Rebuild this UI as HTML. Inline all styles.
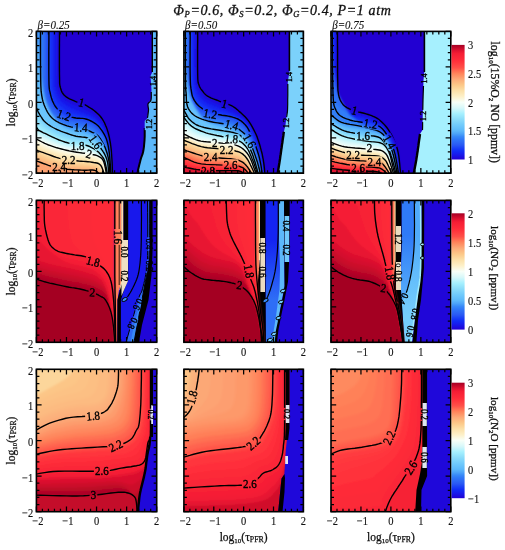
<!DOCTYPE html><html><head><meta charset="utf-8"><style>html,body{margin:0;padding:0;background:#fff;width:505px;height:550px;overflow:hidden}svg{display:block}text{font-family:"Liberation Serif",serif;fill:#111;stroke:#111;stroke-width:0.12px}</style></head><body><svg width="505" height="550" viewBox="0 0 505 550"><rect width="505" height="550" fill="#fff"/><defs><clipPath id="cp00"><rect x="36.4" y="31.4" width="120.30" height="141.80"/></clipPath><clipPath id="cp01"><rect x="183.9" y="31.4" width="119.50" height="141.80"/></clipPath><clipPath id="cp02"><rect x="331.0" y="31.4" width="119.80" height="141.80"/></clipPath><clipPath id="cp10"><rect x="36.4" y="200.4" width="120.30" height="141.90"/></clipPath><clipPath id="cp11"><rect x="183.9" y="200.4" width="119.50" height="141.90"/></clipPath><clipPath id="cp12"><rect x="331.0" y="200.4" width="119.80" height="141.90"/></clipPath><clipPath id="cp20"><rect x="36.4" y="369.3" width="120.30" height="142.40"/></clipPath><clipPath id="cp21"><rect x="183.9" y="369.3" width="119.50" height="142.40"/></clipPath><clipPath id="cp22"><rect x="331.0" y="369.3" width="119.80" height="142.40"/></clipPath><linearGradient id="cbg" x1="0" y1="1" x2="0" y2="0"><stop offset="0.000" stop-color="#2200d2"/><stop offset="0.025" stop-color="#1c0fe2"/><stop offset="0.050" stop-color="#161eef"/><stop offset="0.075" stop-color="#112df6"/><stop offset="0.100" stop-color="#1b42f6"/><stop offset="0.125" stop-color="#2958f4"/><stop offset="0.150" stop-color="#2d68f5"/><stop offset="0.175" stop-color="#2f77f7"/><stop offset="0.200" stop-color="#388af8"/><stop offset="0.225" stop-color="#4ca4f9"/><stop offset="0.250" stop-color="#5cb8fa"/><stop offset="0.275" stop-color="#66c1fb"/><stop offset="0.300" stop-color="#70cafc"/><stop offset="0.325" stop-color="#7dd3fb"/><stop offset="0.350" stop-color="#8bdcfa"/><stop offset="0.375" stop-color="#98e6fc"/><stop offset="0.400" stop-color="#a6f0fe"/><stop offset="0.425" stop-color="#bff4fc"/><stop offset="0.450" stop-color="#d8f8fa"/><stop offset="0.475" stop-color="#e8fcf9"/><stop offset="0.500" stop-color="#f8fff8"/><stop offset="0.525" stop-color="#faf8e0"/><stop offset="0.550" stop-color="#fdf0c8"/><stop offset="0.575" stop-color="#fce8b8"/><stop offset="0.600" stop-color="#fce0a8"/><stop offset="0.625" stop-color="#fcd498"/><stop offset="0.650" stop-color="#fcc888"/><stop offset="0.675" stop-color="#fcb980"/><stop offset="0.700" stop-color="#fcaa78"/><stop offset="0.725" stop-color="#fd9769"/><stop offset="0.750" stop-color="#ff845b"/><stop offset="0.775" stop-color="#ff6b51"/><stop offset="0.800" stop-color="#ff5048"/><stop offset="0.825" stop-color="#ff4242"/><stop offset="0.850" stop-color="#ff343c"/><stop offset="0.875" stop-color="#fd2a39"/><stop offset="0.900" stop-color="#f92437"/><stop offset="0.925" stop-color="#f51d34"/><stop offset="0.950" stop-color="#e01330"/><stop offset="0.975" stop-color="#c4092a"/><stop offset="1.000" stop-color="#a40024"/></linearGradient><filter id="bl00" x="-5%" y="-5%" width="110%" height="110%"><feGaussianBlur stdDeviation="1.2"/></filter><filter id="bl01" x="-5%" y="-5%" width="110%" height="110%"><feGaussianBlur stdDeviation="1.2"/></filter><filter id="bl02" x="-5%" y="-5%" width="110%" height="110%"><feGaussianBlur stdDeviation="1.2"/></filter><filter id="bl10" x="-5%" y="-5%" width="110%" height="110%"><feGaussianBlur stdDeviation="1.2"/></filter><filter id="bl11" x="-5%" y="-5%" width="110%" height="110%"><feGaussianBlur stdDeviation="1.2"/></filter><filter id="bl12" x="-5%" y="-5%" width="110%" height="110%"><feGaussianBlur stdDeviation="1.2"/></filter><filter id="bl20" x="-5%" y="-5%" width="110%" height="110%"><feGaussianBlur stdDeviation="1.2"/></filter><filter id="bl21" x="-5%" y="-5%" width="110%" height="110%"><feGaussianBlur stdDeviation="1.2"/></filter><filter id="bl22" x="-5%" y="-5%" width="110%" height="110%"><feGaussianBlur stdDeviation="1.2"/></filter></defs><g clip-path="url(#cp00)"><rect x="36.4" y="31.4" width="120.30" height="141.80" fill="#2200d2"/><g filter="url(#bl00)"><path d="M59.5 25.0L59.5 30.9 59.5 39.3 59.4 49.2 59.4 59.2 59.4 68.2 59.5 75.0 59.6 79.4 59.6 82.2 59.7 84.1 59.9 85.3 60.1 86.5 60.5 87.9 61.0 89.5 61.5 91.0 62.1 92.3 62.9 93.5 63.8 94.7 64.9 95.8 66.2 96.9 67.8 97.9 69.5 98.8 71.3 99.6 73.1 100.4 74.8 101.2 76.4 101.9 78.1 102.4 79.7 102.8 81.3 103.3 83.0 103.9 84.7 104.7 86.5 105.7 88.4 106.8 90.3 108.0 92.2 109.2 94.0 110.5 95.7 111.9 97.2 113.2 98.6 114.6 100.0 116.0 101.2 117.5 102.4 119.2 103.5 121.0 104.6 123.0 105.5 125.2 106.5 127.4 107.3 129.9 108.1 132.4 108.8 135.0 109.4 137.7 109.9 140.4 110.4 143.2 110.8 146.2 111.2 149.4 111.5 153.0 111.8 157.3 112.1 162.3 112.3 167.6 112.4 172.7 112.6 177.0 112.7 180.0 28.4 181.2 28.4 23.4Z" fill="#1f07da"/><path d="M56.9 25.0L56.8 27.3 56.8 29.6 56.8 31.9 56.8 34.2 56.8 36.5 56.8 38.8 56.8 41.1 56.8 43.4 56.8 45.7 56.8 48.0 56.8 50.3 56.8 52.6 56.8 54.9 56.8 57.2 56.8 59.5 56.8 61.8 56.8 64.1 56.8 66.4 56.8 68.7 56.8 71.0 56.8 73.3 56.8 75.6 56.9 77.9 56.9 80.2 57.0 82.5 57.1 84.8 57.4 87.1 58.0 89.3 58.6 91.5 59.5 93.6 60.7 95.5 62.1 97.3 63.7 98.8 65.5 100.2 67.3 101.4 69.3 102.6 71.3 103.7 73.3 104.7 75.4 105.5 77.5 106.3 79.7 107.2 81.7 108.2 83.8 109.2 85.9 110.2 87.9 111.2 89.8 112.2 91.8 113.3 93.6 114.5 95.5 115.8 97.2 117.2 98.8 118.8 100.3 120.5 101.6 122.2 102.8 124.1 104.0 126.1 105.0 128.1 105.9 130.2 106.7 132.3 107.5 134.5 108.2 136.6 108.8 138.9 109.3 141.1 109.7 143.3 110.1 145.6 110.4 147.9 110.6 150.2 110.9 152.5 111.1 154.7 111.3 157.0 111.4 159.3 111.5 161.6 111.7 163.9 111.8 166.2 111.9 168.5 112.0 170.8 112.0 173.1 112.1 175.4 112.2 177.7 112.3 180.0 28.4 181.2 28.4 23.4Z" fill="#1916ea"/><path d="M54.2 25.0L54.2 27.3 54.2 29.7 54.2 32.0 54.2 34.3 54.2 36.6 54.2 39.0 54.2 41.3 54.1 43.6 54.1 45.9 54.1 48.3 54.1 50.6 54.1 52.9 54.1 55.2 54.1 57.6 54.1 59.9 54.1 62.2 54.1 64.6 54.1 66.9 54.1 69.2 54.1 71.5 54.2 73.9 54.2 76.2 54.2 78.5 54.3 80.8 54.3 83.2 54.4 85.5 54.7 87.8 55.3 90.1 55.9 92.3 56.7 94.5 57.7 96.5 58.9 98.4 60.3 100.2 61.8 101.8 63.5 103.3 65.3 104.7 67.2 106.0 69.2 107.1 71.2 108.2 73.3 109.2 75.4 110.1 77.5 111.0 79.7 111.8 81.8 112.6 84.0 113.5 86.1 114.2 88.1 115.0 90.2 115.8 92.2 116.8 94.1 118.0 95.9 119.4 97.6 120.8 99.2 122.4 100.6 124.1 102.0 126.0 103.2 127.9 104.3 129.9 105.3 132.0 106.2 134.1 107.0 136.3 107.8 138.4 108.4 140.7 108.9 142.9 109.3 145.2 109.7 147.5 110.0 149.8 110.3 152.1 110.5 154.5 110.7 156.8 110.9 159.1 111.0 161.4 111.2 163.7 111.3 166.1 111.4 168.4 111.5 170.7 111.6 173.0 111.7 175.4 111.8 177.7 112.0 180.0 28.4 181.2 28.4 23.4Z" fill="#1426f3"/><path d="M51.5 25.0L51.5 27.4 51.5 29.7 51.5 32.1 51.5 34.4 51.5 36.8 51.5 39.1 51.5 41.5 51.5 43.8 51.5 46.2 51.5 48.5 51.5 50.9 51.5 53.2 51.5 55.6 51.5 58.0 51.5 60.3 51.5 62.7 51.5 65.0 51.5 67.4 51.5 69.7 51.5 72.1 51.5 74.4 51.5 76.8 51.6 79.1 51.6 81.5 51.7 83.8 51.8 86.2 52.0 88.5 52.6 90.8 53.1 93.1 53.8 95.4 54.6 97.5 55.7 99.6 56.9 101.6 58.2 103.4 59.7 105.2 61.3 106.8 63.1 108.2 65.0 109.6 67.0 110.9 69.0 112.0 71.1 113.0 73.3 113.8 75.6 114.5 77.8 115.1 80.0 115.7 82.3 116.3 84.5 116.7 86.7 117.2 88.9 117.9 91.0 118.9 93.0 120.0 94.9 121.2 96.7 122.6 98.4 124.2 100.0 125.9 101.4 127.7 102.7 129.7 103.8 131.7 104.9 133.8 105.9 135.9 106.8 138.0 107.5 140.3 108.1 142.5 108.6 144.8 109.0 147.2 109.4 149.5 109.7 151.8 110.0 154.2 110.2 156.5 110.4 158.8 110.6 161.2 110.7 163.5 110.8 165.9 111.0 168.2 111.1 170.6 111.2 172.9 111.3 175.3 111.5 177.6 111.6 180.0 28.4 181.2 28.4 23.4Z" fill="#1437f7"/><path d="M48.9 25.0L48.9 31.5 48.9 40.8 48.8 51.7 48.8 62.7 48.8 72.6 48.9 80.0 49.0 84.6 49.2 87.6 49.4 89.4 49.6 90.5 49.9 91.6 50.2 93.0 50.6 94.8 51.0 96.4 51.4 97.9 51.9 99.3 52.4 100.7 53.0 102.0 53.6 103.3 54.2 104.5 54.9 105.7 55.6 106.8 56.5 107.9 57.5 109.0 58.7 110.2 60.0 111.4 61.4 112.5 62.9 113.6 64.5 114.7 66.0 115.5 67.6 116.2 69.2 116.7 70.9 117.1 72.6 117.4 74.3 117.7 76.0 118.0 77.6 118.2 79.3 118.3 80.9 118.4 82.5 118.4 84.2 118.6 85.8 119.0 87.5 119.5 89.2 120.2 90.9 121.0 92.6 121.8 94.2 122.8 95.7 123.8 97.1 124.9 98.3 126.1 99.5 127.4 100.6 128.8 101.6 130.2 102.6 131.7 103.5 133.2 104.4 134.7 105.2 136.2 105.9 137.8 106.6 139.6 107.2 141.6 107.7 143.7 108.2 145.9 108.6 148.3 109.0 150.9 109.4 153.6 109.7 156.7 110.0 160.4 110.3 164.7 110.6 169.3 110.8 173.7 111.0 177.4 111.2 180.0 28.4 181.2 28.4 23.4Z" fill="#224df5"/><path d="M46.8 25.0L46.8 27.4 46.8 29.8 46.8 32.2 46.8 34.6 46.8 37.0 46.8 39.4 46.8 41.8 46.8 44.2 46.8 46.6 46.7 49.0 46.7 51.3 46.7 53.7 46.7 56.1 46.7 58.5 46.7 60.9 46.7 63.3 46.7 65.7 46.8 68.1 46.8 70.5 46.8 72.9 46.8 75.3 46.8 77.7 46.9 80.1 46.9 82.5 47.0 84.9 47.1 87.3 47.3 89.7 47.8 92.0 48.2 94.3 48.7 96.7 49.4 99.0 50.2 101.2 51.1 103.4 52.2 105.6 53.4 107.6 54.9 109.5 56.4 111.3 58.1 113.0 60.0 114.5 61.9 115.9 64.0 117.0 66.2 117.9 68.5 118.6 70.8 119.2 73.1 119.7 75.5 120.1 77.9 120.3 80.2 120.6 82.6 121.1 84.9 121.7 87.1 122.4 89.4 123.3 91.5 124.3 93.5 125.5 95.4 126.9 97.2 128.5 98.8 130.1 100.4 131.9 101.9 133.7 103.2 135.7 104.3 137.8 105.3 139.9 106.1 142.2 106.8 144.4 107.5 146.7 108.0 149.1 108.4 151.4 108.8 153.8 109.2 156.1 109.5 158.5 109.8 160.9 110.0 163.3 110.1 165.7 110.3 168.0 110.4 170.4 110.6 172.8 110.7 175.2 110.8 177.6 111.0 180.0 28.4 181.2 28.4 23.4Z" fill="#2c60f4"/><path d="M44.7 25.0L44.7 27.4 44.7 29.8 44.7 32.2 44.7 34.6 44.7 37.0 44.7 39.5 44.7 41.9 44.7 44.3 44.7 46.7 44.7 49.1 44.7 51.5 44.7 53.9 44.7 56.3 44.7 58.7 44.7 61.1 44.7 63.5 44.7 66.0 44.7 68.4 44.7 70.8 44.7 73.2 44.7 75.6 44.8 78.0 44.8 80.4 44.9 82.8 44.9 85.2 45.1 87.6 45.2 90.0 45.6 92.4 46.1 94.8 46.6 97.1 47.2 99.5 47.9 101.7 48.8 104.0 49.9 106.1 51.0 108.2 52.3 110.2 53.8 112.1 55.4 113.9 57.2 115.5 59.1 117.0 61.1 118.2 63.3 119.2 65.5 120.1 67.8 120.8 70.1 121.4 72.5 121.9 74.8 122.3 77.2 122.7 79.6 123.2 81.9 123.7 84.2 124.3 86.5 124.9 88.7 125.8 90.9 126.8 92.9 128.0 94.8 129.4 96.6 130.9 98.4 132.4 100.1 134.0 101.6 135.9 102.9 137.9 103.9 140.0 104.9 142.2 105.8 144.4 106.5 146.7 107.2 149.0 107.7 151.3 108.3 153.7 108.7 156.0 109.1 158.4 109.4 160.8 109.7 163.2 109.9 165.6 110.1 168.0 110.2 170.4 110.3 172.8 110.4 175.2 110.6 177.6 110.7 180.0 28.4 181.2 28.4 23.4Z" fill="#2e6ff6"/><path d="M42.6 25.0L42.6 27.4 42.6 29.8 42.6 32.3 42.6 34.7 42.6 37.1 42.6 39.5 42.6 42.0 42.6 44.4 42.6 46.8 42.6 49.2 42.6 51.7 42.6 54.1 42.6 56.5 42.6 58.9 42.6 61.3 42.6 63.8 42.6 66.2 42.6 68.6 42.7 71.0 42.7 73.5 42.7 75.9 42.7 78.3 42.8 80.7 42.8 83.1 42.9 85.6 43.0 88.0 43.2 90.4 43.5 92.8 43.9 95.2 44.4 97.6 44.9 99.9 45.7 102.2 46.5 104.5 47.5 106.7 48.6 108.9 49.8 110.9 51.2 112.9 52.7 114.8 54.4 116.5 56.3 118.1 58.3 119.4 60.4 120.5 62.6 121.5 64.8 122.4 67.1 123.1 69.5 123.8 71.8 124.3 74.2 124.8 76.5 125.3 78.9 125.7 81.3 126.1 83.6 126.6 85.9 127.3 88.2 128.1 90.3 129.2 92.4 130.3 94.4 131.6 96.4 132.9 98.3 134.4 100.0 136.0 101.4 138.0 102.6 140.1 103.6 142.2 104.7 144.4 105.6 146.6 106.4 148.9 107.1 151.2 107.7 153.6 108.3 155.9 108.8 158.3 109.1 160.7 109.4 163.1 109.6 165.5 109.8 167.9 110.0 170.3 110.1 172.7 110.2 175.2 110.3 177.6 110.5 180.0 28.4 181.2 28.4 23.4Z" fill="#307ef8"/><path d="M40.5 25.0L40.5 31.4 40.5 40.7 40.5 51.4 40.5 62.4 40.6 72.4 40.7 80.0 40.8 85.1 41.0 88.7 41.1 91.2 41.4 93.2 41.6 95.0 42.0 97.0 42.4 99.2 42.9 101.2 43.5 103.0 44.1 104.7 44.8 106.4 45.5 108.0 46.3 109.7 47.1 111.3 48.0 112.8 49.0 114.3 50.0 115.7 51.1 117.0 52.3 118.2 53.5 119.2 54.8 120.2 56.2 121.1 57.7 122.0 59.3 122.8 61.1 123.6 63.0 124.4 65.0 125.1 67.0 125.8 69.0 126.4 70.9 126.9 72.7 127.3 74.5 127.5 76.2 127.7 77.9 127.9 79.5 128.0 81.0 128.3 82.4 128.6 83.7 128.9 85.0 129.3 86.2 129.7 87.5 130.1 88.8 130.7 90.3 131.3 91.8 132.1 93.4 132.9 95.0 133.7 96.4 134.6 97.7 135.6 98.8 136.6 99.7 137.8 100.5 138.9 101.2 140.2 101.9 141.4 102.6 142.6 103.3 143.8 103.9 144.9 104.4 146.0 105.0 147.2 105.5 148.5 106.0 150.0 106.5 151.6 107.1 153.3 107.6 155.1 108.1 157.1 108.6 159.2 109.0 161.6 109.3 164.5 109.6 167.9 109.8 171.5 110.0 175.0 110.1 177.9 110.2 180.0 28.4 181.2 28.4 23.4Z" fill="#4297f9"/><path d="M37.9 43.8L38.1 45.9 38.4 48.0 38.6 50.1 38.9 52.3 39.1 54.4 39.4 56.5 39.6 58.7 39.8 60.9 39.9 63.1 40.1 65.2 40.3 67.4 40.5 69.6 40.7 71.7 40.9 73.9 41.1 76.0 41.4 78.2 41.7 80.3 42.0 82.4 42.3 84.4 42.6 86.5 43.0 88.5 43.3 90.6 43.7 92.6 44.1 94.6 44.5 96.6 44.9 98.6 45.4 100.6 45.9 102.6 46.6 104.5 47.3 106.4 48.1 108.4 48.9 110.2 49.9 112.1 51.0 113.9 52.1 115.7 53.4 117.5 54.7 119.1 56.1 120.7 57.7 122.2 59.4 123.5 61.3 124.6 63.3 125.6 65.3 126.5 67.3 127.3 69.4 128.0 71.5 128.6 73.7 129.2 75.8 129.8 78.0 130.3 80.1 130.7 82.3 131.1 84.4 131.6 86.5 132.2 88.5 133.0 90.5 133.9 92.4 135.0 94.3 136.1 96.1 137.2 97.9 138.5 99.5 140.0 100.9 141.7 102.0 143.6 103.1 145.6 104.2 147.5 105.1 149.5 105.9 151.6 106.6 153.7 107.3 155.8 107.8 157.9 108.3 160.1 108.7 162.3 109.0 164.5 109.2 166.7 109.3 168.9 109.5 171.1 109.6 173.4 109.7 175.6 109.8 177.8 110.0 180.0 28.4 181.2 28.4 23.4Z" fill="#56b1fa"/><path d="M35.2 62.5L35.8 64.3 36.3 66.1 36.8 68.0 37.2 69.8 37.7 71.6 38.2 73.5 38.6 75.3 39.0 77.3 39.3 79.2 39.6 81.1 40.0 83.0 40.4 84.9 40.8 86.8 41.3 88.7 41.7 90.5 42.2 92.4 42.8 94.1 43.4 95.9 44.0 97.6 44.6 99.3 45.3 100.9 46.0 102.5 46.7 104.2 47.4 105.7 48.1 107.3 48.9 108.9 49.7 110.4 50.5 111.9 51.4 113.4 52.4 114.9 53.4 116.3 54.5 117.8 55.6 119.2 56.8 120.6 58.1 121.9 59.4 123.3 60.8 124.6 62.2 125.8 63.8 126.9 65.5 127.8 67.2 128.6 69.0 129.4 70.9 130.0 72.8 130.6 74.7 131.1 76.6 131.6 78.6 132.2 80.5 132.7 82.4 133.2 84.3 133.7 86.2 134.2 88.0 134.9 89.8 135.6 91.5 136.5 93.2 137.6 94.7 138.7 96.3 139.9 97.8 141.1 99.3 142.3 100.6 143.8 101.8 145.4 102.9 147.1 103.8 148.9 104.7 150.6 105.5 152.5 106.3 154.3 106.9 156.2 107.4 158.2 107.9 160.1 108.2 162.1 108.5 164.0 108.8 166.0 109.0 168.0 109.1 170.0 109.2 172.0 109.4 174.0 109.5 176.0 109.6 178.0 109.7 180.0 28.4 181.2 28.4 23.4Z" fill="#61bcfb"/><path d="M32.6 81.2L33.4 82.8 34.1 84.3 34.9 85.8 35.6 87.3 36.3 88.8 37.1 90.4 37.7 92.0 38.2 93.6 38.7 95.3 39.2 97.0 39.8 98.6 40.4 100.2 41.0 101.9 41.6 103.5 42.3 105.0 43.0 106.5 43.9 108.0 44.7 109.4 45.7 110.7 46.6 112.0 47.6 113.3 48.6 114.5 49.6 115.7 50.7 116.9 51.7 118.0 52.8 119.1 54.0 120.2 55.1 121.3 56.3 122.3 57.5 123.3 58.7 124.3 60.0 125.3 61.3 126.3 62.7 127.2 64.0 128.2 65.4 129.1 66.8 130.0 68.3 130.8 69.9 131.5 71.5 132.1 73.1 132.7 74.8 133.1 76.5 133.5 78.3 133.9 80.0 134.3 81.7 134.6 83.5 135.1 85.2 135.6 86.9 136.1 88.5 136.7 90.1 137.4 91.7 138.1 93.2 139.1 94.5 140.1 95.8 141.2 97.1 142.4 98.3 143.7 99.5 144.9 100.7 146.2 101.8 147.5 102.8 149.0 103.7 150.6 104.5 152.1 105.3 153.8 106.0 155.4 106.6 157.1 107.1 158.8 107.5 160.5 107.9 162.2 108.2 164.0 108.4 165.8 108.6 167.5 108.8 169.3 108.9 171.1 109.0 172.9 109.1 174.7 109.2 176.4 109.3 178.2 109.5 180.0 28.4 181.2 28.4 23.4Z" fill="#6bc5fc"/><path d="M30.0 100.0L30.7 100.9 31.8 102.2 33.0 103.7 34.3 105.2 35.5 106.7 36.4 108.0 37.0 109.0 37.4 109.9 37.7 110.7 38.0 111.5 38.4 112.4 39.0 113.4 39.7 114.6 40.6 116.0 41.5 117.5 42.5 119.0 43.6 120.5 44.9 121.8 46.3 123.0 47.8 124.2 49.5 125.4 51.2 126.5 53.0 127.5 54.9 128.5 56.9 129.5 59.1 130.4 61.3 131.3 63.5 132.1 65.6 132.8 67.5 133.5 69.1 134.1 70.5 134.6 71.7 135.0 73.0 135.4 74.4 135.8 76.0 136.2 77.9 136.5 80.2 136.8 82.5 137.1 84.8 137.3 86.9 137.7 88.8 138.1 90.3 138.6 91.7 139.2 92.9 139.8 94.0 140.4 95.0 141.2 96.0 142.0 97.0 142.9 97.9 144.0 98.7 145.1 99.5 146.2 100.2 147.4 101.0 148.5 101.7 149.6 102.5 150.6 103.1 151.6 103.8 152.7 104.4 153.8 105.0 155.0 105.6 156.2 106.1 157.4 106.6 158.7 107.0 160.1 107.4 161.7 107.8 163.6 108.1 166.1 108.4 169.1 108.7 172.3 108.9 175.5 109.1 178.1 109.2 180.0 28.4 181.2 28.4 23.4Z" fill="#77cffc"/><path d="M30.0 106.0L31.0 107.1 32.1 108.1 33.1 109.2 34.2 110.2 35.2 111.3 36.2 112.5 37.0 113.7 37.8 115.0 38.4 116.3 39.2 117.5 40.1 118.7 41.0 119.8 42.0 121.0 42.9 122.1 43.9 123.2 44.9 124.3 46.0 125.3 47.2 126.2 48.4 127.1 49.7 127.9 51.0 128.7 52.3 129.5 53.6 130.2 54.9 130.9 56.3 131.5 57.7 132.2 59.1 132.7 60.5 133.3 61.9 133.8 63.3 134.3 64.7 134.8 66.1 135.3 67.6 135.8 69.0 136.3 70.4 136.8 71.9 137.2 73.3 137.6 74.8 138.0 76.3 138.3 77.8 138.5 79.2 138.7 80.7 138.9 82.2 139.0 83.7 139.2 85.2 139.3 86.7 139.6 88.2 140.0 89.6 140.4 91.0 141.0 92.4 141.6 93.7 142.4 94.9 143.3 96.1 144.2 97.2 145.3 98.2 146.4 99.1 147.6 100.0 148.8 100.9 150.0 101.7 151.2 102.6 152.4 103.5 153.7 104.2 155.0 104.9 156.4 105.5 157.7 106.0 159.1 106.5 160.6 106.9 162.0 107.2 163.5 107.4 165.0 107.7 166.5 107.8 168.0 108.0 169.5 108.2 171.0 108.3 172.5 108.4 174.0 108.6 175.5 108.7 177.0 108.8 178.5 109.0 180.0 28.4 181.2 28.4 23.4Z" fill="#84d8fb"/><path d="M30.0 112.0L31.1 112.9 32.2 113.8 33.3 114.7 34.4 115.7 35.4 116.6 36.4 117.6 37.2 118.8 38.0 120.0 38.9 121.1 39.8 122.2 40.8 123.1 41.8 124.1 42.8 125.1 43.8 126.0 44.9 126.9 46.0 127.8 47.1 128.7 48.3 129.5 49.5 130.3 50.8 131.0 52.0 131.7 53.3 132.4 54.6 133.1 55.9 133.7 57.2 134.4 58.5 134.9 59.9 135.5 61.2 136.0 62.6 136.5 64.0 136.9 65.4 137.4 66.7 137.8 68.1 138.3 69.5 138.7 70.9 139.1 72.3 139.5 73.7 139.8 75.1 140.1 76.6 140.3 78.0 140.6 79.4 140.7 80.9 140.8 82.3 140.9 83.8 141.1 85.2 141.3 86.6 141.5 88.0 141.9 89.4 142.4 90.8 142.9 92.1 143.6 93.3 144.3 94.5 145.1 95.7 146.0 96.8 146.9 97.8 147.9 98.8 149.0 99.7 150.1 100.6 151.2 101.4 152.4 102.3 153.6 103.1 154.7 103.9 156.0 104.6 157.3 105.1 158.6 105.6 160.0 106.1 161.3 106.4 162.8 106.7 164.2 107.0 165.6 107.2 167.0 107.4 168.5 107.6 169.9 107.8 171.4 107.9 172.8 108.1 174.2 108.3 175.7 108.4 177.1 108.6 178.6 108.8 180.0 28.4 181.2 28.4 23.4Z" fill="#91e1fa"/><path d="M30.0 118.0L31.1 118.8 32.3 119.5 33.4 120.3 34.5 121.1 35.7 121.9 36.7 122.8 37.5 124.0 38.3 125.1 39.3 126.0 40.3 126.8 41.4 127.6 42.5 128.4 43.6 129.1 44.8 129.9 45.9 130.6 47.0 131.4 48.2 132.1 49.4 132.8 50.6 133.5 51.8 134.1 53.1 134.8 54.3 135.4 55.6 136.0 56.8 136.6 58.1 137.2 59.4 137.7 60.7 138.2 62.0 138.7 63.3 139.1 64.7 139.5 66.0 140.0 67.3 140.4 68.7 140.7 70.0 141.1 71.4 141.4 72.7 141.7 74.1 142.0 75.5 142.2 76.8 142.4 78.2 142.6 79.6 142.7 81.0 142.8 82.4 142.9 83.8 143.0 85.2 143.2 86.5 143.5 87.9 143.9 89.2 144.3 90.5 144.9 91.7 145.5 92.9 146.2 94.1 146.9 95.3 147.7 96.4 148.5 97.4 149.4 98.4 150.4 99.4 151.4 100.3 152.5 101.1 153.6 102.0 154.7 102.8 155.8 103.6 157.0 104.2 158.2 104.8 159.5 105.3 160.8 105.6 162.1 106.0 163.5 106.3 164.8 106.5 166.2 106.8 167.6 107.0 169.0 107.2 170.3 107.4 171.7 107.6 173.1 107.8 174.5 108.0 175.9 108.1 177.2 108.3 178.6 108.5 180.0 28.4 181.2 28.4 23.4Z" fill="#9febfd"/><path d="M30.0 124.0L30.7 124.4 31.8 124.9 33.0 125.6 34.3 126.2 35.5 126.9 36.4 127.5 37.0 128.0 37.4 128.5 37.6 128.9 37.9 129.4 38.3 129.9 39.0 130.4 39.9 131.0 41.0 131.5 42.2 132.1 43.5 132.8 45.0 133.4 46.6 134.2 48.4 135.1 50.5 136.1 52.6 137.1 54.9 138.2 57.1 139.1 59.1 140.0 61.0 140.7 63.0 141.4 64.8 142.0 66.6 142.5 68.4 143.0 70.0 143.4 71.5 143.7 72.9 144.0 74.1 144.2 75.4 144.3 76.7 144.4 78.0 144.6 79.4 144.7 80.9 144.8 82.3 144.8 83.8 144.9 85.3 145.1 86.8 145.5 88.3 146.0 89.9 146.7 91.5 147.5 93.0 148.3 94.4 149.2 95.7 150.0 96.8 150.8 97.8 151.6 98.7 152.3 99.5 153.2 100.2 154.0 101.0 155.0 101.8 155.9 102.5 156.8 103.1 157.7 103.8 158.8 104.4 160.2 105.0 162.0 105.6 164.6 106.3 167.9 106.9 171.4 107.5 174.9 107.9 177.9 108.3 180.0 28.4 181.2 28.4 23.4Z" fill="#b2f2fd"/><path d="M30.0 127.0L31.2 127.6 32.3 128.2 33.5 128.8 34.7 129.4 35.8 130.0 36.9 130.8 37.7 131.7 38.7 132.6 39.8 133.3 40.9 134.0 42.1 134.6 43.3 135.1 44.5 135.7 45.7 136.3 46.9 136.8 48.1 137.4 49.2 137.9 50.4 138.5 51.6 139.0 52.8 139.5 54.0 140.1 55.2 140.6 56.5 141.1 57.7 141.6 58.9 142.0 60.1 142.5 61.4 142.9 62.6 143.3 63.9 143.7 65.2 144.1 66.4 144.4 67.7 144.7 69.0 145.1 70.3 145.4 71.5 145.6 72.8 145.9 74.1 146.1 75.4 146.2 76.7 146.4 78.0 146.5 79.4 146.7 80.7 146.7 82.0 146.8 83.3 146.9 84.6 147.1 85.9 147.4 87.1 147.7 88.4 148.1 89.6 148.6 90.8 149.1 92.0 149.6 93.2 150.1 94.3 150.7 95.5 151.3 96.6 152.0 97.7 152.7 98.7 153.5 99.6 154.4 100.6 155.3 101.4 156.3 102.3 157.3 103.1 158.3 103.7 159.5 104.2 160.7 104.7 161.9 105.0 163.2 105.3 164.5 105.6 165.7 105.9 167.0 106.1 168.3 106.3 169.6 106.6 170.9 106.8 172.2 107.0 173.5 107.2 174.8 107.4 176.1 107.6 177.4 107.8 178.7 108.0 180.0 28.4 181.2 28.4 23.4Z" fill="#ccf6fb"/><path d="M30.0 130.0L31.2 130.6 32.3 131.1 33.5 131.7 34.6 132.3 35.8 132.9 36.9 133.6 37.8 134.4 38.8 135.2 39.9 135.9 41.0 136.5 42.2 137.1 43.3 137.7 44.5 138.2 45.6 138.8 46.8 139.3 48.0 139.8 49.2 140.3 50.4 140.8 51.6 141.3 52.8 141.8 54.0 142.3 55.2 142.8 56.4 143.2 57.6 143.7 58.8 144.1 60.0 144.5 61.2 144.9 62.5 145.3 63.7 145.6 65.0 146.0 66.2 146.3 67.5 146.6 68.7 146.9 70.0 147.2 71.2 147.5 72.5 147.7 73.8 147.9 75.1 148.1 76.3 148.3 77.6 148.4 78.9 148.6 80.2 148.7 81.5 148.8 82.8 148.9 84.0 149.1 85.3 149.3 86.6 149.6 87.8 149.9 89.0 150.3 90.2 150.7 91.5 151.1 92.6 151.5 93.8 152.0 95.0 152.5 96.1 153.0 97.3 153.6 98.3 154.3 99.3 155.1 100.3 155.9 101.2 156.8 102.1 157.7 102.9 158.7 103.5 159.8 104.1 161.0 104.5 162.2 104.8 163.5 105.1 164.7 105.4 166.0 105.7 167.3 105.9 168.5 106.1 169.8 106.4 171.1 106.6 172.3 106.8 173.6 107.0 174.9 107.2 176.2 107.4 177.5 107.6 178.7 107.8 180.0 28.4 181.2 28.4 23.4Z" fill="#e0fafa"/><path d="M30.0 133.0L31.1 133.5 32.3 134.1 33.4 134.6 34.6 135.2 35.7 135.8 36.8 136.4 37.8 137.1 38.9 137.8 40.0 138.4 41.1 139.0 42.2 139.6 43.3 140.2 44.5 140.7 45.6 141.3 46.8 141.8 48.0 142.3 49.1 142.8 50.3 143.2 51.5 143.7 52.7 144.1 53.9 144.6 55.1 145.0 56.3 145.4 57.5 145.8 58.7 146.2 59.9 146.5 61.1 146.9 62.3 147.2 63.5 147.6 64.8 147.9 66.0 148.2 67.2 148.5 68.5 148.8 69.7 149.1 70.9 149.3 72.2 149.6 73.4 149.8 74.7 150.0 75.9 150.2 77.2 150.3 78.5 150.5 79.7 150.6 81.0 150.8 82.2 150.9 83.5 151.1 84.8 151.2 86.0 151.5 87.2 151.7 88.5 152.0 89.7 152.3 90.9 152.6 92.1 152.9 93.3 153.3 94.5 153.6 95.7 154.0 96.8 154.5 98.0 155.1 99.0 155.7 100.0 156.5 101.0 157.2 101.9 158.1 102.7 159.1 103.4 160.2 103.9 161.4 104.3 162.6 104.6 163.8 105.0 165.0 105.2 166.2 105.5 167.5 105.7 168.7 105.9 170.0 106.1 171.2 106.3 172.5 106.5 173.7 106.7 175.0 106.9 176.2 107.1 177.5 107.3 178.7 107.5 180.0 28.4 181.2 28.4 23.4Z" fill="#f0fdf8"/><path d="M30.0 136.0L30.7 136.3 31.5 136.7 32.6 137.2 33.7 137.7 35.0 138.3 36.4 139.0 37.9 139.8 39.4 140.6 41.1 141.5 42.9 142.5 44.7 143.4 46.6 144.2 48.5 145.0 50.5 145.7 52.6 146.4 54.7 147.1 56.9 147.8 59.1 148.4 61.4 149.0 63.9 149.6 66.3 150.2 68.9 150.8 71.4 151.3 74.0 151.8 76.7 152.2 79.5 152.6 82.3 153.0 85.1 153.3 87.6 153.6 89.9 154.0 91.8 154.4 93.6 154.7 95.1 155.0 96.4 155.4 97.7 155.9 98.9 156.5 100.0 157.2 101.0 157.8 101.8 158.6 102.6 159.5 103.3 160.8 104.0 162.5 104.7 165.0 105.4 168.1 106.0 171.6 106.5 175.0 107.0 178.0 107.3 180.0 28.4 181.2 28.4 23.4Z" fill="#f9fbec"/><path d="M30.0 138.8L31.1 139.3 32.2 139.8 33.3 140.3 34.4 140.8 35.5 141.3 36.6 141.9 37.7 142.4 38.8 142.9 39.9 143.5 41.0 144.0 42.0 144.6 43.1 145.1 44.2 145.6 45.4 146.1 46.5 146.6 47.6 147.0 48.8 147.4 49.9 147.9 51.0 148.3 52.2 148.7 53.3 149.1 54.5 149.4 55.7 149.8 56.8 150.2 58.0 150.5 59.2 150.9 60.3 151.2 61.5 151.5 62.7 151.8 63.9 152.1 65.1 152.4 66.2 152.6 67.4 152.9 68.6 153.1 69.8 153.3 71.0 153.5 72.2 153.8 73.4 153.9 74.6 154.1 75.8 154.3 77.0 154.5 78.2 154.6 79.5 154.7 80.7 154.9 81.9 155.0 83.1 155.2 84.3 155.3 85.5 155.4 86.7 155.6 87.9 155.8 89.1 155.9 90.3 156.1 91.5 156.3 92.7 156.5 93.9 156.8 95.1 157.1 96.2 157.4 97.3 157.9 98.4 158.4 99.5 159.0 100.5 159.6 101.3 160.4 102.1 161.4 102.7 162.4 103.2 163.4 103.6 164.6 104.0 165.7 104.3 166.9 104.6 168.1 104.9 169.3 105.1 170.4 105.4 171.6 105.6 172.8 105.8 174.0 106.0 175.2 106.3 176.4 106.5 177.6 106.7 178.8 106.9 180.0 28.4 181.2 28.4 23.4Z" fill="#fcf4d4"/><path d="M30.0 141.5L31.1 142.0 32.1 142.5 33.2 143.0 34.3 143.5 35.4 144.0 36.5 144.5 37.5 145.0 38.6 145.5 39.7 146.0 40.8 146.5 41.8 147.0 42.9 147.5 44.0 148.0 45.1 148.4 46.2 148.9 47.3 149.3 48.4 149.7 49.6 150.1 50.7 150.5 51.8 150.9 52.9 151.3 54.0 151.7 55.2 152.1 56.3 152.5 57.4 152.8 58.6 153.2 59.7 153.5 60.9 153.8 62.0 154.1 63.2 154.4 64.3 154.6 65.5 154.9 66.7 155.1 67.8 155.3 69.0 155.5 70.2 155.7 71.3 155.9 72.5 156.0 73.7 156.2 74.9 156.4 76.1 156.5 77.2 156.6 78.4 156.8 79.6 156.9 80.8 157.0 82.0 157.1 83.2 157.3 84.3 157.4 85.5 157.5 86.7 157.7 87.9 157.8 89.1 157.9 90.2 158.1 91.4 158.3 92.6 158.5 93.7 158.7 94.9 159.0 96.0 159.4 97.1 159.8 98.2 160.2 99.2 160.7 100.1 161.4 101.0 162.2 101.7 163.0 102.3 164.0 102.8 165.1 103.2 166.2 103.6 167.3 103.9 168.4 104.2 169.6 104.5 170.7 104.8 171.9 105.1 173.0 105.3 174.2 105.6 175.4 105.8 176.5 106.0 177.7 106.3 178.8 106.5 180.0 28.4 181.2 28.4 23.4Z" fill="#fdecc0"/><path d="M30.0 144.2L31.0 144.8 32.1 145.3 33.1 145.8 34.2 146.3 35.2 146.7 36.3 147.2 37.4 147.7 38.4 148.1 39.5 148.6 40.6 149.0 41.6 149.5 42.7 149.9 43.8 150.3 44.9 150.8 46.0 151.2 47.0 151.6 48.1 152.0 49.2 152.4 50.3 152.8 51.4 153.2 52.5 153.6 53.6 154.0 54.7 154.4 55.8 154.7 56.9 155.1 58.0 155.4 59.1 155.8 60.2 156.1 61.3 156.4 62.5 156.7 63.6 156.9 64.7 157.1 65.9 157.3 67.0 157.5 68.2 157.7 69.3 157.8 70.5 158.0 71.6 158.1 72.8 158.3 73.9 158.4 75.1 158.5 76.2 158.6 77.4 158.8 78.5 158.9 79.7 159.0 80.9 159.1 82.0 159.2 83.2 159.3 84.3 159.4 85.5 159.5 86.6 159.6 87.8 159.8 88.9 159.9 90.1 160.0 91.2 160.2 92.4 160.4 93.5 160.6 94.6 160.9 95.7 161.2 96.8 161.5 97.9 161.9 98.9 162.3 99.8 163.0 100.7 163.7 101.4 164.6 102.0 165.6 102.5 166.6 102.9 167.7 103.3 168.8 103.6 169.9 103.9 171.0 104.2 172.1 104.5 173.2 104.8 174.4 105.1 175.5 105.3 176.6 105.6 177.8 105.9 178.9 106.2 180.0 28.4 181.2 28.4 23.4Z" fill="#fce4b0"/><path d="M30.0 147.0L30.7 147.3 31.5 147.7 32.6 148.3 33.7 148.8 35.0 149.4 36.4 150.0 37.8 150.6 39.3 151.2 41.0 151.8 42.7 152.4 44.6 153.1 46.6 153.8 48.8 154.6 51.2 155.5 53.7 156.5 56.3 157.4 58.9 158.2 61.6 158.9 64.4 159.4 67.3 159.9 70.2 160.2 73.1 160.5 76.0 160.7 78.6 161.0 81.1 161.2 83.5 161.4 85.8 161.5 87.9 161.7 90.0 161.9 91.9 162.2 93.7 162.5 95.3 162.7 96.9 163.0 98.3 163.5 99.6 164.3 100.8 165.5 101.9 167.4 102.9 170.0 103.9 173.0 104.6 175.8 105.3 178.3 105.8 180.0 28.4 181.2 28.4 23.4Z" fill="#fcdaa0"/><path d="M30.0 150.0L31.0 150.4 32.0 150.9 33.0 151.3 34.0 151.8 35.0 152.2 36.0 152.6 37.1 153.0 38.1 153.4 39.1 153.8 40.2 154.2 41.2 154.6 42.2 154.9 43.3 155.3 44.3 155.7 45.3 156.1 46.4 156.4 47.4 156.8 48.4 157.2 49.5 157.6 50.5 157.9 51.5 158.3 52.6 158.7 53.6 159.1 54.6 159.4 55.7 159.8 56.7 160.1 57.8 160.4 58.8 160.7 59.9 161.0 61.0 161.3 62.1 161.5 63.1 161.7 64.2 161.8 65.3 162.0 66.4 162.2 67.5 162.3 68.6 162.4 69.7 162.5 70.8 162.6 71.9 162.7 73.0 162.8 74.1 162.9 75.2 163.0 76.3 163.1 77.4 163.2 78.5 163.3 79.5 163.4 80.6 163.4 81.7 163.5 82.8 163.6 83.9 163.6 85.0 163.7 86.1 163.8 87.2 163.9 88.3 164.0 89.4 164.1 90.5 164.2 91.6 164.4 92.7 164.5 93.8 164.6 94.9 164.7 95.9 165.0 96.9 165.3 97.9 165.8 98.8 166.4 99.5 167.1 100.2 168.0 100.7 168.9 101.2 169.8 101.7 170.8 102.1 171.8 102.5 172.8 102.9 173.8 103.3 174.8 103.6 175.9 104.0 176.9 104.3 177.9 104.7 179.0 105.0 180.0 28.4 181.2 28.4 23.4Z" fill="#fcce90"/><path d="M30.0 153.0L31.0 153.4 32.0 153.8 33.0 154.2 34.0 154.6 35.0 155.0 35.9 155.3 36.9 155.7 37.9 156.1 38.9 156.5 40.0 156.8 41.0 157.2 42.0 157.6 43.0 157.9 44.0 158.3 45.0 158.6 46.0 159.0 47.0 159.4 48.0 159.7 49.0 160.1 50.0 160.4 51.0 160.8 52.0 161.2 53.0 161.5 54.0 161.8 55.0 162.2 56.1 162.5 57.1 162.8 58.1 163.1 59.2 163.3 60.2 163.6 61.2 163.8 62.3 164.0 63.3 164.2 64.4 164.3 65.5 164.4 66.5 164.6 67.6 164.7 68.6 164.8 69.7 164.9 70.8 164.9 71.8 165.0 72.9 165.1 74.0 165.2 75.0 165.3 76.1 165.4 77.2 165.4 78.2 165.5 79.3 165.6 80.4 165.6 81.4 165.7 82.5 165.8 83.6 165.8 84.6 165.9 85.7 165.9 86.7 166.0 87.8 166.1 88.9 166.2 89.9 166.3 91.0 166.4 92.0 166.4 93.1 166.5 94.1 166.6 95.2 166.9 96.1 167.2 97.0 167.6 97.8 168.2 98.6 168.9 99.3 169.6 99.9 170.4 100.4 171.3 100.9 172.3 101.4 173.2 101.8 174.1 102.3 175.1 102.7 176.1 103.1 177.1 103.5 178.1 103.9 179.0 104.3 180.0 28.4 181.2 28.4 23.4Z" fill="#fcc084"/><path d="M30.0 156.0L31.0 156.3 31.9 156.7 32.9 157.0 33.9 157.4 34.9 157.7 35.8 158.1 36.8 158.4 37.8 158.8 38.8 159.1 39.7 159.5 40.7 159.8 41.7 160.2 42.7 160.5 43.6 160.9 44.6 161.2 45.6 161.6 46.6 161.9 47.5 162.2 48.5 162.6 49.5 162.9 50.5 163.3 51.4 163.6 52.4 163.9 53.4 164.2 54.4 164.6 55.4 164.9 56.4 165.2 57.4 165.4 58.4 165.7 59.4 165.9 60.4 166.1 61.4 166.3 62.5 166.5 63.5 166.6 64.5 166.7 65.5 166.8 66.6 166.9 67.6 167.0 68.6 167.1 69.7 167.2 70.7 167.3 71.7 167.3 72.8 167.4 73.8 167.5 74.8 167.5 75.9 167.6 76.9 167.7 77.9 167.7 79.0 167.8 80.0 167.8 81.0 167.9 82.1 167.9 83.1 168.0 84.1 168.0 85.2 168.1 86.2 168.2 87.2 168.2 88.3 168.2 89.3 168.2 90.3 168.2 91.3 168.3 92.4 168.3 93.4 168.4 94.4 168.6 95.3 168.9 96.2 169.3 97.1 169.8 97.8 170.4 98.5 171.1 99.2 171.9 99.7 172.7 100.3 173.6 100.8 174.5 101.3 175.4 101.7 176.3 102.2 177.2 102.6 178.2 103.1 179.1 103.5 180.0 28.4 181.2 28.4 23.4Z" fill="#fcb17c"/><path d="M30.0 159.0L30.6 159.2 31.4 159.4 32.3 159.7 33.4 160.0 34.8 160.5 36.4 161.0 38.4 161.7 40.8 162.5 43.4 163.5 46.0 164.4 48.5 165.3 50.7 166.0 52.5 166.6 54.2 167.1 55.6 167.5 57.1 167.9 58.5 168.2 60.0 168.5 61.5 168.8 63.0 169.0 64.5 169.1 66.1 169.2 67.8 169.4 69.7 169.5 71.8 169.6 74.2 169.8 76.7 169.9 79.2 170.0 81.7 170.1 84.0 170.2 86.2 170.2 88.3 170.1 90.4 170.0 92.4 170.0 94.2 170.2 95.9 170.8 97.4 171.9 98.8 173.6 100.1 175.4 101.2 177.3 102.1 178.9 102.8 180.0 28.4 181.2 28.4 23.4Z" fill="#fda272"/></g><path d="M152.3 25.0L152.3 72.0 150.5 76.0 151.5 90.0 151.0 100.0 148.0 104.0 148.5 110.0 147.5 118.0 144.7 121.0 144.7 139.0 143.3 151.0 137.3 174.0 165.0 180.0 165.0 25.0Z" fill="#5cb8fa"/><mask id="mk00" maskUnits="userSpaceOnUse" x="26.4" y="21.4" width="140.3" height="161.8"><rect x="26.4" y="21.4" width="140.3" height="161.8" fill="#fff"/><rect transform="translate(80.3 106.5) rotate(15)" x="-3.9" y="-9.5" width="7.7" height="10.3" fill="#000"/><rect transform="translate(62.5 119) rotate(20)" x="-8.0" y="-9.5" width="15.9" height="10.3" fill="#000"/><rect transform="translate(80.5 131.5) rotate(5)" x="-8.0" y="-9.5" width="15.9" height="10.3" fill="#000"/><rect transform="translate(92.2 144.3) rotate(55)" x="-8.0" y="-9.5" width="15.9" height="10.3" fill="#000"/><rect transform="translate(77.5 149.5) rotate(0)" x="-8.0" y="-9.5" width="15.9" height="10.3" fill="#000"/><rect transform="translate(87.8 158) rotate(15)" x="-3.9" y="-9.5" width="7.7" height="10.3" fill="#000"/><rect transform="translate(155.5 81) rotate(-90)" x="-6.1" y="-6.9" width="12.2" height="7.5" fill="#000"/><rect transform="translate(151.5 124) rotate(-90)" x="-6.1" y="-6.9" width="12.2" height="7.5" fill="#000"/><rect transform="translate(68.5 163.8) rotate(0)" x="-8.0" y="-9.5" width="15.9" height="10.3" fill="#000"/><rect transform="translate(59 171.2) rotate(0)" x="-8.0" y="-9.5" width="15.9" height="10.3" fill="#000"/></mask><g mask="url(#mk00)"><path d="M59.5 25.0L59.5 30.9 59.5 39.3 59.4 49.2 59.4 59.2 59.4 68.2 59.5 75.0 59.6 79.4 59.6 82.2 59.7 84.1 59.9 85.3 60.1 86.5 60.5 87.9 61.0 89.5 61.5 91.0 62.1 92.3 62.9 93.5 63.8 94.7 64.9 95.8 66.2 96.9 67.8 97.9 69.5 98.8 71.3 99.6 73.1 100.4 74.8 101.2 76.4 101.9 78.1 102.4 79.7 102.8 81.3 103.3 83.0 103.9 84.7 104.7 86.5 105.7 88.4 106.8 90.3 108.0 92.2 109.2 94.0 110.5 95.7 111.9 97.2 113.2 98.6 114.6 100.0 116.0 101.2 117.5 102.4 119.2 103.5 121.0 104.6 123.0 105.5 125.2 106.5 127.4 107.3 129.9 108.1 132.4 108.8 135.0 109.4 137.7 109.9 140.4 110.4 143.2 110.8 146.2 111.2 149.4 111.5 153.0 111.8 157.3 112.1 162.3 112.3 167.6 112.4 172.7 112.6 177.0 112.7 180.0" fill="none" stroke="#000" stroke-width="1.4"/><path d="M48.9 25.0L48.9 31.5 48.9 40.8 48.8 51.7 48.8 62.7 48.8 72.6 48.9 80.0 49.0 84.6 49.2 87.6 49.4 89.4 49.6 90.5 49.9 91.6 50.2 93.0 50.6 94.8 51.0 96.4 51.4 97.9 51.9 99.3 52.4 100.7 53.0 102.0 53.6 103.3 54.2 104.5 54.9 105.7 55.6 106.8 56.5 107.9 57.5 109.0 58.7 110.2 60.0 111.4 61.4 112.5 62.9 113.6 64.5 114.7 66.0 115.5 67.6 116.2 69.2 116.7 70.9 117.1 72.6 117.4 74.3 117.7 76.0 118.0 77.6 118.2 79.3 118.3 80.9 118.4 82.5 118.4 84.2 118.6 85.8 119.0 87.5 119.5 89.2 120.2 90.9 121.0 92.6 121.8 94.2 122.8 95.7 123.8 97.1 124.9 98.3 126.1 99.5 127.4 100.6 128.8 101.6 130.2 102.6 131.7 103.5 133.2 104.4 134.7 105.2 136.2 105.9 137.8 106.6 139.6 107.2 141.6 107.7 143.7 108.2 145.9 108.6 148.3 109.0 150.9 109.4 153.6 109.7 156.7 110.0 160.4 110.3 164.7 110.6 169.3 110.8 173.7 111.0 177.4 111.2 180.0" fill="none" stroke="#000" stroke-width="1.4"/><path d="M40.5 25.0L40.5 31.4 40.5 40.7 40.5 51.4 40.5 62.4 40.6 72.4 40.7 80.0 40.8 85.1 41.0 88.7 41.1 91.2 41.4 93.2 41.6 95.0 42.0 97.0 42.4 99.2 42.9 101.2 43.5 103.0 44.1 104.7 44.8 106.4 45.5 108.0 46.3 109.7 47.1 111.3 48.0 112.8 49.0 114.3 50.0 115.7 51.1 117.0 52.3 118.2 53.5 119.2 54.8 120.2 56.2 121.1 57.7 122.0 59.3 122.8 61.1 123.6 63.0 124.4 65.0 125.1 67.0 125.8 69.0 126.4 70.9 126.9 72.7 127.3 74.5 127.5 76.2 127.7 77.9 127.9 79.5 128.0 81.0 128.3 82.4 128.6 83.7 128.9 85.0 129.3 86.2 129.7 87.5 130.1 88.8 130.7 90.3 131.3 91.8 132.1 93.4 132.9 95.0 133.7 96.4 134.6 97.7 135.6 98.8 136.6 99.7 137.8 100.5 138.9 101.2 140.2 101.9 141.4 102.6 142.6 103.3 143.8 103.9 144.9 104.4 146.0 105.0 147.2 105.5 148.5 106.0 150.0 106.5 151.6 107.1 153.3 107.6 155.1 108.1 157.1 108.6 159.2 109.0 161.6 109.3 164.5 109.6 167.9 109.8 171.5 110.0 175.0 110.1 177.9 110.2 180.0" fill="none" stroke="#000" stroke-width="1.4"/><path d="M30.0 100.0L30.7 100.9 31.8 102.2 33.0 103.7 34.3 105.2 35.5 106.7 36.4 108.0 37.0 109.0 37.4 109.9 37.7 110.7 38.0 111.5 38.4 112.4 39.0 113.4 39.7 114.6 40.6 116.0 41.5 117.5 42.5 119.0 43.6 120.5 44.9 121.8 46.3 123.0 47.8 124.2 49.5 125.4 51.2 126.5 53.0 127.5 54.9 128.5 56.9 129.5 59.1 130.4 61.3 131.3 63.5 132.1 65.6 132.8 67.5 133.5 69.1 134.1 70.5 134.6 71.7 135.0 73.0 135.4 74.4 135.8 76.0 136.2 77.9 136.5 80.2 136.8 82.5 137.1 84.8 137.3 86.9 137.7 88.8 138.1 90.3 138.6 91.7 139.2 92.9 139.8 94.0 140.4 95.0 141.2 96.0 142.0 97.0 142.9 97.9 144.0 98.7 145.1 99.5 146.2 100.2 147.4 101.0 148.5 101.7 149.6 102.5 150.6 103.1 151.6 103.8 152.7 104.4 153.8 105.0 155.0 105.6 156.2 106.1 157.4 106.6 158.7 107.0 160.1 107.4 161.7 107.8 163.6 108.1 166.1 108.4 169.1 108.7 172.3 108.9 175.5 109.1 178.1 109.2 180.0" fill="none" stroke="#000" stroke-width="1.4"/><path d="M30.0 124.0L30.7 124.4 31.8 124.9 33.0 125.6 34.3 126.2 35.5 126.9 36.4 127.5 37.0 128.0 37.4 128.5 37.6 128.9 37.9 129.4 38.3 129.9 39.0 130.4 39.9 131.0 41.0 131.5 42.2 132.1 43.5 132.8 45.0 133.4 46.6 134.2 48.4 135.1 50.5 136.1 52.6 137.1 54.9 138.2 57.1 139.1 59.1 140.0 61.0 140.7 63.0 141.4 64.8 142.0 66.6 142.5 68.4 143.0 70.0 143.4 71.5 143.7 72.9 144.0 74.1 144.2 75.4 144.3 76.7 144.4 78.0 144.6 79.4 144.7 80.9 144.8 82.3 144.8 83.8 144.9 85.3 145.1 86.8 145.5 88.3 146.0 89.9 146.7 91.5 147.5 93.0 148.3 94.4 149.2 95.7 150.0 96.8 150.8 97.8 151.6 98.7 152.3 99.5 153.2 100.2 154.0 101.0 155.0 101.8 155.9 102.5 156.8 103.1 157.7 103.8 158.8 104.4 160.2 105.0 162.0 105.6 164.6 106.3 167.9 106.9 171.4 107.5 174.9 107.9 177.9 108.3 180.0" fill="none" stroke="#000" stroke-width="1.4"/><path d="M30.0 136.0L30.7 136.3 31.5 136.7 32.6 137.2 33.7 137.7 35.0 138.3 36.4 139.0 37.9 139.8 39.4 140.6 41.1 141.5 42.9 142.5 44.7 143.4 46.6 144.2 48.5 145.0 50.5 145.7 52.6 146.4 54.7 147.1 56.9 147.8 59.1 148.4 61.4 149.0 63.9 149.6 66.3 150.2 68.9 150.8 71.4 151.3 74.0 151.8 76.7 152.2 79.5 152.6 82.3 153.0 85.1 153.3 87.6 153.6 89.9 154.0 91.8 154.4 93.6 154.7 95.1 155.0 96.4 155.4 97.7 155.9 98.9 156.5 100.0 157.2 101.0 157.8 101.8 158.6 102.6 159.5 103.3 160.8 104.0 162.5 104.7 165.0 105.4 168.1 106.0 171.6 106.5 175.0 107.0 178.0 107.3 180.0" fill="none" stroke="#000" stroke-width="1.4"/><path d="M30.0 147.0L30.7 147.3 31.5 147.7 32.6 148.3 33.7 148.8 35.0 149.4 36.4 150.0 37.8 150.6 39.3 151.2 41.0 151.8 42.7 152.4 44.6 153.1 46.6 153.8 48.8 154.6 51.2 155.5 53.7 156.5 56.3 157.4 58.9 158.2 61.6 158.9 64.4 159.4 67.3 159.9 70.2 160.2 73.1 160.5 76.0 160.7 78.6 161.0 81.1 161.2 83.5 161.4 85.8 161.5 87.9 161.7 90.0 161.9 91.9 162.2 93.7 162.5 95.3 162.7 96.9 163.0 98.3 163.5 99.6 164.3 100.8 165.5 101.9 167.4 102.9 170.0 103.9 173.0 104.6 175.8 105.3 178.3 105.8 180.0" fill="none" stroke="#000" stroke-width="1.4"/><path d="M30.0 159.0L30.6 159.2 31.4 159.4 32.3 159.7 33.4 160.0 34.8 160.5 36.4 161.0 38.4 161.7 40.8 162.5 43.4 163.5 46.0 164.4 48.5 165.3 50.7 166.0 52.5 166.6 54.2 167.1 55.6 167.5 57.1 167.9 58.5 168.2 60.0 168.5 61.5 168.8 63.0 169.0 64.5 169.1 66.1 169.2 67.8 169.4 69.7 169.5 71.8 169.6 74.2 169.8 76.7 169.9 79.2 170.0 81.7 170.1 84.0 170.2 86.2 170.2 88.3 170.1 90.4 170.0 92.4 170.0 94.2 170.2 95.9 170.8 97.4 171.9 98.8 173.6 100.1 175.4 101.2 177.3 102.1 178.9 102.8 180.0" fill="none" stroke="#000" stroke-width="1.4"/><path d="M137.3 173.5L137.7 172.0 138.1 169.8 138.7 167.3 139.3 164.7 140.0 162.1 140.5 160.0 141.0 158.3 141.5 156.8 142.0 155.5 142.5 154.2 142.9 152.7 143.3 151.1 143.6 149.2 143.9 147.1 144.1 144.9 144.3 142.7 144.5 140.5 144.6 138.5 144.7 136.5 144.7 134.5 144.7 132.5 144.7 130.6 144.7 129.1 144.7 128.0" fill="none" stroke="#000" stroke-width="2.0" stroke-linejoin="round"/><path d="M152.3 25.0L152.3 72.0" fill="none" stroke="#000" stroke-width="1.4" stroke-linejoin="round"/><path d="M151.2 92.0L151.2 92.9 151.3 94.2 151.3 95.8 151.3 97.3 151.2 98.8 151.0 100.0 150.6 100.9 150.1 101.6 149.5 102.1 148.8 102.7 148.3 103.3 148.0 104.0 147.9 104.9 148.0 105.8 148.1 106.8 148.3 107.8 148.5 108.9 148.5 110.0 148.4 111.3 148.2 112.8 148.0 114.4 147.8 115.9 147.6 117.1 147.5 118.0" fill="none" stroke="#000" stroke-width="1.2" stroke-linejoin="round"/></g><text transform="translate(80.3 106.5) rotate(15) scale(1 1.12)" font-size="11" text-anchor="middle" style="stroke:#000;stroke-width:0.35px;fill:#000">1</text><text transform="translate(62.5 119) rotate(20) scale(1 1.12)" font-size="11" text-anchor="middle" style="stroke:#000;stroke-width:0.35px;fill:#000">1.2</text><text transform="translate(80.5 131.5) rotate(5) scale(1 1.12)" font-size="11" text-anchor="middle" style="stroke:#000;stroke-width:0.35px;fill:#000">1.4</text><text transform="translate(92.2 144.3) rotate(55) scale(1 1.12)" font-size="11" text-anchor="middle" style="stroke:#000;stroke-width:0.35px;fill:#000">1.6</text><text transform="translate(77.5 149.5) rotate(0) scale(1 1.12)" font-size="11" text-anchor="middle" style="stroke:#000;stroke-width:0.35px;fill:#000">1.8</text><text transform="translate(87.8 158) rotate(15) scale(1 1.12)" font-size="11" text-anchor="middle" style="stroke:#000;stroke-width:0.35px;fill:#000">2</text><text transform="translate(155.5 81) rotate(-90) scale(1 1.12)" font-size="8" text-anchor="middle" style="stroke:#000;stroke-width:0.35px;fill:#000">1.4</text><text transform="translate(151.5 124) rotate(-90) scale(1 1.12)" font-size="8" text-anchor="middle" style="stroke:#000;stroke-width:0.35px;fill:#000">1.2</text><text transform="translate(68.5 163.8) rotate(0) scale(1 1.12)" font-size="11" text-anchor="middle" style="stroke:#000;stroke-width:0.35px;fill:#000">2.2</text><text transform="translate(59 171.2) rotate(0) scale(1 1.12)" font-size="11" text-anchor="middle" style="stroke:#000;stroke-width:0.35px;fill:#000">2.4</text></g><path d="M36.40 173.20v-5.2M36.40 31.40v5.2M36.40 173.20h5.2M156.70 173.20h-5.2M42.41 173.20v-3.0M42.41 31.40v3.0M36.40 166.11h3.0M156.70 166.11h-3.0M48.43 173.20v-3.0M48.43 31.40v3.0M36.40 159.02h3.0M156.70 159.02h-3.0M54.45 173.20v-3.0M54.45 31.40v3.0M36.40 151.93h3.0M156.70 151.93h-3.0M60.46 173.20v-3.0M60.46 31.40v3.0M36.40 144.84h3.0M156.70 144.84h-3.0M66.47 173.20v-5.2M66.47 31.40v5.2M36.40 137.75h5.2M156.70 137.75h-5.2M72.49 173.20v-3.0M72.49 31.40v3.0M36.40 130.66h3.0M156.70 130.66h-3.0M78.50 173.20v-3.0M78.50 31.40v3.0M36.40 123.57h3.0M156.70 123.57h-3.0M84.52 173.20v-3.0M84.52 31.40v3.0M36.40 116.48h3.0M156.70 116.48h-3.0M90.53 173.20v-3.0M90.53 31.40v3.0M36.40 109.39h3.0M156.70 109.39h-3.0M96.55 173.20v-5.2M96.55 31.40v5.2M36.40 102.30h5.2M156.70 102.30h-5.2M102.56 173.20v-3.0M102.56 31.40v3.0M36.40 95.21h3.0M156.70 95.21h-3.0M108.58 173.20v-3.0M108.58 31.40v3.0M36.40 88.12h3.0M156.70 88.12h-3.0M114.59 173.20v-3.0M114.59 31.40v3.0M36.40 81.03h3.0M156.70 81.03h-3.0M120.61 173.20v-3.0M120.61 31.40v3.0M36.40 73.94h3.0M156.70 73.94h-3.0M126.62 173.20v-5.2M126.62 31.40v5.2M36.40 66.85h5.2M156.70 66.85h-5.2M132.64 173.20v-3.0M132.64 31.40v3.0M36.40 59.76h3.0M156.70 59.76h-3.0M138.66 173.20v-3.0M138.66 31.40v3.0M36.40 52.67h3.0M156.70 52.67h-3.0M144.67 173.20v-3.0M144.67 31.40v3.0M36.40 45.58h3.0M156.70 45.58h-3.0M150.69 173.20v-3.0M150.69 31.40v3.0M36.40 38.49h3.0M156.70 38.49h-3.0M156.70 173.20v-5.2M156.70 31.40v5.2M36.40 31.40h5.2M156.70 31.40h-5.2" stroke="#000" stroke-width="1.25" fill="none"/><rect x="36.4" y="31.4" width="120.30" height="141.80" fill="none" stroke="#000" stroke-width="1.6"/><text transform="translate(37.80 186.90) scale(1 1.15)" font-size="10.5" text-anchor="middle">−2</text><text transform="translate(67.88 186.90) scale(1 1.15)" font-size="10.5" text-anchor="middle">−1</text><text transform="translate(96.55 186.90) scale(1 1.15)" font-size="10.5" text-anchor="middle">0</text><text transform="translate(126.62 186.90) scale(1 1.15)" font-size="10.5" text-anchor="middle">1</text><text transform="translate(156.70 186.90) scale(1 1.15)" font-size="10.5" text-anchor="middle">2</text><text transform="translate(33.20 178.70) scale(1 1.15)" font-size="10.5" text-anchor="end">−2</text><text transform="translate(33.20 143.25) scale(1 1.15)" font-size="10.5" text-anchor="end">−1</text><text transform="translate(33.20 107.80) scale(1 1.15)" font-size="10.5" text-anchor="end">0</text><text transform="translate(33.20 72.35) scale(1 1.15)" font-size="10.5" text-anchor="end">1</text><text transform="translate(33.20 36.90) scale(1 1.15)" font-size="10.5" text-anchor="end">2</text><text transform="translate(14.5 102.3) rotate(-90)" font-size="11.5" text-anchor="middle" style="stroke-width:0.25px">log<tspan font-size="7" dy="2">10</tspan><tspan dy="-2">(τ</tspan><tspan font-size="7.8" dy="1.8">PSR</tspan><tspan dy="-1.8">)</tspan></text><g clip-path="url(#cp01)"><rect x="183.9" y="31.4" width="119.50" height="141.80" fill="#2200d2"/><g filter="url(#bl01)"><path d="M197.7 25.0L197.7 30.9 197.7 39.4 197.6 49.4 197.6 59.4 197.6 68.4 197.7 75.0 197.8 79.0 198.0 81.5 198.2 82.8 198.4 83.5 198.7 84.1 199.0 85.0 199.4 86.2 199.8 87.2 200.3 88.0 200.8 88.8 201.4 89.6 202.1 90.5 202.8 91.4 203.5 92.4 204.3 93.4 205.2 94.3 206.3 95.2 207.5 96.1 209.0 96.9 210.8 97.8 212.7 98.6 214.7 99.3 216.5 100.0 218.2 100.7 219.7 101.3 221.0 101.8 222.3 102.2 223.6 102.6 224.8 103.0 226.0 103.5 227.2 104.0 228.4 104.4 229.6 104.9 230.8 105.4 231.9 105.9 233.0 106.5 234.0 107.2 235.0 107.8 236.0 108.6 236.9 109.4 238.0 110.3 239.2 111.4 240.6 112.6 242.1 114.0 243.7 115.5 245.3 117.0 246.8 118.8 248.3 120.6 249.7 122.6 251.1 124.8 252.4 127.2 253.7 129.6 254.9 132.0 256.0 134.3 257.0 136.6 257.8 138.9 258.6 141.2 259.3 143.5 260.0 145.8 260.6 148.1 261.2 150.4 261.8 152.5 262.3 154.7 262.7 157.0 263.2 159.4 263.6 161.9 264.0 164.9 264.4 168.3 264.7 171.8 265.0 175.1 265.3 178.0 265.5 180.0 175.9 181.2 175.9 23.4Z" fill="#1f07da"/><path d="M195.8 25.0L195.8 27.4 195.8 29.7 195.8 32.1 195.8 34.5 195.8 36.9 195.8 39.2 195.8 41.6 195.8 44.0 195.8 46.3 195.8 48.7 195.7 51.1 195.7 53.5 195.7 55.8 195.7 58.2 195.7 60.6 195.7 62.9 195.7 65.3 195.8 67.7 195.8 70.1 195.8 72.4 195.8 74.8 195.9 77.2 196.0 79.5 196.1 81.9 196.5 84.2 197.2 86.5 198.0 88.7 199.1 90.7 200.3 92.7 201.7 94.6 203.2 96.4 205.0 97.9 206.9 99.2 209.0 100.3 211.1 101.3 213.2 102.3 215.4 103.2 217.6 104.1 219.8 104.9 222.1 105.7 224.3 106.5 226.5 107.3 228.7 108.2 230.9 109.2 232.9 110.3 234.8 111.5 236.7 112.8 238.6 114.1 240.5 115.5 242.4 116.9 244.1 118.4 245.8 120.0 247.3 121.8 248.8 123.7 250.1 125.6 251.3 127.6 252.5 129.7 253.6 131.8 254.6 134.0 255.5 136.1 256.4 138.3 257.2 140.6 257.9 142.8 258.6 145.1 259.3 147.3 260.0 149.6 260.6 151.9 261.2 154.2 261.7 156.5 262.2 158.8 262.6 161.2 263.0 163.5 263.3 165.9 263.6 168.2 263.9 170.6 264.1 172.9 264.4 175.3 264.6 177.6 264.9 180.0 175.9 181.2 175.9 23.4Z" fill="#1916ea"/><path d="M193.9 25.0L193.9 27.4 193.9 29.8 193.9 32.2 193.9 34.6 193.9 37.0 193.9 39.4 193.9 41.8 193.9 44.2 193.9 46.6 193.9 48.9 193.9 51.3 193.9 53.7 193.9 56.1 193.9 58.5 193.9 60.9 193.9 63.3 193.9 65.7 193.9 68.1 193.9 70.5 193.9 72.9 194.0 75.3 194.0 77.7 194.1 80.1 194.2 82.5 194.5 84.8 195.1 87.1 195.8 89.4 196.7 91.6 197.7 93.7 198.8 95.7 200.2 97.6 201.8 99.3 203.6 100.8 205.6 102.2 207.6 103.4 209.7 104.5 211.9 105.5 214.1 106.4 216.3 107.3 218.5 108.1 220.8 108.9 223.1 109.6 225.4 110.3 227.6 111.1 229.7 112.0 231.8 112.9 233.9 113.9 236.0 115.0 238.0 116.1 240.0 117.3 241.9 118.6 243.8 120.1 245.5 121.7 247.0 123.5 248.5 125.3 249.8 127.3 251.0 129.4 252.1 131.5 253.2 133.7 254.1 135.9 255.0 138.1 255.9 140.3 256.7 142.6 257.5 144.8 258.2 147.1 258.9 149.4 259.6 151.7 260.2 154.0 260.8 156.3 261.3 158.7 261.8 161.0 262.2 163.4 262.5 165.7 262.9 168.1 263.2 170.5 263.4 172.9 263.7 175.2 264.0 177.6 264.2 180.0 175.9 181.2 175.9 23.4Z" fill="#1426f3"/><path d="M192.1 25.0L192.1 27.4 192.1 29.8 192.1 32.3 192.1 34.7 192.0 37.1 192.0 39.5 192.0 41.9 192.0 44.3 192.0 46.8 192.0 49.2 192.0 51.6 192.0 54.0 192.0 56.4 192.0 58.9 192.0 61.3 192.0 63.7 192.0 66.1 192.0 68.5 192.0 70.9 192.1 73.4 192.1 75.8 192.1 78.2 192.2 80.6 192.3 83.0 192.6 85.4 193.0 87.8 193.6 90.1 194.2 92.4 195.0 94.7 196.0 96.8 197.2 98.9 198.7 100.7 200.3 102.4 202.2 104.0 204.1 105.4 206.2 106.6 208.3 107.7 210.5 108.8 212.7 109.7 215.0 110.5 217.3 111.2 219.6 111.8 222.0 112.4 224.3 113.1 226.6 113.7 228.8 114.3 231.1 115.0 233.3 115.8 235.5 116.7 237.7 117.6 239.8 118.7 241.7 120.1 243.6 121.6 245.3 123.3 246.9 125.1 248.3 127.0 249.6 129.1 250.7 131.2 251.7 133.4 252.7 135.6 253.7 137.8 254.6 140.1 255.5 142.3 256.3 144.6 257.1 146.9 257.8 149.2 258.6 151.5 259.2 153.8 259.8 156.1 260.4 158.5 260.9 160.9 261.4 163.2 261.8 165.6 262.1 168.0 262.4 170.4 262.7 172.8 263.0 175.2 263.3 177.6 263.6 180.0 175.9 181.2 175.9 23.4Z" fill="#1437f7"/><path d="M190.2 25.0L190.2 30.8 190.2 39.3 190.1 49.1 190.1 59.1 190.1 68.1 190.2 75.0 190.3 79.6 190.4 82.8 190.5 85.0 190.7 86.7 190.9 88.2 191.2 90.0 191.5 91.9 191.8 93.6 192.1 95.1 192.5 96.5 193.1 97.8 193.7 99.2 194.5 100.6 195.4 101.9 196.3 103.3 197.4 104.5 198.6 105.7 199.8 106.8 201.2 107.8 202.6 108.8 204.2 109.7 205.8 110.6 207.4 111.3 209.0 112.0 210.5 112.6 212.0 113.1 213.4 113.5 214.9 113.8 216.5 114.1 218.2 114.5 220.0 114.8 222.0 115.2 224.1 115.5 226.2 115.8 228.2 116.1 230.0 116.5 231.7 116.9 233.3 117.4 234.9 117.8 236.3 118.4 237.8 119.0 239.2 119.8 240.6 120.7 241.9 121.6 243.2 122.7 244.4 123.9 245.6 125.2 246.8 126.7 247.9 128.4 249.0 130.4 250.0 132.5 251.0 134.6 252.0 136.8 252.9 138.9 253.8 140.9 254.6 143.0 255.4 145.1 256.1 147.1 256.8 149.2 257.5 151.2 258.1 153.2 258.7 155.1 259.2 157.0 259.7 159.0 260.1 161.1 260.6 163.4 261.1 166.1 261.5 169.2 262.0 172.5 262.4 175.5 262.7 178.1 263.0 180.0 175.9 181.2 175.9 23.4Z" fill="#224df5"/><path d="M189.0 25.0L189.0 27.5 189.0 29.9 189.0 32.4 189.0 34.8 189.0 37.3 189.0 39.7 189.0 42.2 189.0 44.6 189.0 47.1 189.0 49.5 189.0 52.0 189.0 54.5 189.0 56.9 189.0 59.4 189.0 61.8 189.0 64.3 189.0 66.7 189.0 69.2 189.0 71.6 189.0 74.1 189.0 76.5 189.1 79.0 189.1 81.5 189.2 83.9 189.4 86.4 189.7 88.8 190.0 91.2 190.4 93.6 190.8 96.1 191.4 98.4 192.3 100.7 193.4 102.8 194.7 104.8 196.3 106.7 198.0 108.4 199.9 109.9 202.0 111.2 204.1 112.4 206.4 113.4 208.7 114.3 211.0 115.0 213.4 115.6 215.8 116.1 218.2 116.6 220.6 117.0 223.0 117.4 225.5 117.8 227.9 118.3 230.2 118.8 232.6 119.5 234.9 120.3 237.1 121.4 239.2 122.6 241.2 124.0 243.0 125.6 244.7 127.3 246.2 129.2 247.6 131.2 248.8 133.3 250.0 135.4 251.1 137.6 252.1 139.8 253.1 142.1 254.0 144.3 254.9 146.6 255.8 148.9 256.6 151.2 257.3 153.6 258.0 155.9 258.6 158.3 259.3 160.7 259.8 163.1 260.3 165.5 260.7 167.9 261.2 170.3 261.5 172.7 261.9 175.1 262.3 177.6 262.6 180.0 175.9 181.2 175.9 23.4Z" fill="#2c60f4"/><path d="M187.8 25.0L187.8 27.5 187.8 29.9 187.8 32.4 187.8 34.9 187.8 37.3 187.8 39.8 187.8 42.3 187.8 44.7 187.8 47.2 187.8 49.7 187.8 52.1 187.8 54.6 187.8 57.1 187.8 59.5 187.8 62.0 187.8 64.5 187.8 66.9 187.8 69.4 187.8 71.9 187.8 74.3 187.9 76.8 187.9 79.3 187.9 81.7 188.0 84.2 188.1 86.7 188.4 89.1 188.7 91.6 189.0 94.0 189.3 96.5 189.8 98.9 190.4 101.2 191.3 103.4 192.4 105.6 193.8 107.6 195.4 109.4 197.2 111.0 199.2 112.5 201.4 113.7 203.6 114.8 205.9 115.7 208.2 116.5 210.6 117.1 213.0 117.7 215.4 118.2 217.8 118.7 220.2 119.1 222.7 119.4 225.1 119.9 227.5 120.4 229.9 121.0 232.2 121.7 234.5 122.6 236.7 123.7 238.8 124.9 240.8 126.3 242.7 127.9 244.3 129.6 245.9 131.5 247.3 133.4 248.6 135.5 249.9 137.6 251.0 139.8 252.0 142.0 253.0 144.3 253.9 146.6 254.8 148.9 255.6 151.2 256.4 153.6 257.1 155.9 257.8 158.3 258.5 160.7 259.1 163.0 259.6 165.4 260.1 167.9 260.6 170.3 261.0 172.7 261.4 175.1 261.8 177.6 262.2 180.0 175.9 181.2 175.9 23.4Z" fill="#2e6ff6"/><path d="M186.6 25.0L186.6 27.5 186.6 30.0 186.6 32.4 186.6 34.9 186.6 37.4 186.6 39.9 186.6 42.4 186.6 44.8 186.6 47.3 186.6 49.8 186.6 52.3 186.6 54.8 186.6 57.2 186.6 59.7 186.6 62.2 186.6 64.7 186.6 67.2 186.6 69.6 186.6 72.1 186.6 74.6 186.7 77.1 186.7 79.6 186.7 82.0 186.8 84.5 186.9 87.0 187.1 89.5 187.4 91.9 187.6 94.4 187.8 96.9 188.1 99.3 188.5 101.7 189.1 104.1 190.1 106.3 191.3 108.4 192.8 110.4 194.6 112.1 196.5 113.7 198.6 115.0 200.8 116.2 203.1 117.1 205.4 117.9 207.8 118.6 210.2 119.3 212.6 119.9 215.0 120.3 217.4 120.7 219.9 121.1 222.3 121.5 224.8 122.0 227.2 122.5 229.6 123.1 231.9 123.9 234.2 124.8 236.4 125.9 238.6 127.0 240.6 128.4 242.4 130.0 244.2 131.7 245.8 133.6 247.3 135.5 248.6 137.6 249.8 139.8 250.9 142.0 251.9 144.3 252.8 146.6 253.8 148.9 254.6 151.2 255.4 153.5 256.2 155.9 256.9 158.3 257.7 160.6 258.3 163.0 259.0 165.4 259.5 167.8 260.1 170.3 260.5 172.7 261.0 175.1 261.4 177.6 261.9 180.0 175.9 181.2 175.9 23.4Z" fill="#307ef8"/><path d="M185.4 25.0L185.4 31.5 185.4 40.8 185.4 51.7 185.4 62.7 185.5 72.6 185.5 80.0 185.6 84.6 185.6 87.4 185.7 89.1 185.8 90.2 185.9 91.4 186.1 93.1 186.2 95.4 186.3 97.8 186.4 100.2 186.6 102.5 187.0 104.8 187.6 106.8 188.4 108.6 189.5 110.3 190.6 111.9 192.0 113.4 193.5 114.7 195.2 116.0 197.2 117.1 199.4 118.2 201.8 119.1 204.2 119.9 206.7 120.6 209.0 121.3 211.2 121.8 213.5 122.3 215.7 122.6 217.9 122.9 220.0 123.2 222.0 123.5 223.9 123.9 225.6 124.3 227.3 124.6 228.9 125.0 230.5 125.5 232.0 126.0 233.5 126.5 234.9 127.1 236.2 127.7 237.5 128.4 238.7 129.1 240.0 130.0 241.2 131.0 242.5 132.0 243.7 133.1 244.9 134.3 246.0 135.6 247.0 137.0 248.0 138.5 248.9 140.1 249.7 141.8 250.5 143.5 251.2 145.2 252.0 147.0 252.7 148.8 253.4 150.6 254.1 152.5 254.8 154.4 255.4 156.2 256.0 158.0 256.6 159.7 257.1 161.3 257.6 162.9 258.1 164.6 258.5 166.2 259.0 168.0 259.5 170.0 260.0 172.3 260.4 174.6 260.9 176.8 261.2 178.7 261.5 180.0 175.9 181.2 175.9 23.4Z" fill="#4297f9"/><path d="M183.6 43.8L183.7 46.0 183.9 48.2 184.1 50.4 184.3 52.6 184.5 54.8 184.7 57.1 184.9 59.3 185.1 61.5 185.3 63.7 185.5 65.9 185.7 68.1 185.9 70.4 186.2 72.6 186.4 74.8 186.7 76.9 187.0 79.0 187.3 81.2 187.6 83.3 188.0 85.3 188.4 87.4 188.7 89.4 189.1 91.4 189.5 93.4 189.9 95.4 190.4 97.4 190.9 99.3 191.4 101.3 192.0 103.2 192.4 105.2 192.9 107.1 193.4 109.0 194.1 110.9 195.1 112.8 196.3 114.5 197.7 116.1 199.4 117.6 201.2 118.9 203.1 120.0 205.1 121.0 207.2 121.8 209.4 122.5 211.6 123.1 213.7 123.7 215.9 124.3 218.1 124.9 220.4 125.3 222.6 125.7 224.8 126.2 226.9 126.8 229.1 127.4 231.2 128.1 233.2 128.9 235.2 129.7 237.2 130.7 239.1 131.8 241.0 133.1 242.7 134.5 244.3 136.0 245.8 137.7 247.2 139.5 248.5 141.4 249.6 143.3 250.6 145.4 251.5 147.5 252.3 149.6 253.2 151.7 254.0 153.8 254.7 155.9 255.4 158.1 256.1 160.3 256.8 162.4 257.5 164.6 258.1 166.8 258.7 169.0 259.2 171.2 259.8 173.4 260.3 175.6 260.8 177.8 261.2 180.0 175.9 181.2 175.9 23.4Z" fill="#56b1fa"/><path d="M181.7 62.5L182.1 64.4 182.5 66.4 182.9 68.3 183.3 70.3 183.7 72.2 184.1 74.2 184.5 76.1 184.9 78.0 185.3 80.0 185.7 81.9 186.1 83.9 186.5 85.8 186.9 87.7 187.4 89.6 187.9 91.4 188.5 93.2 189.2 94.9 189.8 96.7 190.5 98.3 191.2 99.9 192.0 101.5 192.7 103.0 193.5 104.5 194.3 106.0 195.1 107.4 196.0 108.9 196.9 110.3 197.7 111.6 198.6 113.0 199.4 114.4 200.3 115.8 201.3 117.1 202.4 118.5 203.8 119.7 205.3 120.9 206.9 121.9 208.6 122.9 210.4 123.7 212.3 124.4 214.2 125.0 216.2 125.6 218.2 126.1 220.1 126.7 222.1 127.2 224.1 127.7 226.1 128.2 228.0 128.7 229.9 129.3 231.8 130.0 233.6 130.8 235.4 131.6 237.1 132.6 238.8 133.6 240.4 134.7 242.0 135.9 243.4 137.2 244.8 138.6 246.1 140.1 247.4 141.7 248.5 143.3 249.6 145.1 250.5 146.9 251.3 148.8 252.1 150.7 252.9 152.6 253.6 154.5 254.3 156.4 254.9 158.3 255.5 160.3 256.1 162.3 256.7 164.2 257.3 166.2 257.9 168.1 258.4 170.1 259.0 172.1 259.5 174.1 260.0 176.0 260.5 178.0 261.0 180.0 175.9 181.2 175.9 23.4Z" fill="#61bcfb"/><path d="M179.8 81.2L180.4 82.9 181.0 84.6 181.6 86.3 182.2 87.9 182.8 89.6 183.4 91.3 184.0 92.9 184.6 94.6 185.2 96.2 185.8 97.9 186.4 99.6 187.0 101.2 187.6 102.9 188.4 104.5 189.2 105.9 190.1 107.4 191.0 108.7 192.0 110.0 193.1 111.3 194.1 112.5 195.2 113.6 196.3 114.6 197.5 115.6 198.7 116.6 199.8 117.5 201.0 118.4 202.3 119.2 203.5 120.1 204.7 120.9 205.9 121.7 207.2 122.6 208.4 123.4 209.8 124.1 211.3 124.9 212.8 125.6 214.4 126.3 216.0 126.9 217.7 127.4 219.5 127.9 221.2 128.3 223.0 128.7 224.8 129.1 226.5 129.6 228.3 130.1 230.0 130.6 231.8 131.1 233.5 131.7 235.1 132.4 236.7 133.2 238.2 134.2 239.6 135.2 241.0 136.3 242.3 137.4 243.6 138.6 244.8 139.9 245.9 141.2 247.0 142.7 248.0 144.1 248.9 145.7 249.8 147.2 250.6 148.8 251.4 150.5 252.1 152.2 252.8 153.9 253.4 155.6 254.0 157.3 254.6 159.0 255.1 160.8 255.7 162.5 256.2 164.3 256.7 166.0 257.2 167.8 257.7 169.5 258.2 171.3 258.7 173.0 259.2 174.8 259.7 176.5 260.2 178.3 260.8 180.0 175.9 181.2 175.9 23.4Z" fill="#6bc5fc"/><path d="M178.0 100.0L178.7 101.3 179.7 103.0 180.9 105.1 182.1 107.3 183.4 109.5 184.5 111.4 185.5 113.1 186.4 114.7 187.3 116.3 188.2 117.8 189.3 119.3 190.6 120.6 192.0 121.8 193.5 122.9 195.1 124.0 196.9 125.0 198.9 125.9 201.3 126.7 204.2 127.5 207.6 128.2 211.2 128.9 214.8 129.5 218.2 130.0 221.2 130.5 223.7 130.9 225.9 131.2 227.8 131.5 229.6 131.8 231.3 132.1 233.0 132.5 234.6 133.0 236.0 133.4 237.4 133.9 238.6 134.5 239.8 135.2 241.0 136.0 242.1 136.9 243.2 138.0 244.2 139.2 245.2 140.4 246.1 141.7 247.0 143.0 247.8 144.4 248.6 145.8 249.4 147.3 250.1 148.9 250.8 150.4 251.5 152.0 252.2 153.6 252.8 155.3 253.4 157.0 253.9 158.7 254.5 160.4 255.0 162.0 255.5 163.6 255.9 165.1 256.3 166.6 256.7 168.0 257.1 169.5 257.5 171.0 258.0 172.6 258.6 174.3 259.2 176.1 259.7 177.7 260.2 179.0 260.5 180.0 175.9 181.2 175.9 23.4Z" fill="#77cffc"/><path d="M178.0 102.5L178.8 103.8 179.6 105.2 180.4 106.5 181.2 107.9 182.1 109.2 182.9 110.5 183.7 111.8 184.6 113.2 185.4 114.5 186.2 115.8 187.0 117.2 187.9 118.5 188.8 119.7 189.8 120.9 190.9 122.0 192.1 123.0 193.4 123.9 194.7 124.8 196.1 125.6 197.5 126.3 198.9 126.9 200.4 127.5 201.8 128.0 203.3 128.4 204.9 128.9 206.4 129.2 207.9 129.6 209.5 129.9 211.0 130.2 212.5 130.5 214.1 130.7 215.6 131.0 217.2 131.3 218.7 131.5 220.3 131.8 221.8 132.1 223.4 132.3 224.9 132.6 226.5 132.8 228.0 133.0 229.6 133.3 231.1 133.6 232.6 133.9 234.1 134.3 235.6 134.8 237.1 135.4 238.5 136.0 239.9 136.8 241.2 137.7 242.4 138.7 243.5 139.8 244.5 141.0 245.5 142.2 246.4 143.5 247.3 144.8 248.1 146.1 248.8 147.5 249.5 148.9 250.2 150.3 250.8 151.7 251.4 153.2 252.0 154.6 252.6 156.1 253.1 157.6 253.6 159.1 254.1 160.5 254.6 162.0 255.1 163.5 255.6 165.0 256.0 166.5 256.4 168.1 256.8 169.6 257.3 171.1 257.8 172.6 258.2 174.1 258.7 175.5 259.2 177.0 259.7 178.5 260.2 180.0 175.9 181.2 175.9 23.4Z" fill="#84d8fb"/><path d="M178.0 105.0L178.8 106.3 179.7 107.6 180.5 108.9 181.4 110.1 182.2 111.4 183.1 112.7 183.9 113.9 184.8 115.2 185.7 116.5 186.5 117.8 187.4 119.0 188.2 120.3 189.2 121.5 190.2 122.6 191.4 123.6 192.6 124.5 193.9 125.4 195.2 126.2 196.5 126.9 197.9 127.6 199.3 128.2 200.8 128.7 202.2 129.3 203.7 129.7 205.2 130.2 206.6 130.5 208.1 130.9 209.6 131.2 211.1 131.6 212.6 131.8 214.2 132.1 215.7 132.4 217.2 132.7 218.7 133.0 220.2 133.2 221.7 133.5 223.2 133.8 224.7 134.0 226.3 134.3 227.8 134.5 229.3 134.7 230.8 135.0 232.3 135.3 233.8 135.7 235.3 136.2 236.7 136.7 238.1 137.3 239.5 138.1 240.8 138.9 242.0 139.8 243.1 140.9 244.2 142.0 245.2 143.1 246.1 144.3 247.0 145.6 247.8 146.9 248.6 148.2 249.3 149.6 249.9 151.0 250.6 152.4 251.2 153.8 251.7 155.2 252.3 156.6 252.9 158.1 253.4 159.5 253.9 161.0 254.4 162.4 254.9 163.9 255.3 165.4 255.8 166.8 256.2 168.3 256.6 169.8 257.1 171.2 257.6 172.7 258.1 174.2 258.5 175.6 259.0 177.1 259.5 178.5 260.0 180.0 175.9 181.2 175.9 23.4Z" fill="#91e1fa"/><path d="M178.0 107.5L178.9 108.7 179.7 110.0 180.6 111.2 181.5 112.4 182.4 113.6 183.2 114.8 184.1 116.0 185.0 117.2 185.9 118.5 186.8 119.7 187.7 120.9 188.6 122.1 189.6 123.2 190.7 124.2 191.8 125.2 193.1 126.0 194.4 126.8 195.7 127.6 197.0 128.2 198.4 128.9 199.8 129.5 201.2 130.0 202.6 130.5 204.0 131.0 205.4 131.5 206.9 131.9 208.3 132.3 209.8 132.6 211.3 132.9 212.8 133.2 214.2 133.5 215.7 133.8 217.2 134.1 218.7 134.4 220.1 134.7 221.6 135.0 223.1 135.2 224.6 135.5 226.1 135.7 227.6 136.0 229.0 136.2 230.5 136.4 232.0 136.8 233.5 137.1 234.9 137.6 236.3 138.1 237.7 138.7 239.0 139.3 240.3 140.1 241.6 141.0 242.7 141.9 243.8 143.0 244.8 144.1 245.8 145.2 246.7 146.4 247.6 147.7 248.3 149.0 249.0 150.3 249.7 151.6 250.3 153.0 250.9 154.4 251.5 155.8 252.0 157.2 252.6 158.6 253.1 160.0 253.6 161.4 254.1 162.8 254.6 164.3 255.1 165.7 255.5 167.1 256.0 168.6 256.5 170.0 256.9 171.4 257.4 172.9 257.9 174.3 258.3 175.7 258.8 177.1 259.3 178.6 259.8 180.0 175.9 181.2 175.9 23.4Z" fill="#9febfd"/><path d="M178.0 110.0L178.7 110.9 179.6 112.1 180.8 113.6 182.0 115.2 183.3 116.8 184.5 118.3 185.6 119.7 186.8 121.2 187.9 122.6 189.1 124.1 190.6 125.4 192.2 126.7 194.1 127.9 196.2 129.0 198.5 130.0 200.9 131.0 203.4 131.9 205.9 132.8 208.5 133.6 211.3 134.3 214.1 134.9 216.9 135.5 219.6 136.0 222.0 136.5 224.2 136.9 226.2 137.2 228.0 137.5 229.7 137.8 231.4 138.1 233.0 138.5 234.5 139.0 236.0 139.5 237.3 140.0 238.6 140.6 239.8 141.3 241.0 142.0 242.1 142.8 243.2 143.7 244.2 144.7 245.2 145.8 246.1 146.9 247.0 148.0 247.8 149.2 248.5 150.5 249.2 151.8 249.8 153.2 250.4 154.6 251.0 156.0 251.6 157.4 252.1 158.7 252.7 160.1 253.2 161.5 253.8 163.1 254.5 165.0 255.3 167.3 256.2 170.1 257.2 173.1 258.1 175.9 258.9 178.3 259.5 180.0 175.9 181.2 175.9 23.4Z" fill="#b2f2fd"/><path d="M178.0 115.2L179.0 116.3 179.9 117.3 180.9 118.3 181.9 119.4 182.8 120.4 183.8 121.4 184.8 122.4 185.8 123.4 186.8 124.4 187.7 125.4 188.7 126.5 189.7 127.4 190.8 128.3 192.0 129.2 193.1 130.0 194.4 130.7 195.7 131.3 197.0 131.9 198.3 132.4 199.6 132.9 201.0 133.4 202.3 133.8 203.7 134.3 205.1 134.7 206.4 135.0 207.8 135.4 209.2 135.7 210.6 136.0 212.0 136.3 213.4 136.6 214.8 136.9 216.2 137.1 217.6 137.4 219.1 137.6 220.5 137.9 221.9 138.1 223.3 138.4 224.7 138.6 226.1 138.8 227.5 139.0 229.0 139.2 230.4 139.4 231.8 139.7 233.2 140.0 234.5 140.4 235.9 140.9 237.3 141.4 238.6 142.0 239.8 142.6 241.0 143.4 242.2 144.3 243.3 145.2 244.3 146.2 245.3 147.2 246.2 148.3 247.1 149.4 247.9 150.6 248.6 151.9 249.2 153.2 249.8 154.5 250.4 155.8 251.0 157.1 251.6 158.4 252.1 159.7 252.7 161.0 253.2 162.4 253.7 163.7 254.1 165.1 254.6 166.4 255.1 167.8 255.6 169.1 256.0 170.5 256.5 171.9 256.9 173.2 257.4 174.6 257.9 175.9 258.3 177.3 258.8 178.6 259.2 180.0 175.9 181.2 175.9 23.4Z" fill="#ccf6fb"/><path d="M178.0 120.5L179.0 121.4 180.1 122.3 181.1 123.2 182.1 124.0 183.2 124.9 184.2 125.8 185.3 126.6 186.3 127.5 187.4 128.4 188.4 129.3 189.4 130.1 190.5 131.0 191.6 131.8 192.8 132.5 194.0 133.2 195.2 133.8 196.5 134.4 197.8 134.9 199.1 135.3 200.4 135.7 201.8 136.1 203.1 136.4 204.4 136.7 205.8 137.0 207.1 137.3 208.5 137.6 209.9 137.9 211.2 138.1 212.6 138.3 214.0 138.6 215.3 138.8 216.7 139.0 218.1 139.2 219.5 139.4 220.8 139.6 222.2 139.8 223.6 140.0 225.0 140.2 226.3 140.4 227.7 140.6 229.1 140.8 230.5 141.0 231.9 141.3 233.2 141.6 234.6 141.9 235.9 142.3 237.2 142.8 238.5 143.3 239.7 144.0 240.9 144.7 242.0 145.5 243.1 146.4 244.2 147.3 245.1 148.3 246.0 149.3 246.9 150.4 247.7 151.6 248.4 152.8 249.1 154.0 249.7 155.2 250.3 156.5 250.9 157.8 251.4 159.0 252.0 160.3 252.5 161.6 253.0 162.9 253.4 164.2 253.9 165.6 254.4 166.9 254.8 168.2 255.3 169.5 255.8 170.8 256.2 172.1 256.7 173.4 257.2 174.7 257.6 176.1 258.1 177.4 258.5 178.7 259.0 180.0 175.9 181.2 175.9 23.4Z" fill="#e0fafa"/><path d="M178.0 125.8L179.1 126.5 180.2 127.3 181.3 128.0 182.4 128.7 183.5 129.4 184.6 130.2 185.7 130.9 186.8 131.6 187.9 132.4 189.0 133.1 190.2 133.8 191.3 134.5 192.4 135.2 193.6 135.8 194.8 136.4 196.1 136.9 197.3 137.4 198.6 137.8 199.9 138.2 201.2 138.5 202.5 138.8 203.9 139.0 205.2 139.2 206.5 139.4 207.8 139.6 209.2 139.8 210.5 140.0 211.8 140.2 213.2 140.4 214.5 140.5 215.9 140.7 217.2 140.9 218.5 141.1 219.9 141.2 221.2 141.4 222.6 141.6 223.9 141.7 225.2 141.9 226.6 142.1 227.9 142.2 229.3 142.4 230.6 142.6 231.9 142.8 233.3 143.1 234.6 143.4 235.9 143.7 237.2 144.2 238.4 144.7 239.6 145.3 240.8 146.0 241.9 146.7 243.0 147.6 244.0 148.5 244.9 149.4 245.9 150.4 246.7 151.4 247.5 152.5 248.3 153.7 248.9 154.8 249.6 156.0 250.2 157.2 250.7 158.5 251.3 159.7 251.8 160.9 252.3 162.2 252.8 163.5 253.2 164.7 253.7 166.0 254.1 167.3 254.6 168.6 255.1 169.8 255.5 171.1 256.0 172.4 256.4 173.6 256.9 174.9 257.4 176.2 257.8 177.5 258.3 178.7 258.8 180.0 175.9 181.2 175.9 23.4Z" fill="#f0fdf8"/><path d="M178.0 131.0L178.6 131.3 179.4 131.7 180.4 132.3 181.6 132.9 182.9 133.5 184.5 134.3 186.3 135.2 188.5 136.3 190.8 137.5 193.2 138.6 195.7 139.7 198.3 140.5 200.9 141.1 203.6 141.5 206.4 141.8 209.2 142.0 212.1 142.2 215.0 142.5 218.0 142.8 221.3 143.1 224.5 143.4 227.7 143.8 230.6 144.1 233.0 144.5 234.9 144.9 236.5 145.3 237.8 145.8 238.9 146.3 239.9 146.8 241.0 147.5 242.1 148.3 243.2 149.1 244.2 150.0 245.2 151.0 246.1 152.0 247.0 153.0 247.8 154.1 248.5 155.2 249.2 156.3 249.8 157.5 250.4 158.8 251.0 160.0 251.5 161.2 252.0 162.4 252.5 163.7 252.9 165.0 253.4 166.4 254.0 168.0 254.7 169.9 255.6 172.1 256.4 174.5 257.3 176.7 258.0 178.6 258.5 180.0 175.9 181.2 175.9 23.4Z" fill="#f9fbec"/><path d="M178.0 132.8L179.2 133.3 180.3 133.9 181.5 134.5 182.6 135.0 183.8 135.5 185.0 136.1 186.2 136.6 187.3 137.2 188.5 137.8 189.6 138.3 190.8 138.9 192.0 139.4 193.2 139.9 194.4 140.4 195.6 140.9 196.8 141.3 198.0 141.7 199.3 142.0 200.5 142.3 201.8 142.6 203.1 142.8 204.3 142.9 205.6 143.1 206.9 143.2 208.2 143.4 209.5 143.5 210.8 143.6 212.1 143.7 213.3 143.8 214.6 143.9 215.9 144.1 217.2 144.2 218.5 144.3 219.8 144.5 221.1 144.6 222.3 144.7 223.6 144.8 224.9 145.0 226.2 145.1 227.5 145.2 228.8 145.4 230.0 145.6 231.3 145.7 232.6 145.9 233.9 146.2 235.1 146.5 236.4 146.8 237.6 147.3 238.8 147.8 239.9 148.4 241.0 149.0 242.1 149.7 243.1 150.5 244.1 151.3 245.0 152.2 245.9 153.1 246.7 154.1 247.5 155.2 248.2 156.2 248.9 157.3 249.5 158.5 250.1 159.6 250.6 160.8 251.2 162.0 251.7 163.2 252.1 164.4 252.6 165.6 253.0 166.8 253.5 168.0 254.0 169.2 254.5 170.4 254.9 171.6 255.4 172.8 255.9 174.0 256.4 175.2 256.8 176.4 257.3 177.6 257.8 178.8 258.2 180.0 175.9 181.2 175.9 23.4Z" fill="#fcf4d4"/><path d="M178.0 134.5L179.2 135.0 180.3 135.6 181.5 136.1 182.6 136.6 183.8 137.1 185.0 137.6 186.1 138.1 187.3 138.7 188.4 139.2 189.6 139.7 190.7 140.2 191.9 140.7 193.1 141.2 194.3 141.7 195.4 142.2 196.6 142.6 197.9 143.0 199.1 143.3 200.3 143.6 201.6 143.9 202.8 144.1 204.1 144.3 205.3 144.5 206.6 144.6 207.8 144.8 209.1 144.9 210.4 145.0 211.6 145.1 212.9 145.3 214.2 145.4 215.4 145.5 216.7 145.6 218.0 145.8 219.2 145.9 220.5 146.0 221.8 146.1 223.0 146.3 224.3 146.4 225.6 146.5 226.8 146.7 228.1 146.8 229.4 147.0 230.6 147.1 231.9 147.3 233.1 147.6 234.4 147.8 235.6 148.1 236.8 148.5 238.0 148.9 239.2 149.4 240.3 150.0 241.4 150.6 242.4 151.3 243.4 152.1 244.4 152.9 245.3 153.8 246.1 154.8 246.9 155.8 247.6 156.8 248.3 157.9 249.0 159.0 249.6 160.1 250.1 161.3 250.7 162.4 251.2 163.6 251.7 164.7 252.1 165.9 252.6 167.1 253.1 168.3 253.6 169.4 254.1 170.6 254.6 171.8 255.1 173.0 255.6 174.1 256.0 175.3 256.5 176.5 257.0 177.7 257.5 178.8 258.0 180.0 175.9 181.2 175.9 23.4Z" fill="#fdecc0"/><path d="M178.0 136.2L179.1 136.7 180.3 137.2 181.5 137.7 182.6 138.2 183.8 138.7 184.9 139.1 186.1 139.6 187.2 140.1 188.4 140.6 189.5 141.1 190.7 141.6 191.8 142.1 193.0 142.5 194.2 143.0 195.3 143.5 196.5 143.9 197.7 144.2 198.9 144.6 200.1 144.9 201.3 145.2 202.6 145.5 203.8 145.7 205.0 145.9 206.3 146.0 207.5 146.2 208.7 146.3 210.0 146.5 211.2 146.6 212.5 146.7 213.7 146.8 215.0 146.9 216.2 147.1 217.5 147.2 218.7 147.3 220.0 147.4 221.2 147.6 222.5 147.7 223.7 147.8 224.9 148.0 226.2 148.1 227.4 148.2 228.7 148.4 229.9 148.5 231.2 148.7 232.4 148.9 233.6 149.2 234.8 149.4 236.0 149.7 237.2 150.1 238.4 150.5 239.6 151.0 240.7 151.6 241.8 152.2 242.8 152.9 243.7 153.7 244.7 154.5 245.5 155.5 246.3 156.4 247.1 157.4 247.8 158.4 248.4 159.5 249.0 160.6 249.6 161.7 250.1 162.8 250.7 164.0 251.2 165.1 251.7 166.3 252.2 167.4 252.7 168.5 253.2 169.7 253.7 170.8 254.2 172.0 254.7 173.1 255.2 174.3 255.7 175.4 256.2 176.6 256.7 177.7 257.2 178.9 257.8 180.0 175.9 181.2 175.9 23.4Z" fill="#fce4b0"/><path d="M178.0 138.0L178.6 138.2 179.3 138.5 180.2 138.9 181.3 139.3 182.7 139.8 184.5 140.5 186.7 141.4 189.3 142.4 192.2 143.6 195.2 144.7 198.3 145.8 201.3 146.6 204.3 147.2 207.5 147.7 210.7 148.0 213.9 148.3 216.9 148.6 219.7 148.9 222.3 149.2 224.7 149.5 227.0 149.7 229.1 149.9 231.1 150.2 233.0 150.5 234.7 150.8 236.2 151.2 237.5 151.5 238.7 151.9 239.9 152.4 241.0 153.0 242.1 153.7 243.1 154.4 244.0 155.2 244.9 156.1 245.7 157.0 246.5 158.0 247.2 159.0 247.8 159.9 248.4 160.9 249.0 162.0 249.7 163.3 250.5 165.0 251.6 167.2 252.9 170.0 254.2 172.9 255.6 175.8 256.7 178.3 257.5 180.0 175.9 181.2 175.9 23.4Z" fill="#fcdaa0"/><path d="M178.0 140.3L179.1 140.8 180.2 141.2 181.4 141.7 182.5 142.1 183.6 142.5 184.8 143.0 185.9 143.4 187.0 143.8 188.2 144.3 189.3 144.7 190.4 145.2 191.6 145.6 192.7 146.0 193.8 146.5 195.0 146.9 196.1 147.3 197.3 147.6 198.4 148.0 199.6 148.3 200.7 148.7 201.9 149.0 203.1 149.2 204.3 149.5 205.5 149.6 206.7 149.8 207.9 150.0 209.1 150.2 210.3 150.3 211.5 150.4 212.7 150.5 213.9 150.6 215.1 150.7 216.3 150.8 217.5 151.0 218.7 151.1 219.9 151.2 221.1 151.4 222.3 151.5 223.6 151.6 224.8 151.7 226.0 151.8 227.2 151.9 228.4 152.1 229.6 152.2 230.8 152.4 232.0 152.5 233.2 152.7 234.4 153.0 235.5 153.2 236.7 153.5 237.9 153.9 239.0 154.3 240.1 154.8 241.2 155.3 242.2 156.0 243.1 156.7 244.1 157.5 244.9 158.3 245.7 159.2 246.5 160.1 247.2 161.1 247.9 162.1 248.5 163.2 249.1 164.2 249.7 165.3 250.2 166.3 250.8 167.4 251.4 168.5 251.9 169.6 252.4 170.6 253.0 171.7 253.5 172.8 254.0 173.9 254.6 175.0 255.1 176.1 255.6 177.2 256.1 178.3 256.7 179.4 257.2 180.4 175.9 181.2 175.9 23.4Z" fill="#fcce90"/><path d="M178.0 142.7L179.1 143.1 180.2 143.6 181.3 144.0 182.4 144.4 183.5 144.8 184.7 145.3 185.8 145.7 186.9 146.1 188.0 146.5 189.1 147.0 190.2 147.4 191.3 147.8 192.5 148.2 193.6 148.6 194.7 149.0 195.8 149.4 197.0 149.8 198.1 150.1 199.2 150.5 200.4 150.8 201.5 151.1 202.7 151.4 203.9 151.6 205.0 151.9 206.2 152.1 207.4 152.2 208.6 152.4 209.7 152.5 210.9 152.7 212.1 152.8 213.3 152.9 214.5 153.0 215.7 153.1 216.9 153.2 218.0 153.3 219.2 153.4 220.4 153.6 221.6 153.7 222.8 153.8 224.0 153.9 225.2 154.0 226.3 154.1 227.5 154.2 228.7 154.3 229.9 154.4 231.1 154.6 232.3 154.8 233.4 155.0 234.6 155.2 235.8 155.4 236.9 155.7 238.1 156.1 239.2 156.5 240.2 157.0 241.3 157.5 242.3 158.2 243.2 158.9 244.1 159.6 245.0 160.4 245.8 161.3 246.5 162.2 247.2 163.2 247.9 164.1 248.5 165.1 249.2 166.1 249.8 167.2 250.3 168.2 250.9 169.3 251.5 170.3 252.0 171.4 252.6 172.4 253.1 173.5 253.7 174.5 254.2 175.6 254.7 176.7 255.3 177.7 255.8 178.8 256.4 179.8 256.9 180.9 175.9 181.2 175.9 23.4Z" fill="#fcc084"/><path d="M178.0 145.0L179.1 145.4 180.2 145.9 181.2 146.3 182.3 146.8 183.4 147.2 184.5 147.6 185.6 148.0 186.7 148.4 187.8 148.8 188.9 149.2 190.0 149.6 191.1 150.0 192.2 150.4 193.3 150.8 194.4 151.2 195.5 151.5 196.7 151.9 197.8 152.3 198.9 152.6 200.0 153.0 201.1 153.3 202.3 153.6 203.4 153.8 204.6 154.1 205.7 154.3 206.9 154.5 208.0 154.6 209.2 154.8 210.4 154.9 211.5 155.0 212.7 155.1 213.9 155.2 215.0 155.3 216.2 155.4 217.4 155.5 218.5 155.7 219.7 155.8 220.9 155.9 222.0 156.0 223.2 156.1 224.4 156.1 225.5 156.2 226.7 156.3 227.9 156.4 229.0 156.5 230.2 156.7 231.4 156.8 232.5 156.9 233.7 157.1 234.8 157.3 236.0 157.6 237.1 157.9 238.2 158.2 239.3 158.6 240.4 159.1 241.4 159.6 242.4 160.2 243.3 160.9 244.2 161.6 245.0 162.5 245.8 163.3 246.6 164.2 247.3 165.1 248.0 166.1 248.6 167.0 249.3 168.0 249.9 169.0 250.5 170.0 251.0 171.1 251.6 172.1 252.2 173.1 252.7 174.1 253.3 175.2 253.8 176.2 254.4 177.2 254.9 178.3 255.5 179.3 256.0 180.3 256.6 181.4 175.9 181.2 175.9 23.4Z" fill="#fcb17c"/><path d="M178.0 147.3L178.6 147.5 179.2 147.8 180.1 148.2 181.2 148.7 182.7 149.2 184.5 149.9 186.9 150.8 189.9 151.8 193.2 153.0 196.6 154.2 199.9 155.2 202.9 156.0 205.5 156.6 207.8 156.9 210.1 157.2 212.3 157.4 214.6 157.6 217.0 157.8 219.6 158.0 222.5 158.2 225.4 158.4 228.2 158.6 230.8 158.8 233.0 159.1 234.8 159.4 236.4 159.7 237.7 160.0 238.9 160.4 239.9 160.8 241.0 161.3 242.0 161.8 242.9 162.4 243.8 163.1 244.5 163.8 245.3 164.5 246.0 165.3 246.7 166.1 247.3 166.8 247.9 167.6 248.5 168.5 249.2 169.5 250.0 170.8 251.0 172.4 252.2 174.5 253.4 176.6 254.6 178.7 255.6 180.5 256.3 181.8 175.9 181.2 175.9 23.4Z" fill="#fda071"/><path d="M178.0 149.2L179.0 149.7 180.1 150.1 181.1 150.6 182.2 151.0 183.2 151.4 184.3 151.8 185.4 152.2 186.4 152.6 187.5 153.0 188.6 153.4 189.6 153.8 190.7 154.2 191.7 154.6 192.8 155.0 193.9 155.4 194.9 155.8 196.0 156.1 197.1 156.5 198.2 156.8 199.3 157.1 200.4 157.4 201.5 157.7 202.6 158.0 203.7 158.2 204.8 158.4 205.9 158.6 207.0 158.8 208.1 158.9 209.3 159.0 210.4 159.1 211.5 159.2 212.7 159.3 213.8 159.4 214.9 159.4 216.1 159.5 217.2 159.6 218.3 159.7 219.5 159.8 220.6 159.9 221.7 159.9 222.9 160.0 224.0 160.0 225.1 160.1 226.3 160.2 227.4 160.2 228.5 160.3 229.7 160.4 230.8 160.5 231.9 160.6 233.0 160.7 234.2 160.9 235.3 161.1 236.4 161.3 237.5 161.6 238.6 161.9 239.6 162.3 240.7 162.7 241.7 163.2 242.6 163.8 243.5 164.5 244.4 165.2 245.2 165.9 246.0 166.7 246.8 167.6 247.5 168.5 248.2 169.4 248.8 170.3 249.4 171.2 250.1 172.2 250.7 173.1 251.3 174.1 251.9 175.1 252.4 176.0 253.0 177.0 253.6 178.0 254.2 178.9 254.8 179.9 255.4 180.9 256.0 181.9 175.9 181.2 175.9 23.4Z" fill="#fe8d62"/><path d="M178.0 151.2L179.0 151.6 180.0 152.0 181.1 152.5 182.1 152.9 183.2 153.3 184.2 153.7 185.3 154.1 186.3 154.5 187.3 154.9 188.4 155.4 189.4 155.8 190.4 156.2 191.5 156.6 192.5 157.0 193.5 157.4 194.6 157.8 195.7 158.2 196.7 158.5 197.8 158.8 198.9 159.2 199.9 159.4 201.0 159.7 202.1 160.0 203.2 160.1 204.3 160.3 205.4 160.5 206.5 160.6 207.7 160.7 208.8 160.8 209.9 160.9 211.0 161.0 212.1 161.1 213.2 161.2 214.3 161.2 215.5 161.3 216.6 161.4 217.7 161.4 218.8 161.5 219.9 161.6 221.0 161.6 222.2 161.7 223.3 161.7 224.4 161.8 225.5 161.8 226.6 161.9 227.7 161.9 228.9 162.0 230.0 162.1 231.1 162.1 232.2 162.3 233.3 162.4 234.4 162.5 235.5 162.7 236.6 162.9 237.7 163.1 238.8 163.4 239.8 163.8 240.8 164.2 241.8 164.7 242.7 165.3 243.7 165.9 244.5 166.6 245.4 167.3 246.1 168.1 246.9 169.0 247.5 169.9 248.2 170.8 248.9 171.7 249.5 172.6 250.1 173.5 250.8 174.4 251.4 175.4 252.0 176.3 252.6 177.2 253.2 178.2 253.8 179.1 254.4 180.0 255.0 181.0 255.7 181.9 175.9 181.2 175.9 23.4Z" fill="#ff7855"/><path d="M178.0 153.1L179.0 153.5 180.0 154.0 181.0 154.4 182.1 154.8 183.1 155.2 184.1 155.6 185.1 156.0 186.2 156.4 187.2 156.9 188.2 157.3 189.2 157.8 190.2 158.2 191.2 158.7 192.2 159.1 193.2 159.5 194.3 159.9 195.3 160.2 196.4 160.6 197.4 160.9 198.5 161.2 199.5 161.4 200.6 161.7 201.7 161.9 202.8 162.1 203.9 162.2 205.0 162.4 206.1 162.5 207.2 162.6 208.3 162.7 209.4 162.8 210.5 162.8 211.6 162.9 212.7 163.0 213.8 163.0 214.9 163.1 216.0 163.1 217.1 163.2 218.2 163.2 219.3 163.3 220.4 163.3 221.5 163.3 222.6 163.4 223.7 163.4 224.8 163.4 225.9 163.5 227.0 163.5 228.1 163.6 229.2 163.6 230.3 163.7 231.4 163.8 232.5 163.9 233.6 164.0 234.7 164.1 235.7 164.2 236.8 164.4 237.9 164.6 239.0 164.9 240.0 165.2 241.0 165.7 241.9 166.2 242.9 166.7 243.8 167.3 244.7 168.0 245.5 168.7 246.2 169.5 246.9 170.4 247.6 171.2 248.3 172.1 249.0 173.0 249.6 173.9 250.2 174.8 250.9 175.7 251.5 176.5 252.2 177.4 252.8 178.3 253.4 179.3 254.1 180.2 254.7 181.1 255.3 181.9 175.9 181.2 175.9 23.4Z" fill="#ff5d4c"/><path d="M178.0 155.0L178.6 155.3 179.3 155.6 180.2 156.0 181.3 156.4 182.7 157.0 184.5 157.7 186.5 158.6 188.8 159.7 191.3 160.9 194.2 162.1 197.5 163.1 201.3 163.9 206.0 164.4 211.6 164.7 217.7 164.9 223.6 165.1 228.9 165.2 233.0 165.4 235.7 165.6 237.5 165.9 238.7 166.1 239.4 166.3 240.1 166.6 241.0 167.0 242.0 167.4 242.7 167.7 243.4 168.1 244.1 168.7 245.0 169.4 246.0 170.5 247.4 172.1 249.0 174.2 250.8 176.5 252.5 178.7 254.0 180.7 255.0 182.0 175.9 181.2 175.9 23.4Z" fill="#ff4945"/><path d="M178.0 157.3L179.0 157.7 179.9 158.2 180.9 158.6 181.9 159.1 182.9 159.5 183.9 159.8 184.9 160.2 185.9 160.6 186.9 161.0 187.8 161.4 188.8 161.8 189.8 162.2 190.8 162.6 191.8 163.0 192.8 163.3 193.8 163.7 194.8 164.0 195.8 164.3 196.9 164.5 197.9 164.8 199.0 165.0 200.0 165.2 201.0 165.4 202.1 165.5 203.2 165.6 204.2 165.7 205.3 165.8 206.4 165.9 207.4 166.0 208.5 166.0 209.6 166.1 210.6 166.1 211.7 166.2 212.8 166.2 213.8 166.3 214.9 166.3 216.0 166.3 217.0 166.4 218.1 166.4 219.2 166.4 220.2 166.4 221.3 166.5 222.4 166.5 223.4 166.5 224.5 166.5 225.6 166.5 226.6 166.5 227.7 166.6 228.8 166.6 229.8 166.6 230.9 166.7 232.0 166.7 233.0 166.8 234.1 166.8 235.2 166.9 236.2 167.0 237.3 167.2 238.3 167.4 239.3 167.7 240.3 168.0 241.3 168.3 242.3 168.8 243.2 169.3 244.0 170.0 244.8 170.7 245.6 171.4 246.3 172.2 247.0 173.0 247.7 173.8 248.4 174.6 249.1 175.4 249.8 176.3 250.5 177.1 251.1 177.9 251.8 178.7 252.5 179.6 253.2 180.4 253.8 181.2 254.5 182.1 175.9 181.2 175.9 23.4Z" fill="#ff3b3f"/><path d="M178.0 159.6L178.9 160.1 179.9 160.5 180.8 161.0 181.8 161.4 182.8 161.8 183.7 162.1 184.7 162.5 185.7 162.8 186.7 163.2 187.7 163.5 188.7 163.9 189.7 164.2 190.7 164.5 191.7 164.8 192.7 165.1 193.7 165.4 194.7 165.7 195.7 165.9 196.7 166.2 197.7 166.4 198.8 166.5 199.8 166.7 200.8 166.9 201.9 167.0 202.9 167.1 204.0 167.2 205.0 167.3 206.1 167.4 207.1 167.4 208.2 167.5 209.2 167.5 210.3 167.6 211.3 167.6 212.4 167.7 213.4 167.7 214.5 167.7 215.5 167.8 216.6 167.8 217.6 167.8 218.7 167.9 219.7 167.9 220.8 167.9 221.8 167.9 222.8 167.9 223.9 167.9 224.9 167.9 226.0 167.9 227.0 167.9 228.1 167.9 229.1 168.0 230.2 168.0 231.2 168.0 232.3 168.0 233.3 168.1 234.4 168.2 235.4 168.3 236.5 168.4 237.5 168.5 238.5 168.7 239.5 168.9 240.5 169.2 241.5 169.6 242.4 170.1 243.3 170.7 244.1 171.3 244.9 172.0 245.6 172.7 246.4 173.5 247.1 174.2 247.8 175.0 248.5 175.8 249.2 176.6 249.9 177.4 250.6 178.1 251.3 178.9 251.9 179.7 252.6 180.5 253.3 181.3 254.0 182.1 175.9 181.2 175.9 23.4Z" fill="#ff2d3a"/><path d="M178.0 161.9L178.9 162.4 179.8 162.8 180.8 163.3 181.7 163.7 182.6 164.1 183.6 164.5 184.6 164.8 185.6 165.1 186.6 165.4 187.6 165.7 188.5 165.9 189.5 166.2 190.5 166.5 191.5 166.7 192.5 166.9 193.5 167.2 194.5 167.4 195.5 167.6 196.6 167.8 197.6 167.9 198.6 168.1 199.6 168.2 200.6 168.4 201.7 168.5 202.7 168.6 203.7 168.6 204.7 168.7 205.8 168.8 206.8 168.9 207.8 168.9 208.9 169.0 209.9 169.0 210.9 169.1 212.0 169.1 213.0 169.1 214.0 169.2 215.0 169.2 216.1 169.2 217.1 169.3 218.1 169.3 219.2 169.3 220.2 169.3 221.2 169.3 222.3 169.3 223.3 169.3 224.3 169.3 225.4 169.3 226.4 169.3 227.4 169.3 228.5 169.3 229.5 169.3 230.5 169.3 231.5 169.3 232.6 169.4 233.6 169.4 234.6 169.5 235.7 169.6 236.7 169.6 237.7 169.8 238.7 169.9 239.7 170.1 240.7 170.4 241.6 170.8 242.5 171.4 243.3 172.0 244.1 172.6 244.9 173.3 245.7 174.0 246.4 174.7 247.1 175.4 247.9 176.1 248.6 176.9 249.3 177.6 250.0 178.4 250.7 179.1 251.4 179.9 252.1 180.7 252.8 181.4 253.5 182.1 175.9 181.2 175.9 23.4Z" fill="#fb2738"/><path d="M178.0 164.2L178.6 164.5 179.4 165.0 180.3 165.5 181.5 166.0 182.9 166.6 184.5 167.1 186.4 167.6 188.6 168.0 191.1 168.5 193.7 169.0 196.3 169.4 199.0 169.7 201.7 170.0 204.5 170.2 207.3 170.4 210.2 170.5 213.1 170.6 216.0 170.7 218.9 170.7 222.0 170.7 225.0 170.7 227.9 170.6 230.6 170.6 233.0 170.7 234.9 170.8 236.5 170.8 237.9 170.8 239.1 171.0 240.5 171.4 242.0 172.2 243.8 173.5 245.9 175.3 248.1 177.3 250.1 179.3 251.8 181.0 253.0 182.2 175.9 181.2 175.9 23.4Z" fill="#e01330"/></g><path d="M289.4 25.0L289.4 72.0 287.8 82.0 287.6 108.0 285.5 125.0 283.9 131.8 282.5 141.4 281.1 151.1 279.7 160.8 277.7 174.0 310.0 180.0 310.0 25.0Z" fill="#7bd1fb"/><mask id="mk01" maskUnits="userSpaceOnUse" x="173.9" y="21.4" width="139.5" height="161.8"><rect x="173.9" y="21.4" width="139.5" height="161.8" fill="#fff"/><rect transform="translate(223.5 107.7) rotate(15)" x="-3.9" y="-9.5" width="7.7" height="10.3" fill="#000"/><rect transform="translate(209.4 118) rotate(10)" x="-8.0" y="-9.5" width="15.9" height="10.3" fill="#000"/><rect transform="translate(230.5 129) rotate(15)" x="-8.0" y="-9.5" width="15.9" height="10.3" fill="#000"/><rect transform="translate(246 143) rotate(60)" x="-8.0" y="-9.5" width="15.9" height="10.3" fill="#000"/><rect transform="translate(231 143) rotate(5)" x="-8.0" y="-9.5" width="15.9" height="10.3" fill="#000"/><rect transform="translate(214.7 146.5) rotate(0)" x="-3.9" y="-9.5" width="7.7" height="10.3" fill="#000"/><rect transform="translate(226.5 153.5) rotate(0)" x="-8.0" y="-9.5" width="15.9" height="10.3" fill="#000"/><rect transform="translate(210.5 161) rotate(0)" x="-8.0" y="-9.5" width="15.9" height="10.3" fill="#000"/><rect transform="translate(230.5 168.8) rotate(0)" x="-8.0" y="-9.5" width="15.9" height="10.3" fill="#000"/><rect transform="translate(208 175) rotate(0)" x="-8.0" y="-9.5" width="15.9" height="10.3" fill="#000"/><rect transform="translate(292 77) rotate(-90)" x="-6.1" y="-6.9" width="12.2" height="7.5" fill="#000"/><rect transform="translate(289 123) rotate(-90)" x="-6.1" y="-6.9" width="12.2" height="7.5" fill="#000"/></mask><g mask="url(#mk01)"><path d="M197.7 25.0L197.7 30.9 197.7 39.4 197.6 49.4 197.6 59.4 197.6 68.4 197.7 75.0 197.8 79.0 198.0 81.5 198.2 82.8 198.4 83.5 198.7 84.1 199.0 85.0 199.4 86.2 199.8 87.2 200.3 88.0 200.8 88.8 201.4 89.6 202.1 90.5 202.8 91.4 203.5 92.4 204.3 93.4 205.2 94.3 206.3 95.2 207.5 96.1 209.0 96.9 210.8 97.8 212.7 98.6 214.7 99.3 216.5 100.0 218.2 100.7 219.7 101.3 221.0 101.8 222.3 102.2 223.6 102.6 224.8 103.0 226.0 103.5 227.2 104.0 228.4 104.4 229.6 104.9 230.8 105.4 231.9 105.9 233.0 106.5 234.0 107.2 235.0 107.8 236.0 108.6 236.9 109.4 238.0 110.3 239.2 111.4 240.6 112.6 242.1 114.0 243.7 115.5 245.3 117.0 246.8 118.8 248.3 120.6 249.7 122.6 251.1 124.8 252.4 127.2 253.7 129.6 254.9 132.0 256.0 134.3 257.0 136.6 257.8 138.9 258.6 141.2 259.3 143.5 260.0 145.8 260.6 148.1 261.2 150.4 261.8 152.5 262.3 154.7 262.7 157.0 263.2 159.4 263.6 161.9 264.0 164.9 264.4 168.3 264.7 171.8 265.0 175.1 265.3 178.0 265.5 180.0" fill="none" stroke="#000" stroke-width="1.4"/><path d="M190.2 25.0L190.2 30.8 190.2 39.3 190.1 49.1 190.1 59.1 190.1 68.1 190.2 75.0 190.3 79.6 190.4 82.8 190.5 85.0 190.7 86.7 190.9 88.2 191.2 90.0 191.5 91.9 191.8 93.6 192.1 95.1 192.5 96.5 193.1 97.8 193.7 99.2 194.5 100.6 195.4 101.9 196.3 103.3 197.4 104.5 198.6 105.7 199.8 106.8 201.2 107.8 202.6 108.8 204.2 109.7 205.8 110.6 207.4 111.3 209.0 112.0 210.5 112.6 212.0 113.1 213.4 113.5 214.9 113.8 216.5 114.1 218.2 114.5 220.0 114.8 222.0 115.2 224.1 115.5 226.2 115.8 228.2 116.1 230.0 116.5 231.7 116.9 233.3 117.4 234.9 117.8 236.3 118.4 237.8 119.0 239.2 119.8 240.6 120.7 241.9 121.6 243.2 122.7 244.4 123.9 245.6 125.2 246.8 126.7 247.9 128.4 249.0 130.4 250.0 132.5 251.0 134.6 252.0 136.8 252.9 138.9 253.8 140.9 254.6 143.0 255.4 145.1 256.1 147.1 256.8 149.2 257.5 151.2 258.1 153.2 258.7 155.1 259.2 157.0 259.7 159.0 260.1 161.1 260.6 163.4 261.1 166.1 261.5 169.2 262.0 172.5 262.4 175.5 262.7 178.1 263.0 180.0" fill="none" stroke="#000" stroke-width="1.4"/><path d="M185.4 25.0L185.4 31.5 185.4 40.8 185.4 51.7 185.4 62.7 185.5 72.6 185.5 80.0 185.6 84.6 185.6 87.4 185.7 89.1 185.8 90.2 185.9 91.4 186.1 93.1 186.2 95.4 186.3 97.8 186.4 100.2 186.6 102.5 187.0 104.8 187.6 106.8 188.4 108.6 189.5 110.3 190.6 111.9 192.0 113.4 193.5 114.7 195.2 116.0 197.2 117.1 199.4 118.2 201.8 119.1 204.2 119.9 206.7 120.6 209.0 121.3 211.2 121.8 213.5 122.3 215.7 122.6 217.9 122.9 220.0 123.2 222.0 123.5 223.9 123.9 225.6 124.3 227.3 124.6 228.9 125.0 230.5 125.5 232.0 126.0 233.5 126.5 234.9 127.1 236.2 127.7 237.5 128.4 238.7 129.1 240.0 130.0 241.2 131.0 242.5 132.0 243.7 133.1 244.9 134.3 246.0 135.6 247.0 137.0 248.0 138.5 248.9 140.1 249.7 141.8 250.5 143.5 251.2 145.2 252.0 147.0 252.7 148.8 253.4 150.6 254.1 152.5 254.8 154.4 255.4 156.2 256.0 158.0 256.6 159.7 257.1 161.3 257.6 162.9 258.1 164.6 258.5 166.2 259.0 168.0 259.5 170.0 260.0 172.3 260.4 174.6 260.9 176.8 261.2 178.7 261.5 180.0" fill="none" stroke="#000" stroke-width="1.4"/><path d="M178.0 100.0L178.7 101.3 179.7 103.0 180.9 105.1 182.1 107.3 183.4 109.5 184.5 111.4 185.5 113.1 186.4 114.7 187.3 116.3 188.2 117.8 189.3 119.3 190.6 120.6 192.0 121.8 193.5 122.9 195.1 124.0 196.9 125.0 198.9 125.9 201.3 126.7 204.2 127.5 207.6 128.2 211.2 128.9 214.8 129.5 218.2 130.0 221.2 130.5 223.7 130.9 225.9 131.2 227.8 131.5 229.6 131.8 231.3 132.1 233.0 132.5 234.6 133.0 236.0 133.4 237.4 133.9 238.6 134.5 239.8 135.2 241.0 136.0 242.1 136.9 243.2 138.0 244.2 139.2 245.2 140.4 246.1 141.7 247.0 143.0 247.8 144.4 248.6 145.8 249.4 147.3 250.1 148.9 250.8 150.4 251.5 152.0 252.2 153.6 252.8 155.3 253.4 157.0 253.9 158.7 254.5 160.4 255.0 162.0 255.5 163.6 255.9 165.1 256.3 166.6 256.7 168.0 257.1 169.5 257.5 171.0 258.0 172.6 258.6 174.3 259.2 176.1 259.7 177.7 260.2 179.0 260.5 180.0" fill="none" stroke="#000" stroke-width="1.4"/><path d="M178.0 110.0L178.7 110.9 179.6 112.1 180.8 113.6 182.0 115.2 183.3 116.8 184.5 118.3 185.6 119.7 186.8 121.2 187.9 122.6 189.1 124.1 190.6 125.4 192.2 126.7 194.1 127.9 196.2 129.0 198.5 130.0 200.9 131.0 203.4 131.9 205.9 132.8 208.5 133.6 211.3 134.3 214.1 134.9 216.9 135.5 219.6 136.0 222.0 136.5 224.2 136.9 226.2 137.2 228.0 137.5 229.7 137.8 231.4 138.1 233.0 138.5 234.5 139.0 236.0 139.5 237.3 140.0 238.6 140.6 239.8 141.3 241.0 142.0 242.1 142.8 243.2 143.7 244.2 144.7 245.2 145.8 246.1 146.9 247.0 148.0 247.8 149.2 248.5 150.5 249.2 151.8 249.8 153.2 250.4 154.6 251.0 156.0 251.6 157.4 252.1 158.7 252.7 160.1 253.2 161.5 253.8 163.1 254.5 165.0 255.3 167.3 256.2 170.1 257.2 173.1 258.1 175.9 258.9 178.3 259.5 180.0" fill="none" stroke="#000" stroke-width="1.4"/><path d="M178.0 131.0L178.6 131.3 179.4 131.7 180.4 132.3 181.6 132.9 182.9 133.5 184.5 134.3 186.3 135.2 188.5 136.3 190.8 137.5 193.2 138.6 195.7 139.7 198.3 140.5 200.9 141.1 203.6 141.5 206.4 141.8 209.2 142.0 212.1 142.2 215.0 142.5 218.0 142.8 221.3 143.1 224.5 143.4 227.7 143.8 230.6 144.1 233.0 144.5 234.9 144.9 236.5 145.3 237.8 145.8 238.9 146.3 239.9 146.8 241.0 147.5 242.1 148.3 243.2 149.1 244.2 150.0 245.2 151.0 246.1 152.0 247.0 153.0 247.8 154.1 248.5 155.2 249.2 156.3 249.8 157.5 250.4 158.8 251.0 160.0 251.5 161.2 252.0 162.4 252.5 163.7 252.9 165.0 253.4 166.4 254.0 168.0 254.7 169.9 255.6 172.1 256.4 174.5 257.3 176.7 258.0 178.6 258.5 180.0" fill="none" stroke="#000" stroke-width="1.4"/><path d="M178.0 138.0L178.6 138.2 179.3 138.5 180.2 138.9 181.3 139.3 182.7 139.8 184.5 140.5 186.7 141.4 189.3 142.4 192.2 143.6 195.2 144.7 198.3 145.8 201.3 146.6 204.3 147.2 207.5 147.7 210.7 148.0 213.9 148.3 216.9 148.6 219.7 148.9 222.3 149.2 224.7 149.5 227.0 149.7 229.1 149.9 231.1 150.2 233.0 150.5 234.7 150.8 236.2 151.2 237.5 151.5 238.7 151.9 239.9 152.4 241.0 153.0 242.1 153.7 243.1 154.4 244.0 155.2 244.9 156.1 245.7 157.0 246.5 158.0 247.2 159.0 247.8 159.9 248.4 160.9 249.0 162.0 249.7 163.3 250.5 165.0 251.6 167.2 252.9 170.0 254.2 172.9 255.6 175.8 256.7 178.3 257.5 180.0" fill="none" stroke="#000" stroke-width="1.4"/><path d="M178.0 147.3L178.6 147.5 179.2 147.8 180.1 148.2 181.2 148.7 182.7 149.2 184.5 149.9 186.9 150.8 189.9 151.8 193.2 153.0 196.6 154.2 199.9 155.2 202.9 156.0 205.5 156.6 207.8 156.9 210.1 157.2 212.3 157.4 214.6 157.6 217.0 157.8 219.6 158.0 222.5 158.2 225.4 158.4 228.2 158.6 230.8 158.8 233.0 159.1 234.8 159.4 236.4 159.7 237.7 160.0 238.9 160.4 239.9 160.8 241.0 161.3 242.0 161.8 242.9 162.4 243.8 163.1 244.5 163.8 245.3 164.5 246.0 165.3 246.7 166.1 247.3 166.8 247.9 167.6 248.5 168.5 249.2 169.5 250.0 170.8 251.0 172.4 252.2 174.5 253.4 176.6 254.6 178.7 255.6 180.5 256.3 181.8" fill="none" stroke="#000" stroke-width="1.4"/><path d="M178.0 155.0L178.6 155.3 179.3 155.6 180.2 156.0 181.3 156.4 182.7 157.0 184.5 157.7 186.5 158.6 188.8 159.7 191.3 160.9 194.2 162.1 197.5 163.1 201.3 163.9 206.0 164.4 211.6 164.7 217.7 164.9 223.6 165.1 228.9 165.2 233.0 165.4 235.7 165.6 237.5 165.9 238.7 166.1 239.4 166.3 240.1 166.6 241.0 167.0 242.0 167.4 242.7 167.7 243.4 168.1 244.1 168.7 245.0 169.4 246.0 170.5 247.4 172.1 249.0 174.2 250.8 176.5 252.5 178.7 254.0 180.7 255.0 182.0" fill="none" stroke="#000" stroke-width="1.4"/><path d="M178.0 164.2L178.6 164.5 179.4 165.0 180.3 165.5 181.5 166.0 182.9 166.6 184.5 167.1 186.4 167.6 188.6 168.0 191.1 168.5 193.7 169.0 196.3 169.4 199.0 169.7 201.7 170.0 204.5 170.2 207.3 170.4 210.2 170.5 213.1 170.6 216.0 170.7 218.9 170.7 222.0 170.7 225.0 170.7 227.9 170.6 230.6 170.6 233.0 170.7 234.9 170.8 236.5 170.8 237.9 170.8 239.1 171.0 240.5 171.4 242.0 172.2 243.8 173.5 245.9 175.3 248.1 177.3 250.1 179.3 251.8 181.0 253.0 182.2" fill="none" stroke="#000" stroke-width="1.4"/><path d="M289.4 25.0L289.4 72.0" fill="none" stroke="#000" stroke-width="1.6" stroke-linejoin="round"/><path d="M287.8 84.0L287.8 86.8 287.8 90.7 287.8 95.4 287.7 100.1 287.7 104.5 287.6 108.0 287.5 110.6 287.3 112.7 287.0 114.5 286.8 115.9 286.6 117.1 286.5 118.0" fill="none" stroke="#000" stroke-width="1.2" stroke-linejoin="round"/><path d="M277.7 173.5L277.9 172.1 278.2 170.1 278.6 167.8 279.0 165.3 279.4 162.9 279.7 160.8 280.0 159.0 280.2 157.3 280.4 155.8 280.7 154.2 280.9 152.7 281.1 151.1 281.3 149.5 281.6 147.9 281.8 146.2 282.0 144.6 282.3 143.0 282.5 141.4 282.7 139.7 283.0 137.8 283.3 136.0 283.5 134.3 283.7 132.8 283.9 131.8" fill="none" stroke="#000" stroke-width="2.4" stroke-linejoin="round"/></g><text transform="translate(223.5 107.7) rotate(15) scale(1 1.12)" font-size="11" text-anchor="middle" style="stroke:#000;stroke-width:0.35px;fill:#000">1</text><text transform="translate(209.4 118) rotate(10) scale(1 1.12)" font-size="11" text-anchor="middle" style="stroke:#000;stroke-width:0.35px;fill:#000">1.2</text><text transform="translate(230.5 129) rotate(15) scale(1 1.12)" font-size="11" text-anchor="middle" style="stroke:#000;stroke-width:0.35px;fill:#000">1.4</text><text transform="translate(246 143) rotate(60) scale(1 1.12)" font-size="11" text-anchor="middle" style="stroke:#000;stroke-width:0.35px;fill:#000">1.6</text><text transform="translate(231 143) rotate(5) scale(1 1.12)" font-size="11" text-anchor="middle" style="stroke:#000;stroke-width:0.35px;fill:#000">1.8</text><text transform="translate(214.7 146.5) rotate(0) scale(1 1.12)" font-size="11" text-anchor="middle" style="stroke:#000;stroke-width:0.35px;fill:#000">2</text><text transform="translate(226.5 153.5) rotate(0) scale(1 1.12)" font-size="11" text-anchor="middle" style="stroke:#000;stroke-width:0.35px;fill:#000">2.2</text><text transform="translate(210.5 161) rotate(0) scale(1 1.12)" font-size="11" text-anchor="middle" style="stroke:#000;stroke-width:0.35px;fill:#000">2.4</text><text transform="translate(230.5 168.8) rotate(0) scale(1 1.12)" font-size="11" text-anchor="middle" style="stroke:#000;stroke-width:0.35px;fill:#000">2.6</text><text transform="translate(208 175) rotate(0) scale(1 1.12)" font-size="11" text-anchor="middle" style="stroke:#000;stroke-width:0.35px;fill:#000">2.8</text><text transform="translate(292 77) rotate(-90) scale(1 1.12)" font-size="8" text-anchor="middle" style="stroke:#000;stroke-width:0.35px;fill:#000">1.4</text><text transform="translate(289 123) rotate(-90) scale(1 1.12)" font-size="8" text-anchor="middle" style="stroke:#000;stroke-width:0.35px;fill:#000">1.2</text></g><path d="M183.90 173.20v-5.2M183.90 31.40v5.2M183.90 173.20h5.2M303.40 173.20h-5.2M189.88 173.20v-3.0M189.88 31.40v3.0M183.90 166.11h3.0M303.40 166.11h-3.0M195.85 173.20v-3.0M195.85 31.40v3.0M183.90 159.02h3.0M303.40 159.02h-3.0M201.82 173.20v-3.0M201.82 31.40v3.0M183.90 151.93h3.0M303.40 151.93h-3.0M207.80 173.20v-3.0M207.80 31.40v3.0M183.90 144.84h3.0M303.40 144.84h-3.0M213.78 173.20v-5.2M213.78 31.40v5.2M183.90 137.75h5.2M303.40 137.75h-5.2M219.75 173.20v-3.0M219.75 31.40v3.0M183.90 130.66h3.0M303.40 130.66h-3.0M225.72 173.20v-3.0M225.72 31.40v3.0M183.90 123.57h3.0M303.40 123.57h-3.0M231.70 173.20v-3.0M231.70 31.40v3.0M183.90 116.48h3.0M303.40 116.48h-3.0M237.68 173.20v-3.0M237.68 31.40v3.0M183.90 109.39h3.0M303.40 109.39h-3.0M243.65 173.20v-5.2M243.65 31.40v5.2M183.90 102.30h5.2M303.40 102.30h-5.2M249.62 173.20v-3.0M249.62 31.40v3.0M183.90 95.21h3.0M303.40 95.21h-3.0M255.60 173.20v-3.0M255.60 31.40v3.0M183.90 88.12h3.0M303.40 88.12h-3.0M261.57 173.20v-3.0M261.57 31.40v3.0M183.90 81.03h3.0M303.40 81.03h-3.0M267.55 173.20v-3.0M267.55 31.40v3.0M183.90 73.94h3.0M303.40 73.94h-3.0M273.52 173.20v-5.2M273.52 31.40v5.2M183.90 66.85h5.2M303.40 66.85h-5.2M279.50 173.20v-3.0M279.50 31.40v3.0M183.90 59.76h3.0M303.40 59.76h-3.0M285.48 173.20v-3.0M285.48 31.40v3.0M183.90 52.67h3.0M303.40 52.67h-3.0M291.45 173.20v-3.0M291.45 31.40v3.0M183.90 45.58h3.0M303.40 45.58h-3.0M297.42 173.20v-3.0M297.42 31.40v3.0M183.90 38.49h3.0M303.40 38.49h-3.0M303.40 173.20v-5.2M303.40 31.40v5.2M183.90 31.40h5.2M303.40 31.40h-5.2" stroke="#000" stroke-width="1.25" fill="none"/><rect x="183.9" y="31.4" width="119.50" height="141.80" fill="none" stroke="#000" stroke-width="1.6"/><text transform="translate(185.30 186.90) scale(1 1.15)" font-size="10.5" text-anchor="middle">−2</text><text transform="translate(215.18 186.90) scale(1 1.15)" font-size="10.5" text-anchor="middle">−1</text><text transform="translate(243.65 186.90) scale(1 1.15)" font-size="10.5" text-anchor="middle">0</text><text transform="translate(273.52 186.90) scale(1 1.15)" font-size="10.5" text-anchor="middle">1</text><text transform="translate(303.40 186.90) scale(1 1.15)" font-size="10.5" text-anchor="middle">2</text><g clip-path="url(#cp02)"><rect x="331.0" y="31.4" width="119.80" height="141.80" fill="#2200d2"/><g filter="url(#bl02)"><path d="M337.5 25.0L337.5 31.5 337.5 40.9 337.6 51.8 337.6 62.8 337.6 72.7 337.7 80.0 337.8 84.5 337.8 87.4 337.9 89.0 337.9 89.9 338.0 90.8 338.2 92.0 338.4 93.5 338.6 94.9 338.9 96.1 339.2 97.3 339.6 98.4 340.0 99.5 340.5 100.6 341.1 101.7 341.7 102.7 342.4 103.7 343.2 104.7 344.0 105.5 344.9 106.3 345.8 106.9 346.8 107.6 347.8 108.1 348.9 108.7 350.0 109.2 351.2 109.7 352.4 110.1 353.6 110.5 355.0 110.9 356.4 111.3 358.0 111.8 359.8 112.3 361.8 112.8 364.0 113.3 366.1 113.9 368.2 114.5 370.0 115.1 371.6 115.7 373.1 116.3 374.5 116.9 375.9 117.6 377.2 118.4 378.6 119.4 380.0 120.5 381.5 121.8 383.0 123.2 384.4 124.6 385.8 126.3 387.2 128.0 388.5 129.9 389.8 132.0 391.1 134.1 392.3 136.4 393.4 138.7 394.4 141.0 395.3 143.2 396.1 145.3 396.9 147.4 397.5 149.7 398.1 152.3 398.7 155.3 399.2 159.1 399.7 163.7 400.1 168.5 400.5 173.2 400.8 177.2 401.0 180.0 323.0 181.2 323.0 23.4Z" fill="#1f07da"/><path d="M336.2 25.0L336.2 27.4 336.2 29.8 336.2 32.1 336.2 34.5 336.2 36.9 336.2 39.3 336.2 41.7 336.2 44.0 336.2 46.4 336.3 48.8 336.3 51.2 336.3 53.5 336.3 55.9 336.3 58.3 336.3 60.7 336.3 63.1 336.3 65.4 336.3 67.8 336.4 70.2 336.4 72.6 336.4 75.0 336.4 77.3 336.4 79.7 336.5 82.1 336.5 84.5 336.5 86.8 336.6 89.2 336.8 91.6 337.1 94.0 337.4 96.3 337.9 98.6 338.6 100.9 339.6 103.0 340.8 105.0 342.3 106.9 344.0 108.5 345.9 109.8 347.9 111.0 350.1 111.9 352.3 112.7 354.6 113.4 356.9 114.1 359.2 114.7 361.5 115.3 363.8 115.8 366.1 116.4 368.4 117.1 370.6 117.9 372.8 118.7 375.0 119.7 377.0 120.9 379.0 122.1 380.9 123.4 382.7 124.9 384.4 126.5 385.9 128.2 387.4 130.1 388.7 132.1 389.9 134.2 391.0 136.2 392.1 138.4 393.1 140.5 394.0 142.7 394.9 144.9 395.8 147.1 396.5 149.4 397.1 151.7 397.6 154.0 398.0 156.4 398.4 158.7 398.7 161.1 399.0 163.4 399.2 165.8 399.5 168.2 399.7 170.5 399.9 172.9 400.2 175.3 400.4 177.6 400.6 180.0 323.0 181.2 323.0 23.4Z" fill="#1916ea"/><path d="M334.9 25.0L334.9 27.4 334.9 29.8 334.9 32.2 334.9 34.6 334.9 37.0 334.9 39.4 334.9 41.8 334.9 44.2 334.9 46.6 334.9 49.0 335.0 51.4 335.0 53.8 335.0 56.2 335.0 58.6 335.0 61.0 335.0 63.3 335.0 65.7 335.1 68.1 335.1 70.5 335.1 72.9 335.1 75.3 335.1 77.7 335.2 80.1 335.2 82.5 335.2 84.9 335.3 87.3 335.4 89.7 335.5 92.1 335.7 94.5 336.0 96.9 336.4 99.2 337.0 101.5 337.8 103.7 338.8 105.9 340.1 107.8 341.6 109.6 343.4 111.2 345.3 112.5 347.4 113.6 349.7 114.4 351.9 115.2 354.2 115.9 356.5 116.6 358.9 117.1 361.2 117.6 363.5 118.2 365.8 118.8 368.1 119.4 370.4 120.1 372.6 120.9 374.8 121.9 376.9 122.8 378.9 123.9 380.9 125.1 382.8 126.5 384.5 128.2 386.0 130.0 387.4 132.0 388.6 134.0 389.8 136.1 390.9 138.2 392.0 140.4 392.9 142.6 393.8 144.8 394.7 147.0 395.5 149.3 396.1 151.6 396.7 153.9 397.2 156.3 397.6 158.6 397.9 161.0 398.3 163.4 398.6 165.7 398.9 168.1 399.1 170.5 399.4 172.9 399.7 175.2 400.0 177.6 400.2 180.0 323.0 181.2 323.0 23.4Z" fill="#1426f3"/><path d="M333.5 25.0L333.5 27.4 333.5 29.8 333.6 32.2 333.6 34.7 333.6 37.1 333.6 39.5 333.6 41.9 333.6 44.3 333.6 46.7 333.6 49.1 333.6 51.6 333.7 54.0 333.7 56.4 333.7 58.8 333.7 61.2 333.7 63.6 333.7 66.0 333.8 68.5 333.8 70.9 333.8 73.3 333.9 75.7 333.9 78.1 333.9 80.5 334.0 82.9 334.0 85.4 334.1 87.8 334.1 90.2 334.2 92.6 334.4 95.0 334.6 97.4 334.9 99.8 335.3 102.2 335.9 104.5 336.8 106.7 337.9 108.8 339.2 110.8 340.8 112.5 342.7 114.0 344.8 115.2 347.0 116.2 349.2 117.0 351.5 117.8 353.9 118.5 356.2 119.0 358.6 119.5 360.9 119.9 363.3 120.4 365.6 121.0 368.0 121.5 370.3 122.2 372.5 122.9 374.8 123.6 377.0 124.3 379.2 125.3 381.2 126.5 383.0 128.1 384.6 129.9 386.1 131.8 387.4 133.8 388.6 135.9 389.7 138.0 390.8 140.2 391.8 142.4 392.7 144.6 393.7 146.9 394.5 149.1 395.2 151.4 395.8 153.8 396.3 156.1 396.8 158.5 397.2 160.9 397.6 163.3 397.9 165.7 398.3 168.0 398.6 170.4 398.9 172.8 399.2 175.2 399.5 177.6 399.9 180.0 323.0 181.2 323.0 23.4Z" fill="#1437f7"/><path d="M332.2 25.0L332.2 30.1 332.3 37.3 332.3 45.8 332.4 54.6 332.4 63.0 332.5 70.0 332.6 75.9 332.7 81.3 332.8 86.2 332.9 90.6 333.0 94.6 333.2 98.0 333.4 100.7 333.6 102.8 333.8 104.3 334.1 105.5 334.5 106.7 335.0 108.0 335.6 109.4 336.2 110.8 337.0 112.1 337.8 113.3 338.8 114.5 340.0 115.5 341.4 116.5 343.0 117.3 344.7 118.1 346.5 118.8 348.3 119.4 350.0 120.0 351.7 120.5 353.4 120.9 355.1 121.2 356.8 121.4 358.5 121.7 360.2 122.0 361.9 122.3 363.5 122.6 365.2 122.9 366.8 123.2 368.4 123.5 370.0 123.8 371.5 124.1 373.0 124.4 374.5 124.6 375.9 125.0 377.3 125.4 378.6 126.0 379.8 126.7 380.9 127.5 382.0 128.4 383.0 129.5 384.0 130.7 385.0 132.0 386.0 133.5 387.1 135.2 388.1 137.1 389.1 139.0 390.1 141.0 391.0 143.0 391.8 144.9 392.6 146.8 393.4 148.7 394.1 150.8 394.8 153.2 395.5 156.0 396.2 159.6 397.0 164.1 397.8 168.8 398.5 173.4 399.1 177.3 399.5 180.0 323.0 181.2 323.0 23.4Z" fill="#224df5"/><path d="M330.4 46.2L330.7 48.3 331.0 50.4 331.3 52.4 331.6 54.4 331.8 56.5 332.1 58.5 332.4 60.6 332.7 62.6 333.0 64.7 333.3 66.8 333.6 68.8 333.9 70.8 334.2 72.8 334.5 74.8 334.9 76.8 335.2 78.7 335.6 80.6 336.0 82.5 336.3 84.4 336.7 86.3 337.1 88.2 337.5 90.1 337.9 91.9 338.3 93.8 338.6 95.7 339.0 97.6 339.4 99.5 339.8 101.4 340.3 103.3 340.7 105.2 341.2 107.1 341.7 109.0 342.4 110.9 343.3 112.7 344.4 114.5 345.6 116.2 347.0 117.7 348.7 119.1 350.5 120.2 352.5 121.1 354.5 121.9 356.6 122.7 358.6 123.4 360.7 124.0 362.7 124.6 364.8 125.1 366.8 125.7 368.8 126.3 370.8 127.0 372.8 127.6 374.7 128.3 376.7 128.9 378.6 129.6 380.5 130.4 382.3 131.6 383.9 133.0 385.3 134.7 386.6 136.4 387.7 138.3 388.7 140.2 389.7 142.1 390.6 144.1 391.5 146.1 392.3 148.1 393.1 150.1 393.8 152.2 394.5 154.3 395.1 156.4 395.6 158.5 396.0 160.6 396.4 162.8 396.8 164.9 397.2 167.1 397.5 169.2 397.9 171.4 398.2 173.5 398.6 175.7 398.9 177.8 399.2 180.0 323.0 181.2 323.0 23.4Z" fill="#2c60f4"/><path d="M328.6 67.5L329.2 69.2 329.7 70.8 330.3 72.5 330.9 74.2 331.4 75.8 332.0 77.5 332.6 79.1 333.1 80.8 333.7 82.5 334.2 84.2 334.8 85.8 335.4 87.4 336.0 89.0 336.7 90.5 337.4 92.0 338.0 93.5 338.7 94.9 339.5 96.2 340.2 97.6 340.9 98.9 341.6 100.3 342.3 101.6 343.1 102.9 343.8 104.3 344.5 105.6 345.3 107.0 346.0 108.3 346.7 109.7 347.5 111.1 348.3 112.4 349.0 113.8 349.9 115.2 350.8 116.5 351.9 117.8 353.0 119.1 354.3 120.4 355.7 121.6 357.2 122.6 359.0 123.5 360.7 124.3 362.5 125.0 364.3 125.7 366.0 126.5 367.8 127.2 369.5 127.9 371.2 128.6 372.9 129.4 374.5 130.1 376.1 131.0 377.6 131.8 379.2 132.7 380.7 133.5 382.2 134.4 383.7 135.4 385.0 136.6 386.2 138.0 387.4 139.5 388.4 141.2 389.3 142.8 390.1 144.6 390.9 146.3 391.6 148.1 392.3 149.9 393.0 151.7 393.6 153.5 394.2 155.4 394.7 157.2 395.2 159.1 395.6 161.0 396.0 162.9 396.4 164.8 396.7 166.7 397.1 168.6 397.4 170.5 397.7 172.4 398.0 174.3 398.4 176.2 398.7 178.1 399.0 180.0 323.0 181.2 323.0 23.4Z" fill="#2e6ff6"/><path d="M326.8 88.8L327.6 90.0 328.5 91.3 329.3 92.6 330.2 93.9 331.0 95.2 331.9 96.4 332.7 97.7 333.5 99.0 334.3 100.3 335.2 101.6 336.0 102.9 336.9 104.1 337.8 105.2 338.8 106.3 339.8 107.3 340.8 108.2 341.9 109.1 342.9 110.0 344.0 110.8 345.1 111.6 346.1 112.4 347.2 113.2 348.3 114.0 349.3 114.7 350.4 115.5 351.5 116.3 352.6 117.2 353.6 118.0 354.7 118.8 355.8 119.7 356.9 120.5 358.0 121.4 359.1 122.2 360.4 123.0 361.6 123.8 363.0 124.7 364.4 125.4 365.8 126.2 367.4 126.8 368.9 127.4 370.5 128.1 372.0 128.8 373.5 129.6 374.9 130.4 376.3 131.2 377.6 132.1 378.9 133.0 380.2 134.0 381.3 135.0 382.5 136.0 383.6 137.1 384.7 138.1 385.8 139.2 386.8 140.4 387.7 141.6 388.6 143.0 389.4 144.4 390.2 145.9 390.8 147.4 391.5 149.0 392.0 150.6 392.6 152.1 393.1 153.7 393.6 155.3 394.1 156.9 394.5 158.6 395.0 160.2 395.3 161.8 395.7 163.5 396.0 165.1 396.4 166.8 396.7 168.4 397.0 170.1 397.3 171.7 397.6 173.4 397.9 175.0 398.2 176.7 398.5 178.3 398.8 180.0 323.0 181.2 323.0 23.4Z" fill="#307ef8"/><path d="M325.0 110.0L325.7 110.5 326.5 111.2 327.6 112.1 328.8 113.1 330.0 114.1 331.4 115.1 332.8 116.2 334.2 117.5 335.8 118.8 337.5 120.1 339.4 121.3 341.5 122.3 344.0 123.1 346.9 123.8 349.9 124.4 353.0 124.9 356.0 125.4 358.7 125.9 361.2 126.4 363.6 127.0 365.9 127.5 368.1 128.0 370.1 128.5 372.0 129.0 373.7 129.5 375.1 129.9 376.5 130.3 377.7 130.8 378.8 131.3 380.0 132.0 381.1 132.8 382.2 133.6 383.2 134.6 384.1 135.6 385.1 136.7 386.0 138.0 386.9 139.4 387.8 141.0 388.7 142.6 389.5 144.4 390.3 146.2 391.0 148.0 391.7 149.8 392.3 151.6 392.8 153.4 393.4 155.3 393.9 157.5 394.5 160.0 395.2 163.1 395.9 166.8 396.7 170.8 397.4 174.5 398.1 177.7 398.5 180.0 323.0 181.2 323.0 23.4Z" fill="#4297f9"/><path d="M325.0 112.2L326.1 113.1 327.2 114.0 328.3 114.9 329.4 115.8 330.5 116.6 331.7 117.5 332.8 118.3 333.9 119.2 335.0 120.1 336.1 120.9 337.2 121.8 338.4 122.5 339.6 123.2 340.9 123.9 342.2 124.4 343.5 124.8 344.9 125.2 346.2 125.6 347.6 125.9 349.0 126.2 350.4 126.4 351.7 126.7 353.1 126.9 354.5 127.1 355.9 127.4 357.3 127.6 358.7 127.9 360.1 128.2 361.4 128.5 362.8 128.7 364.2 129.0 365.6 129.3 367.0 129.6 368.3 129.9 369.7 130.2 371.1 130.5 372.4 130.9 373.8 131.2 375.2 131.6 376.5 132.0 377.8 132.5 379.1 133.1 380.3 133.8 381.4 134.6 382.5 135.5 383.5 136.5 384.4 137.5 385.3 138.7 386.1 139.8 386.8 141.0 387.5 142.2 388.2 143.5 388.8 144.7 389.4 146.0 390.0 147.3 390.5 148.6 391.0 149.9 391.5 151.2 392.0 152.6 392.4 153.9 392.8 155.3 393.1 156.6 393.5 158.0 393.8 159.3 394.2 160.7 394.5 162.1 394.8 163.5 395.1 164.8 395.4 166.2 395.7 167.6 396.0 169.0 396.3 170.3 396.6 171.7 396.8 173.1 397.1 174.5 397.4 175.9 397.7 177.2 398.0 178.6 398.2 180.0 323.0 181.2 323.0 23.4Z" fill="#56b1fa"/><path d="M325.0 114.5L326.1 115.4 327.2 116.2 328.2 117.1 329.3 117.9 330.5 118.7 331.6 119.5 332.7 120.4 333.8 121.2 334.9 122.0 336.0 122.8 337.2 123.6 338.3 124.4 339.5 125.1 340.8 125.7 342.1 126.2 343.4 126.7 344.7 127.1 346.0 127.5 347.4 127.8 348.7 128.1 350.1 128.4 351.4 128.6 352.8 128.8 354.2 129.1 355.5 129.3 356.9 129.5 358.2 129.8 359.6 130.0 361.0 130.3 362.3 130.6 363.7 130.8 365.0 131.1 366.4 131.4 367.8 131.6 369.1 131.9 370.5 132.2 371.8 132.4 373.2 132.7 374.5 133.0 375.9 133.4 377.2 133.8 378.4 134.3 379.7 134.9 380.8 135.6 381.9 136.5 382.9 137.4 383.8 138.5 384.7 139.6 385.5 140.7 386.3 141.8 387.0 143.0 387.7 144.2 388.3 145.4 389.0 146.7 389.5 147.9 390.1 149.2 390.6 150.5 391.1 151.8 391.5 153.1 391.9 154.4 392.3 155.7 392.7 157.1 393.1 158.4 393.4 159.7 393.8 161.1 394.1 162.4 394.4 163.8 394.7 165.1 395.0 166.5 395.3 167.8 395.6 169.2 395.9 170.5 396.2 171.9 396.5 173.2 396.8 174.6 397.1 175.9 397.4 177.3 397.7 178.6 398.0 180.0 323.0 181.2 323.0 23.4Z" fill="#61bcfb"/><path d="M325.0 116.8L326.1 117.6 327.1 118.5 328.2 119.3 329.3 120.1 330.4 120.9 331.5 121.6 332.7 122.4 333.8 123.2 334.9 124.0 336.0 124.7 337.1 125.5 338.3 126.2 339.5 126.9 340.7 127.5 341.9 128.0 343.2 128.5 344.5 129.0 345.8 129.4 347.1 129.7 348.4 130.0 349.8 130.3 351.1 130.5 352.4 130.8 353.8 131.0 355.1 131.2 356.5 131.5 357.8 131.7 359.2 131.9 360.5 132.2 361.8 132.4 363.2 132.6 364.5 132.9 365.9 133.1 367.2 133.3 368.5 133.6 369.9 133.8 371.2 134.0 372.6 134.2 373.9 134.5 375.2 134.8 376.5 135.1 377.8 135.5 379.1 136.0 380.3 136.7 381.4 137.5 382.4 138.4 383.2 139.4 384.1 140.5 384.9 141.6 385.7 142.7 386.5 143.8 387.2 144.9 387.9 146.1 388.5 147.3 389.1 148.6 389.6 149.8 390.1 151.1 390.6 152.3 391.1 153.6 391.5 154.9 391.9 156.2 392.3 157.5 392.6 158.8 393.0 160.1 393.4 161.5 393.7 162.8 394.0 164.1 394.4 165.4 394.7 166.7 395.0 168.1 395.3 169.4 395.6 170.7 395.9 172.0 396.2 173.4 396.5 174.7 396.8 176.0 397.1 177.3 397.4 178.7 397.8 180.0 323.0 181.2 323.0 23.4Z" fill="#6bc5fc"/><path d="M325.0 119.0L325.6 119.5 326.4 120.1 327.4 120.9 328.5 121.8 329.9 122.7 331.4 123.7 333.1 124.8 335.0 126.0 337.1 127.4 339.4 128.7 341.8 129.9 344.4 130.9 347.2 131.7 350.3 132.4 353.6 133.0 356.9 133.5 360.0 134.0 363.0 134.5 365.8 135.0 368.6 135.3 371.3 135.7 373.8 136.0 376.1 136.5 378.0 137.0 379.5 137.7 380.7 138.4 381.6 139.2 382.4 140.0 383.2 141.0 384.0 142.0 384.9 143.1 385.8 144.3 386.6 145.6 387.4 146.9 388.2 148.4 389.0 150.0 389.7 151.7 390.4 153.5 391.0 155.4 391.7 157.4 392.3 159.6 393.0 162.0 393.8 164.9 394.6 168.2 395.5 171.8 396.3 175.1 397.0 178.0 397.5 180.0 323.0 181.2 323.0 23.4Z" fill="#77cffc"/><path d="M325.0 120.5L326.0 121.3 327.1 122.1 328.1 122.9 329.2 123.7 330.3 124.4 331.4 125.2 332.5 125.9 333.6 126.6 334.8 127.3 335.9 128.0 337.0 128.7 338.1 129.4 339.3 130.1 340.5 130.7 341.6 131.2 342.9 131.7 344.1 132.2 345.4 132.6 346.6 133.0 347.9 133.3 349.2 133.6 350.5 133.9 351.8 134.1 353.1 134.4 354.4 134.6 355.7 134.8 357.0 135.0 358.3 135.2 359.6 135.4 360.9 135.7 362.2 135.9 363.6 136.1 364.9 136.3 366.2 136.5 367.5 136.7 368.8 136.9 370.1 137.0 371.4 137.2 372.7 137.4 374.0 137.6 375.3 137.8 376.6 138.1 377.9 138.4 379.1 138.9 380.3 139.5 381.3 140.2 382.3 141.1 383.2 142.0 384.1 142.9 385.0 143.9 385.8 145.0 386.6 146.1 387.3 147.2 387.9 148.3 388.5 149.5 389.0 150.7 389.6 151.9 390.0 153.2 390.5 154.4 390.9 155.7 391.3 156.9 391.7 158.2 392.0 159.5 392.4 160.8 392.7 162.0 393.0 163.3 393.4 164.6 393.7 165.9 394.0 167.2 394.4 168.4 394.7 169.7 395.0 171.0 395.3 172.3 395.7 173.6 396.0 174.9 396.3 176.1 396.6 177.4 396.9 178.7 397.2 180.0 323.0 181.2 323.0 23.4Z" fill="#84d8fb"/><path d="M325.0 122.0L326.0 122.8 327.1 123.6 328.1 124.4 329.2 125.1 330.3 125.9 331.4 126.6 332.5 127.3 333.6 128.0 334.7 128.7 335.8 129.4 336.9 130.1 338.0 130.8 339.1 131.4 340.3 132.0 341.5 132.6 342.7 133.1 343.9 133.6 345.1 134.0 346.4 134.4 347.7 134.7 348.9 135.0 350.2 135.3 351.5 135.6 352.8 135.8 354.1 136.0 355.4 136.2 356.7 136.5 358.0 136.7 359.2 136.9 360.5 137.1 361.8 137.3 363.1 137.5 364.4 137.7 365.7 137.9 367.0 138.1 368.3 138.3 369.6 138.5 370.9 138.6 372.2 138.8 373.5 139.0 374.8 139.2 376.1 139.4 377.3 139.7 378.6 140.0 379.8 140.5 380.9 141.1 382.0 141.8 383.0 142.6 383.9 143.4 384.8 144.4 385.6 145.4 386.4 146.4 387.1 147.5 387.8 148.7 388.4 149.8 388.9 151.0 389.4 152.2 389.9 153.4 390.3 154.7 390.8 155.9 391.1 157.2 391.5 158.4 391.8 159.7 392.1 161.0 392.4 162.2 392.8 163.5 393.1 164.8 393.4 166.0 393.8 167.3 394.1 168.6 394.4 169.9 394.7 171.1 395.1 172.4 395.4 173.7 395.7 174.9 396.0 176.2 396.4 177.5 396.7 178.7 397.0 180.0 323.0 181.2 323.0 23.4Z" fill="#91e1fa"/><path d="M325.0 123.5L326.0 124.3 327.1 125.1 328.1 125.8 329.2 126.6 330.2 127.3 331.3 128.0 332.4 128.7 333.5 129.4 334.6 130.1 335.7 130.8 336.8 131.5 337.9 132.2 339.0 132.8 340.1 133.4 341.3 134.0 342.5 134.5 343.7 135.0 344.9 135.4 346.2 135.8 347.4 136.1 348.7 136.4 349.9 136.7 351.2 137.0 352.5 137.2 353.8 137.4 355.0 137.7 356.3 137.9 357.6 138.1 358.9 138.3 360.1 138.5 361.4 138.8 362.7 139.0 364.0 139.2 365.3 139.4 366.5 139.6 367.8 139.8 369.1 139.9 370.4 140.1 371.7 140.2 373.0 140.4 374.2 140.5 375.5 140.7 376.8 140.9 378.1 141.2 379.3 141.5 380.5 141.9 381.6 142.5 382.7 143.2 383.7 143.9 384.6 144.8 385.5 145.8 386.3 146.8 387.0 147.9 387.7 149.0 388.3 150.1 388.8 151.3 389.3 152.5 389.8 153.7 390.2 154.9 390.6 156.2 391.0 157.4 391.3 158.7 391.6 159.9 391.9 161.2 392.2 162.5 392.5 163.7 392.8 165.0 393.1 166.2 393.5 167.5 393.8 168.7 394.1 170.0 394.5 171.2 394.8 172.5 395.1 173.7 395.4 175.0 395.8 176.2 396.1 177.5 396.4 178.7 396.8 180.0 323.0 181.2 323.0 23.4Z" fill="#9febfd"/><path d="M325.0 125.0L325.6 125.5 326.4 126.1 327.4 126.8 328.5 127.6 329.9 128.5 331.4 129.5 333.1 130.6 334.9 131.8 337.0 133.1 339.2 134.4 341.7 135.6 344.4 136.7 347.6 137.6 351.2 138.4 355.1 139.2 359.0 139.9 362.6 140.5 365.9 141.0 368.8 141.4 371.4 141.7 373.9 141.9 376.2 142.1 378.2 142.4 380.0 142.8 381.5 143.3 382.7 143.9 383.6 144.5 384.4 145.2 385.2 146.1 386.0 147.0 386.8 148.1 387.5 149.3 388.2 150.6 388.9 152.0 389.4 153.5 390.0 155.0 390.5 156.5 390.9 158.0 391.2 159.6 391.6 161.2 392.0 163.0 392.5 165.0 393.1 167.4 393.9 170.2 394.7 173.1 395.4 175.9 396.0 178.3 396.5 180.0 323.0 181.2 323.0 23.4Z" fill="#b2f2fd"/><path d="M325.0 128.5L326.0 129.2 327.0 130.0 328.1 130.7 329.1 131.4 330.2 132.0 331.2 132.6 332.3 133.3 333.4 133.9 334.5 134.5 335.5 135.2 336.6 135.8 337.7 136.4 338.8 137.0 339.9 137.5 341.1 138.0 342.3 138.5 343.4 138.9 344.6 139.3 345.8 139.6 347.0 139.9 348.3 140.2 349.5 140.4 350.7 140.7 351.9 140.9 353.2 141.1 354.4 141.3 355.6 141.5 356.9 141.7 358.1 141.9 359.3 142.1 360.6 142.2 361.8 142.4 363.1 142.6 364.3 142.8 365.5 142.9 366.8 143.1 368.0 143.3 369.3 143.4 370.5 143.5 371.7 143.6 373.0 143.7 374.2 143.8 375.5 143.9 376.7 144.1 378.0 144.3 379.2 144.5 380.4 144.9 381.5 145.3 382.6 145.9 383.7 146.6 384.6 147.4 385.4 148.3 386.2 149.2 386.9 150.3 387.6 151.3 388.1 152.4 388.7 153.6 389.1 154.7 389.6 155.9 390.0 157.1 390.4 158.3 390.7 159.5 391.0 160.7 391.3 161.9 391.6 163.1 391.9 164.3 392.2 165.5 392.6 166.7 392.9 167.9 393.2 169.2 393.6 170.4 393.9 171.6 394.2 172.8 394.6 174.0 394.9 175.2 395.2 176.4 395.6 177.6 395.9 178.8 396.2 180.0 323.0 181.2 323.0 23.4Z" fill="#ccf6fb"/><path d="M325.0 132.0L326.0 132.7 327.0 133.4 328.0 134.0 329.1 134.7 330.1 135.3 331.2 135.9 332.3 136.4 333.4 137.0 334.4 137.6 335.5 138.1 336.6 138.7 337.7 139.2 338.8 139.7 339.9 140.2 341.0 140.6 342.2 141.0 343.4 141.4 344.5 141.7 345.7 142.0 346.9 142.3 348.1 142.5 349.3 142.7 350.5 142.9 351.7 143.1 352.9 143.3 354.1 143.5 355.3 143.6 356.5 143.8 357.7 144.0 359.0 144.1 360.2 144.3 361.4 144.4 362.6 144.6 363.8 144.7 365.0 144.9 366.2 145.0 367.4 145.2 368.6 145.3 369.9 145.4 371.1 145.5 372.3 145.6 373.5 145.7 374.7 145.8 376.0 145.9 377.2 146.0 378.4 146.2 379.5 146.5 380.7 146.9 381.8 147.3 382.9 147.9 383.8 148.6 384.7 149.4 385.6 150.3 386.3 151.2 387.0 152.2 387.6 153.2 388.2 154.3 388.7 155.5 389.1 156.6 389.5 157.7 389.9 158.9 390.3 160.1 390.6 161.2 390.9 162.4 391.3 163.6 391.6 164.8 391.9 165.9 392.3 167.1 392.6 168.3 392.9 169.4 393.3 170.6 393.6 171.8 394.0 173.0 394.3 174.1 394.6 175.3 395.0 176.5 395.3 177.7 395.7 178.8 396.0 180.0 323.0 181.2 323.0 23.4Z" fill="#e0fafa"/><path d="M325.0 135.5L326.0 136.1 327.0 136.8 328.0 137.4 329.1 138.0 330.1 138.6 331.2 139.1 332.2 139.6 333.3 140.1 334.4 140.6 335.5 141.1 336.6 141.6 337.6 142.0 338.7 142.5 339.9 142.9 341.0 143.3 342.1 143.6 343.3 143.9 344.4 144.2 345.6 144.4 346.8 144.7 347.9 144.9 349.1 145.0 350.3 145.2 351.5 145.4 352.6 145.5 353.8 145.7 355.0 145.8 356.2 145.9 357.4 146.1 358.6 146.2 359.7 146.3 360.9 146.4 362.1 146.6 363.3 146.7 364.5 146.8 365.7 146.9 366.9 147.0 368.0 147.2 369.2 147.3 370.4 147.3 371.6 147.4 372.8 147.5 374.0 147.6 375.2 147.7 376.4 147.8 377.5 147.9 378.7 148.2 379.8 148.4 381.0 148.8 382.0 149.3 383.1 149.8 384.0 150.5 384.9 151.3 385.7 152.2 386.4 153.1 387.1 154.1 387.7 155.1 388.2 156.2 388.7 157.3 389.1 158.4 389.5 159.5 389.9 160.6 390.2 161.8 390.6 162.9 390.9 164.0 391.3 165.2 391.6 166.3 392.0 167.5 392.3 168.6 392.7 169.7 393.0 170.9 393.3 172.0 393.7 173.2 394.0 174.3 394.4 175.4 394.7 176.6 395.1 177.7 395.4 178.9 395.8 180.0 323.0 181.2 323.0 23.4Z" fill="#f0fdf8"/><path d="M325.0 139.0L325.6 139.4 326.4 139.8 327.4 140.4 328.5 141.1 329.9 141.7 331.4 142.4 333.1 143.1 334.9 143.8 337.0 144.6 339.2 145.4 341.7 146.1 344.4 146.7 347.6 147.2 351.2 147.6 355.1 148.0 359.0 148.3 362.7 148.6 365.9 148.9 368.7 149.1 371.2 149.3 373.4 149.4 375.5 149.5 377.3 149.7 379.0 150.0 380.4 150.3 381.6 150.7 382.6 151.1 383.4 151.6 384.2 152.2 385.0 153.0 385.8 153.8 386.4 154.6 387.0 155.4 387.6 156.6 388.2 158.0 389.0 160.0 390.0 162.8 391.2 166.4 392.5 170.4 393.7 174.3 394.8 177.7 395.5 180.0 323.0 181.2 323.0 23.4Z" fill="#f9fbec"/><path d="M325.0 140.5L326.0 141.1 327.0 141.7 328.0 142.2 329.0 142.7 330.0 143.2 331.0 143.7 332.1 144.1 333.2 144.6 334.2 145.0 335.3 145.4 336.3 145.8 337.4 146.2 338.5 146.6 339.6 146.9 340.7 147.2 341.8 147.5 342.9 147.8 344.0 148.0 345.1 148.3 346.2 148.4 347.4 148.6 348.5 148.8 349.6 148.9 350.7 149.1 351.9 149.2 353.0 149.4 354.1 149.5 355.3 149.6 356.4 149.7 357.5 149.8 358.7 149.9 359.8 150.0 361.0 150.1 362.1 150.2 363.2 150.3 364.4 150.4 365.5 150.5 366.6 150.6 367.8 150.7 368.9 150.7 370.0 150.8 371.2 150.9 372.3 150.9 373.5 151.0 374.6 151.0 375.7 151.1 376.9 151.3 378.0 151.4 379.1 151.7 380.2 152.0 381.3 152.3 382.3 152.8 383.3 153.4 384.1 154.1 385.0 154.9 385.7 155.7 386.4 156.6 387.0 157.6 387.5 158.6 388.0 159.6 388.4 160.7 388.9 161.7 389.3 162.8 389.7 163.8 390.1 164.9 390.5 166.0 390.8 167.1 391.2 168.1 391.6 169.2 392.0 170.3 392.3 171.4 392.7 172.4 393.1 173.5 393.4 174.6 393.8 175.7 394.2 176.8 394.5 177.8 394.9 178.9 395.2 180.0 323.0 181.2 323.0 23.4Z" fill="#fcf4d4"/><path d="M325.0 142.0L326.0 142.6 326.9 143.1 327.9 143.7 328.9 144.2 329.9 144.7 330.9 145.1 332.0 145.5 333.0 145.9 334.1 146.4 335.1 146.8 336.2 147.2 337.2 147.5 338.3 147.9 339.3 148.2 340.4 148.6 341.5 148.9 342.6 149.1 343.6 149.4 344.7 149.6 345.8 149.8 346.9 150.1 348.0 150.2 349.1 150.4 350.3 150.6 351.4 150.7 352.5 150.9 353.6 151.0 354.7 151.1 355.8 151.3 356.9 151.4 358.0 151.5 359.1 151.6 360.3 151.7 361.4 151.8 362.5 151.9 363.6 152.0 364.7 152.1 365.8 152.2 367.0 152.2 368.1 152.3 369.2 152.3 370.3 152.4 371.4 152.4 372.5 152.5 373.7 152.6 374.8 152.6 375.9 152.7 377.0 152.9 378.1 153.1 379.2 153.3 380.3 153.6 381.3 154.0 382.3 154.5 383.2 155.1 384.1 155.8 384.9 156.6 385.6 157.4 386.2 158.3 386.8 159.2 387.4 160.2 387.8 161.2 388.3 162.2 388.7 163.3 389.1 164.3 389.6 165.3 390.0 166.4 390.4 167.4 390.8 168.5 391.2 169.5 391.5 170.5 391.9 171.6 392.3 172.6 392.7 173.7 393.1 174.7 393.5 175.8 393.8 176.8 394.2 177.9 394.6 179.0 395.0 180.0 323.0 181.2 323.0 23.4Z" fill="#fdecc0"/><path d="M325.0 143.5L326.0 144.0 326.9 144.6 327.9 145.1 328.8 145.6 329.8 146.1 330.8 146.5 331.9 146.9 332.9 147.3 333.9 147.7 334.9 148.1 336.0 148.5 337.0 148.9 338.0 149.2 339.1 149.6 340.1 149.9 341.2 150.2 342.2 150.5 343.3 150.8 344.4 151.0 345.4 151.2 346.5 151.5 347.6 151.7 348.7 151.9 349.8 152.0 350.9 152.2 351.9 152.4 353.0 152.5 354.1 152.7 355.2 152.8 356.3 152.9 357.4 153.1 358.5 153.2 359.6 153.3 360.7 153.4 361.8 153.5 362.8 153.6 363.9 153.7 365.0 153.7 366.1 153.8 367.2 153.8 368.3 153.9 369.4 153.9 370.5 154.0 371.6 154.0 372.7 154.1 373.8 154.1 374.9 154.2 376.0 154.3 377.1 154.5 378.2 154.7 379.2 154.9 380.3 155.3 381.3 155.7 382.2 156.2 383.1 156.7 384.0 157.4 384.8 158.2 385.5 159.0 386.2 159.8 386.7 160.8 387.2 161.7 387.7 162.7 388.2 163.7 388.6 164.7 389.1 165.7 389.5 166.7 389.9 167.8 390.3 168.8 390.7 169.8 391.1 170.8 391.5 171.8 391.9 172.8 392.3 173.9 392.7 174.9 393.1 175.9 393.5 176.9 393.9 178.0 394.3 179.0 394.8 180.0 323.0 181.2 323.0 23.4Z" fill="#fce4b0"/><path d="M325.0 145.0L325.6 145.3 326.4 145.8 327.4 146.3 328.5 146.9 329.9 147.6 331.4 148.2 333.2 148.9 335.1 149.6 337.3 150.4 339.6 151.2 342.0 151.9 344.4 152.5 346.8 153.0 349.4 153.5 351.9 154.0 354.6 154.3 357.3 154.7 360.0 155.0 362.9 155.2 365.9 155.4 369.0 155.5 372.0 155.6 374.7 155.7 377.0 156.0 378.8 156.3 380.2 156.7 381.3 157.2 382.3 157.7 383.1 158.3 384.0 159.0 384.8 159.7 385.5 160.4 386.0 161.2 386.6 162.2 387.2 163.4 388.0 165.0 389.0 167.2 390.2 169.9 391.5 172.9 392.7 175.8 393.8 178.3 394.5 180.0 323.0 181.2 323.0 23.4Z" fill="#fcdaa0"/><path d="M325.0 146.8L325.9 147.3 326.8 147.8 327.8 148.3 328.7 148.8 329.7 149.3 330.6 149.7 331.6 150.1 332.6 150.4 333.6 150.8 334.6 151.2 335.6 151.5 336.6 151.9 337.6 152.2 338.6 152.5 339.6 152.8 340.6 153.1 341.6 153.4 342.7 153.7 343.7 154.0 344.7 154.2 345.7 154.5 346.8 154.7 347.8 154.9 348.9 155.1 349.9 155.2 350.9 155.4 352.0 155.6 353.0 155.7 354.1 155.8 355.1 156.0 356.2 156.1 357.2 156.2 358.3 156.3 359.3 156.4 360.4 156.5 361.4 156.6 362.5 156.6 363.6 156.7 364.6 156.7 365.7 156.8 366.7 156.8 367.8 156.9 368.8 156.9 369.9 156.9 371.0 157.0 372.0 157.0 373.1 157.1 374.1 157.2 375.2 157.3 376.2 157.4 377.3 157.6 378.3 157.8 379.3 158.0 380.3 158.4 381.3 158.8 382.2 159.3 383.1 159.9 383.9 160.5 384.6 161.3 385.3 162.1 385.9 163.0 386.4 163.9 386.9 164.8 387.4 165.7 387.9 166.7 388.4 167.6 388.9 168.5 389.3 169.5 389.8 170.4 390.2 171.4 390.7 172.3 391.1 173.3 391.6 174.3 392.0 175.2 392.5 176.2 392.9 177.1 393.4 178.1 393.8 179.0 394.2 180.0 323.0 181.2 323.0 23.4Z" fill="#fcce90"/><path d="M325.0 148.5L325.9 149.0 326.8 149.6 327.7 150.1 328.6 150.5 329.6 151.0 330.5 151.4 331.5 151.8 332.4 152.1 333.4 152.5 334.4 152.8 335.4 153.2 336.4 153.5 337.4 153.8 338.3 154.2 339.3 154.5 340.3 154.8 341.3 155.0 342.3 155.3 343.3 155.6 344.4 155.8 345.4 156.0 346.4 156.2 347.4 156.4 348.4 156.6 349.5 156.8 350.5 156.9 351.5 157.1 352.5 157.2 353.6 157.3 354.6 157.4 355.6 157.5 356.7 157.6 357.7 157.7 358.7 157.8 359.8 157.9 360.8 158.0 361.8 158.0 362.9 158.1 363.9 158.1 365.0 158.2 366.0 158.2 367.0 158.3 368.1 158.3 369.1 158.4 370.1 158.4 371.2 158.5 372.2 158.5 373.3 158.6 374.3 158.7 375.3 158.7 376.4 158.9 377.4 159.0 378.4 159.2 379.4 159.5 380.3 159.9 381.3 160.3 382.2 160.8 383.0 161.3 383.8 162.0 384.5 162.8 385.1 163.6 385.7 164.5 386.2 165.4 386.8 166.3 387.3 167.2 387.8 168.1 388.3 169.0 388.8 169.9 389.2 170.8 389.7 171.7 390.2 172.6 390.7 173.6 391.2 174.5 391.6 175.4 392.1 176.3 392.6 177.2 393.0 178.2 393.5 179.1 394.0 180.0 323.0 181.2 323.0 23.4Z" fill="#fcc084"/><path d="M325.0 150.2L325.9 150.8 326.7 151.3 327.6 151.8 328.5 152.3 329.4 152.7 330.4 153.1 331.3 153.5 332.3 153.8 333.3 154.2 334.2 154.5 335.2 154.8 336.2 155.2 337.1 155.5 338.1 155.8 339.1 156.1 340.1 156.4 341.0 156.6 342.0 156.9 343.0 157.1 344.0 157.4 345.0 157.6 346.0 157.8 347.0 158.0 348.0 158.2 349.0 158.3 350.0 158.5 351.0 158.6 352.0 158.7 353.1 158.8 354.1 158.9 355.1 159.0 356.1 159.1 357.1 159.2 358.1 159.2 359.2 159.3 360.2 159.4 361.2 159.4 362.2 159.5 363.2 159.5 364.2 159.6 365.3 159.6 366.3 159.7 367.3 159.7 368.3 159.8 369.3 159.8 370.4 159.9 371.4 159.9 372.4 160.0 373.4 160.0 374.4 160.1 375.4 160.2 376.4 160.3 377.5 160.5 378.4 160.7 379.4 161.0 380.4 161.3 381.3 161.7 382.2 162.2 383.0 162.8 383.7 163.5 384.3 164.3 384.9 165.1 385.5 166.0 386.1 166.8 386.6 167.7 387.2 168.5 387.7 169.4 388.2 170.3 388.7 171.2 389.2 172.0 389.7 172.9 390.2 173.8 390.7 174.7 391.2 175.6 391.7 176.5 392.2 177.3 392.7 178.2 393.2 179.1 393.8 180.0 323.0 181.2 323.0 23.4Z" fill="#fcb17c"/><path d="M325.0 152.0L325.6 152.3 326.3 152.8 327.2 153.4 328.3 154.0 329.7 154.6 331.4 155.3 333.5 156.0 335.9 156.8 338.5 157.6 341.4 158.4 344.3 159.1 347.2 159.7 350.2 160.1 353.5 160.4 356.8 160.6 360.0 160.8 363.1 160.9 365.9 161.1 368.4 161.2 370.6 161.3 372.7 161.4 374.7 161.5 376.4 161.7 378.0 162.0 379.3 162.3 380.3 162.6 381.2 162.9 382.0 163.4 382.9 164.2 384.0 165.5 385.5 167.4 387.3 170.1 389.1 173.0 390.9 175.8 392.4 178.3 393.5 180.0 323.0 181.2 323.0 23.4Z" fill="#fda071"/><path d="M325.0 153.5L325.8 154.0 326.7 154.5 327.5 155.0 328.4 155.5 329.3 155.9 330.2 156.3 331.1 156.6 332.0 157.0 333.0 157.3 333.9 157.6 334.8 157.9 335.8 158.1 336.7 158.4 337.7 158.7 338.6 159.0 339.6 159.2 340.5 159.5 341.5 159.7 342.4 159.9 343.4 160.1 344.4 160.4 345.3 160.5 346.3 160.7 347.3 160.9 348.2 161.0 349.2 161.2 350.2 161.3 351.2 161.4 352.1 161.5 353.1 161.6 354.1 161.7 355.1 161.8 356.0 161.9 357.0 162.0 358.0 162.0 359.0 162.1 360.0 162.2 360.9 162.2 361.9 162.3 362.9 162.4 363.9 162.4 364.9 162.5 365.9 162.6 366.8 162.6 367.8 162.7 368.8 162.7 369.8 162.7 370.8 162.8 371.7 162.8 372.7 162.9 373.7 162.9 374.7 163.0 375.7 163.1 376.6 163.3 377.6 163.4 378.6 163.6 379.5 163.9 380.4 164.2 381.3 164.7 382.1 165.2 382.8 165.9 383.5 166.5 384.1 167.3 384.8 168.0 385.4 168.8 386.0 169.5 386.6 170.3 387.1 171.1 387.7 171.9 388.3 172.7 388.8 173.5 389.4 174.3 389.9 175.1 390.5 175.9 391.0 176.8 391.6 177.6 392.1 178.4 392.7 179.2 393.2 180.0 323.0 181.2 323.0 23.4Z" fill="#fe8d62"/><path d="M325.0 155.0L325.8 155.5 326.7 156.0 327.5 156.5 328.3 156.9 329.2 157.3 330.1 157.7 331.0 158.1 331.9 158.4 332.9 158.7 333.8 158.9 334.7 159.2 335.6 159.5 336.6 159.7 337.5 160.0 338.4 160.2 339.4 160.4 340.3 160.7 341.3 160.9 342.2 161.1 343.1 161.3 344.1 161.5 345.0 161.7 346.0 161.9 346.9 162.1 347.9 162.2 348.8 162.4 349.8 162.5 350.8 162.6 351.7 162.7 352.7 162.9 353.6 163.0 354.6 163.1 355.6 163.2 356.5 163.3 357.5 163.4 358.4 163.5 359.4 163.5 360.4 163.6 361.3 163.7 362.3 163.8 363.3 163.8 364.2 163.9 365.2 164.0 366.1 164.0 367.1 164.1 368.1 164.1 369.0 164.1 370.0 164.2 371.0 164.2 371.9 164.3 372.9 164.3 373.9 164.4 374.8 164.5 375.8 164.6 376.7 164.8 377.7 164.9 378.6 165.1 379.6 165.4 380.4 165.7 381.2 166.2 382.0 166.7 382.8 167.3 383.5 168.0 384.1 168.6 384.8 169.3 385.4 170.1 386.0 170.8 386.6 171.5 387.2 172.3 387.8 173.1 388.4 173.8 389.0 174.6 389.6 175.4 390.1 176.1 390.7 176.9 391.3 177.7 391.8 178.5 392.4 179.2 393.0 180.0 323.0 181.2 323.0 23.4Z" fill="#ff7855"/><path d="M325.0 156.5L325.8 157.0 326.6 157.5 327.5 157.9 328.3 158.4 329.2 158.8 330.0 159.2 330.9 159.5 331.8 159.8 332.7 160.1 333.6 160.3 334.6 160.6 335.5 160.8 336.4 161.0 337.3 161.3 338.2 161.5 339.2 161.7 340.1 161.9 341.0 162.1 342.0 162.3 342.9 162.5 343.8 162.7 344.7 162.9 345.7 163.0 346.6 163.2 347.5 163.4 348.5 163.5 349.4 163.7 350.4 163.8 351.3 164.0 352.2 164.1 353.2 164.2 354.1 164.4 355.1 164.5 356.0 164.6 356.9 164.7 357.9 164.8 358.8 164.9 359.8 165.0 360.7 165.1 361.7 165.2 362.6 165.3 363.6 165.3 364.5 165.4 365.5 165.4 366.4 165.5 367.4 165.5 368.3 165.6 369.2 165.6 370.2 165.6 371.1 165.7 372.1 165.7 373.0 165.8 374.0 165.8 374.9 165.9 375.9 166.1 376.8 166.2 377.7 166.4 378.7 166.6 379.6 166.8 380.4 167.2 381.3 167.6 382.0 168.1 382.8 168.7 383.5 169.3 384.2 169.9 384.8 170.6 385.5 171.3 386.1 172.0 386.7 172.7 387.4 173.4 388.0 174.1 388.6 174.9 389.2 175.6 389.8 176.3 390.4 177.1 391.0 177.8 391.5 178.5 392.1 179.3 392.8 180.0 323.0 181.2 323.0 23.4Z" fill="#ff5d4c"/><path d="M325.0 158.0L325.6 158.3 326.4 158.8 327.4 159.4 328.5 160.0 329.9 160.6 331.4 161.1 333.2 161.6 335.1 162.1 337.3 162.6 339.6 163.1 342.0 163.5 344.4 164.0 346.8 164.5 349.4 164.9 352.0 165.4 354.7 165.8 357.3 166.2 360.0 166.5 362.7 166.7 365.6 166.9 368.5 167.0 371.3 167.1 373.8 167.3 376.0 167.5 377.7 167.7 378.9 167.9 379.9 168.2 380.8 168.6 381.8 169.1 383.0 170.0 384.5 171.3 386.3 173.1 388.2 175.2 389.9 177.1 391.4 178.8 392.5 180.0 323.0 181.2 323.0 23.4Z" fill="#ff4945"/><path d="M325.0 160.0L325.8 160.4 326.6 160.9 327.4 161.3 328.2 161.7 329.1 162.1 329.9 162.4 330.8 162.7 331.7 163.0 332.6 163.2 333.5 163.4 334.4 163.6 335.3 163.8 336.2 164.0 337.1 164.2 338.0 164.4 338.9 164.5 339.8 164.7 340.7 164.9 341.6 165.0 342.5 165.2 343.4 165.3 344.3 165.5 345.2 165.6 346.1 165.8 347.0 165.9 347.9 166.1 348.8 166.2 349.7 166.3 350.7 166.5 351.6 166.6 352.5 166.7 353.4 166.8 354.3 166.9 355.2 167.1 356.1 167.2 357.0 167.3 357.9 167.4 358.9 167.5 359.8 167.5 360.7 167.6 361.6 167.7 362.5 167.8 363.4 167.8 364.4 167.9 365.3 167.9 366.2 167.9 367.1 168.0 368.0 168.0 368.9 168.1 369.9 168.1 370.8 168.1 371.7 168.2 372.6 168.2 373.5 168.3 374.5 168.4 375.4 168.5 376.3 168.6 377.2 168.7 378.1 168.9 379.0 169.0 379.9 169.3 380.7 169.7 381.5 170.1 382.3 170.6 383.0 171.1 383.7 171.7 384.4 172.3 385.1 172.9 385.8 173.5 386.5 174.1 387.1 174.8 387.8 175.4 388.4 176.1 389.0 176.7 389.7 177.4 390.3 178.0 391.0 178.7 391.6 179.4 392.2 180.0 323.0 181.2 323.0 23.4Z" fill="#ff3b3f"/><path d="M325.0 162.0L325.8 162.4 326.6 162.8 327.4 163.2 328.2 163.6 329.1 163.9 329.9 164.3 330.8 164.5 331.7 164.8 332.5 165.0 333.4 165.2 334.3 165.4 335.2 165.5 336.1 165.7 337.0 165.9 337.9 166.0 338.8 166.2 339.7 166.3 340.6 166.4 341.5 166.6 342.3 166.7 343.2 166.8 344.1 167.0 345.0 167.1 345.9 167.2 346.8 167.3 347.7 167.4 348.6 167.5 349.5 167.6 350.4 167.7 351.3 167.8 352.2 167.9 353.1 168.0 354.0 168.1 354.9 168.2 355.8 168.3 356.7 168.4 357.6 168.4 358.5 168.5 359.4 168.6 360.3 168.6 361.2 168.7 362.1 168.8 363.0 168.8 363.9 168.9 364.9 168.9 365.8 169.0 366.7 169.0 367.6 169.0 368.5 169.1 369.4 169.1 370.3 169.2 371.2 169.2 372.1 169.2 373.0 169.3 373.9 169.4 374.8 169.4 375.7 169.5 376.6 169.6 377.5 169.8 378.4 170.0 379.3 170.2 380.1 170.5 380.9 170.9 381.7 171.3 382.5 171.8 383.2 172.3 383.9 172.8 384.6 173.4 385.3 173.9 386.0 174.5 386.7 175.1 387.4 175.7 388.0 176.3 388.7 176.9 389.4 177.5 390.0 178.2 390.7 178.8 391.3 179.4 392.0 180.0 323.0 181.2 323.0 23.4Z" fill="#ff2d3a"/><path d="M325.0 164.0L325.8 164.4 326.6 164.8 327.4 165.1 328.2 165.5 329.1 165.8 329.9 166.1 330.8 166.3 331.6 166.6 332.5 166.7 333.4 166.9 334.3 167.1 335.1 167.2 336.0 167.4 336.9 167.5 337.8 167.6 338.7 167.8 339.6 167.9 340.4 168.0 341.3 168.1 342.2 168.2 343.1 168.3 344.0 168.4 344.9 168.5 345.8 168.6 346.6 168.7 347.5 168.8 348.4 168.9 349.3 168.9 350.2 169.0 351.1 169.1 352.0 169.2 352.9 169.2 353.7 169.3 354.6 169.3 355.5 169.4 356.4 169.5 357.3 169.5 358.2 169.6 359.1 169.6 360.0 169.7 360.9 169.7 361.8 169.8 362.6 169.8 363.5 169.9 364.4 169.9 365.3 170.0 366.2 170.0 367.1 170.1 368.0 170.1 368.9 170.1 369.8 170.2 370.7 170.2 371.6 170.3 372.5 170.3 373.3 170.3 374.2 170.4 375.1 170.5 376.0 170.6 376.9 170.7 377.8 170.9 378.6 171.1 379.5 171.4 380.3 171.7 381.1 172.0 381.9 172.4 382.7 172.9 383.4 173.3 384.2 173.9 384.9 174.4 385.6 174.9 386.3 175.4 387.0 176.0 387.7 176.6 388.3 177.1 389.0 177.7 389.7 178.3 390.4 178.9 391.1 179.4 391.8 180.0 323.0 181.2 323.0 23.4Z" fill="#fb2738"/><path d="M325.0 166.0L325.6 166.3 326.4 166.6 327.4 167.0 328.5 167.5 329.8 167.9 331.4 168.3 333.2 168.6 335.2 168.9 337.3 169.2 339.7 169.5 342.3 169.8 345.0 170.0 348.0 170.2 351.4 170.4 354.9 170.5 358.5 170.7 361.9 170.8 365.0 171.0 367.8 171.2 370.5 171.2 373.0 171.3 375.4 171.5 377.8 171.9 380.0 172.5 382.3 173.5 384.5 174.8 386.7 176.3 388.6 177.8 390.3 179.1 391.5 180.0 323.0 181.2 323.0 23.4Z" fill="#e01330"/></g><path d="M424.4 25.0L424.4 72.0 423.5 80.0 423.0 100.0 422.5 130.0 420.0 134.0 418.0 148.4 415.9 162.0 413.8 174.0 460.0 180.0 460.0 25.0Z" fill="#a6f0fe"/><mask id="mk02" maskUnits="userSpaceOnUse" x="321.0" y="21.4" width="139.8" height="161.8"><rect x="321.0" y="21.4" width="139.8" height="161.8" fill="#fff"/><rect transform="translate(353.5 114.5) rotate(15)" x="-3.9" y="-9.5" width="7.7" height="10.3" fill="#000"/><rect transform="translate(369.8 128) rotate(10)" x="-8.0" y="-9.5" width="15.9" height="10.3" fill="#000"/><rect transform="translate(386 144) rotate(60)" x="-8.0" y="-9.5" width="15.9" height="10.3" fill="#000"/><rect transform="translate(363 139.5) rotate(0)" x="-8.0" y="-9.5" width="15.9" height="10.3" fill="#000"/><rect transform="translate(369.5 152.3) rotate(0)" x="-3.9" y="-9.5" width="7.7" height="10.3" fill="#000"/><rect transform="translate(353 158.6) rotate(0)" x="-8.0" y="-9.5" width="15.9" height="10.3" fill="#000"/><rect transform="translate(374.4 165.8) rotate(0)" x="-8.0" y="-9.5" width="15.9" height="10.3" fill="#000"/><rect transform="translate(358 172) rotate(0)" x="-8.0" y="-9.5" width="15.9" height="10.3" fill="#000"/><rect transform="translate(427 78.5) rotate(-90)" x="-6.1" y="-6.9" width="12.2" height="7.5" fill="#000"/><rect transform="translate(425.5 116) rotate(-90)" x="-6.1" y="-6.9" width="12.2" height="7.5" fill="#000"/></mask><g mask="url(#mk02)"><path d="M337.5 25.0L337.5 31.5 337.5 40.9 337.6 51.8 337.6 62.8 337.6 72.7 337.7 80.0 337.8 84.5 337.8 87.4 337.9 89.0 337.9 89.9 338.0 90.8 338.2 92.0 338.4 93.5 338.6 94.9 338.9 96.1 339.2 97.3 339.6 98.4 340.0 99.5 340.5 100.6 341.1 101.7 341.7 102.7 342.4 103.7 343.2 104.7 344.0 105.5 344.9 106.3 345.8 106.9 346.8 107.6 347.8 108.1 348.9 108.7 350.0 109.2 351.2 109.7 352.4 110.1 353.6 110.5 355.0 110.9 356.4 111.3 358.0 111.8 359.8 112.3 361.8 112.8 364.0 113.3 366.1 113.9 368.2 114.5 370.0 115.1 371.6 115.7 373.1 116.3 374.5 116.9 375.9 117.6 377.2 118.4 378.6 119.4 380.0 120.5 381.5 121.8 383.0 123.2 384.4 124.6 385.8 126.3 387.2 128.0 388.5 129.9 389.8 132.0 391.1 134.1 392.3 136.4 393.4 138.7 394.4 141.0 395.3 143.2 396.1 145.3 396.9 147.4 397.5 149.7 398.1 152.3 398.7 155.3 399.2 159.1 399.7 163.7 400.1 168.5 400.5 173.2 400.8 177.2 401.0 180.0" fill="none" stroke="#000" stroke-width="1.4"/><path d="M332.2 25.0L332.2 30.1 332.3 37.3 332.3 45.8 332.4 54.6 332.4 63.0 332.5 70.0 332.6 75.9 332.7 81.3 332.8 86.2 332.9 90.6 333.0 94.6 333.2 98.0 333.4 100.7 333.6 102.8 333.8 104.3 334.1 105.5 334.5 106.7 335.0 108.0 335.6 109.4 336.2 110.8 337.0 112.1 337.8 113.3 338.8 114.5 340.0 115.5 341.4 116.5 343.0 117.3 344.7 118.1 346.5 118.8 348.3 119.4 350.0 120.0 351.7 120.5 353.4 120.9 355.1 121.2 356.8 121.4 358.5 121.7 360.2 122.0 361.9 122.3 363.5 122.6 365.2 122.9 366.8 123.2 368.4 123.5 370.0 123.8 371.5 124.1 373.0 124.4 374.5 124.6 375.9 125.0 377.3 125.4 378.6 126.0 379.8 126.7 380.9 127.5 382.0 128.4 383.0 129.5 384.0 130.7 385.0 132.0 386.0 133.5 387.1 135.2 388.1 137.1 389.1 139.0 390.1 141.0 391.0 143.0 391.8 144.9 392.6 146.8 393.4 148.7 394.1 150.8 394.8 153.2 395.5 156.0 396.2 159.6 397.0 164.1 397.8 168.8 398.5 173.4 399.1 177.3 399.5 180.0" fill="none" stroke="#000" stroke-width="1.4"/><path d="M325.0 110.0L325.7 110.5 326.5 111.2 327.6 112.1 328.8 113.1 330.0 114.1 331.4 115.1 332.8 116.2 334.2 117.5 335.8 118.8 337.5 120.1 339.4 121.3 341.5 122.3 344.0 123.1 346.9 123.8 349.9 124.4 353.0 124.9 356.0 125.4 358.7 125.9 361.2 126.4 363.6 127.0 365.9 127.5 368.1 128.0 370.1 128.5 372.0 129.0 373.7 129.5 375.1 129.9 376.5 130.3 377.7 130.8 378.8 131.3 380.0 132.0 381.1 132.8 382.2 133.6 383.2 134.6 384.1 135.6 385.1 136.7 386.0 138.0 386.9 139.4 387.8 141.0 388.7 142.6 389.5 144.4 390.3 146.2 391.0 148.0 391.7 149.8 392.3 151.6 392.8 153.4 393.4 155.3 393.9 157.5 394.5 160.0 395.2 163.1 395.9 166.8 396.7 170.8 397.4 174.5 398.1 177.7 398.5 180.0" fill="none" stroke="#000" stroke-width="1.4"/><path d="M325.0 119.0L325.6 119.5 326.4 120.1 327.4 120.9 328.5 121.8 329.9 122.7 331.4 123.7 333.1 124.8 335.0 126.0 337.1 127.4 339.4 128.7 341.8 129.9 344.4 130.9 347.2 131.7 350.3 132.4 353.6 133.0 356.9 133.5 360.0 134.0 363.0 134.5 365.8 135.0 368.6 135.3 371.3 135.7 373.8 136.0 376.1 136.5 378.0 137.0 379.5 137.7 380.7 138.4 381.6 139.2 382.4 140.0 383.2 141.0 384.0 142.0 384.9 143.1 385.8 144.3 386.6 145.6 387.4 146.9 388.2 148.4 389.0 150.0 389.7 151.7 390.4 153.5 391.0 155.4 391.7 157.4 392.3 159.6 393.0 162.0 393.8 164.9 394.6 168.2 395.5 171.8 396.3 175.1 397.0 178.0 397.5 180.0" fill="none" stroke="#000" stroke-width="1.4"/><path d="M325.0 125.0L325.6 125.5 326.4 126.1 327.4 126.8 328.5 127.6 329.9 128.5 331.4 129.5 333.1 130.6 334.9 131.8 337.0 133.1 339.2 134.4 341.7 135.6 344.4 136.7 347.6 137.6 351.2 138.4 355.1 139.2 359.0 139.9 362.6 140.5 365.9 141.0 368.8 141.4 371.4 141.7 373.9 141.9 376.2 142.1 378.2 142.4 380.0 142.8 381.5 143.3 382.7 143.9 383.6 144.5 384.4 145.2 385.2 146.1 386.0 147.0 386.8 148.1 387.5 149.3 388.2 150.6 388.9 152.0 389.4 153.5 390.0 155.0 390.5 156.5 390.9 158.0 391.2 159.6 391.6 161.2 392.0 163.0 392.5 165.0 393.1 167.4 393.9 170.2 394.7 173.1 395.4 175.9 396.0 178.3 396.5 180.0" fill="none" stroke="#000" stroke-width="1.4"/><path d="M325.0 139.0L325.6 139.4 326.4 139.8 327.4 140.4 328.5 141.1 329.9 141.7 331.4 142.4 333.1 143.1 334.9 143.8 337.0 144.6 339.2 145.4 341.7 146.1 344.4 146.7 347.6 147.2 351.2 147.6 355.1 148.0 359.0 148.3 362.7 148.6 365.9 148.9 368.7 149.1 371.2 149.3 373.4 149.4 375.5 149.5 377.3 149.7 379.0 150.0 380.4 150.3 381.6 150.7 382.6 151.1 383.4 151.6 384.2 152.2 385.0 153.0 385.8 153.8 386.4 154.6 387.0 155.4 387.6 156.6 388.2 158.0 389.0 160.0 390.0 162.8 391.2 166.4 392.5 170.4 393.7 174.3 394.8 177.7 395.5 180.0" fill="none" stroke="#000" stroke-width="1.4"/><path d="M325.0 145.0L325.6 145.3 326.4 145.8 327.4 146.3 328.5 146.9 329.9 147.6 331.4 148.2 333.2 148.9 335.1 149.6 337.3 150.4 339.6 151.2 342.0 151.9 344.4 152.5 346.8 153.0 349.4 153.5 351.9 154.0 354.6 154.3 357.3 154.7 360.0 155.0 362.9 155.2 365.9 155.4 369.0 155.5 372.0 155.6 374.7 155.7 377.0 156.0 378.8 156.3 380.2 156.7 381.3 157.2 382.3 157.7 383.1 158.3 384.0 159.0 384.8 159.7 385.5 160.4 386.0 161.2 386.6 162.2 387.2 163.4 388.0 165.0 389.0 167.2 390.2 169.9 391.5 172.9 392.7 175.8 393.8 178.3 394.5 180.0" fill="none" stroke="#000" stroke-width="1.4"/><path d="M325.0 152.0L325.6 152.3 326.3 152.8 327.2 153.4 328.3 154.0 329.7 154.6 331.4 155.3 333.5 156.0 335.9 156.8 338.5 157.6 341.4 158.4 344.3 159.1 347.2 159.7 350.2 160.1 353.5 160.4 356.8 160.6 360.0 160.8 363.1 160.9 365.9 161.1 368.4 161.2 370.6 161.3 372.7 161.4 374.7 161.5 376.4 161.7 378.0 162.0 379.3 162.3 380.3 162.6 381.2 162.9 382.0 163.4 382.9 164.2 384.0 165.5 385.5 167.4 387.3 170.1 389.1 173.0 390.9 175.8 392.4 178.3 393.5 180.0" fill="none" stroke="#000" stroke-width="1.4"/><path d="M325.0 158.0L325.6 158.3 326.4 158.8 327.4 159.4 328.5 160.0 329.9 160.6 331.4 161.1 333.2 161.6 335.1 162.1 337.3 162.6 339.6 163.1 342.0 163.5 344.4 164.0 346.8 164.5 349.4 164.9 352.0 165.4 354.7 165.8 357.3 166.2 360.0 166.5 362.7 166.7 365.6 166.9 368.5 167.0 371.3 167.1 373.8 167.3 376.0 167.5 377.7 167.7 378.9 167.9 379.9 168.2 380.8 168.6 381.8 169.1 383.0 170.0 384.5 171.3 386.3 173.1 388.2 175.2 389.9 177.1 391.4 178.8 392.5 180.0" fill="none" stroke="#000" stroke-width="1.4"/><path d="M325.0 166.0L325.6 166.3 326.4 166.6 327.4 167.0 328.5 167.5 329.8 167.9 331.4 168.3 333.2 168.6 335.2 168.9 337.3 169.2 339.7 169.5 342.3 169.8 345.0 170.0 348.0 170.2 351.4 170.4 354.9 170.5 358.5 170.7 361.9 170.8 365.0 171.0 367.8 171.2 370.5 171.2 373.0 171.3 375.4 171.5 377.8 171.9 380.0 172.5 382.3 173.5 384.5 174.8 386.7 176.3 388.6 177.8 390.3 179.1 391.5 180.0" fill="none" stroke="#000" stroke-width="1.4"/><path d="M424.4 25.0L424.4 72.0" fill="none" stroke="#000" stroke-width="1.6" stroke-linejoin="round"/><path d="M423.5 86.0L423.4 87.3 423.4 89.0 423.3 91.1 423.2 93.6 423.1 96.6 423.0 100.0 422.9 104.4 422.8 109.9 422.7 115.9 422.6 121.6 422.6 126.6 422.5 130.0" fill="none" stroke="#000" stroke-width="1.2" stroke-linejoin="round"/><path d="M413.8 173.5L414.0 172.3 414.3 170.6 414.7 168.6 415.1 166.4 415.5 164.2 415.9 162.0 416.3 159.9 416.6 157.7 417.0 155.4 417.3 153.1 417.7 150.7 418.0 148.4 418.4 145.9 418.7 143.1 419.1 140.4 419.5 137.8 419.8 135.6 420.0 134.0" fill="none" stroke="#000" stroke-width="2.4" stroke-linejoin="round"/></g><text transform="translate(353.5 114.5) rotate(15) scale(1 1.12)" font-size="11" text-anchor="middle" style="stroke:#000;stroke-width:0.35px;fill:#000">1</text><text transform="translate(369.8 128) rotate(10) scale(1 1.12)" font-size="11" text-anchor="middle" style="stroke:#000;stroke-width:0.35px;fill:#000">1.2</text><text transform="translate(386 144) rotate(60) scale(1 1.12)" font-size="11" text-anchor="middle" style="stroke:#000;stroke-width:0.35px;fill:#000">1.4</text><text transform="translate(363 139.5) rotate(0) scale(1 1.12)" font-size="11" text-anchor="middle" style="stroke:#000;stroke-width:0.35px;fill:#000">1.6</text><text transform="translate(369.5 152.3) rotate(0) scale(1 1.12)" font-size="11" text-anchor="middle" style="stroke:#000;stroke-width:0.35px;fill:#000">2</text><text transform="translate(353 158.6) rotate(0) scale(1 1.12)" font-size="11" text-anchor="middle" style="stroke:#000;stroke-width:0.35px;fill:#000">2.2</text><text transform="translate(374.4 165.8) rotate(0) scale(1 1.12)" font-size="11" text-anchor="middle" style="stroke:#000;stroke-width:0.35px;fill:#000">2.4</text><text transform="translate(358 172) rotate(0) scale(1 1.12)" font-size="11" text-anchor="middle" style="stroke:#000;stroke-width:0.35px;fill:#000">2.6</text><text transform="translate(427 78.5) rotate(-90) scale(1 1.12)" font-size="8" text-anchor="middle" style="stroke:#000;stroke-width:0.35px;fill:#000">1.4</text><text transform="translate(425.5 116) rotate(-90) scale(1 1.12)" font-size="8" text-anchor="middle" style="stroke:#000;stroke-width:0.35px;fill:#000">1.2</text></g><path d="M331.00 173.20v-5.2M331.00 31.40v5.2M331.00 173.20h5.2M450.80 173.20h-5.2M336.99 173.20v-3.0M336.99 31.40v3.0M331.00 166.11h3.0M450.80 166.11h-3.0M342.98 173.20v-3.0M342.98 31.40v3.0M331.00 159.02h3.0M450.80 159.02h-3.0M348.97 173.20v-3.0M348.97 31.40v3.0M331.00 151.93h3.0M450.80 151.93h-3.0M354.96 173.20v-3.0M354.96 31.40v3.0M331.00 144.84h3.0M450.80 144.84h-3.0M360.95 173.20v-5.2M360.95 31.40v5.2M331.00 137.75h5.2M450.80 137.75h-5.2M366.94 173.20v-3.0M366.94 31.40v3.0M331.00 130.66h3.0M450.80 130.66h-3.0M372.93 173.20v-3.0M372.93 31.40v3.0M331.00 123.57h3.0M450.80 123.57h-3.0M378.92 173.20v-3.0M378.92 31.40v3.0M331.00 116.48h3.0M450.80 116.48h-3.0M384.91 173.20v-3.0M384.91 31.40v3.0M331.00 109.39h3.0M450.80 109.39h-3.0M390.90 173.20v-5.2M390.90 31.40v5.2M331.00 102.30h5.2M450.80 102.30h-5.2M396.89 173.20v-3.0M396.89 31.40v3.0M331.00 95.21h3.0M450.80 95.21h-3.0M402.88 173.20v-3.0M402.88 31.40v3.0M331.00 88.12h3.0M450.80 88.12h-3.0M408.87 173.20v-3.0M408.87 31.40v3.0M331.00 81.03h3.0M450.80 81.03h-3.0M414.86 173.20v-3.0M414.86 31.40v3.0M331.00 73.94h3.0M450.80 73.94h-3.0M420.85 173.20v-5.2M420.85 31.40v5.2M331.00 66.85h5.2M450.80 66.85h-5.2M426.84 173.20v-3.0M426.84 31.40v3.0M331.00 59.76h3.0M450.80 59.76h-3.0M432.83 173.20v-3.0M432.83 31.40v3.0M331.00 52.67h3.0M450.80 52.67h-3.0M438.82 173.20v-3.0M438.82 31.40v3.0M331.00 45.58h3.0M450.80 45.58h-3.0M444.81 173.20v-3.0M444.81 31.40v3.0M331.00 38.49h3.0M450.80 38.49h-3.0M450.80 173.20v-5.2M450.80 31.40v5.2M331.00 31.40h5.2M450.80 31.40h-5.2" stroke="#000" stroke-width="1.25" fill="none"/><rect x="331.0" y="31.4" width="119.80" height="141.80" fill="none" stroke="#000" stroke-width="1.6"/><text transform="translate(332.40 186.90) scale(1 1.15)" font-size="10.5" text-anchor="middle">−2</text><text transform="translate(362.35 186.90) scale(1 1.15)" font-size="10.5" text-anchor="middle">−1</text><text transform="translate(390.90 186.90) scale(1 1.15)" font-size="10.5" text-anchor="middle">0</text><text transform="translate(420.85 186.90) scale(1 1.15)" font-size="10.5" text-anchor="middle">1</text><text transform="translate(450.80 186.90) scale(1 1.15)" font-size="10.5" text-anchor="middle">2</text><rect x="451.5" y="44.9" width="13.10" height="114.60" fill="url(#cbg)"/><text transform="translate(468.10 49.40) scale(1 1.15)" font-size="10.5">3</text><text transform="translate(468.10 78.05) scale(1 1.15)" font-size="10.5">2.5</text><text transform="translate(468.10 106.70) scale(1 1.15)" font-size="10.5">2</text><text transform="translate(468.10 135.35) scale(1 1.15)" font-size="10.5">1.5</text><text transform="translate(468.10 164.00) scale(1 1.15)" font-size="10.5">1</text><text transform="translate(490.5 102.2) rotate(90)" font-size="11.8" text-anchor="middle" style="stroke-width:0.3px">log<tspan font-size="7" dy="1.5">10</tspan><tspan dy="-1.5">(15%O</tspan><tspan font-size="7" dy="1.5">2</tspan><tspan dy="-1.5"> NO [ppmv])</tspan></text><g clip-path="url(#cp10)"><rect x="36.4" y="200.4" width="120.30" height="141.90" fill="#2006d8"/><path d="M128.0 195.0L148.4 195.0 148.4 230.0 147.7 255.4 145.8 274.5 142.0 291.0 138.3 299.7 124.5 348.0 120.9 348.0 120.9 300.0 123.0 285.0 128.0 280.0Z" fill="#1818ec"/><path d="M147.4 195.0L149.4 195.0 149.2 255.0 146.8 275.0 144.6 286.0 133.0 348.0 124.5 348.0 138.3 299.7 142.0 291.0 145.8 274.5 147.4 255.4Z" fill="#2d68f5"/><path d="M144.6 286.0L142.5 293.0 133.0 330.0 129.5 348.0 133.0 348.0Z" fill="#388af8"/><path d="M114.5 195.0L121.6 195.0 121.6 282.0 119.0 290.0 117.5 300.0 117.0 348.0 114.5 348.0Z" fill="#ff845b"/><path d="M121.3 195.0L123.5 195.0 123.5 280.0 121.0 290.0 119.5 290.0 121.3 280.0Z" fill="#fce0a8"/><path d="M123.5 195.0L128.2 195.0 128.2 280.0 124.0 290.0 120.9 300.0 120.9 348.0 117.2 348.0 117.4 300.0 120.5 288.0 123.5 280.0Z" fill="#000"/><path d="M150.2 195.0L152.6 195.0 152.6 250.0 151.5 275.0 148.5 300.0 142.0 325.0 138.0 348.0 133.0 348.0 144.6 286.0 146.8 275.0 149.6 255.0Z" fill="#000"/><path d="M122.2 240.0L128.0 240.0 128.0 281.0 124.0 290.0 121.5 296.0 121.5 281.0Z" fill="#efe0c4"/><g filter="url(#bl10)"><path d="M114.8 190.0L114.8 199.0 114.8 211.9 114.8 227.0 114.8 242.5 114.8 256.8 114.8 268.0 114.8 275.8 114.9 281.4 115.0 285.8 115.0 289.7 115.1 294.2 115.2 300.0 115.3 307.9 115.4 317.2 115.5 327.0 115.6 336.4 115.7 344.4 115.8 350.0 28.4 350.3 28.4 192.4Z" fill="#fe2c39"/><path d="M91.3 190.0L91.3 192.2 91.3 194.4 91.3 196.6 91.2 198.8 91.2 201.0 91.2 203.2 91.2 205.3 91.2 207.5 91.2 209.7 91.3 211.9 91.3 214.1 91.3 216.3 91.3 218.5 91.4 220.7 91.6 222.9 91.7 225.0 91.9 227.2 92.1 229.4 92.3 231.6 92.6 233.7 92.8 235.8 93.2 238.0 93.7 240.0 94.4 241.9 95.0 243.7 95.8 245.5 96.6 247.1 97.4 248.7 98.2 250.2 99.0 251.7 99.9 253.2 100.7 254.7 101.5 256.2 102.4 257.7 103.2 259.1 104.0 260.6 104.9 262.2 105.6 263.8 106.4 265.6 107.1 267.4 107.8 269.2 108.5 271.0 109.2 272.8 109.9 274.7 110.6 276.5 111.3 278.4 111.9 280.4 112.4 282.4 112.8 284.5 113.2 286.6 113.5 288.7 113.8 290.9 114.0 293.1 114.2 295.2 114.3 297.4 114.4 299.6 114.5 301.8 114.6 304.0 114.7 306.2 114.8 308.4 114.9 310.5 115.0 312.7 115.0 314.9 115.1 317.1 115.1 319.3 115.2 321.5 115.2 323.7 115.3 325.9 115.3 328.1 115.4 330.3 115.4 332.5 115.4 334.7 115.5 336.8 115.5 339.0 115.5 341.2 115.6 343.4 115.6 345.6 115.6 347.8 115.7 350.0 28.4 350.3 28.4 192.4Z" fill="#fc2938"/><path d="M67.7 190.0L67.7 192.4 67.7 194.7 67.7 197.1 67.7 199.4 67.7 201.8 67.7 204.2 67.7 206.5 67.7 208.9 67.7 211.2 67.7 213.6 67.8 216.0 67.8 218.3 67.9 220.7 68.1 223.0 68.4 225.4 68.7 227.7 69.0 230.0 69.4 232.3 69.9 234.6 70.3 236.9 70.9 239.2 71.7 241.3 72.7 243.3 73.9 245.2 75.3 246.9 76.8 248.3 78.4 249.5 80.0 250.6 81.6 251.7 83.3 252.7 84.9 253.6 86.6 254.6 88.3 255.6 89.9 256.5 91.6 257.4 93.3 258.3 94.9 259.4 96.5 260.7 97.9 262.2 99.3 263.8 100.8 265.4 102.2 267.0 103.6 268.6 105.0 270.2 106.4 271.8 107.7 273.6 108.8 275.5 109.8 277.6 110.7 279.7 111.4 281.9 112.0 284.2 112.5 286.4 112.8 288.8 113.1 291.1 113.4 293.4 113.6 295.8 113.8 298.1 114.0 300.5 114.1 302.8 114.3 305.2 114.4 307.5 114.5 309.9 114.6 312.3 114.7 314.6 114.8 317.0 114.9 319.3 115.0 321.7 115.0 324.1 115.1 326.4 115.1 328.8 115.2 331.1 115.2 333.5 115.3 335.8 115.3 338.2 115.4 340.6 115.4 342.9 115.5 345.3 115.5 347.6 115.5 350.0 28.4 350.3 28.4 192.4Z" fill="#fa2537"/><path d="M44.2 190.0L44.2 192.9 44.2 197.0 44.2 201.8 44.1 206.7 44.2 211.3 44.2 215.0 44.3 217.7 44.3 219.9 44.4 221.6 44.5 223.3 44.7 225.0 45.0 227.0 45.4 229.4 46.0 232.0 46.6 234.8 47.3 237.4 48.0 239.8 48.7 241.8 49.4 243.4 50.0 244.6 50.7 245.6 51.4 246.4 52.1 247.2 53.0 248.0 53.9 248.8 54.8 249.5 55.8 250.1 56.9 250.7 58.1 251.3 59.6 251.8 61.4 252.3 63.4 252.8 65.6 253.3 67.9 253.7 70.2 254.1 72.4 254.5 74.6 254.9 76.8 255.2 79.1 255.5 81.2 255.8 83.2 256.2 85.0 256.6 86.5 257.1 87.7 257.7 88.8 258.4 89.9 259.1 90.9 259.8 92.0 260.5 93.2 261.2 94.4 262.0 95.6 262.7 96.8 263.5 97.9 264.2 99.0 265.0 100.0 265.7 101.0 266.4 102.0 267.1 103.0 267.9 103.8 268.6 104.7 269.5 105.5 270.4 106.3 271.4 107.0 272.5 107.7 273.6 108.4 274.7 109.0 276.0 109.6 277.3 110.1 278.6 110.5 279.9 111.0 281.4 111.4 283.2 111.8 285.2 112.2 287.6 112.6 290.2 112.9 293.1 113.2 296.2 113.5 299.3 113.8 302.5 114.0 305.7 114.2 308.9 114.4 312.1 114.5 315.6 114.7 319.2 114.8 323.0 114.9 327.4 115.1 332.5 115.2 337.8 115.3 342.8 115.3 347.0 115.4 350.0 28.4 350.3 28.4 192.4Z" fill="#f72236"/><path d="M38.8 212.0L39.4 213.9 40.0 215.8 40.6 217.7 41.1 219.6 41.7 221.5 42.3 223.4 42.9 225.3 43.5 227.3 44.1 229.2 44.7 231.1 45.3 232.9 46.0 234.8 46.7 236.6 47.5 238.4 48.4 240.2 49.3 242.0 50.3 243.8 51.3 245.5 52.4 247.3 53.5 249.1 54.7 250.8 56.0 252.4 57.7 253.9 59.5 255.2 61.5 256.3 63.6 257.2 65.8 257.9 68.0 258.5 70.3 259.0 72.6 259.5 74.8 259.9 77.1 260.4 79.4 260.8 81.6 261.3 83.9 261.7 86.1 262.2 88.3 262.9 90.5 263.8 92.4 265.0 94.3 266.4 96.2 267.7 98.0 269.0 99.8 270.5 101.5 272.0 103.1 273.6 104.5 275.3 105.8 277.1 107.0 279.1 108.0 281.2 108.8 283.3 109.5 285.5 110.1 287.7 110.6 290.0 111.0 292.3 111.3 294.6 111.6 296.9 111.9 299.2 112.1 301.5 112.4 303.8 112.6 306.1 112.8 308.4 113.0 310.7 113.2 313.0 113.3 315.3 113.5 317.6 113.6 319.9 113.7 322.2 113.8 324.6 113.9 326.9 114.0 329.2 114.1 331.5 114.2 333.8 114.3 336.1 114.3 338.4 114.4 340.7 114.5 343.1 114.6 345.4 114.6 347.7 114.7 350.0 28.4 350.3 28.4 192.4Z" fill="#f51d34"/><path d="M33.4 234.0L34.6 235.3 35.8 236.5 37.0 237.8 38.1 239.1 39.3 240.3 40.5 241.7 41.6 243.0 42.8 244.3 44.0 245.6 45.2 246.8 46.4 248.0 47.7 249.2 49.0 250.3 50.3 251.5 51.6 252.6 53.0 253.7 54.4 254.8 55.9 255.8 57.3 256.9 58.8 258.0 60.3 259.1 61.9 260.1 63.7 261.0 65.5 261.9 67.4 262.6 69.4 263.3 71.4 263.8 73.5 264.4 75.5 264.8 77.6 265.3 79.6 265.8 81.7 266.3 83.7 266.8 85.7 267.2 87.8 267.8 89.8 268.4 91.7 269.1 93.6 270.1 95.3 271.2 97.0 272.5 98.7 273.8 100.2 275.2 101.6 276.7 102.9 278.3 104.0 280.0 105.0 281.7 106.0 283.5 106.8 285.5 107.5 287.4 108.1 289.4 108.7 291.4 109.1 293.5 109.5 295.5 109.9 297.6 110.2 299.7 110.4 301.8 110.7 303.9 111.0 306.0 111.2 308.0 111.4 310.1 111.7 312.2 111.9 314.3 112.1 316.4 112.2 318.5 112.4 320.6 112.6 322.7 112.7 324.8 112.9 326.9 113.0 329.0 113.1 331.1 113.2 333.2 113.3 335.3 113.4 337.4 113.5 339.5 113.6 341.6 113.7 343.7 113.8 345.8 113.9 347.9 114.0 350.0 28.4 350.3 28.4 192.4Z" fill="#e81731"/><path d="M28.0 256.0L28.9 256.3 30.1 256.7 31.5 257.2 33.1 257.8 34.8 258.4 36.4 259.0 37.9 259.6 39.4 260.2 40.9 260.9 42.6 261.6 44.6 262.3 46.9 263.0 49.7 263.7 53.1 264.5 56.6 265.3 60.2 266.1 63.7 266.8 66.7 267.5 69.3 268.1 71.7 268.6 73.8 269.1 75.9 269.5 77.9 270.0 80.0 270.5 82.1 271.0 84.3 271.6 86.4 272.2 88.4 272.8 90.3 273.4 92.0 274.0 93.5 274.6 94.8 275.2 95.9 275.8 97.0 276.5 98.0 277.2 99.0 278.0 100.0 278.8 100.9 279.6 101.7 280.5 102.5 281.5 103.3 282.6 104.0 284.0 104.7 285.6 105.3 287.4 105.9 289.4 106.5 291.5 107.0 293.7 107.5 296.0 108.0 298.4 108.4 301.0 108.8 303.6 109.2 306.4 109.6 309.2 110.0 312.0 110.4 314.9 110.7 317.8 111.1 320.8 111.4 323.8 111.7 326.9 112.0 330.0 112.3 333.4 112.5 337.3 112.8 341.1 113.0 344.7 113.2 347.8 113.3 350.0 28.4 350.3 28.4 192.4Z" fill="#dc112f"/><path d="M28.0 259.7L29.8 260.3 31.5 260.9 33.3 261.5 35.0 262.2 36.7 262.8 38.5 263.5 40.2 264.2 41.9 264.9 43.7 265.5 45.4 266.1 47.2 266.6 49.0 267.1 50.8 267.5 52.6 267.9 54.5 268.3 56.3 268.7 58.1 269.1 59.9 269.5 61.7 269.9 63.5 270.3 65.4 270.7 67.2 271.1 69.0 271.5 70.8 271.9 72.6 272.3 74.4 272.6 76.3 273.0 78.1 273.4 79.9 273.8 81.7 274.3 83.5 274.7 85.3 275.2 87.1 275.7 88.9 276.2 90.7 276.8 92.4 277.4 94.1 278.1 95.8 278.9 97.4 279.9 98.9 280.9 100.3 282.0 101.7 283.3 102.9 284.6 103.9 286.1 104.9 287.7 105.6 289.3 106.3 291.1 106.8 292.8 107.3 294.6 107.7 296.5 108.0 298.3 108.4 300.1 108.7 301.9 109.0 303.8 109.3 305.6 109.6 307.4 109.9 309.3 110.1 311.1 110.4 313.0 110.6 314.8 110.8 316.7 111.1 318.5 111.3 320.3 111.5 322.2 111.7 324.0 111.8 325.9 112.0 327.7 112.2 329.6 112.3 331.4 112.5 333.3 112.6 335.2 112.7 337.0 112.9 338.9 113.0 340.7 113.1 342.6 113.2 344.4 113.3 346.3 113.4 348.1 113.5 350.0 28.4 350.3 28.4 192.4Z" fill="#d40e2d"/><path d="M28.0 263.3L29.7 263.9 31.4 264.6 33.2 265.2 34.9 265.8 36.6 266.4 38.3 267.1 40.0 267.7 41.7 268.4 43.4 269.0 45.2 269.5 46.9 270.0 48.7 270.5 50.5 270.9 52.3 271.3 54.0 271.7 55.8 272.1 57.6 272.5 59.4 272.9 61.2 273.3 63.0 273.7 64.7 274.1 66.5 274.5 68.3 274.8 70.1 275.2 71.9 275.6 73.7 275.9 75.5 276.3 77.3 276.6 79.0 277.0 80.8 277.4 82.6 277.8 84.4 278.2 86.2 278.7 87.9 279.1 89.7 279.6 91.4 280.2 93.1 280.8 94.8 281.5 96.4 282.3 98.0 283.2 99.5 284.2 101.0 285.2 102.4 286.4 103.6 287.6 104.8 289.0 105.7 290.5 106.5 292.2 107.0 293.9 107.5 295.6 107.9 297.4 108.3 299.2 108.7 301.0 109.0 302.8 109.3 304.6 109.6 306.4 109.9 308.2 110.2 310.0 110.4 311.8 110.7 313.6 110.9 315.4 111.2 317.2 111.4 319.1 111.6 320.9 111.8 322.7 111.9 324.5 112.1 326.3 112.3 328.1 112.4 330.0 112.5 331.8 112.7 333.6 112.8 335.4 113.0 337.2 113.1 339.1 113.2 340.9 113.3 342.7 113.4 344.5 113.5 346.4 113.7 348.2 113.8 350.0 28.4 350.3 28.4 192.4Z" fill="#ca0a2b"/><path d="M28.0 267.0L28.9 267.3 30.1 267.8 31.5 268.3 33.1 268.9 34.8 269.4 36.4 270.0 37.9 270.5 39.4 271.1 40.9 271.7 42.6 272.2 44.6 272.9 46.9 273.5 49.7 274.2 53.1 275.0 56.6 275.8 60.2 276.6 63.7 277.4 66.7 278.0 69.3 278.5 71.7 279.0 73.8 279.3 75.9 279.7 77.9 280.1 80.0 280.5 82.1 281.0 84.2 281.4 86.3 281.9 88.3 282.4 90.2 283.0 92.0 283.5 93.6 284.0 95.0 284.6 96.4 285.1 97.6 285.7 98.8 286.3 100.0 287.0 101.2 287.7 102.3 288.4 103.3 289.1 104.3 289.9 105.2 290.9 106.0 292.0 106.7 293.3 107.2 294.7 107.7 296.3 108.1 298.0 108.6 299.9 109.0 302.0 109.5 304.3 109.9 306.9 110.3 309.6 110.8 312.4 111.1 315.2 111.5 318.0 111.8 320.8 112.1 323.7 112.3 326.6 112.6 329.4 112.8 332.3 113.0 335.0 113.2 337.8 113.4 340.7 113.6 343.6 113.8 346.2 113.9 348.4 114.0 350.0 28.4 350.3 28.4 192.4Z" fill="#bf0729"/><path d="M28.0 270.0L29.7 270.6 31.3 271.2 33.0 271.8 34.6 272.4 36.3 273.0 37.9 273.5 39.6 274.2 41.2 274.7 42.9 275.3 44.6 275.8 46.3 276.3 48.0 276.7 49.7 277.2 51.4 277.6 53.1 278.0 54.8 278.3 56.5 278.7 58.3 279.1 60.0 279.5 61.7 279.9 63.4 280.2 65.1 280.6 66.9 280.9 68.6 281.3 70.3 281.6 72.0 281.9 73.8 282.2 75.5 282.5 77.2 282.8 79.0 283.1 80.7 283.5 82.4 283.9 84.1 284.3 85.8 284.7 87.5 285.1 89.2 285.6 90.9 286.1 92.6 286.6 94.2 287.2 95.9 287.9 97.4 288.7 99.0 289.5 100.5 290.4 102.0 291.3 103.4 292.3 104.7 293.5 105.7 294.9 106.5 296.4 107.2 298.0 107.8 299.6 108.3 301.3 108.8 303.0 109.2 304.7 109.7 306.4 110.1 308.1 110.4 309.8 110.7 311.5 111.1 313.2 111.3 315.0 111.6 316.7 111.8 318.5 112.0 320.2 112.2 321.9 112.4 323.7 112.6 325.4 112.8 327.2 112.9 328.9 113.1 330.7 113.2 332.5 113.3 334.2 113.5 336.0 113.6 337.7 113.7 339.5 113.8 341.2 113.9 343.0 114.0 344.7 114.1 346.5 114.2 348.2 114.3 350.0 28.4 350.3 28.4 192.4Z" fill="#b40427"/><path d="M28.0 273.0L29.6 273.6 31.2 274.2 32.9 274.8 34.5 275.3 36.1 275.9 37.7 276.5 39.4 277.1 41.0 277.6 42.6 278.2 44.3 278.7 45.9 279.2 47.6 279.6 49.3 280.0 50.9 280.4 52.6 280.8 54.3 281.2 56.0 281.5 57.7 281.9 59.4 282.3 61.0 282.6 62.7 283.0 64.4 283.3 66.1 283.7 67.8 284.0 69.5 284.3 71.2 284.6 72.9 284.9 74.6 285.2 76.3 285.5 78.0 285.8 79.7 286.1 81.4 286.5 83.0 286.9 84.7 287.3 86.4 287.7 88.0 288.1 89.7 288.6 91.3 289.2 93.0 289.7 94.6 290.3 96.2 291.0 97.7 291.8 99.2 292.6 100.7 293.5 102.1 294.4 103.5 295.4 104.8 296.5 105.8 297.9 106.6 299.4 107.3 300.9 108.0 302.5 108.6 304.1 109.1 305.7 109.7 307.3 110.2 309.0 110.6 310.6 111.0 312.3 111.3 314.0 111.6 315.7 111.9 317.4 112.2 319.1 112.4 320.8 112.6 322.5 112.8 324.2 113.0 325.9 113.2 327.6 113.3 329.4 113.5 331.1 113.6 332.8 113.8 334.5 113.9 336.2 114.0 338.0 114.1 339.7 114.2 341.4 114.3 343.1 114.4 344.8 114.5 346.6 114.6 348.3 114.7 350.0 28.4 350.3 28.4 192.4Z" fill="#a90125"/><path d="M28.0 276.0L28.9 276.3 30.1 276.8 31.5 277.3 33.1 277.9 34.8 278.4 36.4 279.0 37.9 279.5 39.4 280.1 40.9 280.6 42.6 281.2 44.6 281.8 46.9 282.4 49.7 283.1 53.1 283.8 56.6 284.6 60.2 285.4 63.7 286.1 66.7 286.7 69.3 287.2 71.7 287.6 73.8 287.9 75.9 288.2 77.9 288.6 80.0 289.0 82.1 289.5 84.2 290.0 86.3 290.6 88.3 291.1 90.2 291.7 92.0 292.3 93.6 292.9 95.1 293.5 96.4 294.1 97.7 294.7 98.9 295.4 100.0 296.0 101.1 296.6 102.0 297.0 102.9 297.5 103.8 298.0 104.6 298.9 105.5 300.0 106.4 301.5 107.4 303.2 108.4 305.2 109.4 307.4 110.2 309.7 111.0 312.2 111.6 314.8 112.2 317.7 112.7 320.7 113.1 323.9 113.5 327.0 113.8 330.2 114.1 333.6 114.4 337.4 114.6 341.2 114.7 344.8 114.9 347.8 115.0 350.0 28.4 350.3 28.4 192.4Z" fill="#a40024"/></g><mask id="mk10" maskUnits="userSpaceOnUse" x="26.4" y="190.4" width="140.3" height="161.9"><rect x="26.4" y="190.4" width="140.3" height="161.9" fill="#fff"/><rect transform="translate(92 265.5) rotate(15)" x="-8.0" y="-9.5" width="15.9" height="10.3" fill="#000"/><rect transform="translate(92 296.5) rotate(5)" x="-3.9" y="-9.5" width="7.7" height="10.3" fill="#000"/><rect transform="translate(113.5 237) rotate(90)" x="-8.0" y="-9.5" width="15.9" height="10.3" fill="#000"/><rect transform="translate(121.3 252) rotate(90)" x="-6.7" y="-7.7" width="13.4" height="8.5" fill="#000"/><rect transform="translate(121.3 276) rotate(90)" x="-6.7" y="-7.7" width="13.4" height="8.5" fill="#000"/><rect transform="translate(146 244) rotate(90)" x="-6.7" y="-7.7" width="13.4" height="8.5" fill="#000"/><rect transform="translate(145.5 266) rotate(90)" x="-6.7" y="-7.7" width="13.4" height="8.5" fill="#000"/><rect transform="translate(135 302.9) rotate(115)" x="-6.7" y="-7.7" width="13.4" height="8.5" fill="#000"/><rect transform="translate(129.5 321.9) rotate(115)" x="-6.7" y="-7.7" width="13.4" height="8.5" fill="#000"/></mask><g mask="url(#mk10)"><path d="M114.8 190.0L114.8 199.0 114.8 211.9 114.8 227.0 114.8 242.5 114.8 256.8 114.8 268.0 114.8 275.8 114.9 281.4 115.0 285.8 115.0 289.7 115.1 294.2 115.2 300.0 115.3 307.9 115.4 317.2 115.5 327.0 115.6 336.4 115.7 344.4 115.8 350.0" fill="none" stroke="#000" stroke-width="1.4"/><path d="M44.2 190.0L44.2 192.9 44.2 197.0 44.2 201.8 44.1 206.7 44.2 211.3 44.2 215.0 44.3 217.7 44.3 219.9 44.4 221.6 44.5 223.3 44.7 225.0 45.0 227.0 45.4 229.4 46.0 232.0 46.6 234.8 47.3 237.4 48.0 239.8 48.7 241.8 49.4 243.4 50.0 244.6 50.7 245.6 51.4 246.4 52.1 247.2 53.0 248.0 53.9 248.8 54.8 249.5 55.8 250.1 56.9 250.7 58.1 251.3 59.6 251.8 61.4 252.3 63.4 252.8 65.6 253.3 67.9 253.7 70.2 254.1 72.4 254.5 74.6 254.9 76.8 255.2 79.1 255.5 81.2 255.8 83.2 256.2 85.0 256.6 86.5 257.1 87.7 257.7 88.8 258.4 89.9 259.1 90.9 259.8 92.0 260.5 93.2 261.2 94.4 262.0 95.6 262.7 96.8 263.5 97.9 264.2 99.0 265.0 100.0 265.7 101.0 266.4 102.0 267.1 103.0 267.9 103.8 268.6 104.7 269.5 105.5 270.4 106.3 271.4 107.0 272.5 107.7 273.6 108.4 274.7 109.0 276.0 109.6 277.3 110.1 278.6 110.5 279.9 111.0 281.4 111.4 283.2 111.8 285.2 112.2 287.6 112.6 290.2 112.9 293.1 113.2 296.2 113.5 299.3 113.8 302.5 114.0 305.7 114.2 308.9 114.4 312.1 114.5 315.6 114.7 319.2 114.8 323.0 114.9 327.4 115.1 332.5 115.2 337.8 115.3 342.8 115.3 347.0 115.4 350.0" fill="none" stroke="#000" stroke-width="1.4"/><path d="M28.0 276.0L28.9 276.3 30.1 276.8 31.5 277.3 33.1 277.9 34.8 278.4 36.4 279.0 37.9 279.5 39.4 280.1 40.9 280.6 42.6 281.2 44.6 281.8 46.9 282.4 49.7 283.1 53.1 283.8 56.6 284.6 60.2 285.4 63.7 286.1 66.7 286.7 69.3 287.2 71.7 287.6 73.8 287.9 75.9 288.2 77.9 288.6 80.0 289.0 82.1 289.5 84.2 290.0 86.3 290.6 88.3 291.1 90.2 291.7 92.0 292.3 93.6 292.9 95.1 293.5 96.4 294.1 97.7 294.7 98.9 295.4 100.0 296.0 101.1 296.6 102.0 297.0 102.9 297.5 103.8 298.0 104.6 298.9 105.5 300.0 106.4 301.5 107.4 303.2 108.4 305.2 109.4 307.4 110.2 309.7 111.0 312.2 111.6 314.8 112.2 317.7 112.7 320.7 113.1 323.9 113.5 327.0 113.8 330.2 114.1 333.6 114.4 337.4 114.6 341.2 114.7 344.8 114.9 347.8 115.0 350.0" fill="none" stroke="#000" stroke-width="1.4"/><path d="M141.4 195.0L141.4 198.9 141.4 204.4 141.4 210.9 141.5 217.7 141.4 224.3 141.4 230.0 141.3 234.9 141.3 239.4 141.2 243.7 141.1 247.8 140.9 251.6 140.7 255.4 140.4 259.0 140.1 262.5 139.7 265.7 139.3 268.8 138.8 271.8 138.2 274.5 137.5 277.0 136.7 279.3 135.8 281.5 134.9 283.5 134.0 285.4 133.1 287.3 132.1 289.2 131.1 291.1 130.0 293.0 129.0 294.6 128.1 296.0 127.5 297.0" fill="none" stroke="#000" stroke-width="1.2" stroke-linejoin="round"/><path d="M147.5 195.0L147.5 202.0 147.6 212.2 147.7 224.0 147.7 236.1 147.7 247.0 147.6 255.4 147.4 261.0 147.2 264.9 146.9 267.7 146.5 269.9 146.1 271.9 145.7 274.5 145.2 277.5 144.6 280.5 143.9 283.4 143.2 286.2 142.5 288.7 141.9 291.0 141.4 292.4 141.0 293.0 140.7 293.4 140.2 294.2 139.4 296.0 138.2 299.7 136.3 306.0 133.8 314.7 131.1 324.4 128.4 334.0 126.0 342.3 124.4 348.0" fill="none" stroke="#000" stroke-width="1.0" stroke-linejoin="round"/><path d="M149.3 195.0L149.3 202.0 149.3 212.0 149.3 223.8 149.3 235.7 149.3 246.6 149.1 255.0 148.8 260.8 148.5 265.0 148.0 268.1 147.6 270.5 147.1 272.7 146.7 275.0 146.4 276.8 146.3 277.4 146.2 277.9 145.9 278.9 145.4 281.3 144.5 286.0 143.0 294.1 140.9 305.2 138.6 317.7 136.3 330.0 134.3 340.7 132.9 348.0" fill="none" stroke="#000" stroke-width="1.0" stroke-linejoin="round"/><path d="M119.2 195.0L119.2 285.0" fill="none" stroke="#000" stroke-width="0.8" stroke-linejoin="round"/></g><ellipse transform="translate(124.6 299.5) rotate(-30)" rx="2.8" ry="1.6" fill="#388af8" stroke="#000" stroke-width="0.9"/><text transform="translate(92 265.5) rotate(15) scale(1 1.12)" font-size="11" text-anchor="middle" style="stroke:#000;stroke-width:0.35px;fill:#000">1.8</text><text transform="translate(92 296.5) rotate(5) scale(1 1.12)" font-size="11" text-anchor="middle" style="stroke:#000;stroke-width:0.35px;fill:#000">2</text><text transform="translate(113.5 237) rotate(90) scale(1 1.12)" font-size="11" text-anchor="middle" style="stroke:#000;stroke-width:0.35px;fill:#000">1.6</text><text transform="translate(121.3 252) rotate(90) scale(1 1.12)" font-size="9" text-anchor="middle" style="stroke:#000;stroke-width:0.35px;fill:#000">0.0</text><text transform="translate(121.3 276) rotate(90) scale(1 1.12)" font-size="9" text-anchor="middle" style="stroke:#000;stroke-width:0.35px;fill:#000">0.2</text><text transform="translate(146 244) rotate(90) scale(1 1.12)" font-size="9" text-anchor="middle" style="stroke:#000;stroke-width:0.35px;fill:#000">0.4</text><text transform="translate(145.5 266) rotate(90) scale(1 1.12)" font-size="9" text-anchor="middle" style="stroke:#000;stroke-width:0.35px;fill:#000">0.2</text><text transform="translate(135 302.9) rotate(115) scale(1 1.12)" font-size="9" text-anchor="middle" style="stroke:#000;stroke-width:0.35px;fill:#000">0.6</text><text transform="translate(129.5 321.9) rotate(115) scale(1 1.12)" font-size="9" text-anchor="middle" style="stroke:#000;stroke-width:0.35px;fill:#000">0.8</text></g><path d="M36.40 342.30v-5.2M36.40 200.40v5.2M36.40 342.30h5.2M156.70 342.30h-5.2M42.41 342.30v-3.0M42.41 200.40v3.0M36.40 335.21h3.0M156.70 335.21h-3.0M48.43 342.30v-3.0M48.43 200.40v3.0M36.40 328.11h3.0M156.70 328.11h-3.0M54.45 342.30v-3.0M54.45 200.40v3.0M36.40 321.01h3.0M156.70 321.01h-3.0M60.46 342.30v-3.0M60.46 200.40v3.0M36.40 313.92h3.0M156.70 313.92h-3.0M66.47 342.30v-5.2M66.47 200.40v5.2M36.40 306.82h5.2M156.70 306.82h-5.2M72.49 342.30v-3.0M72.49 200.40v3.0M36.40 299.73h3.0M156.70 299.73h-3.0M78.50 342.30v-3.0M78.50 200.40v3.0M36.40 292.63h3.0M156.70 292.63h-3.0M84.52 342.30v-3.0M84.52 200.40v3.0M36.40 285.54h3.0M156.70 285.54h-3.0M90.53 342.30v-3.0M90.53 200.40v3.0M36.40 278.44h3.0M156.70 278.44h-3.0M96.55 342.30v-5.2M96.55 200.40v5.2M36.40 271.35h5.2M156.70 271.35h-5.2M102.56 342.30v-3.0M102.56 200.40v3.0M36.40 264.25h3.0M156.70 264.25h-3.0M108.58 342.30v-3.0M108.58 200.40v3.0M36.40 257.16h3.0M156.70 257.16h-3.0M114.59 342.30v-3.0M114.59 200.40v3.0M36.40 250.06h3.0M156.70 250.06h-3.0M120.61 342.30v-3.0M120.61 200.40v3.0M36.40 242.97h3.0M156.70 242.97h-3.0M126.62 342.30v-5.2M126.62 200.40v5.2M36.40 235.88h5.2M156.70 235.88h-5.2M132.64 342.30v-3.0M132.64 200.40v3.0M36.40 228.78h3.0M156.70 228.78h-3.0M138.66 342.30v-3.0M138.66 200.40v3.0M36.40 221.69h3.0M156.70 221.69h-3.0M144.67 342.30v-3.0M144.67 200.40v3.0M36.40 214.59h3.0M156.70 214.59h-3.0M150.69 342.30v-3.0M150.69 200.40v3.0M36.40 207.50h3.0M156.70 207.50h-3.0M156.70 342.30v-5.2M156.70 200.40v5.2M36.40 200.40h5.2M156.70 200.40h-5.2" stroke="#000" stroke-width="1.25" fill="none"/><rect x="36.4" y="200.4" width="120.30" height="141.90" fill="none" stroke="#000" stroke-width="1.6"/><text transform="translate(37.80 356.00) scale(1 1.15)" font-size="10.5" text-anchor="middle">−2</text><text transform="translate(67.88 356.00) scale(1 1.15)" font-size="10.5" text-anchor="middle">−1</text><text transform="translate(96.55 356.00) scale(1 1.15)" font-size="10.5" text-anchor="middle">0</text><text transform="translate(126.62 356.00) scale(1 1.15)" font-size="10.5" text-anchor="middle">1</text><text transform="translate(156.70 356.00) scale(1 1.15)" font-size="10.5" text-anchor="middle">2</text><text transform="translate(33.20 347.80) scale(1 1.15)" font-size="10.5" text-anchor="end">−2</text><text transform="translate(33.20 312.32) scale(1 1.15)" font-size="10.5" text-anchor="end">−1</text><text transform="translate(33.20 276.85) scale(1 1.15)" font-size="10.5" text-anchor="end">0</text><text transform="translate(33.20 241.38) scale(1 1.15)" font-size="10.5" text-anchor="end">1</text><text transform="translate(33.20 205.90) scale(1 1.15)" font-size="10.5" text-anchor="end">2</text><text transform="translate(14.5 271.4) rotate(-90)" font-size="11.5" text-anchor="middle" style="stroke-width:0.25px">log<tspan font-size="7" dy="2">10</tspan><tspan dy="-2">(τ</tspan><tspan font-size="7.8" dy="1.8">PSR</tspan><tspan dy="-1.8">)</tspan></text><g clip-path="url(#cp11)"><rect x="183.9" y="200.4" width="119.50" height="141.90" fill="#2006d8"/><linearGradient id="pg110" gradientUnits="userSpaceOnUse" x1="0" y1="240" x2="0" y2="300"><stop offset="0" stop-color="#1424f2"/><stop offset="1" stop-color="#2e6ef6"/></linearGradient><path d="M265.5 195.0L279.0 195.0 279.0 230.0 280.0 260.0 282.5 268.0 281.0 286.0 276.0 320.0 272.5 348.0 265.6 348.0 265.6 300.0 265.5 260.0Z" fill="url(#pg110)"/><path d="M278.5 195.0L284.0 195.0 284.0 240.0 284.3 268.0 284.6 286.0 280.0 310.0 276.0 348.0 271.0 348.0 276.0 316.0 279.5 290.0 280.0 268.0 279.0 240.0Z" fill="#5cb8fa"/><path d="M254.0 195.0L259.5 195.0 259.5 260.0 260.5 285.0 261.2 295.0 259.0 300.0 254.0 300.0Z" fill="#ff845b"/><path d="M258.8 195.0L260.3 195.0 260.3 260.0 261.3 285.0 260.5 285.0 259.5 260.0 258.8 260.0Z" fill="#fce0a8"/><path d="M260.0 195.0L265.5 195.0 265.5 280.0 265.6 300.0 266.0 348.0 260.5 348.0 258.5 320.0 257.0 300.0 257.5 285.0 260.0 260.0Z" fill="#000"/><path d="M284.0 195.0L289.7 195.0 289.7 250.0 288.0 281.8 284.0 302.5 281.1 316.3 278.4 330.2 276.5 348.0 274.0 348.0 276.0 330.0 279.0 316.0 282.3 300.0 284.6 286.0 284.3 250.0Z" fill="#000"/><path d="M260.4 238.0L265.0 238.0 265.0 292.0 260.4 292.0Z" fill="#eadcc0"/><path d="M284.6 216.0L289.2 216.0 289.2 262.0 284.6 262.0Z" fill="#70cafc"/><g filter="url(#bl11)"><path d="M255.4 190.0L255.4 196.9 255.4 206.9 255.4 218.4 255.5 230.4 255.5 241.3 255.6 250.0 255.7 256.2 255.8 261.1 255.9 265.0 256.1 268.3 256.3 271.5 256.5 275.0 256.8 278.6 257.1 282.0 257.4 285.3 257.8 288.5 258.1 291.7 258.5 295.0 258.9 298.4 259.3 301.9 259.8 305.3 260.2 308.7 260.6 312.0 261.0 315.0 261.4 317.7 261.7 320.2 262.1 322.5 262.4 324.8 262.7 327.3 263.0 330.0 263.3 333.3 263.6 337.0 263.9 340.9 264.1 344.6 264.3 347.8 264.5 350.0 175.9 350.3 175.9 192.4Z" fill="#fe2c39"/><path d="M245.6 190.0L245.6 192.1 245.6 194.1 245.7 196.2 245.7 198.2 245.7 200.3 245.7 202.3 245.7 204.4 245.7 206.4 245.8 208.5 245.8 210.6 245.8 212.6 245.9 214.7 245.9 216.7 245.9 218.8 246.0 220.8 246.1 222.9 246.3 224.9 246.4 226.9 246.6 229.0 246.8 231.0 247.0 233.0 247.3 235.0 247.6 237.0 247.9 239.0 248.2 241.0 248.5 243.0 248.8 245.0 249.2 246.9 249.5 248.9 249.9 250.9 250.2 252.9 250.5 254.8 250.9 256.8 251.2 258.8 251.5 260.8 251.9 262.8 252.2 264.8 252.5 266.8 252.9 268.8 253.2 270.8 253.6 272.8 253.9 274.8 254.3 276.8 254.6 278.8 255.0 280.8 255.4 282.8 255.8 284.8 256.2 286.8 256.6 288.8 256.9 290.8 257.2 292.9 257.6 294.9 257.9 296.9 258.2 298.9 258.5 301.0 258.8 303.0 259.1 305.0 259.4 307.1 259.7 309.1 260.0 311.1 260.2 313.2 260.5 315.2 260.8 317.3 261.0 319.3 261.3 321.3 261.6 323.4 261.8 325.4 262.0 327.5 262.2 329.5 262.4 331.5 262.6 333.6 262.7 335.6 262.9 337.7 263.0 339.7 263.1 341.8 263.3 343.8 263.4 345.9 263.5 347.9 263.7 350.0 175.9 350.3 175.9 192.4Z" fill="#fc2938"/><path d="M235.8 190.0L235.8 192.1 235.9 194.2 235.9 196.2 235.9 198.3 236.0 200.4 236.0 202.5 236.0 204.6 236.1 206.6 236.1 208.7 236.2 210.8 236.2 212.9 236.3 214.9 236.3 217.0 236.4 219.1 236.6 221.2 236.8 223.2 237.1 225.3 237.4 227.3 237.8 229.4 238.2 231.4 238.6 233.4 239.1 235.4 239.6 237.4 240.2 239.3 240.8 241.2 241.5 243.2 242.1 245.1 242.8 247.0 243.4 248.9 244.1 250.9 244.8 252.8 245.4 254.7 246.1 256.6 246.7 258.6 247.3 260.5 247.9 262.5 248.5 264.4 249.1 266.4 249.6 268.4 250.2 270.3 250.8 272.3 251.3 274.3 251.8 276.3 252.4 278.3 252.9 280.3 253.5 282.3 254.1 284.2 254.7 286.2 255.3 288.2 255.7 290.2 256.2 292.2 256.6 294.3 256.9 296.3 257.3 298.4 257.7 300.4 258.1 302.4 258.4 304.5 258.8 306.5 259.1 308.6 259.4 310.7 259.7 312.7 259.9 314.8 260.2 316.8 260.4 318.9 260.7 321.0 260.9 323.0 261.1 325.1 261.3 327.2 261.5 329.3 261.6 331.3 261.8 333.4 261.9 335.5 262.1 337.5 262.2 339.6 262.3 341.7 262.5 343.8 262.6 345.8 262.7 347.9 262.8 350.0 175.9 350.3 175.9 192.4Z" fill="#fa2537"/><path d="M226.0 190.0L226.0 192.3 226.1 195.4 226.2 199.2 226.3 203.1 226.4 206.8 226.5 210.0 226.6 212.6 226.7 214.9 226.8 217.1 226.9 219.1 227.1 221.1 227.4 223.2 227.8 225.4 228.3 227.5 228.9 229.6 229.5 231.8 230.2 233.9 231.0 236.0 231.9 238.1 232.9 240.3 234.0 242.5 235.1 244.6 236.2 246.7 237.2 248.6 238.1 250.3 238.9 251.9 239.7 253.4 240.4 254.8 241.2 256.3 242.0 258.0 242.8 259.8 243.7 261.8 244.6 263.8 245.5 265.8 246.3 267.8 247.1 269.7 247.8 271.5 248.5 273.3 249.2 275.1 249.8 276.8 250.4 278.4 251.0 280.0 251.6 281.4 252.1 282.8 252.6 284.0 253.1 285.3 253.6 286.6 254.1 288.0 254.5 289.6 255.0 291.2 255.4 292.9 255.8 294.6 256.1 296.3 256.5 298.0 256.8 299.6 257.2 301.2 257.5 302.8 257.8 304.4 258.1 306.0 258.4 307.8 258.7 309.7 259.0 311.5 259.2 313.5 259.5 315.6 259.8 317.7 260.0 320.0 260.2 322.5 260.4 325.1 260.6 327.9 260.8 330.7 261.0 333.4 261.2 336.0 261.4 338.6 261.5 341.3 261.7 344.0 261.8 346.4 261.9 348.5 262.0 350.0 175.9 350.3 175.9 192.4Z" fill="#f72236"/><path d="M209.3 204.0L210.0 205.7 210.6 207.4 211.2 209.1 211.8 210.8 212.4 212.7 212.9 214.5 213.4 216.4 213.9 218.3 214.5 220.2 215.0 222.0 215.6 223.9 216.1 225.7 216.7 227.5 217.3 229.3 218.0 231.1 218.8 232.9 219.6 234.7 220.5 236.4 221.5 238.0 222.5 239.7 223.5 241.3 224.6 242.8 225.8 244.3 227.1 245.8 228.3 247.2 229.6 248.6 230.9 250.0 232.2 251.4 233.5 252.8 234.8 254.2 236.1 255.6 237.4 257.0 238.7 258.5 239.9 260.0 241.1 261.6 242.2 263.3 243.2 265.1 244.1 266.9 245.0 268.8 245.8 270.7 246.6 272.6 247.3 274.6 248.0 276.6 248.6 278.5 249.2 280.5 249.8 282.5 250.5 284.4 251.1 286.4 251.6 288.4 252.1 290.4 252.6 292.4 253.0 294.4 253.5 296.5 253.9 298.5 254.3 300.5 254.7 302.6 255.0 304.6 255.4 306.7 255.7 308.7 256.0 310.8 256.3 312.8 256.6 314.9 256.9 316.9 257.1 319.0 257.4 321.1 257.6 323.1 257.8 325.2 257.9 327.2 258.1 329.3 258.3 331.4 258.5 333.5 258.6 335.5 258.8 337.6 258.9 339.7 259.1 341.7 259.2 343.8 259.4 345.9 259.5 347.9 259.7 350.0 175.9 350.3 175.9 192.4Z" fill="#f51d34"/><path d="M192.7 218.0L193.9 219.3 195.1 220.5 196.3 221.9 197.5 223.3 198.6 224.8 199.6 226.4 200.5 228.1 201.5 229.7 202.5 231.4 203.5 233.0 204.5 234.6 205.6 236.2 206.6 237.7 207.7 239.3 208.9 240.8 210.1 242.2 211.3 243.7 212.7 245.0 214.0 246.3 215.4 247.6 216.9 248.8 218.4 249.9 219.9 251.0 221.5 252.0 223.1 252.9 224.8 253.8 226.4 254.7 228.1 255.7 229.7 256.6 231.3 257.5 232.9 258.5 234.6 259.5 236.1 260.5 237.7 261.7 239.1 263.0 240.5 264.5 241.7 266.1 242.7 267.9 243.6 269.7 244.5 271.5 245.2 273.4 245.9 275.4 246.5 277.3 247.0 279.3 247.5 281.3 248.0 283.3 248.4 285.2 248.9 287.2 249.3 289.2 249.7 291.2 250.1 293.2 250.5 295.2 250.9 297.2 251.3 299.2 251.6 301.3 252.0 303.3 252.3 305.3 252.7 307.3 253.0 309.3 253.3 311.4 253.6 313.4 253.9 315.4 254.2 317.4 254.4 319.5 254.7 321.5 254.9 323.5 255.1 325.6 255.3 327.6 255.5 329.6 255.7 331.7 255.9 333.7 256.1 335.7 256.3 337.8 256.4 339.8 256.6 341.8 256.8 343.9 257.0 345.9 257.2 348.0 257.3 350.0 175.9 350.3 175.9 192.4Z" fill="#e81731"/><path d="M176.0 232.0L176.8 232.4 177.9 232.9 179.3 233.5 180.7 234.2 182.2 235.1 183.6 236.0 184.9 237.1 186.3 238.4 187.6 239.8 189.1 241.2 190.5 242.6 192.0 244.0 193.6 245.4 195.2 246.8 196.9 248.2 198.6 249.6 200.3 250.8 202.0 252.0 203.7 253.0 205.3 254.0 207.0 254.8 208.7 255.6 210.3 256.3 212.0 257.0 213.7 257.6 215.3 258.0 217.0 258.4 218.7 258.8 220.3 259.1 222.0 259.5 223.7 259.9 225.5 260.3 227.2 260.7 229.0 261.1 230.6 261.6 232.0 262.0 233.3 262.4 234.4 262.9 235.4 263.3 236.3 263.8 237.2 264.4 238.0 265.0 238.8 265.7 239.5 266.4 240.2 267.2 240.8 268.0 241.4 269.0 242.0 270.0 242.6 271.1 243.1 272.3 243.6 273.6 244.1 274.9 244.6 276.4 245.0 278.0 245.4 279.7 245.7 281.6 246.0 283.6 246.3 285.6 246.6 287.8 247.0 290.0 247.4 292.3 247.8 294.7 248.2 297.2 248.6 299.7 249.1 302.3 249.5 305.0 249.9 307.6 250.3 310.1 250.7 312.7 251.1 315.4 251.6 318.5 252.0 322.0 252.5 326.4 253.1 331.6 253.7 337.1 254.2 342.3 254.7 346.8 255.0 350.0 175.9 350.3 175.9 192.4Z" fill="#dc112f"/><path d="M176.0 237.3L177.8 238.1 179.6 238.8 181.4 239.7 183.1 240.7 184.7 241.9 186.1 243.3 187.4 244.7 188.8 246.2 190.2 247.6 191.6 248.9 193.1 250.2 194.6 251.5 196.1 252.7 197.7 253.9 199.3 255.1 200.9 256.2 202.6 257.3 204.3 258.2 206.1 259.1 207.9 259.9 209.7 260.6 211.6 261.2 213.5 261.8 215.4 262.2 217.4 262.6 219.3 262.9 221.2 263.3 223.2 263.7 225.1 264.1 227.0 264.5 228.9 265.0 230.8 265.5 232.7 266.1 234.6 266.9 236.3 267.7 238.0 268.8 239.5 270.0 240.8 271.4 242.0 272.9 243.0 274.5 244.0 276.2 244.7 278.0 245.4 279.8 246.0 281.7 246.5 283.6 246.9 285.5 247.4 287.4 247.7 289.4 248.1 291.3 248.5 293.2 248.9 295.2 249.3 297.1 249.6 299.1 250.0 301.0 250.3 302.9 250.6 304.9 251.0 306.8 251.3 308.8 251.6 310.7 251.9 312.7 252.2 314.6 252.5 316.6 252.7 318.6 253.0 320.5 253.2 322.5 253.4 324.4 253.6 326.4 253.8 328.4 254.0 330.3 254.2 332.3 254.4 334.3 254.6 336.2 254.7 338.2 254.9 340.2 255.1 342.1 255.3 344.1 255.5 346.1 255.7 348.0 255.8 350.0 175.9 350.3 175.9 192.4Z" fill="#d40e2d"/><path d="M176.0 242.7L177.8 243.3 179.6 244.0 181.4 244.8 183.1 245.7 184.6 246.9 186.0 248.2 187.2 249.7 188.5 251.2 189.8 252.5 191.3 253.8 192.7 255.1 194.2 256.3 195.7 257.5 197.3 258.7 198.8 259.9 200.4 260.9 202.1 261.9 203.8 262.8 205.6 263.6 207.4 264.3 209.2 264.9 211.0 265.4 212.9 265.9 214.8 266.2 216.7 266.5 218.6 266.8 220.5 267.1 222.4 267.5 224.3 267.9 226.2 268.2 228.1 268.7 230.0 269.2 231.8 269.7 233.7 270.3 235.4 271.1 237.2 271.9 238.8 272.9 240.3 274.0 241.7 275.3 242.9 276.7 244.0 278.2 245.0 279.9 245.8 281.6 246.5 283.4 247.2 285.2 247.8 287.0 248.3 288.8 248.8 290.7 249.3 292.6 249.7 294.5 250.1 296.3 250.5 298.2 250.9 300.1 251.3 302.0 251.6 303.9 252.0 305.8 252.3 307.7 252.6 309.6 252.9 311.5 253.2 313.5 253.5 315.4 253.8 317.3 254.0 319.2 254.2 321.1 254.4 323.0 254.6 325.0 254.8 326.9 254.9 328.8 255.1 330.7 255.3 332.7 255.4 334.6 255.6 336.5 255.7 338.4 255.9 340.4 256.1 342.3 256.2 344.2 256.4 346.1 256.5 348.1 256.7 350.0 175.9 350.3 175.9 192.4Z" fill="#ca0a2b"/><path d="M176.0 248.0L176.8 248.3 178.0 248.6 179.4 249.1 180.9 249.6 182.3 250.2 183.6 251.0 184.7 251.9 185.7 253.0 186.6 254.2 187.6 255.4 188.7 256.7 190.0 258.0 191.5 259.3 193.3 260.8 195.1 262.2 197.0 263.6 198.9 264.9 200.6 266.0 202.2 266.9 203.8 267.6 205.3 268.2 206.8 268.6 208.4 269.1 210.0 269.5 211.7 269.9 213.4 270.1 215.1 270.3 216.9 270.5 218.6 270.7 220.3 271.0 222.0 271.3 223.6 271.6 225.3 271.9 226.9 272.2 228.5 272.6 230.0 273.0 231.5 273.4 233.1 273.9 234.6 274.4 236.0 274.9 237.4 275.4 238.6 276.0 239.7 276.6 240.7 277.1 241.6 277.8 242.4 278.4 243.2 279.1 244.0 280.0 244.8 281.0 245.5 282.0 246.2 283.2 246.8 284.4 247.4 285.7 248.0 287.0 248.6 288.3 249.1 289.7 249.6 291.2 250.1 292.7 250.5 294.3 251.0 296.0 251.5 297.8 251.9 299.7 252.3 301.7 252.7 303.7 253.1 305.8 253.5 308.0 253.9 310.1 254.2 312.0 254.5 314.0 254.9 316.2 255.2 318.8 255.5 322.0 255.9 326.2 256.2 331.3 256.6 336.9 257.0 342.2 257.3 346.8 257.5 350.0 175.9 350.3 175.9 192.4Z" fill="#bf0729"/><path d="M176.0 253.3L177.8 253.9 179.5 254.5 181.3 255.1 182.9 255.9 184.4 257.0 185.8 258.3 187.0 259.6 188.2 261.0 189.6 262.3 191.0 263.4 192.4 264.6 193.9 265.7 195.4 266.8 196.9 267.8 198.5 268.8 200.1 269.8 201.7 270.6 203.4 271.3 205.2 271.9 207.0 272.3 208.8 272.7 210.6 273.1 212.4 273.4 214.2 273.6 216.1 273.8 217.9 274.0 219.8 274.3 221.6 274.5 223.4 274.8 225.2 275.2 227.1 275.5 228.9 275.9 230.7 276.4 232.4 276.8 234.2 277.4 236.0 278.0 237.7 278.7 239.3 279.5 240.9 280.4 242.4 281.5 243.8 282.7 245.0 284.1 246.1 285.5 247.1 287.1 248.0 288.6 248.9 290.3 249.7 291.9 250.4 293.6 251.1 295.3 251.7 297.1 252.3 298.8 252.8 300.6 253.3 302.4 253.7 304.2 254.1 306.0 254.5 307.8 254.9 309.6 255.2 311.4 255.5 313.2 255.9 315.0 256.2 316.9 256.4 318.7 256.7 320.5 256.9 322.4 257.1 324.2 257.3 326.1 257.5 327.9 257.7 329.7 258.0 331.6 258.2 333.4 258.4 335.2 258.6 337.1 258.7 338.9 258.8 340.8 259.0 342.6 259.1 344.5 259.1 346.3 259.2 348.2 259.3 350.0 175.9 350.3 175.9 192.4Z" fill="#b40427"/><path d="M176.0 258.7L177.7 259.2 179.4 259.8 181.1 260.4 182.8 261.2 184.3 262.1 185.7 263.3 187.0 264.6 188.2 265.8 189.6 267.0 191.1 268.1 192.5 269.2 194.0 270.2 195.5 271.2 197.0 272.2 198.6 273.1 200.2 273.9 201.9 274.6 203.6 275.2 205.3 275.6 207.1 276.0 208.9 276.3 210.7 276.6 212.5 276.8 214.3 277.0 216.1 277.2 217.9 277.4 219.7 277.6 221.5 277.8 223.2 278.1 225.0 278.4 226.8 278.7 228.6 279.0 230.4 279.4 232.1 279.9 233.9 280.4 235.6 280.9 237.3 281.6 238.9 282.3 240.5 283.2 242.0 284.1 243.5 285.2 244.8 286.4 246.0 287.7 247.2 289.1 248.2 290.6 249.2 292.1 250.1 293.6 250.9 295.2 251.7 296.8 252.5 298.5 253.1 300.1 253.8 301.8 254.3 303.5 254.8 305.3 255.3 307.0 255.7 308.8 256.1 310.6 256.5 312.3 256.8 314.1 257.2 315.9 257.5 317.7 257.8 319.5 258.1 321.2 258.3 323.0 258.6 324.8 258.8 326.6 259.1 328.4 259.4 330.2 259.7 332.0 260.0 333.8 260.3 335.6 260.5 337.3 260.7 339.1 260.8 341.0 260.9 342.8 261.0 344.6 261.0 346.4 261.1 348.2 261.2 350.0 175.9 350.3 175.9 192.4Z" fill="#a90125"/><path d="M176.0 264.0L176.8 264.3 178.0 264.7 179.4 265.1 180.9 265.7 182.3 266.3 183.6 266.9 184.7 267.6 185.7 268.4 186.6 269.2 187.6 270.1 188.7 271.1 190.0 272.0 191.5 273.0 193.3 274.1 195.1 275.3 197.0 276.4 198.9 277.4 200.6 278.2 202.2 278.8 203.8 279.2 205.3 279.4 206.8 279.6 208.4 279.8 210.0 280.0 211.7 280.2 213.4 280.4 215.1 280.5 216.9 280.7 218.6 280.8 220.3 281.0 222.0 281.2 223.6 281.4 225.3 281.6 226.9 281.9 228.5 282.2 230.0 282.5 231.5 282.9 233.0 283.2 234.4 283.6 235.9 284.1 237.2 284.6 238.6 285.2 239.9 285.9 241.2 286.6 242.5 287.4 243.7 288.2 244.9 289.1 246.0 290.0 247.0 291.0 248.0 292.0 248.9 293.0 249.7 294.1 250.5 295.3 251.3 296.5 252.1 297.8 252.8 299.1 253.6 300.4 254.2 301.9 254.9 303.4 255.5 305.0 256.1 306.7 256.6 308.5 257.1 310.5 257.5 312.4 258.0 314.4 258.4 316.3 258.8 318.2 259.2 320.2 259.5 322.2 259.8 324.2 260.2 326.1 260.5 328.0 260.9 329.8 261.3 331.7 261.7 333.4 262.0 335.2 262.3 337.0 262.6 338.8 262.8 340.8 262.9 342.9 262.9 345.1 263.0 347.1 263.0 348.8 263.0 350.0 175.9 350.3 175.9 192.4Z" fill="#a40024"/></g><mask id="mk11" maskUnits="userSpaceOnUse" x="173.9" y="190.4" width="139.5" height="161.9"><rect x="173.9" y="190.4" width="139.5" height="161.9" fill="#fff"/><rect transform="translate(245 272) rotate(80)" x="-8.0" y="-9.5" width="15.9" height="10.3" fill="#000"/><rect transform="translate(238.6 289.2) rotate(10)" x="-3.9" y="-9.5" width="7.7" height="10.3" fill="#000"/><rect transform="translate(259.2 248) rotate(90)" x="-6.7" y="-7.7" width="13.4" height="8.5" fill="#000"/><rect transform="translate(259.2 272) rotate(90)" x="-6.7" y="-7.7" width="13.4" height="8.5" fill="#000"/><rect transform="translate(283.4 226) rotate(90)" x="-6.7" y="-7.7" width="13.4" height="8.5" fill="#000"/><rect transform="translate(283.4 250) rotate(90)" x="-6.7" y="-7.7" width="13.4" height="8.5" fill="#000"/></mask><g mask="url(#mk11)"><path d="M255.4 190.0L255.4 196.9 255.4 206.9 255.4 218.4 255.5 230.4 255.5 241.3 255.6 250.0 255.7 256.2 255.8 261.1 255.9 265.0 256.1 268.3 256.3 271.5 256.5 275.0 256.8 278.6 257.1 282.0 257.4 285.3 257.8 288.5 258.1 291.7 258.5 295.0 258.9 298.4 259.3 301.9 259.8 305.3 260.2 308.7 260.6 312.0 261.0 315.0 261.4 317.7 261.7 320.2 262.1 322.5 262.4 324.8 262.7 327.3 263.0 330.0 263.3 333.3 263.6 337.0 263.9 340.9 264.1 344.6 264.3 347.8 264.5 350.0" fill="none" stroke="#000" stroke-width="1.4"/><path d="M226.0 190.0L226.0 192.3 226.1 195.4 226.2 199.2 226.3 203.1 226.4 206.8 226.5 210.0 226.6 212.6 226.7 214.9 226.8 217.1 226.9 219.1 227.1 221.1 227.4 223.2 227.8 225.4 228.3 227.5 228.9 229.6 229.5 231.8 230.2 233.9 231.0 236.0 231.9 238.1 232.9 240.3 234.0 242.5 235.1 244.6 236.2 246.7 237.2 248.6 238.1 250.3 238.9 251.9 239.7 253.4 240.4 254.8 241.2 256.3 242.0 258.0 242.8 259.8 243.7 261.8 244.6 263.8 245.5 265.8 246.3 267.8 247.1 269.7 247.8 271.5 248.5 273.3 249.2 275.1 249.8 276.8 250.4 278.4 251.0 280.0 251.6 281.4 252.1 282.8 252.6 284.0 253.1 285.3 253.6 286.6 254.1 288.0 254.5 289.6 255.0 291.2 255.4 292.9 255.8 294.6 256.1 296.3 256.5 298.0 256.8 299.6 257.2 301.2 257.5 302.8 257.8 304.4 258.1 306.0 258.4 307.8 258.7 309.7 259.0 311.5 259.2 313.5 259.5 315.6 259.8 317.7 260.0 320.0 260.2 322.5 260.4 325.1 260.6 327.9 260.8 330.7 261.0 333.4 261.2 336.0 261.4 338.6 261.5 341.3 261.7 344.0 261.8 346.4 261.9 348.5 262.0 350.0" fill="none" stroke="#000" stroke-width="1.4"/><path d="M176.0 264.0L176.8 264.3 178.0 264.7 179.4 265.1 180.9 265.7 182.3 266.3 183.6 266.9 184.7 267.6 185.7 268.4 186.6 269.2 187.6 270.1 188.7 271.1 190.0 272.0 191.5 273.0 193.3 274.1 195.1 275.3 197.0 276.4 198.9 277.4 200.6 278.2 202.2 278.8 203.8 279.2 205.3 279.4 206.8 279.6 208.4 279.8 210.0 280.0 211.7 280.2 213.4 280.4 215.1 280.5 216.9 280.7 218.6 280.8 220.3 281.0 222.0 281.2 223.6 281.4 225.3 281.6 226.9 281.9 228.5 282.2 230.0 282.5 231.5 282.9 233.0 283.2 234.4 283.6 235.9 284.1 237.2 284.6 238.6 285.2 239.9 285.9 241.2 286.6 242.5 287.4 243.7 288.2 244.9 289.1 246.0 290.0 247.0 291.0 248.0 292.0 248.9 293.0 249.7 294.1 250.5 295.3 251.3 296.5 252.1 297.8 252.8 299.1 253.6 300.4 254.2 301.9 254.9 303.4 255.5 305.0 256.1 306.7 256.6 308.5 257.1 310.5 257.5 312.4 258.0 314.4 258.4 316.3 258.8 318.2 259.2 320.2 259.5 322.2 259.8 324.2 260.2 326.1 260.5 328.0 260.9 329.8 261.3 331.7 261.7 333.4 262.0 335.2 262.3 337.0 262.6 338.8 262.8 340.8 262.9 342.9 262.9 345.1 263.0 347.1 263.0 348.8 263.0 350.0" fill="none" stroke="#000" stroke-width="1.4"/><path d="M278.3 195.0L278.3 200.1 278.3 207.3 278.3 215.8 278.3 224.6 278.2 233.0 278.0 240.0 277.7 245.8 277.4 251.0 277.0 255.7 276.6 260.0 276.1 264.1 275.6 268.0 275.0 271.7 274.3 275.0 273.6 278.1 272.8 280.9 272.1 283.5 271.4 286.0 270.7 288.3 270.1 290.3 269.4 292.2 268.8 293.8 268.2 295.2 267.7 296.5 267.2 297.5 266.8 298.3 266.4 298.9 266.0 299.4 265.7 299.7 265.5 300.0" fill="none" stroke="#000" stroke-width="1.2" stroke-linejoin="round"/></g><ellipse transform="translate(265.5 300.5) rotate(-30)" rx="2.8" ry="1.6" fill="#388af8" stroke="#000" stroke-width="0.9"/><ellipse transform="translate(283 291) rotate(-20)" rx="2.6" ry="1.6" fill="#70cafc" stroke="#000" stroke-width="0.9"/><ellipse transform="translate(281 302) rotate(-20)" rx="2.6" ry="1.6" fill="#70cafc" stroke="#000" stroke-width="0.9"/><ellipse transform="translate(278.5 318) rotate(-20)" rx="2.6" ry="1.6" fill="#70cafc" stroke="#000" stroke-width="0.9"/><ellipse transform="translate(274 334) rotate(-20)" rx="2.6" ry="1.6" fill="#70cafc" stroke="#000" stroke-width="0.9"/><ellipse transform="translate(270 340) rotate(-20)" rx="2.6" ry="1.6" fill="#70cafc" stroke="#000" stroke-width="0.9"/><text transform="translate(245 272) rotate(80) scale(1 1.12)" font-size="11" text-anchor="middle" style="stroke:#000;stroke-width:0.35px;fill:#000">1.8</text><text transform="translate(238.6 289.2) rotate(10) scale(1 1.12)" font-size="11" text-anchor="middle" style="stroke:#000;stroke-width:0.35px;fill:#000">2</text><text transform="translate(259.2 248) rotate(90) scale(1 1.12)" font-size="9" text-anchor="middle" style="stroke:#000;stroke-width:0.35px;fill:#000">0.8</text><text transform="translate(259.2 272) rotate(90) scale(1 1.12)" font-size="9" text-anchor="middle" style="stroke:#000;stroke-width:0.35px;fill:#000">0.6</text><text transform="translate(283.4 226) rotate(90) scale(1 1.12)" font-size="9" text-anchor="middle" style="stroke:#000;stroke-width:0.35px;fill:#000">0.4</text><text transform="translate(283.4 250) rotate(90) scale(1 1.12)" font-size="9" text-anchor="middle" style="stroke:#000;stroke-width:0.35px;fill:#000">0.2</text></g><path d="M183.90 342.30v-5.2M183.90 200.40v5.2M183.90 342.30h5.2M303.40 342.30h-5.2M189.88 342.30v-3.0M189.88 200.40v3.0M183.90 335.21h3.0M303.40 335.21h-3.0M195.85 342.30v-3.0M195.85 200.40v3.0M183.90 328.11h3.0M303.40 328.11h-3.0M201.82 342.30v-3.0M201.82 200.40v3.0M183.90 321.01h3.0M303.40 321.01h-3.0M207.80 342.30v-3.0M207.80 200.40v3.0M183.90 313.92h3.0M303.40 313.92h-3.0M213.78 342.30v-5.2M213.78 200.40v5.2M183.90 306.82h5.2M303.40 306.82h-5.2M219.75 342.30v-3.0M219.75 200.40v3.0M183.90 299.73h3.0M303.40 299.73h-3.0M225.72 342.30v-3.0M225.72 200.40v3.0M183.90 292.63h3.0M303.40 292.63h-3.0M231.70 342.30v-3.0M231.70 200.40v3.0M183.90 285.54h3.0M303.40 285.54h-3.0M237.68 342.30v-3.0M237.68 200.40v3.0M183.90 278.44h3.0M303.40 278.44h-3.0M243.65 342.30v-5.2M243.65 200.40v5.2M183.90 271.35h5.2M303.40 271.35h-5.2M249.62 342.30v-3.0M249.62 200.40v3.0M183.90 264.25h3.0M303.40 264.25h-3.0M255.60 342.30v-3.0M255.60 200.40v3.0M183.90 257.16h3.0M303.40 257.16h-3.0M261.57 342.30v-3.0M261.57 200.40v3.0M183.90 250.06h3.0M303.40 250.06h-3.0M267.55 342.30v-3.0M267.55 200.40v3.0M183.90 242.97h3.0M303.40 242.97h-3.0M273.52 342.30v-5.2M273.52 200.40v5.2M183.90 235.88h5.2M303.40 235.88h-5.2M279.50 342.30v-3.0M279.50 200.40v3.0M183.90 228.78h3.0M303.40 228.78h-3.0M285.48 342.30v-3.0M285.48 200.40v3.0M183.90 221.69h3.0M303.40 221.69h-3.0M291.45 342.30v-3.0M291.45 200.40v3.0M183.90 214.59h3.0M303.40 214.59h-3.0M297.42 342.30v-3.0M297.42 200.40v3.0M183.90 207.50h3.0M303.40 207.50h-3.0M303.40 342.30v-5.2M303.40 200.40v5.2M183.90 200.40h5.2M303.40 200.40h-5.2" stroke="#000" stroke-width="1.25" fill="none"/><rect x="183.9" y="200.4" width="119.50" height="141.90" fill="none" stroke="#000" stroke-width="1.6"/><text transform="translate(185.30 356.00) scale(1 1.15)" font-size="10.5" text-anchor="middle">−2</text><text transform="translate(215.18 356.00) scale(1 1.15)" font-size="10.5" text-anchor="middle">−1</text><text transform="translate(243.65 356.00) scale(1 1.15)" font-size="10.5" text-anchor="middle">0</text><text transform="translate(273.52 356.00) scale(1 1.15)" font-size="10.5" text-anchor="middle">1</text><text transform="translate(303.40 356.00) scale(1 1.15)" font-size="10.5" text-anchor="middle">2</text><g clip-path="url(#cp12)"><rect x="331.0" y="200.4" width="119.80" height="141.90" fill="#2006d8"/><linearGradient id="pg120" gradientUnits="userSpaceOnUse" x1="0" y1="235" x2="0" y2="315"><stop offset="0" stop-color="#2f7af7"/><stop offset="1" stop-color="#60bbfb"/></linearGradient><path d="M401.5 195.0L421.0 195.0 421.0 250.0 420.5 268.0 417.6 295.6 414.8 316.3 410.8 348.0 404.5 348.0 403.0 320.0 401.5 300.0 400.7 286.0 401.5 250.0Z" fill="url(#pg120)"/><linearGradient id="pg121" gradientUnits="userSpaceOnUse" x1="0" y1="235" x2="0" y2="315"><stop offset="0" stop-color="#50aafa"/><stop offset="1" stop-color="#75cefc"/></linearGradient><path d="M414.3 195.0L421.0 195.0 421.0 250.0 420.5 268.0 417.6 295.6 414.8 316.3 410.8 348.0 404.5 348.0 402.1 302.5 407.6 288.7 412.0 268.0 414.3 240.0Z" fill="url(#pg121)"/><path d="M391.0 195.0L395.2 195.0 395.2 260.0 396.5 285.0 397.5 292.0 394.0 292.0 391.0 292.0Z" fill="#ff845b"/><path d="M394.6 195.0L396.0 195.0 396.0 260.0 397.3 280.0 396.0 280.0 394.6 260.0Z" fill="#fce0a8"/><path d="M395.6 195.0L401.5 195.0 401.5 250.0 400.7 268.0 401.0 290.0 403.0 320.0 405.3 348.0 399.6 348.0 397.5 320.0 395.0 300.0 393.0 285.0 395.6 260.0Z" fill="#000"/><path d="M421.8 195.0L424.3 195.0 424.0 268.0 421.0 300.0 418.0 320.0 416.0 348.0 412.0 348.0 414.8 320.0 417.8 296.0 420.8 268.0Z" fill="#000"/><path d="M396.0 226.0L401.0 226.0 401.0 252.0 396.0 252.0Z" fill="#eadcc0"/><path d="M396.0 262.0L401.0 262.0 401.0 290.0 396.0 290.0Z" fill="#eadcc0"/><path d="M420.6 195.0L420.6 203.5 420.7 215.6 420.8 229.8 420.8 244.3 420.8 257.6 420.6 268.0 420.2 275.3 419.7 280.8 419.1 285.1 418.5 288.6 417.9 291.9 417.3 295.6 416.8 299.3 416.4 302.6 415.9 305.7 415.5 308.8 415.0 312.3 414.5 316.3 413.8 321.3 413.1 327.2 412.3 333.4 411.5 339.4 410.9 344.4 410.4 348.0" fill="none" stroke="#a0ecfd" stroke-width="1.6" stroke-linejoin="round"/><g filter="url(#bl12)"><path d="M391.8 190.0L391.8 196.9 391.8 206.9 391.8 218.4 391.9 230.4 391.9 241.3 392.0 250.0 392.1 256.3 392.2 261.3 392.4 265.3 392.6 268.7 392.8 271.8 393.0 275.0 393.3 278.1 393.6 280.7 393.9 283.1 394.2 285.4 394.6 287.6 395.0 290.0 395.4 292.5 395.9 295.0 396.4 297.5 397.0 300.0 397.5 302.5 398.0 305.0 398.5 307.5 399.0 310.0 399.6 312.5 400.1 315.0 400.6 317.5 401.0 320.0 401.4 322.5 401.8 325.0 402.1 327.5 402.4 330.0 402.7 332.5 403.0 335.0 403.2 337.7 403.4 340.6 403.6 343.4 403.8 346.1 403.9 348.4 404.0 350.0 323.0 350.3 323.0 192.4Z" fill="#fe2c39"/><path d="M386.0 190.0L386.0 192.0 386.0 194.1 386.0 196.1 386.0 198.2 386.0 200.2 386.0 202.3 386.0 204.3 386.0 206.4 386.1 208.4 386.1 210.5 386.1 212.5 386.2 214.6 386.2 216.6 386.3 218.7 386.4 220.7 386.5 222.7 386.6 224.8 386.7 226.8 386.8 228.9 386.9 230.9 387.1 232.9 387.2 235.0 387.4 237.0 387.5 239.0 387.7 241.0 387.9 243.1 388.1 245.1 388.3 247.1 388.5 249.1 388.7 251.1 388.9 253.2 389.1 255.2 389.3 257.2 389.6 259.2 389.8 261.3 390.0 263.3 390.1 265.3 390.4 267.4 390.6 269.4 390.8 271.4 391.1 273.4 391.5 275.4 391.8 277.4 392.2 279.4 392.6 281.4 393.0 283.4 393.4 285.4 393.9 287.4 394.3 289.4 394.7 291.4 395.1 293.4 395.5 295.4 395.9 297.4 396.4 299.4 396.8 301.4 397.2 303.4 397.6 305.4 398.0 307.5 398.5 309.5 398.9 311.5 399.3 313.5 399.7 315.5 400.1 317.5 400.4 319.5 400.7 321.5 401.1 323.5 401.4 325.6 401.7 327.6 402.0 329.6 402.3 331.6 402.5 333.7 402.8 335.7 403.0 337.7 403.2 339.8 403.3 341.8 403.4 343.9 403.5 345.9 403.6 348.0 403.7 350.0 323.0 350.3 323.0 192.4Z" fill="#fc2938"/><path d="M380.2 190.0L380.2 192.1 380.2 194.1 380.2 196.2 380.2 198.2 380.2 200.3 380.2 202.3 380.3 204.4 380.3 206.5 380.3 208.5 380.4 210.6 380.4 212.6 380.5 214.7 380.7 216.7 380.8 218.8 381.0 220.8 381.1 222.9 381.3 224.9 381.5 227.0 381.7 229.0 382.0 231.0 382.2 233.1 382.5 235.1 382.8 237.1 383.2 239.1 383.5 241.2 383.9 243.2 384.3 245.2 384.7 247.2 385.0 249.2 385.4 251.2 385.8 253.2 386.2 255.2 386.6 257.2 386.9 259.2 387.3 261.2 387.6 263.3 387.9 265.3 388.2 267.3 388.6 269.3 389.0 271.4 389.4 273.3 389.9 275.3 390.4 277.3 390.9 279.3 391.5 281.3 392.0 283.2 392.6 285.2 393.1 287.2 393.6 289.2 394.1 291.2 394.5 293.2 394.9 295.2 395.4 297.2 395.8 299.2 396.3 301.2 396.7 303.2 397.1 305.3 397.5 307.3 398.0 309.3 398.4 311.3 398.8 313.3 399.2 315.3 399.5 317.4 399.9 319.4 400.2 321.4 400.6 323.4 400.9 325.5 401.2 327.5 401.5 329.5 401.9 331.6 402.2 333.6 402.5 335.6 402.7 337.7 402.9 339.7 403.1 341.8 403.2 343.8 403.3 345.9 403.4 347.9 403.5 350.0 323.0 350.3 323.0 192.4Z" fill="#fa2537"/><path d="M374.4 190.0L374.4 192.3 374.4 195.4 374.4 199.2 374.5 203.1 374.5 206.8 374.6 210.0 374.7 212.6 374.9 214.9 375.1 217.1 375.3 219.1 375.5 221.1 375.8 223.2 376.1 225.4 376.4 227.5 376.8 229.6 377.1 231.8 377.6 233.9 378.0 236.0 378.5 238.1 379.1 240.3 379.6 242.4 380.2 244.5 380.8 246.6 381.4 248.6 381.9 250.6 382.5 252.5 383.0 254.4 383.5 256.3 384.0 258.1 384.5 260.0 384.9 261.9 385.4 263.8 385.8 265.7 386.2 267.6 386.6 269.4 387.0 271.1 387.5 272.7 388.0 274.3 388.5 275.7 389.0 277.2 389.5 278.6 390.0 280.0 390.5 281.3 390.9 282.6 391.4 283.8 391.8 285.1 392.2 286.4 392.7 288.0 393.2 289.8 393.6 291.7 394.1 293.7 394.6 295.7 395.0 297.9 395.5 300.0 396.0 302.2 396.5 304.4 396.9 306.7 397.4 308.9 397.9 311.2 398.3 313.4 398.7 315.5 399.1 317.7 399.4 319.7 399.8 321.8 400.1 323.9 400.5 326.0 400.9 328.1 401.3 330.3 401.6 332.5 402.0 334.6 402.3 336.8 402.6 338.8 402.8 340.9 402.9 343.1 403.0 345.2 403.1 347.2 403.2 348.8 403.2 350.0 323.0 350.3 323.0 192.4Z" fill="#f72236"/><path d="M356.9 205.0L357.6 206.6 358.2 208.2 358.8 209.8 359.4 211.4 359.9 213.1 360.5 214.9 361.0 216.7 361.5 218.5 362.1 220.3 362.6 222.1 363.2 223.8 363.8 225.6 364.5 227.3 365.1 229.1 365.8 230.8 366.6 232.5 367.3 234.2 368.1 235.8 368.9 237.4 369.8 239.0 370.7 240.5 371.6 242.1 372.5 243.6 373.5 245.1 374.4 246.6 375.4 248.1 376.4 249.7 377.4 251.2 378.4 252.7 379.4 254.3 380.3 255.9 381.3 257.5 382.1 259.3 383.0 261.1 383.7 262.9 384.3 264.8 384.9 266.7 385.5 268.7 386.0 270.6 386.6 272.6 387.1 274.5 387.8 276.4 388.4 278.4 389.0 280.3 389.6 282.2 390.2 284.2 390.8 286.1 391.4 288.0 391.9 290.0 392.3 292.0 392.7 294.0 393.1 295.9 393.5 297.9 393.9 299.9 394.3 301.9 394.7 303.9 395.1 305.9 395.5 307.9 395.9 309.9 396.3 311.9 396.6 313.9 397.0 315.9 397.3 317.9 397.7 319.9 398.0 321.9 398.3 323.9 398.7 325.9 399.0 327.9 399.3 329.9 399.7 331.9 400.0 333.9 400.3 335.9 400.6 337.9 400.8 339.9 401.0 341.9 401.1 343.9 401.2 346.0 401.3 348.0 401.5 350.0 323.0 350.3 323.0 192.4Z" fill="#f51d34"/><path d="M339.5 220.0L340.7 221.1 341.9 222.2 343.1 223.4 344.3 224.6 345.5 225.9 346.5 227.4 347.5 228.9 348.5 230.4 349.5 232.0 350.6 233.5 351.6 235.0 352.7 236.4 353.9 237.8 355.0 239.3 356.2 240.7 357.4 242.0 358.6 243.3 359.9 244.5 361.2 245.7 362.6 246.8 363.9 247.8 365.3 248.9 366.7 249.9 368.1 251.0 369.5 252.0 371.0 253.0 372.4 254.1 373.8 255.1 375.2 256.2 376.6 257.3 378.0 258.6 379.3 259.9 380.5 261.3 381.6 262.9 382.6 264.6 383.4 266.4 384.2 268.2 384.8 270.1 385.4 271.9 386.0 273.8 386.6 275.7 387.2 277.6 387.8 279.5 388.4 281.4 388.9 283.4 389.4 285.3 389.9 287.2 390.4 289.1 390.8 291.1 391.2 293.0 391.5 295.0 391.9 296.9 392.3 298.9 392.6 300.8 393.0 302.8 393.3 304.8 393.7 306.7 394.0 308.7 394.3 310.6 394.7 312.6 395.0 314.5 395.3 316.5 395.7 318.5 396.0 320.4 396.3 322.4 396.6 324.4 397.0 326.3 397.3 328.3 397.6 330.2 397.9 332.2 398.2 334.2 398.4 336.1 398.7 338.1 398.9 340.1 399.1 342.1 399.2 344.1 399.4 346.0 399.6 348.0 399.7 350.0 323.0 350.3 323.0 192.4Z" fill="#e81731"/><path d="M322.0 235.0L322.9 235.3 324.2 235.8 325.7 236.3 327.4 236.9 329.0 237.6 330.6 238.5 332.1 239.5 333.7 240.7 335.2 242.1 336.8 243.4 338.4 244.8 340.0 246.0 341.6 247.2 343.3 248.4 345.0 249.5 346.6 250.6 348.3 251.6 350.0 252.5 351.7 253.3 353.3 253.9 355.0 254.5 356.7 255.0 358.3 255.5 360.0 256.0 361.7 256.5 363.4 257.0 365.2 257.5 366.9 258.0 368.5 258.5 370.0 259.0 371.4 259.5 372.6 259.9 373.8 260.4 374.9 260.9 376.0 261.4 377.0 262.0 378.0 262.7 378.9 263.4 379.7 264.2 380.5 265.0 381.3 266.0 382.0 267.0 382.7 268.1 383.3 269.3 383.9 270.6 384.4 272.0 385.0 273.5 385.5 275.0 386.0 276.6 386.6 278.3 387.1 280.1 387.6 282.0 388.0 284.0 388.5 286.0 388.9 288.1 389.4 290.4 389.8 292.7 390.2 295.1 390.6 297.5 391.0 300.0 391.4 302.6 391.8 305.2 392.2 307.9 392.7 310.6 393.1 313.3 393.5 316.0 393.9 318.6 394.4 321.3 394.8 323.9 395.2 326.5 395.6 329.2 396.0 332.0 396.4 335.1 396.8 338.5 397.2 342.0 397.5 345.3 397.8 348.0 398.0 350.0 323.0 350.3 323.0 192.4Z" fill="#dc112f"/><path d="M322.0 240.3L323.8 240.9 325.6 241.5 327.4 242.2 329.1 242.9 330.8 243.8 332.4 244.9 333.8 246.1 335.3 247.3 336.7 248.6 338.2 249.8 339.7 250.9 341.3 252.0 342.8 253.1 344.4 254.1 346.0 255.1 347.7 256.0 349.4 256.9 351.1 257.7 352.9 258.3 354.7 258.9 356.5 259.4 358.4 260.0 360.2 260.5 362.0 261.0 363.9 261.4 365.7 261.9 367.5 262.4 369.3 262.9 371.2 263.5 373.0 264.1 374.7 264.8 376.4 265.7 377.9 266.8 379.4 268.0 380.7 269.4 381.9 270.8 382.9 272.4 383.8 274.0 384.7 275.7 385.4 277.4 386.1 279.2 386.8 280.9 387.4 282.7 388.0 284.5 388.6 286.3 389.1 288.1 389.6 290.0 390.0 291.8 390.4 293.7 390.8 295.5 391.2 297.4 391.5 299.2 391.9 301.1 392.2 303.0 392.6 304.8 392.9 306.7 393.2 308.6 393.5 310.5 393.8 312.3 394.1 314.2 394.4 316.1 394.7 318.0 395.0 319.8 395.3 321.7 395.6 323.6 395.9 325.5 396.2 327.3 396.5 329.2 396.7 331.1 396.9 333.0 397.2 334.9 397.4 336.8 397.6 338.7 397.8 340.5 397.9 342.4 398.1 344.3 398.3 346.2 398.5 348.1 398.7 350.0 323.0 350.3 323.0 192.4Z" fill="#d40e2d"/><path d="M322.0 245.7L323.8 246.2 325.5 246.8 327.3 247.4 329.0 248.1 330.6 248.9 332.2 249.9 333.6 251.1 335.0 252.3 336.4 253.5 337.8 254.7 339.3 255.8 340.9 256.8 342.4 257.8 344.0 258.8 345.6 259.7 347.2 260.6 348.9 261.4 350.6 262.1 352.3 262.7 354.1 263.2 355.9 263.7 357.7 264.2 359.5 264.7 361.3 265.1 363.1 265.5 364.9 265.9 366.7 266.3 368.5 266.7 370.2 267.2 372.0 267.8 373.7 268.4 375.4 269.2 377.0 270.2 378.5 271.2 379.9 272.4 381.2 273.7 382.4 275.1 383.4 276.6 384.4 278.1 385.3 279.7 386.1 281.3 386.9 283.0 387.7 284.7 388.4 286.4 389.0 288.1 389.6 289.9 390.2 291.6 390.7 293.4 391.1 295.2 391.6 297.0 392.0 298.8 392.4 300.6 392.8 302.4 393.2 304.2 393.5 306.0 393.9 307.8 394.2 309.7 394.5 311.5 394.8 313.3 395.1 315.1 395.4 316.9 395.7 318.8 396.0 320.6 396.3 322.4 396.6 324.3 396.9 326.1 397.1 327.9 397.4 329.8 397.6 331.6 397.8 333.4 398.0 335.3 398.2 337.1 398.4 338.9 398.5 340.8 398.7 342.6 398.9 344.5 399.0 346.3 399.2 348.2 399.3 350.0 323.0 350.3 323.0 192.4Z" fill="#ca0a2b"/><path d="M322.0 251.0L322.9 251.3 324.3 251.7 325.8 252.1 327.5 252.7 329.1 253.3 330.6 254.0 331.9 254.8 333.1 255.8 334.2 256.8 335.4 257.9 336.7 259.0 338.0 260.0 339.5 261.0 341.0 262.0 342.7 262.9 344.3 263.9 346.0 264.7 347.6 265.5 349.2 266.2 350.7 266.7 352.3 267.2 353.8 267.7 355.4 268.1 357.0 268.5 358.7 268.9 360.5 269.2 362.3 269.5 364.0 269.8 365.7 270.1 367.3 270.5 368.7 270.9 370.1 271.2 371.4 271.6 372.6 272.0 373.8 272.4 375.0 273.0 376.2 273.7 377.5 274.4 378.7 275.2 379.8 276.1 381.0 277.0 382.0 278.0 383.0 279.0 383.9 280.1 384.7 281.2 385.5 282.4 386.2 283.7 387.0 285.0 387.7 286.4 388.4 287.8 389.1 289.2 389.8 290.8 390.4 292.4 391.0 294.0 391.6 295.7 392.1 297.4 392.6 299.2 393.1 301.1 393.5 303.0 394.0 305.0 394.5 307.0 394.9 309.1 395.3 311.3 395.7 313.5 396.1 315.8 396.5 318.0 396.9 320.2 397.2 322.4 397.6 324.7 397.9 327.0 398.2 329.4 398.5 332.0 398.8 335.0 399.1 338.4 399.4 341.9 399.6 345.2 399.8 348.0 400.0 350.0 323.0 350.3 323.0 192.4Z" fill="#bf0729"/><path d="M322.0 255.3L323.7 255.8 325.4 256.3 327.1 256.9 328.7 257.5 330.3 258.2 331.8 259.1 333.2 260.2 334.6 261.3 335.9 262.4 337.3 263.5 338.8 264.5 340.3 265.4 341.8 266.3 343.3 267.2 344.9 268.0 346.5 268.8 348.1 269.5 349.7 270.1 351.4 270.7 353.1 271.2 354.8 271.6 356.5 272.1 358.2 272.4 360.0 272.8 361.7 273.0 363.4 273.3 365.2 273.6 366.9 273.9 368.6 274.3 370.3 274.8 372.0 275.3 373.7 275.9 375.3 276.7 376.8 277.5 378.3 278.5 379.7 279.5 381.1 280.5 382.4 281.7 383.6 283.0 384.8 284.3 385.8 285.7 386.8 287.1 387.8 288.6 388.7 290.1 389.5 291.6 390.3 293.2 391.0 294.8 391.7 296.4 392.3 298.0 392.9 299.7 393.5 301.3 394.0 303.0 394.5 304.7 395.0 306.4 395.4 308.1 395.8 309.8 396.2 311.6 396.5 313.3 396.8 315.0 397.1 316.8 397.4 318.5 397.7 320.2 398.0 322.0 398.3 323.7 398.6 325.4 398.9 327.2 399.1 328.9 399.3 330.7 399.6 332.4 399.8 334.2 399.9 335.9 400.1 337.7 400.3 339.4 400.4 341.2 400.5 343.0 400.7 344.7 400.8 346.5 400.9 348.2 401.0 350.0 323.0 350.3 323.0 192.4Z" fill="#b40427"/><path d="M322.0 259.7L323.7 260.2 325.3 260.6 327.0 261.2 328.6 261.7 330.2 262.4 331.7 263.3 333.1 264.3 334.4 265.3 335.8 266.4 337.1 267.4 338.6 268.4 340.1 269.2 341.6 270.1 343.1 270.9 344.6 271.7 346.2 272.4 347.8 273.1 349.4 273.7 351.0 274.3 352.7 274.8 354.4 275.2 356.0 275.6 357.7 276.0 359.4 276.3 361.1 276.6 362.8 276.8 364.5 277.0 366.2 277.3 367.9 277.7 369.6 278.1 371.3 278.6 372.9 279.1 374.5 279.8 376.0 280.6 377.5 281.4 379.0 282.3 380.4 283.3 381.8 284.3 383.1 285.4 384.3 286.6 385.5 287.8 386.6 289.1 387.7 290.4 388.7 291.8 389.6 293.3 390.5 294.7 391.3 296.2 392.1 297.8 392.8 299.3 393.5 300.9 394.1 302.5 394.7 304.1 395.3 305.7 395.8 307.4 396.3 309.0 396.7 310.7 397.1 312.4 397.5 314.1 397.8 315.8 398.1 317.5 398.4 319.2 398.7 320.9 399.0 322.6 399.3 324.3 399.6 326.0 399.9 327.7 400.1 329.4 400.4 331.1 400.6 332.8 400.8 334.5 401.0 336.2 401.2 337.9 401.4 339.7 401.5 341.4 401.6 343.1 401.7 344.8 401.8 346.6 401.9 348.3 402.0 350.0 323.0 350.3 323.0 192.4Z" fill="#a90125"/><path d="M322.0 264.0L322.9 264.3 324.3 264.7 325.8 265.1 327.5 265.7 329.1 266.3 330.6 266.9 331.9 267.6 333.1 268.4 334.2 269.3 335.4 270.2 336.7 271.1 338.0 272.0 339.5 272.8 341.0 273.7 342.7 274.6 344.3 275.4 346.0 276.1 347.6 276.8 349.2 277.4 350.7 277.9 352.3 278.4 353.8 278.8 355.4 279.1 357.0 279.5 358.7 279.8 360.5 280.1 362.3 280.3 364.0 280.5 365.7 280.7 367.3 281.0 368.7 281.3 370.1 281.7 371.3 282.1 372.5 282.5 373.7 283.0 375.0 283.5 376.3 284.1 377.7 284.8 379.0 285.5 380.3 286.3 381.6 287.1 382.8 288.0 383.9 288.9 385.0 289.8 386.1 290.8 387.1 291.8 388.0 292.9 389.0 294.0 389.9 295.2 390.8 296.5 391.7 297.9 392.6 299.3 393.4 300.8 394.1 302.2 394.8 303.6 395.4 305.0 396.0 306.4 396.5 307.9 397.0 309.4 397.5 311.0 397.9 312.7 398.3 314.5 398.7 316.4 399.0 318.2 399.4 320.1 399.7 321.9 400.0 323.6 400.4 325.3 400.7 327.0 401.0 328.7 401.2 330.4 401.5 332.0 401.7 333.6 401.9 335.3 402.1 336.9 402.3 338.5 402.5 340.1 402.6 341.6 402.7 343.2 402.8 344.8 402.9 346.4 402.9 347.9 403.0 349.1 403.0 350.0 323.0 350.3 323.0 192.4Z" fill="#a40024"/></g><mask id="mk12" maskUnits="userSpaceOnUse" x="321.0" y="190.4" width="139.8" height="161.9"><rect x="321.0" y="190.4" width="139.8" height="161.9" fill="#fff"/><rect transform="translate(386 274) rotate(80)" x="-8.0" y="-9.5" width="15.9" height="10.3" fill="#000"/><rect transform="translate(382.8 292.2) rotate(10)" x="-3.9" y="-9.5" width="7.7" height="10.3" fill="#000"/><rect transform="translate(394.6 239) rotate(90)" x="-6.7" y="-7.7" width="13.4" height="8.5" fill="#000"/><rect transform="translate(394.6 276) rotate(90)" x="-6.7" y="-7.7" width="13.4" height="8.5" fill="#000"/><rect transform="translate(400.4 297.3) rotate(115)" x="-6.7" y="-7.7" width="13.4" height="8.5" fill="#000"/><rect transform="translate(411.8 313.6) rotate(100)" x="-6.7" y="-7.7" width="13.4" height="8.5" fill="#000"/><rect transform="translate(407 330.8) rotate(100)" x="-6.7" y="-7.7" width="13.4" height="8.5" fill="#000"/></mask><g mask="url(#mk12)"><path d="M391.8 190.0L391.8 196.9 391.8 206.9 391.8 218.4 391.9 230.4 391.9 241.3 392.0 250.0 392.1 256.3 392.2 261.3 392.4 265.3 392.6 268.7 392.8 271.8 393.0 275.0 393.3 278.1 393.6 280.7 393.9 283.1 394.2 285.4 394.6 287.6 395.0 290.0 395.4 292.5 395.9 295.0 396.4 297.5 397.0 300.0 397.5 302.5 398.0 305.0 398.5 307.5 399.0 310.0 399.6 312.5 400.1 315.0 400.6 317.5 401.0 320.0 401.4 322.5 401.8 325.0 402.1 327.5 402.4 330.0 402.7 332.5 403.0 335.0 403.2 337.7 403.4 340.6 403.6 343.4 403.8 346.1 403.9 348.4 404.0 350.0" fill="none" stroke="#000" stroke-width="1.4"/><path d="M374.4 190.0L374.4 192.3 374.4 195.4 374.4 199.2 374.5 203.1 374.5 206.8 374.6 210.0 374.7 212.6 374.9 214.9 375.1 217.1 375.3 219.1 375.5 221.1 375.8 223.2 376.1 225.4 376.4 227.5 376.8 229.6 377.1 231.8 377.6 233.9 378.0 236.0 378.5 238.1 379.1 240.3 379.6 242.4 380.2 244.5 380.8 246.6 381.4 248.6 381.9 250.6 382.5 252.5 383.0 254.4 383.5 256.3 384.0 258.1 384.5 260.0 384.9 261.9 385.4 263.8 385.8 265.7 386.2 267.6 386.6 269.4 387.0 271.1 387.5 272.7 388.0 274.3 388.5 275.7 389.0 277.2 389.5 278.6 390.0 280.0 390.5 281.3 390.9 282.6 391.4 283.8 391.8 285.1 392.2 286.4 392.7 288.0 393.2 289.8 393.6 291.7 394.1 293.7 394.6 295.7 395.0 297.9 395.5 300.0 396.0 302.2 396.5 304.4 396.9 306.7 397.4 308.9 397.9 311.2 398.3 313.4 398.7 315.5 399.1 317.7 399.4 319.7 399.8 321.8 400.1 323.9 400.5 326.0 400.9 328.1 401.3 330.3 401.6 332.5 402.0 334.6 402.3 336.8 402.6 338.8 402.8 340.9 402.9 343.1 403.0 345.2 403.1 347.2 403.2 348.8 403.2 350.0" fill="none" stroke="#000" stroke-width="1.4"/><path d="M322.0 264.0L322.9 264.3 324.3 264.7 325.8 265.1 327.5 265.7 329.1 266.3 330.6 266.9 331.9 267.6 333.1 268.4 334.2 269.3 335.4 270.2 336.7 271.1 338.0 272.0 339.5 272.8 341.0 273.7 342.7 274.6 344.3 275.4 346.0 276.1 347.6 276.8 349.2 277.4 350.7 277.9 352.3 278.4 353.8 278.8 355.4 279.1 357.0 279.5 358.7 279.8 360.5 280.1 362.3 280.3 364.0 280.5 365.7 280.7 367.3 281.0 368.7 281.3 370.1 281.7 371.3 282.1 372.5 282.5 373.7 283.0 375.0 283.5 376.3 284.1 377.7 284.8 379.0 285.5 380.3 286.3 381.6 287.1 382.8 288.0 383.9 288.9 385.0 289.8 386.1 290.8 387.1 291.8 388.0 292.9 389.0 294.0 389.9 295.2 390.8 296.5 391.7 297.9 392.6 299.3 393.4 300.8 394.1 302.2 394.8 303.6 395.4 305.0 396.0 306.4 396.5 307.9 397.0 309.4 397.5 311.0 397.9 312.7 398.3 314.5 398.7 316.4 399.0 318.2 399.4 320.1 399.7 321.9 400.0 323.6 400.4 325.3 400.7 327.0 401.0 328.7 401.2 330.4 401.5 332.0 401.7 333.6 401.9 335.3 402.1 336.9 402.3 338.5 402.5 340.1 402.6 341.6 402.7 343.2 402.8 344.8 402.9 346.4 402.9 347.9 403.0 349.1 403.0 350.0" fill="none" stroke="#000" stroke-width="1.4"/><path d="M414.3 195.0L414.3 200.1 414.4 207.3 414.4 215.8 414.5 224.6 414.4 233.0 414.3 240.0 414.1 245.7 413.8 250.9 413.4 255.5 413.0 259.8 412.5 264.0 412.0 268.0 411.4 272.0 410.7 275.7 410.0 279.2 409.2 282.6 408.4 285.7 407.6 288.7 406.7 291.6 405.6 294.3 404.6 296.9 403.6 299.2 402.7 301.1 402.1 302.5" fill="none" stroke="#000" stroke-width="1.2" stroke-linejoin="round"/></g><ellipse transform="translate(398.2 265.3) rotate(0)" rx="2.2" ry="1.4" fill="#f8fff8" stroke="#000" stroke-width="0.9"/><ellipse transform="translate(422.3 244.4) rotate(0)" rx="1.9" ry="1.3" fill="#a6f0fe" stroke="#000" stroke-width="0.9"/><ellipse transform="translate(422.3 258) rotate(0)" rx="1.9" ry="1.3" fill="#a6f0fe" stroke="#000" stroke-width="0.9"/><text transform="translate(386 274) rotate(80) scale(1 1.12)" font-size="11" text-anchor="middle" style="stroke:#000;stroke-width:0.35px;fill:#000">1.8</text><text transform="translate(382.8 292.2) rotate(10) scale(1 1.12)" font-size="11" text-anchor="middle" style="stroke:#000;stroke-width:0.35px;fill:#000">2</text><text transform="translate(394.6 239) rotate(90) scale(1 1.12)" font-size="9" text-anchor="middle" style="stroke:#000;stroke-width:0.35px;fill:#000">1.2</text><text transform="translate(394.6 276) rotate(90) scale(1 1.12)" font-size="9" text-anchor="middle" style="stroke:#000;stroke-width:0.35px;fill:#000">0.8</text><text transform="translate(400.4 297.3) rotate(115) scale(1 1.12)" font-size="9" text-anchor="middle" style="stroke:#000;stroke-width:0.35px;fill:#000">0.4</text><text transform="translate(411.8 313.6) rotate(100) scale(1 1.12)" font-size="9" text-anchor="middle" style="stroke:#000;stroke-width:0.35px;fill:#000">0.8</text><text transform="translate(407 330.8) rotate(100) scale(1 1.12)" font-size="9" text-anchor="middle" style="stroke:#000;stroke-width:0.35px;fill:#000">0.6</text></g><path d="M331.00 342.30v-5.2M331.00 200.40v5.2M331.00 342.30h5.2M450.80 342.30h-5.2M336.99 342.30v-3.0M336.99 200.40v3.0M331.00 335.21h3.0M450.80 335.21h-3.0M342.98 342.30v-3.0M342.98 200.40v3.0M331.00 328.11h3.0M450.80 328.11h-3.0M348.97 342.30v-3.0M348.97 200.40v3.0M331.00 321.01h3.0M450.80 321.01h-3.0M354.96 342.30v-3.0M354.96 200.40v3.0M331.00 313.92h3.0M450.80 313.92h-3.0M360.95 342.30v-5.2M360.95 200.40v5.2M331.00 306.82h5.2M450.80 306.82h-5.2M366.94 342.30v-3.0M366.94 200.40v3.0M331.00 299.73h3.0M450.80 299.73h-3.0M372.93 342.30v-3.0M372.93 200.40v3.0M331.00 292.63h3.0M450.80 292.63h-3.0M378.92 342.30v-3.0M378.92 200.40v3.0M331.00 285.54h3.0M450.80 285.54h-3.0M384.91 342.30v-3.0M384.91 200.40v3.0M331.00 278.44h3.0M450.80 278.44h-3.0M390.90 342.30v-5.2M390.90 200.40v5.2M331.00 271.35h5.2M450.80 271.35h-5.2M396.89 342.30v-3.0M396.89 200.40v3.0M331.00 264.25h3.0M450.80 264.25h-3.0M402.88 342.30v-3.0M402.88 200.40v3.0M331.00 257.16h3.0M450.80 257.16h-3.0M408.87 342.30v-3.0M408.87 200.40v3.0M331.00 250.06h3.0M450.80 250.06h-3.0M414.86 342.30v-3.0M414.86 200.40v3.0M331.00 242.97h3.0M450.80 242.97h-3.0M420.85 342.30v-5.2M420.85 200.40v5.2M331.00 235.88h5.2M450.80 235.88h-5.2M426.84 342.30v-3.0M426.84 200.40v3.0M331.00 228.78h3.0M450.80 228.78h-3.0M432.83 342.30v-3.0M432.83 200.40v3.0M331.00 221.69h3.0M450.80 221.69h-3.0M438.82 342.30v-3.0M438.82 200.40v3.0M331.00 214.59h3.0M450.80 214.59h-3.0M444.81 342.30v-3.0M444.81 200.40v3.0M331.00 207.50h3.0M450.80 207.50h-3.0M450.80 342.30v-5.2M450.80 200.40v5.2M331.00 200.40h5.2M450.80 200.40h-5.2" stroke="#000" stroke-width="1.25" fill="none"/><rect x="331.0" y="200.4" width="119.80" height="141.90" fill="none" stroke="#000" stroke-width="1.6"/><text transform="translate(332.40 356.00) scale(1 1.15)" font-size="10.5" text-anchor="middle">−2</text><text transform="translate(362.35 356.00) scale(1 1.15)" font-size="10.5" text-anchor="middle">−1</text><text transform="translate(390.90 356.00) scale(1 1.15)" font-size="10.5" text-anchor="middle">0</text><text transform="translate(420.85 356.00) scale(1 1.15)" font-size="10.5" text-anchor="middle">1</text><text transform="translate(450.80 356.00) scale(1 1.15)" font-size="10.5" text-anchor="middle">2</text><rect x="451.5" y="213.3" width="13.10" height="116.30" fill="url(#cbg)"/><text transform="translate(468.10 217.80) scale(1 1.15)" font-size="10.5">2</text><text transform="translate(468.10 246.88) scale(1 1.15)" font-size="10.5">1.5</text><text transform="translate(468.10 275.95) scale(1 1.15)" font-size="10.5">1</text><text transform="translate(468.10 305.03) scale(1 1.15)" font-size="10.5">0.5</text><text transform="translate(468.10 334.10) scale(1 1.15)" font-size="10.5">0</text><text transform="translate(490.5 268.1) rotate(90)" font-size="11.2" text-anchor="middle" style="stroke-width:0.3px">log<tspan font-size="7" dy="1.5">10</tspan><tspan dy="-1.5">(NO</tspan><tspan font-size="7" dy="1.5">2</tspan><tspan dy="-1.5"> [ppmv])</tspan></text><g clip-path="url(#cp20)"><rect x="36.4" y="369.3" width="120.30" height="142.40" fill="#fcd69b"/><g filter="url(#bl20)"><path d="M28.0 398.0L28.8 397.8 29.8 397.5 31.0 397.1 32.5 396.6 34.3 395.9 36.4 395.0 39.0 393.7 42.0 392.2 45.3 390.4 48.7 388.6 52.0 386.7 55.0 385.0 57.8 383.4 60.6 381.8 63.4 380.2 65.9 378.6 68.1 376.8 70.0 375.0 71.5 372.9 72.6 370.4 73.4 367.9 74.1 365.5 74.6 363.4 75.0 362.0 164.7 361.3 164.7 519.7 28.4 519.7Z" fill="#fcc687"/><path d="M28.0 403.8L28.9 403.5 29.8 403.2 30.8 402.9 31.7 402.6 32.6 402.3 33.5 402.0 34.4 401.6 35.3 401.3 36.1 400.9 37.0 400.5 37.9 400.1 38.7 399.7 39.6 399.3 40.5 398.9 41.3 398.4 42.2 398.0 43.1 397.6 43.9 397.2 44.8 396.8 45.7 396.4 46.6 396.0 47.4 395.6 48.3 395.3 49.2 394.9 50.1 394.5 50.9 394.1 51.8 393.8 52.7 393.4 53.6 393.0 54.4 392.7 55.3 392.3 56.2 391.9 57.1 391.6 58.0 391.2 58.8 390.9 59.7 390.5 60.6 390.2 61.5 389.9 62.3 389.6 63.2 389.2 64.1 388.9 65.0 388.6 65.9 388.3 66.7 388.0 67.6 387.6 68.5 387.3 69.4 386.9 70.2 386.5 71.1 386.1 72.0 385.7 72.8 385.2 73.6 384.7 74.3 384.1 75.1 383.5 75.8 382.9 76.4 382.2 77.0 381.5 77.6 380.8 78.1 380.0 78.6 379.2 79.1 378.4 79.5 377.6 79.8 376.7 80.2 375.9 80.5 375.0 80.8 374.1 81.1 373.2 81.3 372.3 81.5 371.4 81.7 370.4 81.9 369.5 82.1 368.6 82.3 367.6 82.4 366.7 82.6 365.8 82.7 364.8 82.9 363.9 83.1 362.9 83.2 362.0 164.7 361.3 164.7 519.7 28.4 519.7Z" fill="#fcc285"/><path d="M28.0 409.5L29.1 409.2 30.2 408.8 31.2 408.5 32.3 408.1 33.4 407.7 34.4 407.3 35.5 406.9 36.5 406.5 37.5 406.0 38.6 405.5 39.6 405.1 40.6 404.6 41.7 404.1 42.7 403.6 43.7 403.2 44.7 402.7 45.8 402.2 46.8 401.8 47.9 401.3 48.9 400.9 49.9 400.5 51.0 400.1 52.1 399.7 53.1 399.3 54.2 398.9 55.2 398.6 56.3 398.2 57.4 397.8 58.4 397.5 59.5 397.1 60.5 396.8 61.6 396.4 62.7 396.1 63.8 395.8 64.8 395.5 65.9 395.2 67.0 395.0 68.0 394.7 69.1 394.5 70.2 394.2 71.3 394.0 72.4 393.7 73.4 393.5 74.5 393.2 75.6 393.0 76.7 392.7 77.7 392.3 78.8 391.9 79.8 391.5 80.8 391.0 81.8 390.5 82.8 389.8 83.6 389.1 84.5 388.4 85.2 387.5 85.9 386.7 86.5 385.7 87.0 384.8 87.5 383.8 87.9 382.8 88.2 381.8 88.6 380.7 88.9 379.7 89.2 378.6 89.4 377.6 89.6 376.5 89.8 375.4 90.0 374.3 90.2 373.2 90.4 372.1 90.5 370.9 90.6 369.8 90.8 368.7 90.9 367.6 91.0 366.5 91.1 365.3 91.2 364.2 91.4 363.1 91.5 362.0 164.7 361.3 164.7 519.7 28.4 519.7Z" fill="#fcbf83"/><path d="M28.0 415.2L29.2 414.8 30.5 414.4 31.7 414.0 32.9 413.6 34.2 413.1 35.4 412.7 36.6 412.2 37.8 411.7 39.0 411.1 40.2 410.6 41.3 410.0 42.5 409.5 43.7 408.9 44.9 408.4 46.1 407.9 47.3 407.3 48.5 406.8 49.7 406.3 50.9 405.9 52.1 405.4 53.3 405.0 54.6 404.5 55.8 404.1 57.0 403.7 58.3 403.4 59.5 403.0 60.8 402.6 62.0 402.3 63.3 401.9 64.5 401.6 65.8 401.3 67.0 401.0 68.3 400.7 69.5 400.4 70.8 400.1 72.1 399.9 73.4 399.7 74.6 399.5 75.9 399.3 77.2 399.2 78.5 399.0 79.7 398.9 81.0 398.7 82.3 398.5 83.5 398.3 84.8 398.0 86.1 397.7 87.3 397.3 88.5 396.9 89.7 396.4 90.9 395.7 91.9 395.0 92.9 394.2 93.8 393.2 94.6 392.2 95.3 391.1 95.9 390.0 96.4 388.8 96.8 387.6 97.1 386.4 97.4 385.2 97.7 383.9 97.9 382.6 98.1 381.4 98.3 380.1 98.5 378.8 98.6 377.5 98.8 376.2 98.9 375.0 99.0 373.7 99.1 372.4 99.2 371.1 99.3 369.8 99.3 368.5 99.4 367.2 99.5 365.9 99.6 364.6 99.7 363.3 99.8 362.0 164.7 361.3 164.7 519.7 28.4 519.7Z" fill="#fcbb81"/><path d="M28.0 421.0L28.8 420.7 29.8 420.4 31.0 420.0 32.5 419.5 34.3 418.8 36.4 418.0 38.9 416.9 41.8 415.6 45.0 414.1 48.3 412.6 51.7 411.2 55.0 410.0 58.3 409.0 61.6 408.0 64.9 407.1 68.3 406.3 71.7 405.6 75.0 405.0 78.5 404.5 82.1 404.3 85.7 404.1 89.1 403.9 92.3 403.5 95.0 403.0 97.2 402.3 99.0 401.5 100.6 400.6 101.9 399.6 103.0 398.4 104.0 397.0 104.9 395.5 105.5 393.9 106.0 392.1 106.4 390.0 106.7 387.7 107.0 385.0 107.3 381.5 107.5 377.3 107.7 372.8 107.8 368.4 107.9 364.6 108.0 362.0 164.7 361.3 164.7 519.7 28.4 519.7Z" fill="#fcb77f"/><path d="M28.0 424.0L29.5 423.5 30.9 423.1 32.4 422.6 33.8 422.0 35.2 421.5 36.6 420.9 38.0 420.2 39.4 419.6 40.8 418.9 42.2 418.2 43.5 417.6 44.9 416.9 46.3 416.3 47.7 415.7 49.1 415.1 50.5 414.5 52.0 414.0 53.4 413.4 54.8 412.9 56.3 412.4 57.8 412.0 59.2 411.5 60.7 411.1 62.2 410.7 63.7 410.3 65.1 410.0 66.6 409.6 68.1 409.3 69.6 409.0 71.1 408.8 72.6 408.5 74.1 408.3 75.7 408.0 77.2 407.8 78.7 407.6 80.2 407.5 81.7 407.4 83.3 407.2 84.8 407.1 86.3 407.0 87.8 406.9 89.4 406.7 90.9 406.6 92.4 406.3 93.9 406.1 95.4 405.8 96.8 405.3 98.3 404.8 99.6 404.3 101.0 403.5 102.2 402.6 103.3 401.7 104.4 400.6 105.3 399.4 106.2 398.1 106.9 396.8 107.5 395.4 108.0 393.9 108.4 392.4 108.7 390.9 109.0 389.4 109.2 387.9 109.5 386.4 109.7 384.9 109.9 383.4 110.0 381.9 110.1 380.4 110.2 378.8 110.2 377.3 110.3 375.8 110.3 374.2 110.4 372.7 110.4 371.2 110.5 369.6 110.5 368.1 110.5 366.6 110.6 365.1 110.6 363.5 110.7 362.0 164.7 361.3 164.7 519.7 28.4 519.7Z" fill="#fcb37d"/><path d="M28.0 427.0L29.5 426.5 31.0 426.0 32.5 425.5 34.0 424.9 35.5 424.3 36.9 423.7 38.3 423.0 39.7 422.3 41.2 421.6 42.6 420.9 44.0 420.2 45.4 419.5 46.9 418.8 48.3 418.2 49.8 417.6 51.3 417.0 52.8 416.5 54.3 416.0 55.8 415.5 57.3 415.0 58.8 414.5 60.3 414.1 61.8 413.7 63.4 413.3 64.9 412.9 66.5 412.5 68.0 412.2 69.6 412.0 71.1 411.7 72.7 411.5 74.3 411.2 75.8 411.0 77.4 410.9 79.0 410.7 80.6 410.5 82.1 410.4 83.7 410.3 85.3 410.2 86.9 410.0 88.5 409.9 90.0 409.7 91.6 409.5 93.2 409.2 94.7 408.9 96.2 408.6 97.7 408.1 99.2 407.6 100.7 407.0 102.0 406.2 103.3 405.3 104.4 404.3 105.5 403.2 106.5 402.0 107.5 400.7 108.3 399.3 109.0 397.9 109.6 396.5 110.2 395.0 110.6 393.5 111.0 391.9 111.4 390.4 111.7 388.9 112.0 387.3 112.3 385.7 112.5 384.2 112.7 382.6 112.8 381.0 112.9 379.4 112.9 377.9 113.0 376.3 113.0 374.7 113.1 373.1 113.1 371.5 113.1 369.9 113.2 368.3 113.2 366.8 113.2 365.2 113.3 363.6 113.3 362.0 164.7 361.3 164.7 519.7 28.4 519.7Z" fill="#fcb07b"/><path d="M28.0 430.0L29.6 429.5 31.1 429.0 32.7 428.5 34.2 427.9 35.7 427.2 37.2 426.5 38.7 425.8 40.1 425.0 41.5 424.2 43.0 423.5 44.5 422.7 45.9 422.0 47.5 421.4 49.0 420.7 50.5 420.1 52.0 419.6 53.6 419.0 55.1 418.5 56.7 418.0 58.3 417.5 59.8 417.0 61.4 416.6 63.0 416.2 64.6 415.8 66.2 415.4 67.8 415.1 69.4 414.8 71.0 414.6 72.7 414.3 74.3 414.2 75.9 414.0 77.5 413.8 79.2 413.7 80.8 413.6 82.4 413.4 84.1 413.3 85.7 413.2 87.4 413.1 89.0 412.9 90.6 412.7 92.2 412.5 93.9 412.2 95.5 411.9 97.0 411.5 98.6 411.0 100.1 410.5 101.6 409.8 103.1 409.1 104.4 408.2 105.6 407.1 106.7 405.9 107.7 404.6 108.7 403.3 109.6 402.0 110.4 400.5 111.1 399.1 111.8 397.6 112.4 396.0 112.9 394.5 113.4 392.9 113.8 391.3 114.2 389.8 114.6 388.2 114.9 386.6 115.2 385.0 115.4 383.3 115.5 381.7 115.6 380.0 115.6 378.4 115.7 376.8 115.7 375.1 115.8 373.5 115.8 371.8 115.8 370.2 115.9 368.6 115.9 366.9 115.9 365.3 115.9 363.6 115.9 362.0 164.7 361.3 164.7 519.7 28.4 519.7Z" fill="#fcac79"/><path d="M28.0 433.0L28.8 432.8 29.7 432.5 30.9 432.1 32.3 431.6 33.9 431.0 35.6 430.3 37.5 429.4 39.6 428.2 41.9 426.9 44.3 425.6 46.9 424.3 49.7 423.2 52.6 422.1 55.7 421.1 59.0 420.1 62.4 419.2 65.9 418.3 69.5 417.6 73.4 417.1 77.7 416.7 82.0 416.5 86.3 416.2 90.2 415.9 93.5 415.5 96.2 415.0 98.5 414.4 100.4 413.7 102.1 413.0 103.6 412.3 105.0 411.5 106.2 410.7 107.2 409.9 108.0 409.0 108.6 408.0 109.3 407.0 110.0 406.0 110.7 404.9 111.4 403.8 112.1 402.6 112.7 401.3 113.4 399.9 114.0 398.5 114.6 396.9 115.3 395.1 115.9 393.3 116.5 391.4 117.0 389.6 117.4 388.0 117.7 386.7 117.9 385.7 118.0 384.7 118.1 383.6 118.2 382.3 118.3 380.4 118.4 377.7 118.5 374.4 118.5 370.7 118.5 367.2 118.6 364.1 118.6 362.0 164.7 361.3 164.7 519.7 28.4 519.7Z" fill="#fca574"/><path d="M28.0 435.8L29.7 435.3 31.4 434.8 33.1 434.2 34.8 433.6 36.4 433.0 38.1 432.3 39.7 431.5 41.3 430.8 42.8 430.0 44.5 429.3 46.1 428.6 47.7 427.9 49.4 427.3 51.0 426.7 52.7 426.1 54.4 425.6 56.1 425.1 57.8 424.6 59.5 424.1 61.2 423.7 63.0 423.3 64.7 422.9 66.4 422.5 68.2 422.1 69.9 421.8 71.7 421.5 73.4 421.3 75.2 421.1 77.0 420.9 78.7 420.7 80.5 420.6 82.3 420.4 84.0 420.3 85.8 420.2 87.6 420.0 89.3 419.9 91.1 419.7 92.9 419.6 94.6 419.4 96.4 419.1 98.2 418.8 99.9 418.4 101.6 417.9 103.3 417.4 105.0 416.8 106.6 416.0 108.1 415.2 109.6 414.2 110.9 413.0 112.0 411.7 113.0 410.2 113.9 408.6 114.7 407.1 115.5 405.5 116.2 403.9 116.9 402.3 117.4 400.6 118.0 398.9 118.4 397.2 118.9 395.5 119.3 393.8 119.7 392.1 120.1 390.3 120.5 388.6 120.8 386.9 121.0 385.1 121.1 383.3 121.2 381.5 121.2 379.8 121.3 378.0 121.3 376.2 121.4 374.4 121.4 372.7 121.4 370.9 121.4 369.1 121.5 367.3 121.5 365.6 121.5 363.8 121.5 362.0 164.7 361.3 164.7 519.7 28.4 519.7Z" fill="#fd9c6d"/><path d="M28.0 438.5L29.8 438.0 31.6 437.5 33.4 437.0 35.1 436.5 36.9 435.9 38.6 435.2 40.3 434.5 42.0 433.9 43.8 433.2 45.5 432.5 47.2 431.8 48.9 431.2 50.7 430.6 52.5 430.1 54.3 429.6 56.0 429.1 57.8 428.6 59.6 428.2 61.4 427.8 63.2 427.3 65.1 427.0 66.9 426.6 68.7 426.2 70.5 425.9 72.4 425.6 74.2 425.3 76.0 425.1 77.9 424.9 79.7 424.7 81.6 424.6 83.4 424.4 85.3 424.3 87.1 424.1 89.0 423.9 90.8 423.8 92.7 423.6 94.5 423.4 96.4 423.2 98.2 422.9 100.0 422.6 101.9 422.3 103.7 421.8 105.5 421.3 107.2 420.7 108.9 420.1 110.6 419.2 112.2 418.3 113.7 417.2 115.0 415.9 116.1 414.4 117.0 412.8 117.8 411.2 118.6 409.5 119.3 407.8 119.9 406.0 120.5 404.3 120.9 402.5 121.4 400.7 121.8 398.9 122.1 397.1 122.5 395.3 122.8 393.5 123.1 391.7 123.4 389.8 123.7 388.0 123.8 386.1 123.9 384.3 124.0 382.4 124.1 380.6 124.2 378.7 124.2 376.9 124.3 375.0 124.3 373.1 124.3 371.3 124.4 369.4 124.4 367.6 124.4 365.7 124.4 363.9 124.5 362.0 164.7 361.3 164.7 519.7 28.4 519.7Z" fill="#fe9266"/><path d="M28.0 441.2L29.9 440.8 31.8 440.3 33.6 439.8 35.5 439.3 37.3 438.7 39.2 438.1 41.0 437.5 42.8 436.9 44.7 436.3 46.5 435.7 48.3 435.1 50.2 434.5 52.1 434.0 53.9 433.5 55.8 433.0 57.7 432.6 59.6 432.2 61.5 431.8 63.4 431.4 65.3 431.0 67.2 430.7 69.1 430.3 71.0 430.0 72.9 429.7 74.8 429.4 76.7 429.2 78.7 429.0 80.6 428.8 82.5 428.6 84.4 428.4 86.4 428.3 88.3 428.1 90.2 427.9 92.2 427.7 94.1 427.5 96.0 427.2 97.9 427.0 99.9 426.7 101.8 426.5 103.7 426.1 105.6 425.7 107.5 425.3 109.3 424.7 111.1 424.1 112.9 423.3 114.7 422.5 116.3 421.4 117.8 420.2 119.1 418.7 120.1 417.1 121.0 415.4 121.8 413.7 122.5 411.9 123.1 410.0 123.6 408.2 124.1 406.3 124.5 404.4 124.8 402.5 125.1 400.6 125.3 398.7 125.6 396.8 125.8 394.9 126.1 393.0 126.3 391.0 126.5 389.1 126.7 387.2 126.8 385.3 126.9 383.3 127.0 381.4 127.1 379.4 127.2 377.5 127.2 375.6 127.2 373.6 127.3 371.7 127.3 369.8 127.3 367.8 127.3 365.9 127.4 363.9 127.4 362.0 164.7 361.3 164.7 519.7 28.4 519.7Z" fill="#fe895f"/><path d="M28.0 444.0L28.8 443.8 29.8 443.6 31.0 443.3 32.5 443.0 34.3 442.5 36.4 442.0 38.9 441.3 41.8 440.5 45.0 439.6 48.3 438.7 51.7 437.8 55.0 437.0 58.3 436.3 61.6 435.7 64.9 435.1 68.3 434.5 71.7 434.0 75.0 433.5 78.4 433.1 81.8 432.8 85.2 432.5 88.6 432.2 91.8 431.9 95.0 431.5 98.1 431.1 101.1 430.7 104.1 430.2 107.0 429.7 109.6 429.2 112.0 428.5 114.1 427.8 116.0 427.1 117.8 426.2 119.3 425.3 120.7 424.3 122.0 423.0 123.2 421.6 124.1 420.0 125.0 418.2 125.7 416.3 126.4 414.2 127.0 412.0 127.5 409.5 127.9 406.7 128.2 403.8 128.5 400.7 128.8 397.8 129.0 395.0 129.2 392.4 129.4 390.0 129.6 387.6 129.8 385.1 129.9 382.7 130.0 380.0 130.1 377.0 130.2 373.6 130.2 370.1 130.2 366.8 130.3 364.0 130.3 362.0 164.7 361.3 164.7 519.7 28.4 519.7Z" fill="#ff7f58"/><path d="M28.0 446.8L30.1 446.4 32.1 446.0 34.2 445.5 36.2 445.1 38.3 444.6 40.3 444.0 42.3 443.5 44.3 443.0 46.4 442.5 48.4 441.9 50.5 441.5 52.5 441.0 54.5 440.5 56.6 440.1 58.7 439.8 60.7 439.4 62.8 439.1 64.9 438.7 66.9 438.4 69.0 438.2 71.1 437.9 73.2 437.6 75.3 437.3 77.4 437.1 79.4 436.9 81.5 436.7 83.6 436.5 85.7 436.3 87.8 436.2 89.9 436.0 92.0 435.8 94.1 435.7 96.2 435.5 98.3 435.2 100.3 435.0 102.4 434.8 104.5 434.5 106.6 434.2 108.7 433.9 110.7 433.5 112.7 432.9 114.7 432.2 116.6 431.5 118.6 430.7 120.4 429.8 122.2 428.6 123.7 427.3 125.1 425.7 126.3 424.0 127.4 422.3 128.3 420.4 129.0 418.4 129.6 416.4 130.1 414.3 130.5 412.3 130.8 410.2 131.0 408.1 131.2 406.0 131.4 403.9 131.6 401.8 131.7 399.8 131.9 397.7 132.0 395.6 132.2 393.5 132.3 391.4 132.4 389.3 132.6 387.2 132.7 385.1 132.7 383.0 132.8 380.9 132.9 378.8 132.9 376.7 133.0 374.6 133.0 372.5 133.0 370.4 133.1 368.3 133.1 366.2 133.1 364.1 133.1 362.0 164.7 361.3 164.7 519.7 28.4 519.7Z" fill="#ff7153"/><path d="M28.0 449.5L30.2 449.2 32.3 448.9 34.4 448.5 36.6 448.0 38.7 447.5 40.8 447.0 42.9 446.5 45.1 446.0 47.2 445.5 49.3 445.0 51.4 444.5 53.6 444.1 55.7 443.7 57.8 443.3 60.0 443.0 62.1 442.7 64.3 442.4 66.5 442.1 68.6 441.9 70.8 441.6 73.0 441.4 75.1 441.2 77.3 440.9 79.5 440.7 81.6 440.5 83.8 440.3 86.0 440.2 88.1 440.0 90.3 439.9 92.5 439.7 94.7 439.5 96.8 439.4 99.0 439.2 101.2 439.0 103.3 438.8 105.5 438.6 107.7 438.4 109.8 438.1 112.0 437.8 114.2 437.4 116.1 436.6 118.1 435.8 120.1 435.0 122.1 434.0 123.9 432.9 125.6 431.6 127.1 430.0 128.3 428.3 129.5 426.5 130.6 424.6 131.6 422.7 132.3 420.6 132.8 418.5 133.2 416.4 133.6 414.2 133.8 412.1 134.1 409.9 134.3 407.7 134.4 405.6 134.6 403.4 134.7 401.2 134.9 399.0 135.0 396.9 135.1 394.7 135.2 392.5 135.3 390.3 135.4 388.2 135.5 386.0 135.6 383.8 135.6 381.6 135.7 379.4 135.7 377.3 135.8 375.1 135.8 372.9 135.8 370.7 135.9 368.5 135.9 366.4 135.9 364.2 135.9 362.0 164.7 361.3 164.7 519.7 28.4 519.7Z" fill="#ff644f"/><path d="M28.0 452.2L30.2 452.0 32.5 451.7 34.7 451.4 36.9 450.9 39.1 450.5 41.3 450.0 43.5 449.5 45.8 449.0 48.0 448.5 50.2 448.1 52.4 447.6 54.6 447.2 56.8 446.9 59.1 446.6 61.3 446.3 63.6 446.0 65.8 445.8 68.1 445.5 70.3 445.3 72.5 445.1 74.8 444.9 77.0 444.7 79.3 444.5 81.6 444.4 83.8 444.2 86.1 444.0 88.3 443.8 90.6 443.7 92.8 443.6 95.1 443.4 97.3 443.3 99.6 443.1 101.8 443.0 104.1 442.8 106.3 442.6 108.6 442.4 110.9 442.2 113.1 442.0 115.3 441.7 117.6 441.3 119.5 440.3 121.5 439.3 123.6 438.4 125.6 437.3 127.5 436.1 129.1 434.6 130.4 432.8 131.6 430.9 132.6 428.9 133.8 427.0 134.9 425.0 135.6 422.9 136.0 420.6 136.4 418.4 136.7 416.2 136.9 413.9 137.1 411.7 137.3 409.4 137.5 407.2 137.6 404.9 137.8 402.7 137.9 400.4 138.0 398.2 138.1 395.9 138.1 393.6 138.2 391.4 138.3 389.1 138.3 386.9 138.4 384.6 138.5 382.3 138.5 380.1 138.5 377.8 138.6 375.6 138.6 373.3 138.7 371.0 138.7 368.8 138.7 366.5 138.7 364.3 138.8 362.0 164.7 361.3 164.7 519.7 28.4 519.7Z" fill="#ff574a"/><path d="M28.0 455.0L28.7 455.0 29.4 454.9 30.4 454.9 31.7 454.7 33.4 454.5 35.6 454.2 38.4 453.7 41.8 453.0 45.6 452.2 49.7 451.4 53.9 450.6 58.2 450.0 62.5 449.5 67.1 449.1 71.8 448.8 76.6 448.4 81.5 448.1 86.4 447.8 91.7 447.5 97.5 447.1 103.3 446.8 108.8 446.5 113.6 446.1 117.4 445.8 119.8 445.5 121.2 445.2 121.8 444.9 122.2 444.5 122.6 444.1 123.4 443.6 124.7 443.0 126.1 442.3 127.5 441.6 129.0 440.7 130.3 439.8 131.5 438.8 132.5 437.7 133.3 436.4 134.1 435.0 134.8 433.6 135.4 432.2 136.0 431.0 136.6 430.0 137.1 429.2 137.6 428.5 138.1 427.6 138.5 426.5 138.9 424.8 139.3 422.6 139.6 419.9 139.9 416.9 140.2 413.7 140.4 410.5 140.6 407.3 140.8 404.2 140.9 401.0 141.0 397.7 141.1 394.4 141.1 390.9 141.2 387.2 141.3 383.0 141.4 378.2 141.4 373.3 141.5 368.7 141.6 364.8 141.6 362.0 164.7 361.3 164.7 519.7 28.4 519.7Z" fill="#ff4d47"/><path d="M28.0 456.2L30.4 456.0 32.7 455.8 35.0 455.4 37.4 455.0 39.7 454.5 42.0 454.1 44.3 453.6 46.6 453.1 48.9 452.6 51.3 452.2 53.6 451.8 55.9 451.5 58.3 451.1 60.6 450.8 63.0 450.6 65.3 450.4 67.7 450.2 70.0 450.0 72.4 449.8 74.7 449.6 77.1 449.5 79.4 449.3 81.8 449.2 84.2 449.0 86.5 448.8 88.9 448.7 91.2 448.5 93.6 448.4 95.9 448.3 98.3 448.1 100.7 448.0 103.0 447.9 105.4 447.7 107.7 447.6 110.1 447.4 112.4 447.3 114.8 447.1 117.2 446.8 119.5 446.5 121.8 446.0 123.8 444.8 125.9 443.7 128.0 442.6 130.0 441.4 131.9 440.0 133.5 438.3 134.7 436.3 135.8 434.2 136.8 432.1 138.0 430.0 139.1 427.9 139.8 425.7 140.2 423.3 140.5 421.0 140.7 418.7 140.9 416.3 141.1 413.9 141.3 411.6 141.5 409.2 141.6 406.9 141.7 404.5 141.8 402.2 141.9 399.8 141.9 397.4 142.0 395.1 142.0 392.7 142.1 390.3 142.1 388.0 142.2 385.6 142.2 383.3 142.3 380.9 142.3 378.5 142.3 376.2 142.4 373.8 142.4 371.4 142.4 369.1 142.5 366.7 142.5 364.4 142.5 362.0 164.7 361.3 164.7 519.7 28.4 519.7Z" fill="#ff4845"/><path d="M28.0 457.5L30.4 457.2 32.7 456.9 35.1 456.5 37.4 456.1 39.8 455.6 42.1 455.1 44.4 454.7 46.8 454.2 49.1 453.7 51.5 453.3 53.8 452.9 56.2 452.5 58.5 452.2 60.9 451.9 63.3 451.7 65.6 451.4 68.0 451.2 70.4 451.0 72.8 450.9 75.1 450.7 77.5 450.5 79.9 450.3 82.3 450.2 84.7 450.0 87.0 449.8 89.4 449.7 91.8 449.5 94.2 449.4 96.5 449.3 98.9 449.1 101.3 449.0 103.7 448.9 106.1 448.7 108.5 448.6 110.8 448.4 113.2 448.2 115.6 448.0 118.0 447.8 120.3 447.4 122.6 446.8 124.6 445.6 126.8 444.6 128.9 443.5 130.9 442.2 132.8 440.8 134.4 439.0 135.7 437.0 136.8 434.9 137.9 432.8 139.0 430.7 140.0 428.5 140.7 426.3 141.1 423.9 141.4 421.5 141.7 419.2 141.9 416.8 142.1 414.4 142.3 412.0 142.4 409.7 142.5 407.3 142.7 404.9 142.8 402.5 142.8 400.1 142.9 397.8 142.9 395.4 143.0 393.0 143.0 390.6 143.1 388.2 143.1 385.8 143.2 383.5 143.2 381.1 143.2 378.7 143.3 376.3 143.3 373.9 143.3 371.5 143.4 369.2 143.4 366.8 143.4 364.4 143.4 362.0 164.7 361.3 164.7 519.7 28.4 519.7Z" fill="#ff4343"/><path d="M28.0 458.8L30.4 458.4 32.8 458.0 35.1 457.6 37.5 457.2 39.8 456.7 42.2 456.2 44.6 455.7 46.9 455.3 49.3 454.8 51.7 454.4 54.0 454.0 56.4 453.6 58.8 453.3 61.2 453.0 63.6 452.7 66.0 452.5 68.4 452.3 70.8 452.1 73.2 451.9 75.6 451.7 78.0 451.5 80.4 451.4 82.8 451.2 85.2 451.0 87.6 450.9 90.0 450.7 92.4 450.5 94.8 450.4 97.2 450.3 99.6 450.1 102.0 450.0 104.4 449.9 106.8 449.7 109.2 449.6 111.6 449.4 114.0 449.2 116.4 449.0 118.8 448.7 121.1 448.3 123.4 447.6 125.5 446.5 127.7 445.4 129.8 444.3 131.8 443.0 133.7 441.5 135.4 439.8 136.7 437.8 137.8 435.7 138.9 433.5 140.0 431.3 140.9 429.2 141.6 426.8 142.1 424.5 142.4 422.1 142.6 419.7 142.9 417.3 143.0 414.9 143.2 412.5 143.4 410.1 143.5 407.7 143.6 405.3 143.7 402.9 143.8 400.5 143.9 398.1 143.9 395.7 143.9 393.3 144.0 390.9 144.0 388.5 144.1 386.1 144.1 383.7 144.1 381.2 144.2 378.8 144.2 376.4 144.2 374.0 144.3 371.6 144.3 369.2 144.3 366.8 144.3 364.4 144.4 362.0 164.7 361.3 164.7 519.7 28.4 519.7Z" fill="#ff3d40"/><path d="M28.0 460.0L28.8 459.9 29.7 459.7 30.9 459.5 32.3 459.2 34.1 458.9 36.4 458.5 39.2 458.0 42.4 457.3 46.0 456.6 49.8 455.8 53.9 455.1 58.0 454.5 62.3 454.0 66.7 453.5 71.4 453.1 76.2 452.7 81.1 452.4 86.0 452.0 91.2 451.6 96.9 451.3 102.7 451.0 108.2 450.7 113.1 450.4 117.0 450.0 119.8 449.6 121.6 449.3 122.9 449.0 123.8 448.6 124.8 448.1 126.0 447.5 127.5 446.8 129.1 446.0 130.8 445.1 132.3 444.1 133.7 443.1 135.0 442.0 136.1 440.8 137.0 439.6 137.9 438.2 138.6 436.8 139.3 435.4 140.0 434.0 140.6 432.7 141.2 431.4 141.7 430.1 142.2 428.7 142.6 427.0 143.0 425.0 143.3 422.5 143.6 419.7 143.9 416.7 144.1 413.5 144.3 410.2 144.5 407.0 144.6 403.8 144.7 400.7 144.8 397.4 144.9 394.1 144.9 390.6 145.0 387.0 145.1 382.8 145.1 378.1 145.2 373.2 145.2 368.7 145.3 364.8 145.3 362.0 164.7 361.3 164.7 519.7 28.4 519.7Z" fill="#ff363d"/><path d="M28.0 463.6L30.5 463.3 33.0 462.9 35.4 462.5 37.9 462.1 40.4 461.6 42.9 461.1 45.3 460.7 47.8 460.2 50.3 459.8 52.8 459.4 55.2 459.1 57.7 458.8 60.2 458.6 62.7 458.3 65.2 458.1 67.7 458.0 70.2 457.8 72.8 457.7 75.3 457.5 77.8 457.4 80.3 457.3 82.8 457.1 85.3 457.0 87.8 456.9 90.3 456.7 92.8 456.6 95.3 456.4 97.8 456.3 100.3 456.1 102.8 455.9 105.3 455.7 107.8 455.4 110.3 455.2 112.8 454.9 115.3 454.7 117.8 454.5 120.3 454.2 122.8 453.9 125.3 453.4 127.7 452.6 130.0 451.6 132.2 450.5 134.2 449.0 136.0 447.4 137.5 445.6 138.8 443.6 140.0 441.4 140.9 439.1 141.8 436.8 142.8 434.5 143.8 432.2 144.4 429.8 144.8 427.3 145.1 424.8 145.3 422.3 145.5 419.8 145.6 417.3 145.7 414.8 145.9 412.3 146.0 409.7 146.1 407.2 146.1 404.7 146.2 402.2 146.2 399.7 146.3 397.2 146.3 394.7 146.3 392.2 146.4 389.6 146.4 387.1 146.4 384.6 146.4 382.1 146.5 379.6 146.5 377.1 146.5 374.6 146.5 372.1 146.5 369.5 146.6 367.0 146.6 364.5 146.6 362.0 164.7 361.3 164.7 519.7 28.4 519.7Z" fill="#ff2e3a"/><path d="M28.0 467.2L30.6 467.0 33.2 466.7 35.7 466.3 38.3 465.9 40.8 465.4 43.4 465.0 46.0 464.5 48.5 464.1 51.1 463.7 53.7 463.4 56.2 463.1 58.8 462.9 61.4 462.7 64.0 462.6 66.6 462.5 69.2 462.3 71.8 462.3 74.4 462.2 77.0 462.1 79.6 462.0 82.2 461.9 84.8 461.9 87.3 461.8 89.9 461.7 92.5 461.6 95.1 461.5 97.7 461.3 100.3 461.2 102.9 461.0 105.5 460.7 108.1 460.4 110.6 460.0 113.2 459.6 115.8 459.3 118.3 459.0 120.9 458.7 123.5 458.4 126.1 458.0 128.6 457.6 131.1 456.9 133.5 456.0 135.8 454.7 137.6 453.0 139.2 451.0 140.4 448.9 141.4 446.6 142.2 444.3 143.0 441.8 143.7 439.4 144.6 436.9 145.7 434.6 146.3 432.1 146.7 429.5 146.9 426.9 147.0 424.3 147.1 421.7 147.2 419.2 147.3 416.6 147.4 414.0 147.5 411.4 147.5 408.8 147.6 406.2 147.6 403.6 147.7 401.0 147.7 398.4 147.7 395.8 147.7 393.2 147.7 390.6 147.8 388.0 147.8 385.4 147.8 382.8 147.8 380.2 147.8 377.6 147.8 375.0 147.9 372.4 147.9 369.8 147.9 367.2 147.9 364.6 147.9 362.0 164.7 361.3 164.7 519.7 28.4 519.7Z" fill="#fc2a39"/><path d="M28.0 470.9L30.7 470.7 33.3 470.4 36.0 470.1 38.7 469.7 41.3 469.2 43.9 468.8 46.6 468.4 49.2 468.0 51.9 467.6 54.6 467.4 57.2 467.2 59.9 467.0 62.6 466.9 65.3 466.8 68.0 466.8 70.6 466.7 73.3 466.7 76.0 466.7 78.7 466.7 81.4 466.6 84.0 466.6 86.7 466.6 89.4 466.6 92.1 466.5 94.8 466.5 97.5 466.4 100.1 466.3 102.8 466.1 105.5 465.8 108.1 465.5 110.8 465.1 113.4 464.6 116.0 464.1 118.7 463.7 121.4 463.3 124.0 463.0 126.7 462.6 129.3 462.2 132.0 461.7 134.6 461.1 137.1 460.3 139.4 458.9 141.1 456.9 142.4 454.6 143.2 452.2 143.9 449.7 144.5 447.2 145.1 444.6 145.7 442.0 146.4 439.4 147.6 437.0 148.2 434.4 148.5 431.7 148.7 429.1 148.7 426.4 148.8 423.7 148.9 421.0 148.9 418.3 149.0 415.7 149.0 413.0 149.0 410.3 149.1 407.6 149.1 404.9 149.1 402.3 149.1 399.6 149.1 396.9 149.1 394.2 149.1 391.5 149.1 388.8 149.2 386.2 149.2 383.5 149.2 380.8 149.2 378.1 149.2 375.4 149.2 372.7 149.2 370.1 149.2 367.4 149.2 364.7 149.2 362.0 164.7 361.3 164.7 519.7 28.4 519.7Z" fill="#fa2637"/><path d="M28.0 474.5L28.7 474.5 29.4 474.5 30.4 474.4 31.7 474.4 33.4 474.2 35.6 474.0 38.3 473.6 41.2 473.1 44.6 472.6 48.5 472.0 53.0 471.5 58.2 471.2 64.5 471.1 72.1 471.1 80.3 471.2 88.4 471.3 95.8 471.3 101.9 471.2 106.6 470.9 110.3 470.4 113.4 469.8 116.0 469.2 118.5 468.6 121.1 468.1 123.8 467.7 126.4 467.3 128.8 467.0 131.0 466.7 133.1 466.3 134.9 466.0 136.5 465.7 137.8 465.4 139.0 465.2 140.0 464.9 140.9 464.5 141.8 464.0 142.6 463.4 143.3 462.7 143.9 461.9 144.4 461.1 144.9 460.1 145.3 459.1 145.7 457.9 145.9 456.6 146.1 455.2 146.3 453.7 146.5 452.2 146.7 450.8 146.9 449.4 147.1 447.9 147.3 446.5 147.5 445.1 147.7 443.7 148.0 442.5 148.3 441.6 148.7 440.9 149.1 440.3 149.5 439.6 149.8 438.5 150.1 437.0 150.3 435.3 150.4 433.7 150.4 431.8 150.5 429.1 150.5 425.3 150.5 420.0 150.5 412.0 150.5 401.6 150.5 389.9 150.5 378.6 150.5 368.8 150.5 362.0 164.7 361.3 164.7 519.7 28.4 519.7Z" fill="#f82236"/><path d="M28.0 476.1L30.8 476.0 33.6 475.8 36.4 475.6 39.1 475.2 41.9 474.8 44.6 474.5 47.4 474.1 50.2 473.8 53.0 473.6 55.8 473.4 58.5 473.3 61.3 473.2 64.1 473.1 66.9 473.1 69.7 473.1 72.5 473.1 75.3 473.1 78.1 473.1 80.9 473.1 83.7 473.1 86.5 473.2 89.3 473.2 92.1 473.2 94.8 473.2 97.6 473.1 100.4 473.0 103.2 472.9 106.0 472.7 108.8 472.4 111.5 472.0 114.3 471.6 117.0 471.0 119.8 470.5 122.5 470.0 125.3 469.6 128.0 469.2 130.8 468.7 133.5 468.2 136.2 467.5 138.9 466.7 141.4 465.7 143.6 464.0 145.1 461.7 146.2 459.1 146.8 456.4 147.2 453.7 147.7 450.9 148.2 448.1 148.6 445.4 149.1 442.7 150.1 440.1 150.6 437.4 150.8 434.6 150.8 431.8 150.9 429.0 150.9 426.2 150.9 423.4 150.9 420.6 150.9 417.8 151.0 415.1 151.0 412.3 151.0 409.5 151.0 406.7 151.0 403.9 151.0 401.1 151.0 398.3 151.0 395.5 151.0 392.7 151.0 389.9 151.0 387.1 151.0 384.3 151.0 381.5 151.0 378.8 151.0 376.0 151.0 373.2 151.0 370.4 151.0 367.6 151.0 364.8 151.0 362.0 164.7 361.3 164.7 519.7 28.4 519.7Z" fill="#f61f35"/><path d="M28.0 477.8L30.8 477.6 33.6 477.4 36.4 477.2 39.2 476.9 42.0 476.6 44.8 476.3 47.6 476.1 50.4 475.8 53.2 475.6 56.0 475.5 58.9 475.3 61.7 475.2 64.5 475.1 67.3 475.1 70.1 475.0 72.9 475.0 75.7 475.0 78.6 475.0 81.4 475.0 84.2 475.0 87.0 475.0 89.8 475.0 92.6 475.0 95.5 475.0 98.3 474.9 101.1 474.8 103.9 474.6 106.7 474.4 109.5 474.1 112.3 473.8 115.1 473.4 117.8 472.9 120.6 472.4 123.4 472.0 126.2 471.6 129.0 471.2 131.7 470.6 134.5 470.0 137.1 469.1 139.7 468.1 142.1 466.8 144.2 465.0 145.7 462.6 146.8 460.0 147.5 457.3 148.1 454.5 148.6 451.8 149.1 449.0 149.5 446.2 149.9 443.4 150.7 440.8 151.0 438.0 151.2 435.2 151.2 432.4 151.3 429.6 151.3 426.8 151.3 424.0 151.4 421.1 151.4 418.3 151.4 415.5 151.4 412.7 151.4 409.9 151.4 407.1 151.4 404.2 151.4 401.4 151.4 398.6 151.5 395.8 151.5 393.0 151.5 390.2 151.5 387.3 151.5 384.5 151.5 381.7 151.5 378.9 151.5 376.1 151.5 373.3 151.5 370.4 151.5 367.6 151.5 364.8 151.5 362.0 164.7 361.3 164.7 519.7 28.4 519.7Z" fill="#f31b34"/><path d="M28.0 479.4L30.8 479.2 33.7 479.0 36.5 478.8 39.3 478.6 42.2 478.4 45.0 478.2 47.8 478.0 50.6 477.8 53.5 477.6 56.3 477.5 59.2 477.4 62.0 477.3 64.8 477.2 67.7 477.1 70.5 477.0 73.3 477.0 76.2 476.9 79.0 476.9 81.9 476.9 84.7 476.9 87.5 476.9 90.4 476.9 93.2 476.9 96.1 476.8 98.9 476.7 101.7 476.6 104.6 476.4 107.4 476.2 110.2 475.9 113.0 475.6 115.9 475.2 118.7 474.8 121.5 474.4 124.3 474.0 127.1 473.6 129.9 473.1 132.7 472.5 135.4 471.8 138.0 470.7 140.5 469.4 142.9 467.9 144.8 465.9 146.3 463.5 147.4 460.9 148.2 458.2 148.9 455.4 149.5 452.6 150.1 449.9 150.5 447.1 150.8 444.2 151.3 441.5 151.5 438.7 151.6 435.8 151.7 433.0 151.7 430.2 151.7 427.3 151.8 424.5 151.8 421.6 151.8 418.8 151.8 416.0 151.9 413.1 151.9 410.3 151.9 407.4 151.9 404.6 151.9 401.8 151.9 398.9 151.9 396.1 151.9 393.2 151.9 390.4 151.9 387.6 151.9 384.7 152.0 381.9 152.0 379.0 152.0 376.2 152.0 373.4 152.0 370.5 152.0 367.7 152.0 364.8 152.0 362.0 164.7 361.3 164.7 519.7 28.4 519.7Z" fill="#e61631"/><path d="M28.0 481.0L28.6 481.0 29.2 480.9 30.1 480.8 31.4 480.8 33.4 480.6 36.4 480.5 40.6 480.3 45.9 480.0 51.8 479.8 58.1 479.5 64.3 479.2 70.0 479.0 75.3 478.9 80.5 478.8 85.5 478.8 90.5 478.8 95.3 478.7 100.0 478.5 104.6 478.2 109.3 477.8 113.8 477.3 118.0 476.9 121.8 476.4 125.0 476.0 127.6 475.6 129.6 475.3 131.2 475.0 132.5 474.7 133.7 474.4 135.0 474.0 136.2 473.6 137.3 473.1 138.3 472.7 139.2 472.2 140.1 471.6 141.0 471.0 141.9 470.4 142.8 469.7 143.6 469.0 144.4 468.2 145.2 467.2 146.0 466.0 146.7 464.6 147.5 463.0 148.2 461.3 148.9 459.4 149.5 457.3 150.0 455.0 150.5 453.1 150.9 451.6 151.2 450.0 151.5 447.5 151.8 443.4 152.0 437.0 152.2 426.9 152.3 413.4 152.4 398.4 152.4 383.6 152.5 370.8 152.5 362.0 164.7 361.3 164.7 519.7 28.4 519.7Z" fill="#da102e"/><path d="M28.0 484.5L31.0 484.4 34.1 484.2 37.1 484.2 40.1 484.1 43.1 484.0 46.2 483.9 49.2 483.9 52.2 483.8 55.3 483.7 58.3 483.6 61.3 483.5 64.4 483.5 67.4 483.4 70.4 483.3 73.4 483.2 76.5 483.1 79.5 483.0 82.5 482.9 85.6 482.9 88.6 482.8 91.6 482.6 94.6 482.5 97.7 482.4 100.7 482.2 103.7 482.0 106.7 481.8 109.8 481.7 112.8 481.6 115.8 481.7 118.7 481.9 121.3 482.3 123.7 483.0 125.9 483.6 128.1 484.2 130.4 484.8 133.0 484.5 135.4 483.1 137.7 481.6 139.8 479.9 141.8 477.8 143.7 475.6 145.3 473.1 146.5 470.4 147.5 467.6 148.4 464.7 149.1 461.7 149.8 458.8 150.5 455.8 150.9 452.8 151.2 449.8 151.4 446.8 151.6 443.8 151.8 440.8 152.1 437.8 152.4 434.8 152.5 431.7 152.6 428.7 152.7 425.7 152.7 422.6 152.7 419.6 152.8 416.6 152.8 413.5 152.8 410.5 152.8 407.5 152.8 404.5 152.8 401.4 152.8 398.4 152.8 395.4 152.8 392.3 152.8 389.3 152.9 386.3 152.9 383.2 152.9 380.2 152.9 377.2 152.9 374.1 152.9 371.1 152.9 368.1 152.9 365.0 152.9 362.0 164.7 361.3 164.7 519.7 28.4 519.7Z" fill="#cc0b2b"/><path d="M28.0 488.0L31.2 487.9 34.4 487.9 37.6 487.8 40.8 487.8 44.0 487.8 47.2 487.8 50.4 487.8 53.6 487.7 56.8 487.7 60.0 487.7 63.2 487.7 66.4 487.6 69.6 487.6 72.8 487.5 76.0 487.4 79.2 487.3 82.4 487.2 85.6 487.0 88.8 486.9 92.0 486.7 95.1 486.5 98.3 486.2 101.5 486.0 104.7 485.7 107.9 485.5 111.1 485.3 114.3 485.2 117.5 485.3 120.6 485.7 123.5 486.5 126.0 487.7 127.9 489.2 129.5 490.8 131.0 492.4 132.7 493.9 135.3 493.9 137.2 491.8 139.0 489.7 140.7 487.4 142.2 484.8 143.7 482.2 145.0 479.4 146.1 476.5 147.0 473.4 147.9 470.3 148.6 467.2 149.2 464.1 149.8 460.9 150.3 457.8 150.7 454.6 151.0 451.4 151.3 448.2 151.6 445.1 152.2 441.9 152.7 438.8 152.9 435.6 153.0 432.4 153.1 429.2 153.2 426.0 153.2 422.8 153.2 419.6 153.3 416.4 153.3 413.2 153.3 410.0 153.3 406.8 153.3 403.6 153.3 400.4 153.3 397.2 153.3 394.0 153.3 390.8 153.3 387.6 153.3 384.4 153.3 381.2 153.3 378.0 153.3 374.8 153.3 371.6 153.3 368.4 153.3 365.2 153.2 362.0 164.7 361.3 164.7 519.7 28.4 519.7Z" fill="#bc0728"/><path d="M28.0 491.5L31.4 491.5 34.7 491.5 38.1 491.5 41.5 491.6 44.8 491.6 48.2 491.6 51.6 491.7 54.9 491.7 58.3 491.8 61.7 491.8 65.0 491.8 68.4 491.8 71.8 491.8 75.2 491.7 78.5 491.7 81.9 491.5 85.3 491.3 88.6 491.1 92.0 490.9 95.3 490.6 98.7 490.3 102.0 490.0 105.4 489.6 108.7 489.3 112.1 489.0 115.4 488.8 118.8 488.7 122.1 489.0 125.4 489.7 128.4 491.0 130.7 493.0 132.1 495.5 133.1 498.0 133.9 500.6 135.1 503.1 137.5 503.2 139.0 500.6 140.3 497.8 141.6 494.9 142.7 491.9 143.8 488.9 144.8 485.7 145.7 482.5 146.6 479.2 147.3 476.0 148.0 472.7 148.6 469.4 149.2 466.0 149.7 462.7 150.2 459.4 150.6 456.0 151.0 452.7 151.5 449.4 152.3 446.1 153.0 442.8 153.3 439.5 153.4 436.1 153.6 432.8 153.6 429.4 153.7 426.0 153.7 422.7 153.7 419.3 153.7 415.9 153.7 412.5 153.8 409.2 153.7 405.8 153.7 402.4 153.7 399.1 153.7 395.7 153.7 392.3 153.7 389.0 153.7 385.6 153.7 382.2 153.7 378.8 153.7 375.5 153.7 372.1 153.6 368.7 153.6 365.4 153.6 362.0 164.7 361.3 164.7 519.7 28.4 519.7Z" fill="#ac0225"/><path d="M28.0 495.0L28.5 495.0 28.9 495.0 29.5 495.0 30.6 495.0 32.6 495.0 35.6 495.1 40.2 495.2 46.3 495.4 53.1 495.6 60.1 495.8 66.7 495.9 72.3 496.0 76.7 496.0 80.4 495.9 83.6 495.8 86.7 495.6 89.9 495.4 93.5 495.1 97.6 494.7 102.1 494.2 106.6 493.6 111.0 493.0 115.0 492.6 118.3 492.3 120.8 492.2 122.8 492.2 124.3 492.3 125.6 492.4 126.8 492.7 128.0 493.0 129.3 493.4 130.5 493.9 131.6 494.4 132.6 495.1 133.4 495.8 134.2 496.5 134.8 497.2 135.2 498.0 135.6 498.8 135.8 499.8 136.1 500.8 136.3 502.0 136.5 503.5 136.7 505.4 136.8 507.3 136.9 509.2 137.0 510.9 137.3 512.0 137.6 512.8 138.0 513.4 138.5 513.7 138.9 513.6 139.5 513.1 140.0 512.0 140.6 510.2 141.2 507.7 141.9 504.8 142.6 501.5 143.3 498.2 144.0 495.0 144.7 491.8 145.4 488.6 146.1 485.2 146.7 481.8 147.4 478.4 148.0 475.0 148.6 471.6 149.1 468.3 149.6 464.9 150.0 461.5 150.5 458.2 151.0 455.0 151.5 452.5 152.1 451.0 152.7 449.4 153.2 447.1 153.7 443.3 154.0 437.0 154.2 426.9 154.2 413.4 154.2 398.4 154.1 383.6 154.0 370.8 154.0 362.0 164.7 361.3 164.7 519.7 28.4 519.7Z" fill="#c4092a"/></g><path d="M150.4 362.0L150.4 437.0 149.4 445.3 147.3 455.0 145.3 470.2 142.5 482.6 139.7 495.1 137.7 512.0 165.0 520.0 165.0 362.0Z" fill="#1f08da"/><path d="M150.3 362.0L153.0 362.0 153.0 437.0 150.3 437.0Z" fill="#000"/><path d="M150.4 405.0L153.0 405.0 153.0 424.0 150.4 424.0Z" fill="#dfe6f0"/><mask id="mk20" maskUnits="userSpaceOnUse" x="26.4" y="359.3" width="140.3" height="162.4"><rect x="26.4" y="359.3" width="140.3" height="162.4" fill="#fff"/><rect transform="translate(93.5 420) rotate(-5)" x="-8.0" y="-9.5" width="15.9" height="10.3" fill="#000"/><rect transform="translate(117.4 449.5) rotate(-25)" x="-8.0" y="-9.5" width="15.9" height="10.3" fill="#000"/><rect transform="translate(148 414.5) rotate(90)" x="-5.8" y="-6.5" width="11.6" height="7.0" fill="#000"/><rect transform="translate(101.9 475) rotate(0)" x="-8.0" y="-9.5" width="15.9" height="10.3" fill="#000"/><rect transform="translate(93.5 499) rotate(0)" x="-3.9" y="-9.5" width="7.7" height="10.3" fill="#000"/></mask><g mask="url(#mk20)"><path d="M28.0 433.0L28.8 432.8 29.7 432.5 30.9 432.1 32.3 431.6 33.9 431.0 35.6 430.3 37.5 429.4 39.6 428.2 41.9 426.9 44.3 425.6 46.9 424.3 49.7 423.2 52.6 422.1 55.7 421.1 59.0 420.1 62.4 419.2 65.9 418.3 69.5 417.6 73.4 417.1 77.7 416.7 82.0 416.5 86.3 416.2 90.2 415.9 93.5 415.5 96.2 415.0 98.5 414.4 100.4 413.7 102.1 413.0 103.6 412.3 105.0 411.5 106.2 410.7 107.2 409.9 108.0 409.0 108.6 408.0 109.3 407.0 110.0 406.0 110.7 404.9 111.4 403.8 112.1 402.6 112.7 401.3 113.4 399.9 114.0 398.5 114.6 396.9 115.3 395.1 115.9 393.3 116.5 391.4 117.0 389.6 117.4 388.0 117.7 386.7 117.9 385.7 118.0 384.7 118.1 383.6 118.2 382.3 118.3 380.4 118.4 377.7 118.5 374.4 118.5 370.7 118.5 367.2 118.6 364.1 118.6 362.0" fill="none" stroke="#000" stroke-width="1.4"/><path d="M28.0 455.0L28.7 455.0 29.4 454.9 30.4 454.9 31.7 454.7 33.4 454.5 35.6 454.2 38.4 453.7 41.8 453.0 45.6 452.2 49.7 451.4 53.9 450.6 58.2 450.0 62.5 449.5 67.1 449.1 71.8 448.8 76.6 448.4 81.5 448.1 86.4 447.8 91.7 447.5 97.5 447.1 103.3 446.8 108.8 446.5 113.6 446.1 117.4 445.8 119.8 445.5 121.2 445.2 121.8 444.9 122.2 444.5 122.6 444.1 123.4 443.6 124.7 443.0 126.1 442.3 127.5 441.6 129.0 440.7 130.3 439.8 131.5 438.8 132.5 437.7 133.3 436.4 134.1 435.0 134.8 433.6 135.4 432.2 136.0 431.0 136.6 430.0 137.1 429.2 137.6 428.5 138.1 427.6 138.5 426.5 138.9 424.8 139.3 422.6 139.6 419.9 139.9 416.9 140.2 413.7 140.4 410.5 140.6 407.3 140.8 404.2 140.9 401.0 141.0 397.7 141.1 394.4 141.1 390.9 141.2 387.2 141.3 383.0 141.4 378.2 141.4 373.3 141.5 368.7 141.6 364.8 141.6 362.0" fill="none" stroke="#000" stroke-width="1.4"/><path d="M28.0 474.5L28.7 474.5 29.4 474.5 30.4 474.4 31.7 474.4 33.4 474.2 35.6 474.0 38.3 473.6 41.2 473.1 44.6 472.6 48.5 472.0 53.0 471.5 58.2 471.2 64.5 471.1 72.1 471.1 80.3 471.2 88.4 471.3 95.8 471.3 101.9 471.2 106.6 470.9 110.3 470.4 113.4 469.8 116.0 469.2 118.5 468.6 121.1 468.1 123.8 467.7 126.4 467.3 128.8 467.0 131.0 466.7 133.1 466.3 134.9 466.0 136.5 465.7 137.8 465.4 139.0 465.2 140.0 464.9 140.9 464.5 141.8 464.0 142.6 463.4 143.3 462.7 143.9 461.9 144.4 461.1 144.9 460.1 145.3 459.1 145.7 457.9 145.9 456.6 146.1 455.2 146.3 453.7 146.5 452.2 146.7 450.8 146.9 449.4 147.1 447.9 147.3 446.5 147.5 445.1 147.7 443.7 148.0 442.5 148.3 441.6 148.7 440.9 149.1 440.3 149.5 439.6 149.8 438.5 150.1 437.0 150.3 435.3 150.4 433.7 150.4 431.8 150.5 429.1 150.5 425.3 150.5 420.0 150.5 412.0 150.5 401.6 150.5 389.9 150.5 378.6 150.5 368.8 150.5 362.0" fill="none" stroke="#000" stroke-width="1.4"/><path d="M35.6 495.1L39.8 495.2 45.7 495.4 52.6 495.6 59.9 495.8 66.7 495.9 72.3 496.0 76.7 496.0 80.4 495.9 83.6 495.8 86.7 495.6 89.9 495.4 93.5 495.1 97.6 494.7 102.1 494.2 106.6 493.6 111.0 493.0 115.0 492.6 118.3 492.3 120.8 492.2 122.8 492.2 124.3 492.3 125.6 492.4 126.8 492.7 128.0 493.0 129.3 493.4 130.5 493.9 131.6 494.4 132.6 495.1 133.4 495.8 134.2 496.5 134.8 497.2 135.3 498.0 135.6 498.8 135.9 499.8 136.1 500.8 136.3 502.0 136.5 503.5 136.7 505.4 136.8 507.3 136.9 509.2 136.9 510.9 137.0 512.0" fill="none" stroke="#000" stroke-width="1.4" stroke-linejoin="round"/><path d="M150.2 437.0L150.1 437.9 150.0 439.1 149.9 440.5 149.8 442.1 149.6 443.7 149.4 445.3 149.1 446.8 148.8 448.2 148.4 449.7 148.0 451.3 147.7 453.0 147.3 455.0 147.0 457.2 146.7 459.8 146.3 462.4 146.0 465.1 145.7 467.8 145.3 470.2 144.9 472.4 144.4 474.5 144.0 476.6 143.5 478.6 143.0 480.6 142.5 482.6 142.0 484.6 141.5 486.6 141.0 488.6 140.6 490.6 140.1 492.8 139.7 495.1 139.3 497.9 139.0 501.0 138.6 504.3 138.3 507.5 138.1 510.1 137.9 512.0" fill="none" stroke="#000" stroke-width="2.4" stroke-linejoin="round"/></g><text transform="translate(93.5 420) rotate(-5) scale(1 1.12)" font-size="11" text-anchor="middle" style="stroke:#000;stroke-width:0.35px;fill:#000">1.8</text><text transform="translate(117.4 449.5) rotate(-25) scale(1 1.12)" font-size="11" text-anchor="middle" style="stroke:#000;stroke-width:0.35px;fill:#000">2.2</text><text transform="translate(148 414.5) rotate(90) scale(1 1.12)" font-size="7.5" text-anchor="middle" style="stroke:#000;stroke-width:0.35px;fill:#000">0.2</text><text transform="translate(101.9 475) rotate(0) scale(1 1.12)" font-size="11" text-anchor="middle" style="stroke:#000;stroke-width:0.35px;fill:#000">2.6</text><text transform="translate(93.5 499) rotate(0) scale(1 1.12)" font-size="11" text-anchor="middle" style="stroke:#000;stroke-width:0.35px;fill:#000">3</text></g><path d="M36.40 511.70v-5.2M36.40 369.30v5.2M36.40 511.70h5.2M156.70 511.70h-5.2M42.41 511.70v-3.0M42.41 369.30v3.0M36.40 504.58h3.0M156.70 504.58h-3.0M48.43 511.70v-3.0M48.43 369.30v3.0M36.40 497.46h3.0M156.70 497.46h-3.0M54.45 511.70v-3.0M54.45 369.30v3.0M36.40 490.34h3.0M156.70 490.34h-3.0M60.46 511.70v-3.0M60.46 369.30v3.0M36.40 483.22h3.0M156.70 483.22h-3.0M66.47 511.70v-5.2M66.47 369.30v5.2M36.40 476.10h5.2M156.70 476.10h-5.2M72.49 511.70v-3.0M72.49 369.30v3.0M36.40 468.98h3.0M156.70 468.98h-3.0M78.50 511.70v-3.0M78.50 369.30v3.0M36.40 461.86h3.0M156.70 461.86h-3.0M84.52 511.70v-3.0M84.52 369.30v3.0M36.40 454.74h3.0M156.70 454.74h-3.0M90.53 511.70v-3.0M90.53 369.30v3.0M36.40 447.62h3.0M156.70 447.62h-3.0M96.55 511.70v-5.2M96.55 369.30v5.2M36.40 440.50h5.2M156.70 440.50h-5.2M102.56 511.70v-3.0M102.56 369.30v3.0M36.40 433.38h3.0M156.70 433.38h-3.0M108.58 511.70v-3.0M108.58 369.30v3.0M36.40 426.26h3.0M156.70 426.26h-3.0M114.59 511.70v-3.0M114.59 369.30v3.0M36.40 419.14h3.0M156.70 419.14h-3.0M120.61 511.70v-3.0M120.61 369.30v3.0M36.40 412.02h3.0M156.70 412.02h-3.0M126.62 511.70v-5.2M126.62 369.30v5.2M36.40 404.90h5.2M156.70 404.90h-5.2M132.64 511.70v-3.0M132.64 369.30v3.0M36.40 397.78h3.0M156.70 397.78h-3.0M138.66 511.70v-3.0M138.66 369.30v3.0M36.40 390.66h3.0M156.70 390.66h-3.0M144.67 511.70v-3.0M144.67 369.30v3.0M36.40 383.54h3.0M156.70 383.54h-3.0M150.69 511.70v-3.0M150.69 369.30v3.0M36.40 376.42h3.0M156.70 376.42h-3.0M156.70 511.70v-5.2M156.70 369.30v5.2M36.40 369.30h5.2M156.70 369.30h-5.2" stroke="#000" stroke-width="1.25" fill="none"/><rect x="36.4" y="369.3" width="120.30" height="142.40" fill="none" stroke="#000" stroke-width="1.6"/><text transform="translate(37.80 525.40) scale(1 1.15)" font-size="10.5" text-anchor="middle">−2</text><text transform="translate(67.88 525.40) scale(1 1.15)" font-size="10.5" text-anchor="middle">−1</text><text transform="translate(96.55 525.40) scale(1 1.15)" font-size="10.5" text-anchor="middle">0</text><text transform="translate(126.62 525.40) scale(1 1.15)" font-size="10.5" text-anchor="middle">1</text><text transform="translate(156.70 525.40) scale(1 1.15)" font-size="10.5" text-anchor="middle">2</text><text transform="translate(33.20 517.20) scale(1 1.15)" font-size="10.5" text-anchor="end">−2</text><text transform="translate(33.20 481.60) scale(1 1.15)" font-size="10.5" text-anchor="end">−1</text><text transform="translate(33.20 446.00) scale(1 1.15)" font-size="10.5" text-anchor="end">0</text><text transform="translate(33.20 410.40) scale(1 1.15)" font-size="10.5" text-anchor="end">1</text><text transform="translate(33.20 374.80) scale(1 1.15)" font-size="10.5" text-anchor="end">2</text><text transform="translate(14.5 440.5) rotate(-90)" font-size="11.5" text-anchor="middle" style="stroke-width:0.25px">log<tspan font-size="7" dy="2">10</tspan><tspan dy="-2">(τ</tspan><tspan font-size="7.8" dy="1.8">PSR</tspan><tspan dy="-1.8">)</tspan></text><g clip-path="url(#cp21)"><rect x="183.9" y="369.3" width="119.50" height="142.40" fill="#fcc285"/><g filter="url(#bl21)"><path d="M176.0 400.0L176.9 399.8 178.2 399.5 179.7 399.2 181.3 398.7 182.7 398.0 183.9 397.0 184.8 395.6 185.6 394.0 186.3 392.1 186.9 390.0 187.5 388.0 188.0 386.0 188.5 384.1 188.9 382.1 189.2 380.1 189.5 378.0 189.8 376.0 190.0 374.0 190.2 371.9 190.3 369.6 190.4 367.2 190.4 365.1 190.5 363.3 190.5 362.0 311.4 361.3 311.4 519.7 175.9 519.7Z" fill="#fcb77f"/><path d="M176.0 405.2L176.6 405.1 177.2 404.9 177.8 404.8 178.5 404.6 179.1 404.4 179.7 404.3 180.3 404.1 180.9 403.8 181.5 403.6 182.0 403.3 182.6 403.0 183.1 402.7 183.6 402.3 184.1 401.9 184.6 401.4 185.0 401.0 185.3 400.4 185.7 399.9 186.0 399.4 186.3 398.8 186.6 398.2 186.9 397.7 187.1 397.1 187.4 396.5 187.6 395.9 187.8 395.3 188.0 394.7 188.2 394.1 188.4 393.5 188.5 392.8 188.7 392.2 188.9 391.6 189.0 391.0 189.2 390.4 189.3 389.8 189.5 389.1 189.7 388.5 189.8 387.9 190.0 387.3 190.1 386.7 190.2 386.0 190.4 385.4 190.5 384.8 190.6 384.2 190.7 383.5 190.9 382.9 191.0 382.3 191.1 381.7 191.2 381.0 191.3 380.4 191.4 379.8 191.5 379.1 191.6 378.5 191.6 377.9 191.7 377.2 191.8 376.6 191.9 376.0 192.0 375.4 192.0 374.7 192.1 374.1 192.2 373.5 192.2 372.8 192.3 372.2 192.3 371.5 192.4 370.9 192.4 370.3 192.5 369.6 192.5 369.0 192.5 368.4 192.6 367.7 192.6 367.1 192.6 366.5 192.7 365.8 192.7 365.2 192.7 364.5 192.7 363.9 192.7 363.3 192.7 362.6 192.8 362.0 311.4 361.3 311.4 519.7 175.9 519.7Z" fill="#fcb37d"/><path d="M176.0 410.5L176.7 410.3 177.4 410.1 178.0 409.9 178.7 409.7 179.4 409.5 180.1 409.3 180.7 409.0 181.4 408.7 182.0 408.4 182.6 408.0 183.2 407.6 183.8 407.2 184.3 406.8 184.8 406.3 185.3 405.8 185.8 405.3 186.2 404.7 186.7 404.1 187.0 403.5 187.4 402.9 187.7 402.3 188.1 401.7 188.3 401.0 188.6 400.4 188.9 399.7 189.1 399.0 189.3 398.4 189.6 397.7 189.8 397.0 190.0 396.3 190.2 395.7 190.3 395.0 190.5 394.3 190.7 393.6 190.9 392.9 191.0 392.2 191.2 391.5 191.4 390.8 191.5 390.1 191.7 389.4 191.9 388.8 192.0 388.1 192.2 387.4 192.3 386.7 192.4 386.0 192.6 385.3 192.7 384.6 192.8 383.9 193.0 383.2 193.1 382.5 193.2 381.8 193.3 381.1 193.4 380.4 193.5 379.7 193.6 379.0 193.7 378.3 193.8 377.6 193.9 376.9 194.0 376.2 194.1 375.5 194.2 374.8 194.3 374.0 194.4 373.3 194.4 372.6 194.5 371.9 194.6 371.2 194.6 370.5 194.7 369.8 194.7 369.1 194.8 368.4 194.8 367.7 194.9 367.0 194.9 366.3 194.9 365.6 194.9 364.8 195.0 364.1 195.0 363.4 195.0 362.7 195.0 362.0 311.4 361.3 311.4 519.7 175.9 519.7Z" fill="#fcb07b"/><path d="M176.0 415.8L176.7 415.5 177.5 415.3 178.2 415.0 179.0 414.8 179.7 414.5 180.4 414.2 181.2 413.9 181.9 413.6 182.5 413.2 183.2 412.8 183.8 412.3 184.4 411.8 185.0 411.3 185.6 410.7 186.1 410.2 186.6 409.6 187.1 409.0 187.6 408.4 188.0 407.7 188.4 407.1 188.8 406.4 189.2 405.7 189.6 405.0 189.9 404.3 190.2 403.5 190.4 402.8 190.7 402.1 190.9 401.3 191.2 400.6 191.4 399.8 191.6 399.1 191.8 398.3 192.0 397.6 192.2 396.8 192.4 396.0 192.6 395.3 192.7 394.5 192.9 393.8 193.1 393.0 193.3 392.2 193.5 391.5 193.7 390.7 193.8 389.9 194.0 389.2 194.1 388.4 194.3 387.6 194.5 386.9 194.6 386.1 194.7 385.3 194.9 384.6 195.0 383.8 195.2 383.0 195.3 382.2 195.4 381.5 195.5 380.7 195.7 379.9 195.8 379.2 195.9 378.4 196.0 377.6 196.1 376.8 196.2 376.1 196.3 375.3 196.4 374.5 196.5 373.7 196.6 372.9 196.7 372.2 196.8 371.4 196.8 370.6 196.9 369.8 197.0 369.0 197.0 368.3 197.1 367.5 197.1 366.7 197.2 365.9 197.2 365.1 197.2 364.3 197.2 363.6 197.2 362.8 197.2 362.0 311.4 361.3 311.4 519.7 175.9 519.7Z" fill="#fcac79"/><path d="M176.0 421.0L176.8 420.7 178.0 420.3 179.4 419.8 180.8 419.2 182.3 418.5 183.6 417.6 184.8 416.5 186.1 415.4 187.4 414.0 188.6 412.5 189.7 410.9 190.7 409.1 191.6 407.1 192.4 404.8 193.1 402.4 193.7 399.9 194.3 397.4 194.9 395.0 195.5 392.6 196.0 390.2 196.5 387.8 196.9 385.4 197.3 383.1 197.7 380.9 198.0 378.8 198.3 376.8 198.6 374.8 198.8 373.0 199.0 371.2 199.2 369.6 199.3 368.0 199.4 366.5 199.4 365.1 199.5 363.8 199.5 362.8 199.5 362.0 311.4 361.3 311.4 519.7 175.9 519.7Z" fill="#fca876"/><path d="M176.0 422.8L176.9 422.4 177.9 422.0 178.9 421.6 179.8 421.3 180.8 421.0 181.8 420.6 182.7 420.3 183.7 419.9 184.6 419.4 185.5 419.0 186.4 418.5 187.2 418.0 188.1 417.5 188.9 417.0 189.7 416.5 190.6 415.9 191.3 415.4 192.1 414.8 192.9 414.2 193.6 413.6 194.3 413.0 195.0 412.4 195.7 411.8 196.4 411.2 197.0 410.6 197.6 409.9 198.2 409.3 198.8 408.6 199.4 408.0 200.0 407.3 200.5 406.7 201.1 406.0 201.6 405.4 202.2 404.7 202.7 404.0 203.2 403.4 203.8 402.7 204.3 402.0 204.8 401.3 205.4 400.6 205.9 399.9 206.4 399.1 206.9 398.3 207.3 397.4 207.7 396.5 208.1 395.6 208.4 394.7 208.7 393.7 208.9 392.7 209.2 391.7 209.4 390.7 209.5 389.6 209.7 388.6 209.9 387.6 210.0 386.6 210.1 385.6 210.3 384.6 210.4 383.5 210.5 382.5 210.6 381.5 210.7 380.5 210.8 379.5 210.9 378.4 211.0 377.4 211.1 376.4 211.2 375.4 211.2 374.3 211.3 373.3 211.4 372.3 211.5 371.3 211.5 370.2 211.6 369.2 211.6 368.2 211.7 367.1 211.7 366.1 211.7 365.1 211.7 364.1 211.7 363.0 211.8 362.0 311.4 361.3 311.4 519.7 175.9 519.7Z" fill="#fda373"/><path d="M176.0 424.5L177.1 424.0 178.2 423.5 179.3 423.1 180.5 422.7 181.6 422.4 182.8 422.0 183.9 421.7 185.0 421.3 186.1 420.9 187.2 420.5 188.3 420.1 189.4 419.7 190.5 419.2 191.6 418.8 192.6 418.4 193.7 417.9 194.7 417.5 195.7 417.0 196.7 416.6 197.8 416.1 198.7 415.6 199.7 415.2 200.7 414.7 201.6 414.2 202.6 413.8 203.5 413.3 204.4 412.8 205.3 412.3 206.2 411.9 207.1 411.4 208.0 410.9 208.9 410.4 209.7 409.9 210.6 409.4 211.5 408.9 212.4 408.4 213.2 407.9 214.1 407.4 215.0 406.8 215.8 406.2 216.7 405.6 217.5 404.9 218.3 404.1 218.9 403.2 219.6 402.3 220.1 401.2 220.6 400.1 221.0 399.0 221.4 397.9 221.6 396.7 221.9 395.5 222.1 394.3 222.3 393.2 222.4 392.0 222.6 390.8 222.7 389.6 222.8 388.4 222.9 387.2 223.0 386.0 223.0 384.8 223.1 383.6 223.2 382.4 223.3 381.2 223.4 380.0 223.4 378.8 223.5 377.6 223.6 376.4 223.6 375.2 223.7 374.0 223.7 372.8 223.8 371.6 223.8 370.4 223.9 369.2 223.9 368.0 223.9 366.8 223.9 365.6 224.0 364.4 224.0 363.2 224.0 362.0 311.4 361.3 311.4 519.7 175.9 519.7Z" fill="#fd9e6f"/><path d="M176.0 426.2L177.2 425.7 178.5 425.1 179.8 424.6 181.1 424.2 182.4 423.8 183.7 423.4 185.0 423.1 186.4 422.7 187.7 422.4 189.0 422.0 190.3 421.7 191.6 421.3 192.9 421.0 194.2 420.6 195.5 420.3 196.8 419.9 198.1 419.6 199.3 419.2 200.6 418.9 201.9 418.5 203.1 418.2 204.4 417.9 205.7 417.6 206.9 417.3 208.1 417.0 209.4 416.6 210.6 416.3 211.8 416.0 213.0 415.7 214.2 415.4 215.5 415.1 216.7 414.8 217.9 414.5 219.1 414.1 220.3 413.8 221.5 413.5 222.7 413.1 223.9 412.7 225.1 412.3 226.3 411.8 227.4 411.3 228.6 410.7 229.6 410.0 230.6 409.0 231.4 408.0 232.2 406.8 232.8 405.6 233.3 404.4 233.8 403.1 234.1 401.7 234.4 400.4 234.7 399.0 234.9 397.7 235.0 396.3 235.1 394.9 235.2 393.6 235.3 392.2 235.4 390.8 235.4 389.5 235.5 388.1 235.6 386.7 235.6 385.3 235.7 384.0 235.7 382.6 235.8 381.2 235.8 379.9 235.9 378.5 235.9 377.1 236.0 375.7 236.0 374.4 236.1 373.0 236.1 371.6 236.1 370.2 236.1 368.9 236.2 367.5 236.2 366.1 236.2 364.7 236.2 363.4 236.2 362.0 311.4 361.3 311.4 519.7 175.9 519.7Z" fill="#fd996b"/><path d="M176.0 428.0L176.7 427.7 177.5 427.3 178.6 426.8 179.9 426.2 181.7 425.6 183.9 425.0 186.7 424.4 190.0 423.7 193.7 423.0 197.7 422.3 201.8 421.6 206.0 421.0 210.5 420.5 215.6 420.0 220.8 419.5 225.9 419.0 230.4 418.5 234.0 418.0 236.7 417.4 238.6 416.9 240.0 416.4 241.1 415.7 242.0 415.0 243.0 414.0 244.0 412.9 244.8 411.6 245.5 410.2 246.1 408.6 246.6 406.9 247.0 405.0 247.3 403.0 247.6 400.9 247.7 398.7 247.8 396.2 247.9 393.3 248.0 390.0 248.1 385.8 248.2 380.6 248.3 375.1 248.4 369.7 248.5 365.2 248.5 362.0 311.4 361.3 311.4 519.7 175.9 519.7Z" fill="#fe9568"/><path d="M176.0 431.0L177.5 430.3 178.9 429.6 180.4 429.1 181.9 428.5 183.5 428.1 185.0 427.7 186.6 427.3 188.1 427.0 189.7 426.6 191.3 426.3 192.8 426.0 194.4 425.7 196.0 425.4 197.6 425.1 199.2 424.8 200.7 424.6 202.3 424.3 203.9 424.1 205.5 423.8 207.1 423.6 208.7 423.4 210.3 423.2 211.9 423.0 213.5 422.9 215.1 422.7 216.7 422.5 218.2 422.4 219.8 422.2 221.4 422.1 223.0 421.9 224.6 421.8 226.2 421.6 227.8 421.5 229.4 421.3 231.0 421.1 232.6 420.9 234.2 420.7 235.8 420.4 237.3 420.1 238.9 419.7 240.4 419.3 241.9 418.6 243.3 417.8 244.5 416.8 245.6 415.6 246.6 414.3 247.4 412.9 248.0 411.5 248.5 410.0 249.0 408.4 249.3 406.9 249.6 405.3 249.8 403.7 250.0 402.1 250.1 400.5 250.2 398.9 250.3 397.3 250.3 395.7 250.4 394.1 250.5 392.5 250.5 390.9 250.6 389.3 250.6 387.7 250.6 386.1 250.7 384.5 250.7 382.9 250.7 381.3 250.8 379.6 250.8 378.0 250.8 376.4 250.8 374.8 250.9 373.2 250.9 371.6 250.9 370.0 250.9 368.4 250.9 366.8 251.0 365.2 251.0 363.6 251.0 362.0 311.4 361.3 311.4 519.7 175.9 519.7Z" fill="#fe9064"/><path d="M176.0 434.0L177.5 433.3 179.0 432.6 180.6 432.0 182.1 431.5 183.7 431.0 185.3 430.6 187.0 430.2 188.6 429.8 190.2 429.4 191.8 429.1 193.4 428.7 195.1 428.4 196.7 428.0 198.3 427.7 200.0 427.5 201.6 427.2 203.2 426.9 204.9 426.7 206.5 426.5 208.2 426.2 209.8 426.0 211.5 425.8 213.1 425.6 214.8 425.4 216.4 425.2 218.1 425.1 219.7 424.9 221.4 424.7 223.0 424.6 224.7 424.4 226.3 424.3 228.0 424.1 229.6 424.0 231.3 423.8 233.0 423.6 234.6 423.4 236.2 423.1 237.9 422.8 239.5 422.4 241.1 422.0 242.7 421.5 244.2 420.8 245.5 419.9 246.8 418.7 247.9 417.5 248.9 416.2 249.7 414.7 250.4 413.2 250.9 411.7 251.4 410.1 251.7 408.4 252.0 406.8 252.3 405.2 252.4 403.5 252.6 401.9 252.7 400.2 252.8 398.5 252.8 396.9 252.9 395.2 253.0 393.6 253.0 391.9 253.1 390.2 253.1 388.6 253.2 386.9 253.2 385.3 253.2 383.6 253.3 381.9 253.3 380.3 253.3 378.6 253.3 377.0 253.4 375.3 253.4 373.6 253.4 372.0 253.4 370.3 253.4 368.6 253.4 367.0 253.5 365.3 253.5 363.7 253.5 362.0 311.4 361.3 311.4 519.7 175.9 519.7Z" fill="#fe8b60"/><path d="M176.0 437.0L177.6 436.3 179.2 435.6 180.8 435.0 182.4 434.5 184.0 434.0 185.7 433.5 187.3 433.1 189.0 432.6 190.7 432.2 192.3 431.8 194.0 431.4 195.7 431.1 197.4 430.7 199.1 430.4 200.8 430.1 202.5 429.8 204.2 429.6 205.9 429.3 207.6 429.1 209.3 428.8 211.0 428.6 212.7 428.4 214.4 428.2 216.1 428.0 217.8 427.8 219.5 427.6 221.2 427.4 222.9 427.2 224.6 427.1 226.3 426.9 228.0 426.8 229.8 426.6 231.5 426.4 233.2 426.3 234.9 426.1 236.6 425.8 238.3 425.5 240.0 425.2 241.6 424.8 243.3 424.3 244.9 423.7 246.4 422.9 247.8 421.9 249.1 420.7 250.2 419.5 251.2 418.1 252.0 416.6 252.7 415.0 253.3 413.4 253.8 411.7 254.2 410.0 254.4 408.3 254.7 406.6 254.9 404.9 255.0 403.2 255.1 401.5 255.2 399.8 255.3 398.1 255.4 396.4 255.5 394.6 255.5 392.9 255.6 391.2 255.6 389.5 255.7 387.8 255.7 386.1 255.8 384.3 255.8 382.6 255.8 380.9 255.8 379.2 255.8 377.5 255.9 375.7 255.9 374.0 255.9 372.3 255.9 370.6 255.9 368.9 255.9 367.2 256.0 365.4 256.0 363.7 256.0 362.0 311.4 361.3 311.4 519.7 175.9 519.7Z" fill="#ff865d"/><path d="M176.0 440.0L176.8 439.7 177.7 439.3 178.9 438.8 180.4 438.2 182.0 437.6 183.9 437.0 186.0 436.4 188.4 435.7 191.1 435.0 193.9 434.3 196.9 433.6 200.0 433.0 203.4 432.4 207.0 431.9 210.9 431.4 214.7 430.9 218.5 430.4 222.0 430.0 225.3 429.6 228.6 429.3 231.8 429.1 234.7 428.8 237.5 428.4 240.0 428.0 242.2 427.5 244.1 427.0 245.8 426.5 247.3 425.9 248.7 425.0 250.0 424.0 251.3 422.8 252.4 421.4 253.5 419.9 254.4 418.2 255.3 416.3 256.0 414.0 256.6 411.5 257.0 408.9 257.3 405.9 257.6 402.7 257.8 399.1 258.0 395.0 258.2 389.9 258.3 383.8 258.4 377.3 258.4 371.1 258.5 365.8 258.5 362.0 311.4 361.3 311.4 519.7 175.9 519.7Z" fill="#ff7f58"/><path d="M176.0 444.8L177.7 444.1 179.5 443.5 181.2 442.9 183.0 442.3 184.8 441.8 186.6 441.2 188.4 440.7 190.2 440.2 192.0 439.8 193.8 439.3 195.6 438.9 197.4 438.5 199.2 438.1 201.0 437.7 202.9 437.4 204.7 437.1 206.5 436.8 208.4 436.5 210.2 436.3 212.1 436.1 213.9 435.8 215.8 435.6 217.6 435.4 219.5 435.2 221.3 434.9 223.2 434.7 225.0 434.5 226.9 434.3 228.7 434.1 230.6 433.9 232.4 433.7 234.3 433.5 236.1 433.3 238.0 433.1 239.8 432.8 241.6 432.5 243.5 432.1 245.3 431.7 247.0 431.1 248.7 430.4 250.2 429.4 251.5 428.2 252.8 427.0 254.1 425.6 255.2 424.1 256.3 422.6 257.2 421.0 257.9 419.3 258.6 417.5 259.1 415.8 259.6 414.0 260.0 412.1 260.4 410.3 260.6 408.5 260.8 406.6 261.0 404.8 261.2 402.9 261.3 401.1 261.4 399.2 261.5 397.4 261.6 395.5 261.7 393.6 261.7 391.8 261.8 389.9 261.8 388.1 261.9 386.2 261.9 384.3 261.9 382.5 261.9 380.6 262.0 378.8 262.0 376.9 262.0 375.0 262.0 373.2 262.0 371.3 262.0 369.4 262.0 367.6 262.0 365.7 262.1 363.9 262.1 362.0 311.4 361.3 311.4 519.7 175.9 519.7Z" fill="#ff7153"/><path d="M176.0 449.5L177.8 448.9 179.7 448.3 181.5 447.7 183.4 447.2 185.3 446.6 187.2 446.1 189.0 445.6 190.9 445.1 192.8 444.6 194.7 444.1 196.6 443.6 198.5 443.2 200.4 442.7 202.3 442.4 204.2 442.0 206.1 441.7 208.0 441.4 210.0 441.2 211.9 440.9 213.8 440.7 215.8 440.4 217.7 440.2 219.6 440.0 221.6 439.8 223.5 439.5 225.4 439.3 227.4 439.1 229.3 438.9 231.2 438.7 233.2 438.4 235.1 438.2 237.0 438.0 239.0 437.7 240.9 437.5 242.8 437.1 244.7 436.8 246.6 436.4 248.5 435.8 250.3 435.1 251.9 434.1 253.2 432.9 254.4 431.5 255.6 430.0 256.8 428.5 258.0 426.9 259.0 425.3 259.9 423.5 260.7 421.8 261.5 420.0 262.1 418.1 262.7 416.3 263.2 414.4 263.6 412.5 264.0 410.6 264.2 408.7 264.5 406.7 264.6 404.8 264.8 402.9 264.9 400.9 265.0 399.0 265.1 397.0 265.2 395.1 265.3 393.1 265.4 391.2 265.4 389.3 265.4 387.3 265.5 385.4 265.5 383.4 265.5 381.5 265.5 379.5 265.6 377.6 265.6 375.6 265.6 373.7 265.6 371.7 265.6 369.8 265.6 367.8 265.6 365.9 265.6 363.9 265.6 362.0 311.4 361.3 311.4 519.7 175.9 519.7Z" fill="#ff644f"/><path d="M176.0 454.2L178.0 453.7 179.9 453.1 181.9 452.6 183.8 452.1 185.8 451.5 187.7 451.0 189.7 450.4 191.6 449.9 193.6 449.3 195.6 448.8 197.5 448.3 199.5 447.9 201.5 447.4 203.5 447.0 205.5 446.7 207.5 446.3 209.5 446.0 211.5 445.8 213.5 445.5 215.6 445.3 217.6 445.0 219.6 444.8 221.6 444.6 223.6 444.4 225.7 444.1 227.7 443.9 229.7 443.7 231.7 443.5 233.7 443.2 235.8 443.0 237.8 442.7 239.8 442.4 241.8 442.1 243.8 441.8 245.8 441.4 247.8 441.0 249.8 440.6 251.7 440.0 253.5 439.1 255.1 437.9 256.3 436.3 257.3 434.7 258.4 433.0 259.6 431.4 260.7 429.7 261.8 427.9 262.7 426.1 263.6 424.3 264.4 422.4 265.1 420.5 265.8 418.6 266.4 416.7 266.9 414.7 267.3 412.7 267.6 410.7 267.9 408.7 268.1 406.7 268.3 404.7 268.5 402.6 268.6 400.6 268.7 398.6 268.8 396.5 268.9 394.5 268.9 392.5 269.0 390.5 269.0 388.4 269.1 386.4 269.1 384.4 269.1 382.3 269.1 380.3 269.2 378.3 269.2 376.2 269.2 374.2 269.2 372.2 269.2 370.1 269.2 368.1 269.2 366.1 269.2 364.0 269.2 362.0 311.4 361.3 311.4 519.7 175.9 519.7Z" fill="#ff574a"/><path d="M176.0 459.0L176.7 458.8 177.4 458.6 178.4 458.4 179.7 458.1 181.4 457.7 183.6 457.1 186.4 456.3 189.8 455.4 193.6 454.3 197.7 453.3 201.9 452.3 206.2 451.4 210.7 450.7 215.7 450.1 220.8 449.5 225.8 449.0 230.5 448.5 234.4 448.0 237.6 447.6 240.4 447.2 242.7 446.9 244.7 446.5 246.6 446.2 248.5 445.8 250.3 445.4 251.9 445.0 253.4 444.6 254.7 444.2 255.9 443.7 257.0 443.0 257.9 442.2 258.5 441.3 259.0 440.4 259.5 439.3 260.0 438.1 260.7 436.9 261.5 435.6 262.4 434.2 263.3 432.7 264.3 431.1 265.2 429.3 266.1 427.5 267.0 425.6 267.8 423.5 268.7 421.4 269.5 419.1 270.2 416.7 270.8 414.0 271.3 411.2 271.6 408.2 271.9 405.1 272.1 401.7 272.3 398.0 272.5 393.9 272.6 388.9 272.7 383.0 272.8 376.7 272.8 370.7 272.8 365.6 272.8 362.0 311.4 361.3 311.4 519.7 175.9 519.7Z" fill="#ff4d47"/><path d="M176.0 460.2L178.1 459.7 180.1 459.1 182.2 458.6 184.3 458.0 186.3 457.5 188.4 456.9 190.5 456.3 192.5 455.8 194.6 455.2 196.7 454.7 198.7 454.2 200.8 453.7 202.9 453.2 205.0 452.8 207.1 452.4 209.2 452.1 211.3 451.7 213.5 451.5 215.6 451.2 217.7 451.0 219.8 450.7 222.0 450.5 224.1 450.3 226.2 450.0 228.4 449.8 230.5 449.6 232.6 449.3 234.7 449.1 236.8 448.8 239.0 448.5 241.1 448.2 243.2 447.9 245.3 447.6 247.4 447.2 249.5 446.7 251.6 446.2 253.7 445.6 255.7 444.9 257.5 443.9 259.1 442.4 260.2 440.6 261.2 438.7 262.2 436.9 263.4 435.0 264.5 433.2 265.5 431.3 266.5 429.4 267.4 427.5 268.2 425.5 269.0 423.5 269.8 421.5 270.5 419.5 271.1 417.5 271.6 415.4 272.0 413.3 272.3 411.2 272.6 409.0 272.8 406.9 273.0 404.8 273.1 402.6 273.3 400.5 273.4 398.4 273.5 396.2 273.6 394.1 273.6 392.0 273.7 389.8 273.7 387.7 273.8 385.5 273.8 383.4 273.8 381.3 273.8 379.1 273.8 377.0 273.8 374.8 273.8 372.7 273.8 370.6 273.8 368.4 273.8 366.3 273.8 364.1 273.9 362.0 311.4 361.3 311.4 519.7 175.9 519.7Z" fill="#ff4845"/><path d="M176.0 461.5L178.1 460.9 180.1 460.3 182.2 459.7 184.3 459.1 186.4 458.6 188.5 458.0 190.6 457.4 192.7 456.9 194.7 456.3 196.8 455.8 198.9 455.2 201.0 454.7 203.2 454.3 205.3 453.9 207.4 453.5 209.5 453.2 211.7 452.8 213.8 452.6 216.0 452.3 218.1 452.1 220.3 451.8 222.4 451.6 224.6 451.3 226.7 451.1 228.9 450.9 231.0 450.6 233.2 450.4 235.3 450.1 237.4 449.8 239.6 449.5 241.7 449.2 243.9 448.9 246.0 448.6 248.1 448.1 250.2 447.7 252.3 447.1 254.4 446.5 256.4 445.7 258.3 444.6 259.9 443.2 261.1 441.4 262.1 439.5 263.2 437.7 264.3 435.8 265.5 434.0 266.5 432.1 267.5 430.2 268.4 428.2 269.2 426.2 270.0 424.2 270.7 422.2 271.4 420.1 272.0 418.0 272.5 415.9 272.9 413.8 273.3 411.7 273.6 409.5 273.8 407.4 274.0 405.2 274.2 403.1 274.3 400.9 274.4 398.7 274.5 396.6 274.6 394.4 274.7 392.3 274.8 390.1 274.8 387.9 274.8 385.8 274.8 383.6 274.9 381.5 274.9 379.3 274.9 377.1 274.9 375.0 274.9 372.8 274.9 370.6 274.9 368.5 274.9 366.3 274.9 364.2 274.9 362.0 311.4 361.3 311.4 519.7 175.9 519.7Z" fill="#ff4343"/><path d="M176.0 462.8L178.1 462.1 180.2 461.4 182.3 460.8 184.4 460.3 186.5 459.7 188.6 459.1 190.7 458.5 192.8 457.9 194.9 457.4 197.0 456.8 199.1 456.3 201.3 455.8 203.4 455.4 205.5 455.0 207.7 454.6 209.9 454.2 212.0 453.9 214.2 453.7 216.4 453.4 218.5 453.1 220.7 452.9 222.9 452.7 225.0 452.4 227.2 452.2 229.4 451.9 231.5 451.7 233.7 451.4 235.9 451.1 238.0 450.9 240.2 450.6 242.4 450.3 244.5 449.9 246.7 449.6 248.8 449.1 250.9 448.6 253.1 448.0 255.1 447.4 257.1 446.5 259.0 445.4 260.6 444.0 261.9 442.2 263.1 440.4 264.2 438.5 265.3 436.6 266.5 434.8 267.5 432.8 268.5 430.9 269.4 428.9 270.2 426.9 271.0 424.8 271.7 422.8 272.4 420.7 273.0 418.6 273.5 416.5 273.9 414.3 274.2 412.2 274.5 410.0 274.8 407.8 275.0 405.7 275.2 403.5 275.4 401.3 275.5 399.1 275.6 396.9 275.7 394.8 275.8 392.6 275.8 390.4 275.9 388.2 275.9 386.0 275.9 383.8 275.9 381.7 275.9 379.5 275.9 377.3 275.9 375.1 275.9 372.9 275.9 370.7 275.9 368.6 275.9 366.4 275.9 364.2 275.9 362.0 311.4 361.3 311.4 519.7 175.9 519.7Z" fill="#ff3d40"/><path d="M176.0 464.0L176.7 463.8 177.5 463.5 178.6 463.1 179.9 462.6 181.7 462.1 183.9 461.5 186.7 460.7 190.0 459.8 193.7 458.8 197.7 457.8 201.8 456.8 206.0 456.0 210.5 455.3 215.3 454.6 220.4 454.1 225.3 453.5 230.0 453.0 234.0 452.5 237.4 452.0 240.4 451.6 243.1 451.3 245.6 450.9 247.8 450.5 250.0 450.0 252.1 449.5 253.9 448.9 255.6 448.3 257.2 447.7 258.6 446.9 260.0 446.0 261.2 444.9 262.3 443.7 263.3 442.4 264.2 441.0 265.1 439.5 266.0 438.0 266.9 436.5 267.8 435.0 268.6 433.4 269.4 431.7 270.2 429.9 271.0 428.0 271.8 426.0 272.5 423.9 273.2 421.6 273.9 419.3 274.5 416.7 275.0 414.0 275.4 411.2 275.8 408.2 276.1 405.1 276.4 401.8 276.6 398.1 276.8 394.0 276.9 389.0 277.0 383.0 277.0 376.8 277.0 370.7 277.0 365.6 277.0 362.0 311.4 361.3 311.4 519.7 175.9 519.7Z" fill="#ff363d"/><path d="M176.0 470.2L178.2 469.6 180.5 469.0 182.7 468.5 185.0 468.0 187.3 467.5 189.5 467.0 191.8 466.5 194.1 466.1 196.3 465.6 198.6 465.1 200.9 464.7 203.2 464.3 205.5 463.9 207.8 463.6 210.1 463.3 212.4 463.0 214.7 462.7 217.0 462.5 219.3 462.3 221.6 462.1 224.0 461.9 226.3 461.7 228.6 461.5 230.9 461.3 233.2 461.0 235.5 460.8 237.8 460.4 240.1 460.0 242.3 459.4 244.5 458.8 246.7 458.2 248.8 457.4 250.9 456.6 253.0 455.8 255.2 455.2 257.5 454.6 259.7 453.8 261.8 452.8 263.7 451.6 265.5 450.0 266.9 448.2 268.1 446.2 269.2 444.2 270.2 442.1 271.2 440.0 272.1 437.9 272.9 435.8 273.6 433.6 274.3 431.4 275.0 429.1 275.6 426.9 276.1 424.6 276.5 422.4 276.9 420.1 277.3 417.8 277.6 415.5 277.8 413.2 278.0 410.9 278.2 408.6 278.3 406.2 278.5 403.9 278.6 401.6 278.6 399.3 278.7 396.9 278.8 394.6 278.8 392.3 278.9 389.9 278.9 387.6 278.9 385.3 278.9 383.0 278.9 380.6 278.9 378.3 278.9 376.0 278.9 373.6 278.9 371.3 278.9 369.0 278.9 366.7 278.9 364.3 278.9 362.0 311.4 361.3 311.4 519.7 175.9 519.7Z" fill="#ff2e3a"/><path d="M176.0 476.5L178.4 475.9 180.8 475.4 183.2 475.0 185.6 474.6 188.0 474.2 190.4 473.9 192.8 473.5 195.2 473.1 197.6 472.7 200.0 472.4 202.4 472.0 204.9 471.7 207.3 471.4 209.7 471.1 212.2 470.8 214.6 470.6 217.0 470.4 219.5 470.2 221.9 470.0 224.4 469.9 226.8 469.7 229.2 469.6 231.7 469.4 234.1 469.3 236.6 469.1 239.0 468.8 241.4 468.4 243.8 467.8 246.0 466.9 248.2 466.0 250.4 465.0 252.4 463.9 254.4 462.7 256.5 461.6 258.8 460.8 261.1 460.2 263.5 459.4 265.7 458.3 267.7 457.0 269.5 455.3 271.0 453.4 272.2 451.3 273.2 449.1 274.1 446.8 275.0 444.5 275.7 442.2 276.3 439.9 276.9 437.6 277.5 435.2 278.0 432.8 278.5 430.4 278.8 428.0 279.2 425.6 279.5 423.2 279.7 420.8 279.9 418.3 280.1 415.9 280.2 413.5 280.3 411.0 280.4 408.6 280.5 406.1 280.6 403.7 280.6 401.2 280.7 398.8 280.7 396.3 280.8 393.9 280.8 391.4 280.8 389.0 280.8 386.5 280.8 384.1 280.8 381.6 280.8 379.2 280.8 376.7 280.8 374.3 280.8 371.8 280.8 369.4 280.8 366.9 280.8 364.5 280.8 362.0 311.4 361.3 311.4 519.7 175.9 519.7Z" fill="#fc2a39"/><path d="M176.0 482.8L178.5 482.2 181.0 481.9 183.6 481.5 186.1 481.3 188.7 481.0 191.2 480.7 193.8 480.4 196.3 480.1 198.9 479.9 201.4 479.6 204.0 479.3 206.5 479.1 209.1 478.9 211.7 478.6 214.2 478.4 216.8 478.2 219.4 478.1 221.9 477.9 224.5 477.8 227.1 477.7 229.6 477.6 232.2 477.5 234.8 477.4 237.3 477.3 239.9 477.1 242.5 476.8 245.0 476.4 247.4 475.6 249.7 474.5 251.9 473.2 254.0 471.9 256.0 470.4 257.9 468.8 259.9 467.3 262.3 466.4 264.8 465.8 267.3 465.0 269.5 463.8 271.7 462.4 273.6 460.7 275.1 458.6 276.3 456.3 277.2 453.9 278.0 451.5 278.7 449.0 279.3 446.6 279.8 444.1 280.2 441.5 280.6 439.0 281.1 436.5 281.4 434.0 281.6 431.4 281.8 428.9 282.0 426.3 282.1 423.7 282.2 421.2 282.3 418.6 282.4 416.0 282.5 413.5 282.5 410.9 282.6 408.3 282.6 405.7 282.6 403.2 282.7 400.6 282.7 398.0 282.7 395.5 282.7 392.9 282.7 390.3 282.7 387.7 282.7 385.2 282.7 382.6 282.7 380.0 282.7 377.4 282.7 374.9 282.7 372.3 282.7 369.7 282.7 367.1 282.7 364.6 282.7 362.0 311.4 361.3 311.4 519.7 175.9 519.7Z" fill="#fa2637"/><path d="M176.0 489.0L176.5 488.9 176.9 488.8 177.5 488.7 178.6 488.5 180.6 488.3 183.6 488.1 188.2 487.8 194.3 487.4 201.2 486.9 208.2 486.5 214.8 486.1 220.3 485.8 224.7 485.6 228.5 485.5 231.8 485.5 234.8 485.5 237.5 485.4 240.0 485.3 242.2 485.2 244.1 485.0 245.7 484.9 247.1 484.7 248.5 484.4 249.9 483.9 251.4 483.2 252.8 482.4 254.2 481.5 255.6 480.5 256.8 479.5 258.0 478.5 259.0 477.6 259.9 476.6 260.7 475.6 261.6 474.6 262.5 473.8 263.5 473.0 264.7 472.4 266.1 472.0 267.6 471.6 269.0 471.2 270.5 470.8 271.8 470.2 273.1 469.5 274.3 468.7 275.6 467.9 276.7 466.9 277.8 465.9 278.7 464.7 279.5 463.3 280.2 461.8 280.8 460.2 281.3 458.5 281.8 456.7 282.2 455.0 282.6 453.2 282.8 451.2 283.1 449.3 283.3 447.3 283.4 445.5 283.6 443.9 283.8 442.6 283.9 441.7 284.0 440.8 284.1 439.9 284.2 438.7 284.3 437.0 284.4 435.2 284.4 433.6 284.5 431.7 284.5 429.1 284.6 425.3 284.6 420.0 284.6 412.0 284.6 401.6 284.6 389.9 284.6 378.6 284.6 368.8 284.6 362.0 311.4 361.3 311.4 519.7 175.9 519.7Z" fill="#f82236"/><path d="M176.0 493.5L178.7 493.0 181.5 492.7 184.2 492.5 187.0 492.4 189.7 492.2 192.5 492.1 195.3 491.9 198.0 491.8 200.8 491.7 203.5 491.5 206.3 491.4 209.1 491.3 211.8 491.1 214.6 491.0 217.4 490.9 220.1 490.7 222.9 490.6 225.6 490.5 228.4 490.4 231.2 490.3 233.9 490.2 236.7 490.1 239.5 490.0 242.2 489.8 245.0 489.6 247.7 489.4 250.4 488.8 253.1 488.0 255.5 486.8 257.9 485.3 260.1 483.8 262.2 482.0 264.1 479.9 266.1 478.0 268.4 476.7 270.9 475.6 273.1 474.4 275.3 472.7 277.2 470.9 279.0 468.9 280.3 466.5 281.4 464.0 282.1 461.3 282.8 458.6 283.3 455.9 283.7 453.2 284.1 450.4 284.3 447.7 284.6 444.9 284.9 442.2 285.1 439.4 285.2 436.7 285.2 433.9 285.3 431.1 285.3 428.4 285.3 425.6 285.4 422.8 285.4 420.1 285.4 417.3 285.4 414.5 285.4 411.8 285.4 409.0 285.4 406.3 285.4 403.5 285.4 400.7 285.4 398.0 285.4 395.2 285.4 392.4 285.4 389.7 285.4 386.9 285.4 384.1 285.4 381.4 285.4 378.6 285.4 375.8 285.4 373.1 285.4 370.3 285.4 367.5 285.4 364.8 285.5 362.0 311.4 361.3 311.4 519.7 175.9 519.7Z" fill="#f61f35"/><path d="M176.0 498.0L178.8 497.4 181.6 497.2 184.4 497.0 187.2 496.9 190.1 496.8 192.9 496.7 195.7 496.6 198.6 496.5 201.4 496.4 204.2 496.3 207.1 496.1 209.9 496.0 212.7 495.9 215.6 495.8 218.4 495.7 221.2 495.6 224.1 495.5 226.9 495.3 229.7 495.2 232.6 495.1 235.4 494.9 238.2 494.8 241.1 494.6 243.9 494.4 246.7 494.2 249.5 493.9 252.3 493.3 255.0 492.6 257.6 491.5 260.1 490.2 262.5 488.8 264.7 487.0 266.7 485.0 268.7 483.0 271.0 481.4 273.2 479.9 275.2 478.2 277.1 476.2 278.8 474.1 280.2 471.8 281.4 469.3 282.3 466.6 283.1 463.9 283.7 461.1 284.2 458.3 284.6 455.5 284.9 452.7 285.2 449.9 285.5 447.1 285.7 444.2 285.8 441.4 285.9 438.6 286.0 435.7 286.0 432.9 286.1 430.1 286.1 427.2 286.1 424.4 286.1 421.6 286.2 418.7 286.2 415.9 286.2 413.0 286.2 410.2 286.2 407.4 286.2 404.5 286.2 401.7 286.2 398.9 286.2 396.0 286.2 393.2 286.2 390.4 286.3 387.5 286.3 384.7 286.3 381.9 286.3 379.0 286.3 376.2 286.3 373.3 286.3 370.5 286.3 367.7 286.3 364.8 286.3 362.0 311.4 361.3 311.4 519.7 175.9 519.7Z" fill="#f31b34"/><path d="M176.0 502.5L178.8 501.9 181.7 501.6 184.6 501.5 187.5 501.4 190.4 501.3 193.3 501.2 196.2 501.2 199.1 501.1 202.0 501.0 204.9 501.0 207.8 500.9 210.7 500.8 213.6 500.7 216.6 500.6 219.5 500.6 222.4 500.4 225.3 500.3 228.2 500.2 231.1 500.0 234.0 499.9 236.9 499.7 239.8 499.5 242.7 499.3 245.6 499.0 248.4 498.7 251.3 498.3 254.2 497.8 257.0 497.1 259.7 496.3 262.4 495.2 264.9 493.8 267.3 492.1 269.4 490.1 271.4 488.0 273.5 486.1 275.5 484.2 277.3 482.0 278.9 479.7 280.3 477.3 281.5 474.7 282.5 472.0 283.3 469.2 284.0 466.4 284.5 463.6 285.0 460.7 285.4 457.8 285.8 454.9 286.1 452.1 286.3 449.2 286.5 446.3 286.6 443.4 286.7 440.5 286.8 437.5 286.8 434.6 286.8 431.7 286.9 428.8 286.9 425.9 286.9 423.0 286.9 420.1 287.0 417.2 287.0 414.3 287.0 411.4 287.0 408.5 287.0 405.6 287.0 402.7 287.0 399.8 287.0 396.9 287.1 394.0 287.1 391.1 287.1 388.2 287.1 385.2 287.1 382.3 287.1 379.4 287.1 376.5 287.1 373.6 287.1 370.7 287.1 367.8 287.1 364.9 287.1 362.0 311.4 361.3 311.4 519.7 175.9 519.7Z" fill="#e61631"/><path d="M176.0 507.0L176.4 506.9 176.6 506.7 177.1 506.6 178.1 506.4 180.3 506.2 183.9 506.0 189.5 505.9 197.0 505.8 205.4 505.7 214.3 505.6 222.7 505.3 230.0 505.0 236.4 504.6 242.4 504.1 248.1 503.5 253.3 502.8 257.9 502.0 262.0 501.0 265.3 499.8 268.0 498.5 270.1 497.0 271.8 495.4 273.4 493.7 275.0 492.0 276.5 490.2 277.9 488.4 279.1 486.6 280.1 484.6 281.1 482.4 282.0 480.0 282.9 477.4 283.6 474.6 284.3 471.6 285.0 468.5 285.5 465.3 286.0 462.0 286.4 459.2 286.7 457.0 287.0 454.8 287.2 451.6 287.3 447.0 287.5 440.0 287.6 429.3 287.8 415.3 287.8 399.6 287.9 384.3 288.0 371.1 288.0 362.0 311.4 361.3 311.4 519.7 175.9 519.7Z" fill="#d10c2c"/></g><path d="M289.4 362.0L289.4 420.0 287.3 437.0 285.7 450.8 285.0 464.7 284.3 474.3 281.5 478.5 280.1 492.3 278.1 512.0 310.0 520.0 310.0 362.0Z" fill="#1f08da"/><path d="M285.6 362.0L289.5 362.0 289.5 428.0 288.2 440.0 285.0 440.0 285.6 428.0Z" fill="#000"/><path d="M285.7 405.0L289.4 405.0 289.4 423.0 285.7 423.0Z" fill="#dfe6f0"/><path d="M285.2 456.0L288.0 456.0 288.0 464.0 285.2 464.0Z" fill="#dfe6f0"/><path d="M284.5 474.0L281.5 478.5 280.1 492.3 278.1 512.0 282.5 512.0 284.5 492.0 285.0 478.0Z" fill="#000"/><mask id="mk21" maskUnits="userSpaceOnUse" x="173.9" y="359.3" width="139.5" height="162.4"><rect x="173.9" y="359.3" width="139.5" height="162.4" fill="#fff"/><rect transform="translate(196 398.5) rotate(-75)" x="-8.0" y="-9.5" width="15.9" height="10.3" fill="#000"/><rect transform="translate(256 446.5) rotate(-40)" x="-8.0" y="-9.5" width="15.9" height="10.3" fill="#000"/><rect transform="translate(283.6 414) rotate(90)" x="-6.1" y="-6.9" width="12.2" height="7.5" fill="#000"/><rect transform="translate(249.9 487.6) rotate(0)" x="-8.0" y="-9.5" width="15.9" height="10.3" fill="#000"/></mask><g mask="url(#mk21)"><path d="M176.0 421.0L176.8 420.7 178.0 420.3 179.4 419.8 180.8 419.2 182.3 418.5 183.6 417.6 184.8 416.5 186.1 415.4 187.4 414.0 188.6 412.5 189.7 410.9 190.7 409.1 191.6 407.1 192.4 404.8 193.1 402.4 193.7 399.9 194.3 397.4 194.9 395.0 195.5 392.6 196.0 390.2 196.5 387.8 196.9 385.4 197.3 383.1 197.7 380.9 198.0 378.8 198.3 376.8 198.6 374.8 198.8 373.0 199.0 371.2 199.2 369.6 199.3 368.0 199.4 366.5 199.4 365.1 199.5 363.8 199.5 362.8 199.5 362.0" fill="none" stroke="#000" stroke-width="1.4"/><path d="M176.0 459.0L176.7 458.8 177.4 458.6 178.4 458.4 179.7 458.1 181.4 457.7 183.6 457.1 186.4 456.3 189.8 455.4 193.6 454.3 197.7 453.3 201.9 452.3 206.2 451.4 210.7 450.7 215.7 450.1 220.8 449.5 225.8 449.0 230.5 448.5 234.4 448.0 237.6 447.6 240.4 447.2 242.7 446.9 244.7 446.5 246.6 446.2 248.5 445.8 250.3 445.4 251.9 445.0 253.4 444.6 254.7 444.2 255.9 443.7 257.0 443.0 257.9 442.2 258.5 441.3 259.0 440.4 259.5 439.3 260.0 438.1 260.7 436.9 261.5 435.6 262.4 434.2 263.3 432.7 264.3 431.1 265.2 429.3 266.1 427.5 267.0 425.6 267.8 423.5 268.7 421.4 269.5 419.1 270.2 416.7 270.8 414.0 271.3 411.2 271.6 408.2 271.9 405.1 272.1 401.7 272.3 398.0 272.5 393.9 272.6 388.9 272.7 383.0 272.8 376.7 272.8 370.7 272.8 365.6 272.8 362.0" fill="none" stroke="#000" stroke-width="1.4"/><path d="M176.0 489.0L176.5 488.9 176.9 488.8 177.5 488.7 178.6 488.5 180.6 488.3 183.6 488.1 188.2 487.8 194.3 487.4 201.2 486.9 208.2 486.5 214.8 486.1 220.3 485.8 224.7 485.6 228.5 485.5 231.8 485.5 234.8 485.5 237.5 485.4 240.0 485.3 242.2 485.2 244.1 485.0 245.7 484.9 247.1 484.7 248.5 484.4 249.9 483.9 251.4 483.2 252.8 482.4 254.2 481.5 255.6 480.5 256.8 479.5 258.0 478.5 259.0 477.6 259.9 476.6 260.7 475.6 261.6 474.6 262.5 473.8 263.5 473.0 264.7 472.4 266.1 472.0 267.6 471.6 269.0 471.2 270.5 470.8 271.8 470.2 273.1 469.5 274.3 468.7 275.6 467.9 276.7 466.9 277.8 465.9 278.7 464.7 279.5 463.3 280.2 461.8 280.8 460.2 281.3 458.5 281.8 456.7 282.2 455.0 282.6 453.2 282.8 451.2 283.1 449.3 283.3 447.3 283.4 445.5 283.6 443.9 283.8 442.6 283.9 441.7 284.0 440.8 284.1 439.9 284.2 438.7 284.3 437.0 284.4 435.2 284.4 433.6 284.5 431.7 284.5 429.1 284.6 425.3 284.6 420.0 284.6 412.0 284.6 401.6 284.6 389.9 284.6 378.6 284.6 368.8 284.6 362.0" fill="none" stroke="#000" stroke-width="1.4"/></g><text transform="translate(196 398.5) rotate(-75) scale(1 1.12)" font-size="11" text-anchor="middle" style="stroke:#000;stroke-width:0.35px;fill:#000">1.8</text><text transform="translate(256 446.5) rotate(-40) scale(1 1.12)" font-size="11" text-anchor="middle" style="stroke:#000;stroke-width:0.35px;fill:#000">2.2</text><text transform="translate(283.6 414) rotate(90) scale(1 1.12)" font-size="8" text-anchor="middle" style="stroke:#000;stroke-width:0.35px;fill:#000">0.2</text><text transform="translate(249.9 487.6) rotate(0) scale(1 1.12)" font-size="11" text-anchor="middle" style="stroke:#000;stroke-width:0.35px;fill:#000">2.6</text></g><path d="M183.90 511.70v-5.2M183.90 369.30v5.2M183.90 511.70h5.2M303.40 511.70h-5.2M189.88 511.70v-3.0M189.88 369.30v3.0M183.90 504.58h3.0M303.40 504.58h-3.0M195.85 511.70v-3.0M195.85 369.30v3.0M183.90 497.46h3.0M303.40 497.46h-3.0M201.82 511.70v-3.0M201.82 369.30v3.0M183.90 490.34h3.0M303.40 490.34h-3.0M207.80 511.70v-3.0M207.80 369.30v3.0M183.90 483.22h3.0M303.40 483.22h-3.0M213.78 511.70v-5.2M213.78 369.30v5.2M183.90 476.10h5.2M303.40 476.10h-5.2M219.75 511.70v-3.0M219.75 369.30v3.0M183.90 468.98h3.0M303.40 468.98h-3.0M225.72 511.70v-3.0M225.72 369.30v3.0M183.90 461.86h3.0M303.40 461.86h-3.0M231.70 511.70v-3.0M231.70 369.30v3.0M183.90 454.74h3.0M303.40 454.74h-3.0M237.68 511.70v-3.0M237.68 369.30v3.0M183.90 447.62h3.0M303.40 447.62h-3.0M243.65 511.70v-5.2M243.65 369.30v5.2M183.90 440.50h5.2M303.40 440.50h-5.2M249.62 511.70v-3.0M249.62 369.30v3.0M183.90 433.38h3.0M303.40 433.38h-3.0M255.60 511.70v-3.0M255.60 369.30v3.0M183.90 426.26h3.0M303.40 426.26h-3.0M261.57 511.70v-3.0M261.57 369.30v3.0M183.90 419.14h3.0M303.40 419.14h-3.0M267.55 511.70v-3.0M267.55 369.30v3.0M183.90 412.02h3.0M303.40 412.02h-3.0M273.52 511.70v-5.2M273.52 369.30v5.2M183.90 404.90h5.2M303.40 404.90h-5.2M279.50 511.70v-3.0M279.50 369.30v3.0M183.90 397.78h3.0M303.40 397.78h-3.0M285.48 511.70v-3.0M285.48 369.30v3.0M183.90 390.66h3.0M303.40 390.66h-3.0M291.45 511.70v-3.0M291.45 369.30v3.0M183.90 383.54h3.0M303.40 383.54h-3.0M297.42 511.70v-3.0M297.42 369.30v3.0M183.90 376.42h3.0M303.40 376.42h-3.0M303.40 511.70v-5.2M303.40 369.30v5.2M183.90 369.30h5.2M303.40 369.30h-5.2" stroke="#000" stroke-width="1.25" fill="none"/><rect x="183.9" y="369.3" width="119.50" height="142.40" fill="none" stroke="#000" stroke-width="1.6"/><text transform="translate(185.30 525.40) scale(1 1.15)" font-size="10.5" text-anchor="middle">−2</text><text transform="translate(215.18 525.40) scale(1 1.15)" font-size="10.5" text-anchor="middle">−1</text><text transform="translate(243.65 525.40) scale(1 1.15)" font-size="10.5" text-anchor="middle">0</text><text transform="translate(273.52 525.40) scale(1 1.15)" font-size="10.5" text-anchor="middle">1</text><text transform="translate(303.40 525.40) scale(1 1.15)" font-size="10.5" text-anchor="middle">2</text><g clip-path="url(#cp22)"><rect x="331.0" y="369.3" width="119.80" height="142.40" fill="#fe8a5f"/><g filter="url(#bl22)"><path d="M323.0 400.0L323.8 399.8 324.9 399.6 326.1 399.4 327.6 399.0 329.2 398.6 331.0 398.0 333.0 397.3 335.3 396.4 337.8 395.4 340.3 394.3 342.8 393.2 345.0 392.0 347.1 390.8 349.1 389.6 351.0 388.2 352.8 386.9 354.5 385.5 356.0 384.0 357.3 382.5 358.5 380.9 359.6 379.2 360.5 377.6 361.3 375.8 362.0 374.0 362.6 372.0 363.0 369.7 363.4 367.4 363.6 365.2 363.8 363.3 364.0 362.0 458.8 361.3 458.8 519.7 323.0 519.7Z" fill="#ff8159"/><path d="M323.0 411.5L324.0 411.3 325.0 411.1 325.9 410.8 326.9 410.6 327.9 410.4 328.9 410.2 329.8 409.9 330.8 409.7 331.8 409.4 332.8 409.2 333.7 408.9 334.7 408.6 335.6 408.3 336.6 408.0 337.6 407.7 338.5 407.4 339.5 407.2 340.4 406.9 341.4 406.6 342.3 406.3 343.3 406.0 344.2 405.7 345.2 405.4 346.1 405.1 347.1 404.8 348.0 404.5 349.0 404.1 349.9 403.8 350.8 403.4 351.7 403.0 352.7 402.6 353.6 402.2 354.5 401.8 355.4 401.3 356.2 400.8 357.1 400.3 357.9 399.8 358.8 399.2 359.5 398.6 360.3 397.9 361.0 397.2 361.6 396.5 362.2 395.7 362.7 394.9 363.2 394.1 363.7 393.3 364.2 392.5 364.7 391.7 365.1 390.8 365.5 389.9 365.9 389.1 366.3 388.2 366.6 387.3 367.0 386.4 367.3 385.5 367.6 384.6 367.9 383.6 368.2 382.7 368.4 381.7 368.7 380.8 368.9 379.8 369.2 378.9 369.4 377.9 369.6 376.9 369.7 376.0 369.9 375.0 370.0 374.0 370.1 373.0 370.2 372.0 370.3 371.0 370.4 370.0 370.5 369.0 370.6 368.0 370.6 367.0 370.7 366.0 370.8 365.0 370.8 364.0 370.9 363.0 371.0 362.0 458.8 361.3 458.8 519.7 323.0 519.7Z" fill="#ff7b56"/><path d="M323.0 423.0L324.2 422.7 325.4 422.4 326.6 422.1 327.8 421.9 329.0 421.6 330.2 421.3 331.4 421.0 332.6 420.8 333.8 420.5 335.0 420.2 336.2 419.9 337.4 419.5 338.6 419.2 339.8 418.9 341.0 418.6 342.2 418.3 343.4 418.0 344.6 417.7 345.7 417.5 346.9 417.2 348.1 416.9 349.3 416.6 350.5 416.3 351.7 416.0 352.9 415.7 354.1 415.4 355.3 415.1 356.4 414.7 357.6 414.4 358.8 413.9 359.9 413.5 361.1 413.1 362.2 412.6 363.3 412.1 364.4 411.5 365.5 410.9 366.5 410.2 367.5 409.5 368.4 408.7 369.3 407.8 370.0 406.8 370.6 405.8 371.2 404.8 371.7 403.7 372.2 402.6 372.6 401.5 373.0 400.4 373.4 399.3 373.7 398.2 374.0 397.0 374.3 395.9 374.6 394.7 374.9 393.6 375.1 392.4 375.3 391.2 375.6 390.0 375.8 388.8 376.0 387.7 376.2 386.5 376.4 385.3 376.5 384.1 376.7 382.9 376.8 381.7 377.0 380.4 377.1 379.2 377.2 378.0 377.3 376.8 377.4 375.5 377.4 374.3 377.5 373.1 377.6 371.9 377.6 370.6 377.7 369.4 377.7 368.2 377.8 366.9 377.8 365.7 377.9 364.5 377.9 363.2 378.0 362.0 458.8 361.3 458.8 519.7 323.0 519.7Z" fill="#ff7554"/><path d="M323.0 434.5L324.4 434.1 325.8 433.8 327.3 433.4 328.7 433.1 330.1 432.8 331.5 432.5 333.0 432.1 334.4 431.8 335.8 431.5 337.3 431.2 338.7 430.8 340.1 430.5 341.5 430.2 343.0 429.9 344.4 429.5 345.8 429.2 347.3 428.9 348.7 428.6 350.1 428.3 351.6 428.1 353.0 427.8 354.4 427.5 355.9 427.2 357.3 427.0 358.7 426.7 360.1 426.4 361.6 426.0 363.0 425.7 364.4 425.3 365.8 424.9 367.2 424.4 368.5 423.9 369.9 423.4 371.3 422.8 372.6 422.1 373.8 421.4 375.1 420.6 376.2 419.7 377.3 418.7 378.3 417.6 379.1 416.4 379.7 415.1 380.2 413.8 380.7 412.5 381.1 411.1 381.5 409.7 381.8 408.3 382.1 406.9 382.3 405.5 382.5 404.1 382.7 402.7 382.9 401.2 383.1 399.8 383.2 398.4 383.4 397.0 383.5 395.5 383.6 394.1 383.8 392.6 383.9 391.2 384.0 389.7 384.1 388.3 384.2 386.8 384.3 385.4 384.4 383.9 384.4 382.5 384.5 381.0 384.5 379.6 384.6 378.1 384.6 376.6 384.7 375.2 384.7 373.7 384.8 372.2 384.8 370.8 384.8 369.3 384.9 367.9 384.9 366.4 384.9 364.9 385.0 363.5 385.0 362.0 458.8 361.3 458.8 519.7 323.0 519.7Z" fill="#ff6e52"/><path d="M323.0 446.0L323.7 445.8 324.7 445.6 325.8 445.2 327.2 444.9 328.9 444.5 331.0 444.0 333.5 443.4 336.4 442.8 339.6 442.1 343.0 441.4 346.5 440.7 350.0 440.0 353.6 439.4 357.4 438.7 361.4 438.1 365.2 437.5 368.8 436.8 372.0 436.0 374.8 435.2 377.3 434.3 379.6 433.4 381.6 432.4 383.4 431.3 385.0 430.0 386.3 428.7 387.4 427.3 388.2 425.9 388.9 424.2 389.5 422.3 390.0 420.0 390.5 417.5 390.8 414.7 391.0 411.8 391.2 408.4 391.3 404.5 391.5 400.0 391.6 394.3 391.8 387.3 391.8 379.8 391.9 372.5 392.0 366.3 392.0 362.0 458.8 361.3 458.8 519.7 323.0 519.7Z" fill="#ff6750"/><path d="M323.0 448.5L324.7 448.1 326.4 447.7 328.1 447.2 329.8 446.8 331.4 446.4 333.1 445.9 334.8 445.4 336.5 445.0 338.2 444.6 339.9 444.2 341.6 443.8 343.3 443.5 345.0 443.1 346.7 442.8 348.4 442.5 350.1 442.2 351.8 441.9 353.6 441.6 355.3 441.4 357.0 441.1 358.7 440.8 360.4 440.5 362.2 440.3 363.9 440.0 365.6 439.7 367.3 439.4 369.0 439.0 370.7 438.7 372.4 438.3 374.1 437.8 375.8 437.3 377.4 436.8 379.1 436.2 380.7 435.5 382.3 434.8 383.8 433.9 385.2 433.0 386.6 431.9 387.8 430.6 388.9 429.2 389.7 427.7 390.4 426.1 391.0 424.5 391.4 422.8 391.8 421.1 392.2 419.4 392.4 417.7 392.7 416.0 392.9 414.2 393.0 412.5 393.2 410.8 393.3 409.0 393.4 407.3 393.5 405.5 393.5 403.8 393.6 402.1 393.7 400.3 393.8 398.6 393.8 396.8 393.9 395.1 394.0 393.4 394.0 391.6 394.1 389.9 394.1 388.1 394.2 386.4 394.2 384.7 394.2 382.9 394.3 381.2 394.3 379.4 394.3 377.7 394.3 375.9 394.3 374.2 394.3 372.5 394.4 370.7 394.4 369.0 394.4 367.2 394.4 365.5 394.4 363.7 394.4 362.0 458.8 361.3 458.8 519.7 323.0 519.7Z" fill="#ff614e"/><path d="M323.0 451.0L324.7 450.6 326.5 450.2 328.2 449.8 330.0 449.3 331.7 448.8 333.4 448.2 335.0 447.7 336.7 447.1 338.5 446.6 340.2 446.2 341.9 445.8 343.7 445.5 345.5 445.2 347.2 444.9 349.0 444.6 350.8 444.3 352.5 444.0 354.3 443.8 356.1 443.5 357.8 443.2 359.6 443.0 361.4 442.7 363.1 442.4 364.9 442.1 366.7 441.8 368.4 441.5 370.2 441.1 371.9 440.8 373.7 440.3 375.4 439.9 377.1 439.4 378.8 438.8 380.5 438.2 382.2 437.5 383.8 436.8 385.3 435.9 386.8 434.9 388.2 433.7 389.4 432.4 390.5 431.0 391.3 429.4 392.1 427.8 392.7 426.1 393.2 424.4 393.6 422.7 394.0 420.9 394.3 419.2 394.6 417.4 394.8 415.6 395.0 413.8 395.2 412.1 395.3 410.3 395.4 408.5 395.6 406.7 395.7 404.9 395.8 403.1 395.9 401.4 396.0 399.6 396.1 397.8 396.2 396.0 396.3 394.2 396.3 392.4 396.4 390.6 396.5 388.8 396.5 387.1 396.6 385.3 396.6 383.5 396.7 381.7 396.7 379.9 396.7 378.1 396.7 376.3 396.8 374.5 396.8 372.7 396.8 370.9 396.8 369.2 396.8 367.4 396.9 365.6 396.9 363.8 396.9 362.0 458.8 361.3 458.8 519.7 323.0 519.7Z" fill="#ff5a4b"/><path d="M323.0 453.5L324.8 453.1 326.6 452.7 328.4 452.3 330.1 451.8 331.9 451.2 333.6 450.6 335.3 449.9 337.0 449.3 338.8 448.7 340.5 448.2 342.3 447.8 344.1 447.5 345.9 447.2 347.8 446.9 349.6 446.7 351.4 446.4 353.2 446.2 355.0 445.9 356.9 445.7 358.7 445.4 360.5 445.1 362.3 444.8 364.1 444.5 365.9 444.2 367.7 443.9 369.5 443.5 371.3 443.2 373.1 442.8 374.9 442.4 376.7 442.0 378.5 441.4 380.2 440.9 381.9 440.2 383.6 439.5 385.3 438.8 386.9 437.9 388.4 436.8 389.8 435.6 391.0 434.2 392.1 432.7 393.0 431.1 393.7 429.5 394.4 427.7 394.9 426.0 395.4 424.2 395.8 422.4 396.1 420.6 396.4 418.8 396.7 417.0 397.0 415.2 397.2 413.4 397.4 411.5 397.5 409.7 397.7 407.9 397.8 406.0 398.0 404.2 398.1 402.4 398.2 400.5 398.3 398.7 398.4 396.9 398.6 395.0 398.7 393.2 398.8 391.4 398.8 389.5 398.9 387.7 399.0 385.9 399.0 384.0 399.1 382.2 399.1 380.4 399.1 378.5 399.2 376.7 399.2 374.9 399.2 373.0 399.2 371.2 399.3 369.3 399.3 367.5 399.3 365.7 399.3 363.8 399.4 362.0 458.8 361.3 458.8 519.7 323.0 519.7Z" fill="#ff5349"/><path d="M323.0 456.0L323.8 455.8 324.8 455.6 326.1 455.4 327.5 455.0 329.0 454.7 330.6 454.2 332.2 453.6 333.8 452.9 335.5 452.2 337.4 451.4 339.5 450.6 341.9 450.0 344.7 449.5 347.9 449.0 351.3 448.6 354.8 448.2 358.3 447.7 361.7 447.2 365.1 446.6 368.6 446.0 372.1 445.4 375.5 444.7 378.6 443.9 381.4 443.0 383.8 442.1 386.0 441.2 387.9 440.2 389.7 439.0 391.2 437.6 392.7 435.9 394.0 433.9 395.1 431.8 396.0 429.5 396.9 426.8 397.6 423.8 398.3 420.4 399.0 416.4 399.5 411.7 400.0 406.7 400.4 401.7 400.8 396.7 401.1 392.2 401.3 387.9 401.5 383.7 401.6 379.6 401.6 375.8 401.7 372.4 401.7 369.6 401.7 367.4 401.8 365.7 401.8 364.4 401.8 363.4 401.8 362.7 401.8 362.0 458.8 361.3 458.8 519.7 323.0 519.7Z" fill="#ff4d47"/><path d="M323.0 457.2L324.9 456.9 326.7 456.5 328.6 456.0 330.4 455.5 332.2 454.8 334.0 454.1 335.7 453.3 337.5 452.6 339.3 452.0 341.1 451.5 343.0 451.0 344.9 450.7 346.7 450.4 348.6 450.2 350.5 449.9 352.4 449.7 354.3 449.5 356.2 449.2 358.1 449.0 360.0 448.7 361.9 448.4 363.8 448.1 365.6 447.8 367.5 447.4 369.4 447.1 371.3 446.8 373.2 446.4 375.0 446.1 376.9 445.6 378.7 445.2 380.6 444.6 382.4 444.0 384.2 443.4 385.9 442.6 387.6 441.8 389.3 440.8 390.8 439.7 392.2 438.4 393.5 437.0 394.5 435.4 395.5 433.7 396.3 432.0 397.0 430.2 397.5 428.4 398.1 426.6 398.5 424.7 398.9 422.9 399.3 421.0 399.6 419.1 399.9 417.2 400.2 415.3 400.4 413.4 400.6 411.5 400.8 409.6 401.0 407.7 401.1 405.8 401.3 403.9 401.4 402.0 401.6 400.1 401.7 398.2 401.8 396.3 401.9 394.4 402.1 392.5 402.2 390.6 402.3 388.7 402.3 386.8 402.4 384.9 402.4 383.0 402.5 381.1 402.5 379.2 402.5 377.3 402.6 375.4 402.6 373.4 402.6 371.5 402.6 369.6 402.7 367.7 402.7 365.8 402.7 363.9 402.7 362.0 458.8 361.3 458.8 519.7 323.0 519.7Z" fill="#ff4845"/><path d="M323.0 458.5L324.9 458.1 326.8 457.7 328.7 457.2 330.5 456.7 332.3 456.0 334.1 455.3 335.9 454.5 337.7 453.8 339.5 453.2 341.4 452.7 343.3 452.2 345.2 451.9 347.1 451.6 349.0 451.3 350.9 451.1 352.8 450.9 354.7 450.6 356.6 450.4 358.6 450.1 360.5 449.8 362.4 449.5 364.3 449.2 366.2 448.9 368.1 448.6 370.0 448.3 371.9 447.9 373.8 447.6 375.7 447.2 377.6 446.8 379.5 446.3 381.3 445.8 383.2 445.2 385.0 444.5 386.7 443.7 388.5 442.9 390.1 441.9 391.7 440.7 393.1 439.4 394.3 437.9 395.4 436.3 396.4 434.6 397.2 432.9 397.9 431.1 398.5 429.3 399.0 427.4 399.5 425.5 399.9 423.6 400.3 421.8 400.6 419.8 400.9 417.9 401.2 416.0 401.4 414.1 401.6 412.2 401.8 410.3 402.0 408.3 402.2 406.4 402.3 404.5 402.4 402.6 402.6 400.6 402.7 398.7 402.8 396.8 402.9 394.8 403.0 392.9 403.1 391.0 403.2 389.1 403.3 387.1 403.3 385.2 403.4 383.3 403.4 381.3 403.5 379.4 403.5 377.5 403.5 375.5 403.5 373.6 403.6 371.7 403.6 369.7 403.6 367.8 403.6 365.9 403.6 363.9 403.6 362.0 458.8 361.3 458.8 519.7 323.0 519.7Z" fill="#ff4343"/><path d="M323.0 459.8L324.9 459.3 326.8 458.9 328.7 458.4 330.6 457.9 332.4 457.2 334.2 456.5 336.0 455.7 337.9 455.0 339.7 454.4 341.6 453.8 343.5 453.4 345.5 453.1 347.4 452.8 349.3 452.5 351.3 452.3 353.2 452.0 355.1 451.8 357.1 451.5 359.0 451.2 361.0 451.0 362.9 450.6 364.8 450.3 366.8 450.0 368.7 449.7 370.6 449.4 372.6 449.1 374.5 448.8 376.4 448.4 378.3 448.0 380.2 447.5 382.1 446.9 383.9 446.3 385.8 445.6 387.6 444.8 389.3 443.9 391.0 442.9 392.5 441.7 394.0 440.4 395.2 438.9 396.3 437.3 397.2 435.6 398.1 433.8 398.8 432.0 399.4 430.1 400.0 428.2 400.4 426.3 400.9 424.4 401.3 422.5 401.6 420.6 401.9 418.7 402.2 416.7 402.4 414.8 402.7 412.8 402.8 410.9 403.0 408.9 403.2 407.0 403.3 405.0 403.4 403.1 403.6 401.1 403.7 399.2 403.8 397.2 403.9 395.3 404.0 393.3 404.1 391.4 404.2 389.4 404.2 387.4 404.3 385.5 404.3 383.5 404.4 381.6 404.4 379.6 404.4 377.7 404.5 375.7 404.5 373.7 404.5 371.8 404.5 369.8 404.5 367.9 404.5 365.9 404.6 364.0 404.6 362.0 458.8 361.3 458.8 519.7 323.0 519.7Z" fill="#ff3d40"/><path d="M323.0 461.0L323.8 460.8 325.0 460.6 326.3 460.2 327.8 459.9 329.4 459.5 331.0 459.0 332.6 458.4 334.1 457.8 335.8 457.1 337.6 456.3 339.6 455.6 342.0 455.0 344.8 454.5 348.0 454.0 351.4 453.5 354.9 453.0 358.5 452.5 362.0 452.0 365.5 451.4 369.2 450.9 372.9 450.3 376.6 449.7 380.0 448.9 383.0 448.0 385.7 447.0 388.2 446.0 390.4 444.9 392.4 443.6 394.3 442.0 396.0 440.0 397.5 437.7 398.8 435.1 399.9 432.3 400.9 429.2 401.7 425.8 402.5 422.0 403.2 417.8 403.7 413.2 404.1 408.3 404.5 403.2 404.7 398.1 405.0 393.0 405.2 387.6 405.3 381.7 405.4 375.7 405.4 370.1 405.5 365.4 405.5 362.0 458.8 361.3 458.8 519.7 323.0 519.7Z" fill="#ff3a3f"/><path d="M323.0 465.2L325.0 464.8 326.9 464.4 328.9 463.9 330.8 463.3 332.7 462.6 334.6 461.9 336.4 461.1 338.3 460.4 340.2 459.7 342.1 459.2 344.1 458.7 346.0 458.2 348.0 457.8 350.0 457.5 352.0 457.1 353.9 456.8 355.9 456.4 357.9 456.1 359.9 455.7 361.8 455.4 363.8 455.0 365.8 454.6 367.8 454.2 369.7 453.8 371.7 453.4 373.6 453.0 375.6 452.5 377.5 452.0 379.5 451.5 381.4 450.8 383.2 450.1 385.1 449.3 386.9 448.5 388.6 447.6 390.3 446.5 392.0 445.3 393.5 444.0 394.8 442.6 396.1 441.0 397.2 439.3 398.1 437.5 399.0 435.7 399.7 433.9 400.4 432.0 401.0 430.0 401.5 428.1 402.0 426.1 402.5 424.2 402.9 422.2 403.2 420.2 403.5 418.2 403.8 416.2 404.0 414.2 404.3 412.2 404.5 410.2 404.7 408.2 404.8 406.2 405.0 404.2 405.1 402.2 405.3 400.2 405.4 398.2 405.5 396.2 405.6 394.2 405.7 392.2 405.8 390.2 405.9 388.2 406.0 386.1 406.0 384.1 406.1 382.1 406.1 380.1 406.2 378.1 406.2 376.1 406.2 374.1 406.2 372.1 406.3 370.0 406.3 368.0 406.3 366.0 406.3 364.0 406.4 362.0 458.8 361.3 458.8 519.7 323.0 519.7Z" fill="#ff383e"/><path d="M323.0 469.5L325.0 469.1 327.0 468.6 329.0 468.1 330.9 467.5 332.9 466.8 334.8 466.1 336.6 465.3 338.6 464.6 340.5 463.9 342.4 463.3 344.4 462.7 346.3 462.2 348.3 461.7 350.3 461.2 352.3 460.8 354.3 460.3 356.3 459.9 358.3 459.5 360.3 459.1 362.3 458.6 364.2 458.2 366.2 457.7 368.2 457.2 370.2 456.7 372.1 456.2 374.1 455.7 376.0 455.1 378.0 454.5 379.9 453.8 381.8 453.0 383.6 452.2 385.4 451.3 387.2 450.3 388.9 449.2 390.5 448.0 392.1 446.7 393.5 445.3 394.8 443.8 396.1 442.1 397.1 440.4 398.1 438.6 399.0 436.8 399.8 434.9 400.5 432.9 401.1 431.0 401.7 429.0 402.2 427.1 402.7 425.1 403.1 423.1 403.5 421.1 403.8 419.1 404.1 417.0 404.4 415.0 404.7 413.0 404.9 411.0 405.1 408.9 405.3 406.9 405.5 404.9 405.7 402.8 405.9 400.8 406.0 398.8 406.2 396.7 406.3 394.7 406.4 392.6 406.5 390.6 406.6 388.6 406.7 386.5 406.8 384.5 406.8 382.4 406.9 380.4 406.9 378.3 407.0 376.3 407.0 374.3 407.1 372.2 407.1 370.2 407.1 368.1 407.2 366.1 407.2 364.0 407.2 362.0 458.8 361.3 458.8 519.7 323.0 519.7Z" fill="#ff363d"/><path d="M323.0 473.8L325.0 473.3 327.1 472.9 329.1 472.3 331.0 471.7 333.0 471.0 334.9 470.3 336.9 469.5 338.8 468.8 340.8 468.1 342.7 467.4 344.7 466.8 346.6 466.1 348.6 465.5 350.6 465.0 352.6 464.4 354.6 463.9 356.6 463.4 358.6 462.9 360.7 462.4 362.7 461.9 364.7 461.4 366.7 460.9 368.7 460.3 370.6 459.7 372.6 459.0 374.6 458.4 376.5 457.7 378.4 456.9 380.3 456.1 382.2 455.3 384.0 454.3 385.8 453.2 387.5 452.1 389.1 450.9 390.7 449.5 392.2 448.1 393.6 446.6 394.9 445.0 396.0 443.3 397.1 441.5 398.1 439.7 399.0 437.8 399.8 435.9 400.5 433.9 401.2 432.0 401.9 430.0 402.4 428.0 402.9 426.0 403.4 424.0 403.8 421.9 404.1 419.9 404.5 417.8 404.8 415.8 405.1 413.7 405.3 411.7 405.6 409.6 405.9 407.6 406.1 405.5 406.3 403.4 406.5 401.4 406.7 399.3 406.8 397.2 407.0 395.2 407.1 393.1 407.2 391.0 407.3 389.0 407.4 386.9 407.5 384.8 407.6 382.7 407.6 380.7 407.7 378.6 407.8 376.5 407.8 374.4 407.9 372.4 407.9 370.3 408.0 368.2 408.0 366.1 408.1 364.1 408.1 362.0 458.8 361.3 458.8 519.7 323.0 519.7Z" fill="#ff353d"/><path d="M323.0 478.0L323.7 477.8 324.7 477.7 325.8 477.4 327.2 477.1 328.9 476.6 331.0 476.0 333.5 475.1 336.5 474.0 339.8 472.8 343.2 471.4 346.6 470.2 350.0 469.0 353.3 468.0 356.8 467.0 360.2 466.0 363.7 465.0 366.9 464.0 370.0 463.0 372.8 461.9 375.6 460.9 378.1 459.8 380.6 458.6 382.8 457.4 385.0 456.0 387.0 454.6 388.8 453.1 390.5 451.5 392.1 449.8 393.6 448.0 395.0 446.0 396.4 443.8 397.7 441.6 398.9 439.1 400.0 436.6 401.0 433.8 402.0 431.0 402.9 428.0 403.6 424.7 404.3 421.4 404.9 417.9 405.5 414.4 406.0 411.0 406.5 407.6 406.9 404.3 407.2 401.0 407.5 397.6 407.7 393.9 408.0 390.0 408.2 385.4 408.4 380.1 408.6 374.7 408.8 369.5 408.9 365.1 409.0 362.0 458.8 361.3 458.8 519.7 323.0 519.7Z" fill="#ff303b"/><path d="M323.0 488.5L325.3 488.2 327.6 487.9 329.8 487.5 332.1 487.0 334.3 486.5 336.5 486.0 338.7 485.4 340.9 484.9 343.1 484.3 345.3 483.8 347.6 483.2 349.8 482.7 352.0 482.2 354.2 481.7 356.5 481.2 358.7 480.8 361.0 480.3 363.2 479.9 365.5 479.4 367.7 478.9 370.0 478.4 372.2 477.8 374.0 476.7 375.0 475.5 376.2 474.3 377.8 473.0 379.5 471.7 381.3 470.4 383.0 469.1 384.7 467.6 386.4 466.2 388.1 464.7 389.8 463.1 391.4 461.5 392.9 459.7 394.4 458.0 395.8 456.1 397.1 454.2 398.3 452.3 399.5 450.3 400.6 448.3 401.7 446.2 402.7 444.2 403.7 442.1 404.6 439.9 405.4 437.8 406.2 435.6 406.8 433.4 407.4 431.1 407.8 428.9 408.3 426.6 408.6 424.3 409.0 422.0 409.3 419.7 409.6 417.4 409.8 415.1 410.1 412.8 410.3 410.5 410.5 408.2 410.7 405.9 410.8 403.6 410.9 401.3 411.1 399.0 411.2 396.7 411.3 394.4 411.4 392.1 411.5 389.8 411.5 387.4 411.6 385.1 411.7 382.8 411.7 380.5 411.8 378.2 411.8 375.9 411.9 373.6 411.9 371.3 412.0 368.9 412.0 366.6 412.1 364.3 412.1 362.0 458.8 361.3 458.8 519.7 323.0 519.7Z" fill="#fe2c39"/><path d="M323.0 499.0L325.5 498.8 328.0 498.6 330.5 498.4 333.0 498.1 335.4 497.8 337.9 497.4 340.3 497.1 342.8 496.7 345.2 496.4 347.7 496.0 350.1 495.7 352.6 495.3 355.1 495.0 357.5 494.7 360.0 494.4 362.5 494.0 365.0 493.7 367.4 493.4 369.9 493.1 372.4 492.7 374.9 492.2 377.3 491.5 378.8 490.0 379.0 488.5 379.4 486.8 380.6 485.0 382.1 483.2 383.6 481.4 385.2 479.6 386.8 477.8 388.4 476.0 390.1 474.2 391.7 472.3 393.3 470.4 394.9 468.4 396.4 466.4 397.9 464.4 399.3 462.3 400.6 460.1 401.9 458.0 403.2 455.8 404.4 453.6 405.6 451.4 406.8 449.2 407.9 446.9 408.9 444.6 409.7 442.2 410.5 439.8 411.1 437.4 411.7 434.9 412.1 432.5 412.5 430.0 412.8 427.5 413.1 425.0 413.3 422.4 413.6 419.9 413.8 417.4 413.9 414.9 414.1 412.4 414.2 409.9 414.3 407.4 414.4 404.8 414.5 402.3 414.6 399.8 414.7 397.3 414.7 394.8 414.8 392.3 414.9 389.7 414.9 387.2 414.9 384.7 415.0 382.2 415.0 379.6 415.1 377.1 415.1 374.6 415.1 372.1 415.2 369.6 415.2 367.0 415.2 364.5 415.2 362.0 458.8 361.3 458.8 519.7 323.0 519.7Z" fill="#fc2938"/><path d="M323.0 509.5L325.7 509.4 328.4 509.3 331.1 509.2 333.9 509.1 336.5 509.0 339.2 508.9 341.9 508.7 344.6 508.6 347.3 508.4 350.0 508.3 352.7 508.1 355.4 508.0 358.1 507.8 360.8 507.7 363.5 507.5 366.2 507.3 368.9 507.2 371.7 507.0 374.4 506.7 377.1 506.4 379.8 506.0 382.4 505.3 383.7 503.4 383.0 501.4 382.5 499.3 383.5 497.0 384.7 494.7 386.0 492.4 387.4 490.2 388.9 488.0 390.4 485.8 392.1 483.7 393.7 481.5 395.3 479.3 396.9 477.1 398.5 474.9 400.0 472.6 401.4 470.3 402.9 468.0 404.3 465.7 405.7 463.4 407.2 461.0 408.5 458.7 409.9 456.3 411.2 453.9 412.3 451.4 413.3 448.9 414.1 446.3 414.9 443.7 415.5 441.0 415.9 438.3 416.3 435.6 416.6 432.9 416.9 430.2 417.1 427.5 417.3 424.7 417.5 422.0 417.6 419.3 417.7 416.6 417.8 413.8 417.8 411.1 417.9 408.4 418.0 405.7 418.0 402.9 418.1 400.2 418.1 397.5 418.1 394.8 418.2 392.0 418.2 389.3 418.2 386.6 418.2 383.8 418.2 381.1 418.3 378.4 418.3 375.6 418.3 372.9 418.3 370.2 418.3 367.5 418.4 364.7 418.4 362.0 458.8 361.3 458.8 519.7 323.0 519.7Z" fill="#fa2537"/><path d="M323.0 520.0L330.3 520.1 341.0 520.3 353.4 520.6 365.8 520.7 376.6 520.5 384.0 520.0 387.7 519.0 388.8 517.7 388.3 516.2 387.1 514.5 385.9 512.7 385.6 511.0 386.2 509.3 386.8 507.4 387.6 505.5 388.4 503.5 389.2 501.7 390.0 500.0 390.8 498.5 391.6 497.0 392.4 495.7 393.3 494.3 394.1 493.0 395.0 491.7 395.9 490.4 396.7 489.1 397.6 487.8 398.4 486.5 399.3 485.2 400.3 483.7 401.3 482.1 402.5 480.3 403.6 478.4 404.8 476.5 405.9 474.8 406.9 473.1 407.8 471.6 408.7 470.2 409.6 468.9 410.4 467.6 411.2 466.3 412.0 465.0 412.8 463.7 413.5 462.5 414.2 461.3 414.9 460.0 415.6 458.7 416.2 457.2 416.8 455.6 417.4 453.9 418.0 452.1 418.6 450.2 419.1 448.2 419.5 446.0 419.9 443.7 420.2 441.2 420.4 438.6 420.6 435.8 420.8 433.0 421.0 430.0 421.1 427.2 421.2 424.7 421.3 422.0 421.3 418.9 421.4 415.0 421.4 410.0 421.4 403.1 421.5 394.3 421.5 384.8 421.5 375.5 421.5 367.5 421.5 362.0 458.8 361.3 458.8 519.7 323.0 519.7Z" fill="#f62035"/></g><path d="M427.0 362.0L427.0 474.0 421.0 480.0 420.9 512.0 460.0 520.0 460.0 362.0Z" fill="#1f08da"/><path d="M422.3 362.0L427.1 362.0 427.1 476.0 421.5 490.0 421.0 512.0 415.2 512.0 416.5 490.0 420.0 474.0 422.3 460.0Z" fill="#000"/><path d="M422.6 403.0L426.8 403.0 426.8 426.0 422.6 426.0Z" fill="#dfe6f0"/><path d="M422.4 447.0L426.8 447.0 426.8 468.0 422.4 468.0Z" fill="#dfe6f0"/><mask id="mk22" maskUnits="userSpaceOnUse" x="321.0" y="359.3" width="139.8" height="162.4"><rect x="321.0" y="359.3" width="139.8" height="162.4" fill="#fff"/><rect transform="translate(393 439.5) rotate(-65)" x="-8.0" y="-9.5" width="15.9" height="10.3" fill="#000"/><rect transform="translate(414.3 470) rotate(-58)" x="-8.0" y="-9.5" width="15.9" height="10.3" fill="#000"/><rect transform="translate(421 414.5) rotate(90)" x="-6.4" y="-7.3" width="12.8" height="8.0" fill="#000"/><rect transform="translate(420.8 457.5) rotate(90)" x="-6.4" y="-7.3" width="12.8" height="8.0" fill="#000"/></mask><g mask="url(#mk22)"><path d="M323.0 456.0L323.8 455.8 324.8 455.6 326.1 455.4 327.5 455.0 329.0 454.7 330.6 454.2 332.2 453.6 333.8 452.9 335.5 452.2 337.4 451.4 339.5 450.6 341.9 450.0 344.7 449.5 347.9 449.0 351.3 448.6 354.8 448.2 358.3 447.7 361.7 447.2 365.1 446.6 368.6 446.0 372.1 445.4 375.5 444.7 378.6 443.9 381.4 443.0 383.8 442.1 386.0 441.2 387.9 440.2 389.7 439.0 391.2 437.6 392.7 435.9 394.0 433.9 395.1 431.8 396.0 429.5 396.9 426.8 397.6 423.8 398.3 420.4 399.0 416.4 399.5 411.7 400.0 406.7 400.4 401.7 400.8 396.7 401.1 392.2 401.3 387.9 401.5 383.7 401.6 379.6 401.6 375.8 401.7 372.4 401.7 369.6 401.7 367.4 401.8 365.7 401.8 364.4 401.8 363.4 401.8 362.7 401.8 362.0" fill="none" stroke="#000" stroke-width="1.4"/><path d="M323.0 520.0L330.3 520.1 341.0 520.3 353.4 520.6 365.8 520.7 376.6 520.5 384.0 520.0 387.7 519.0 388.8 517.7 388.3 516.2 387.1 514.5 385.9 512.7 385.6 511.0 386.2 509.3 386.8 507.4 387.6 505.5 388.4 503.5 389.2 501.7 390.0 500.0 390.8 498.5 391.6 497.0 392.4 495.7 393.3 494.3 394.1 493.0 395.0 491.7 395.9 490.4 396.7 489.1 397.6 487.8 398.4 486.5 399.3 485.2 400.3 483.7 401.3 482.1 402.5 480.3 403.6 478.4 404.8 476.5 405.9 474.8 406.9 473.1 407.8 471.6 408.7 470.2 409.6 468.9 410.4 467.6 411.2 466.3 412.0 465.0 412.8 463.7 413.5 462.5 414.2 461.3 414.9 460.0 415.6 458.7 416.2 457.2 416.8 455.6 417.4 453.9 418.0 452.1 418.6 450.2 419.1 448.2 419.5 446.0 419.9 443.7 420.2 441.2 420.4 438.6 420.6 435.8 420.8 433.0 421.0 430.0 421.1 427.2 421.2 424.7 421.3 422.0 421.3 418.9 421.4 415.0 421.4 410.0 421.4 403.1 421.5 394.3 421.5 384.8 421.5 375.5 421.5 367.5 421.5 362.0" fill="none" stroke="#000" stroke-width="1.4"/></g><text transform="translate(393 439.5) rotate(-65) scale(1 1.12)" font-size="11" text-anchor="middle" style="stroke:#000;stroke-width:0.35px;fill:#000">2.2</text><text transform="translate(414.3 470) rotate(-58) scale(1 1.12)" font-size="11" text-anchor="middle" style="stroke:#000;stroke-width:0.35px;fill:#000">2.6</text><text transform="translate(421 414.5) rotate(90) scale(1 1.12)" font-size="8.5" text-anchor="middle" style="stroke:#000;stroke-width:0.35px;fill:#000">0.2</text><text transform="translate(420.8 457.5) rotate(90) scale(1 1.12)" font-size="8.5" text-anchor="middle" style="stroke:#000;stroke-width:0.35px;fill:#000">0.6</text></g><path d="M331.00 511.70v-5.2M331.00 369.30v5.2M331.00 511.70h5.2M450.80 511.70h-5.2M336.99 511.70v-3.0M336.99 369.30v3.0M331.00 504.58h3.0M450.80 504.58h-3.0M342.98 511.70v-3.0M342.98 369.30v3.0M331.00 497.46h3.0M450.80 497.46h-3.0M348.97 511.70v-3.0M348.97 369.30v3.0M331.00 490.34h3.0M450.80 490.34h-3.0M354.96 511.70v-3.0M354.96 369.30v3.0M331.00 483.22h3.0M450.80 483.22h-3.0M360.95 511.70v-5.2M360.95 369.30v5.2M331.00 476.10h5.2M450.80 476.10h-5.2M366.94 511.70v-3.0M366.94 369.30v3.0M331.00 468.98h3.0M450.80 468.98h-3.0M372.93 511.70v-3.0M372.93 369.30v3.0M331.00 461.86h3.0M450.80 461.86h-3.0M378.92 511.70v-3.0M378.92 369.30v3.0M331.00 454.74h3.0M450.80 454.74h-3.0M384.91 511.70v-3.0M384.91 369.30v3.0M331.00 447.62h3.0M450.80 447.62h-3.0M390.90 511.70v-5.2M390.90 369.30v5.2M331.00 440.50h5.2M450.80 440.50h-5.2M396.89 511.70v-3.0M396.89 369.30v3.0M331.00 433.38h3.0M450.80 433.38h-3.0M402.88 511.70v-3.0M402.88 369.30v3.0M331.00 426.26h3.0M450.80 426.26h-3.0M408.87 511.70v-3.0M408.87 369.30v3.0M331.00 419.14h3.0M450.80 419.14h-3.0M414.86 511.70v-3.0M414.86 369.30v3.0M331.00 412.02h3.0M450.80 412.02h-3.0M420.85 511.70v-5.2M420.85 369.30v5.2M331.00 404.90h5.2M450.80 404.90h-5.2M426.84 511.70v-3.0M426.84 369.30v3.0M331.00 397.78h3.0M450.80 397.78h-3.0M432.83 511.70v-3.0M432.83 369.30v3.0M331.00 390.66h3.0M450.80 390.66h-3.0M438.82 511.70v-3.0M438.82 369.30v3.0M331.00 383.54h3.0M450.80 383.54h-3.0M444.81 511.70v-3.0M444.81 369.30v3.0M331.00 376.42h3.0M450.80 376.42h-3.0M450.80 511.70v-5.2M450.80 369.30v5.2M331.00 369.30h5.2M450.80 369.30h-5.2" stroke="#000" stroke-width="1.25" fill="none"/><rect x="331.0" y="369.3" width="119.80" height="142.40" fill="none" stroke="#000" stroke-width="1.6"/><text transform="translate(332.40 525.40) scale(1 1.15)" font-size="10.5" text-anchor="middle">−2</text><text transform="translate(362.35 525.40) scale(1 1.15)" font-size="10.5" text-anchor="middle">−1</text><text transform="translate(390.90 525.40) scale(1 1.15)" font-size="10.5" text-anchor="middle">0</text><text transform="translate(420.85 525.40) scale(1 1.15)" font-size="10.5" text-anchor="middle">1</text><text transform="translate(450.80 525.40) scale(1 1.15)" font-size="10.5" text-anchor="middle">2</text><rect x="451.5" y="382.7" width="13.10" height="115.50" fill="url(#cbg)"/><text transform="translate(468.10 387.20) scale(1 1.15)" font-size="10.5">3</text><text transform="translate(468.10 416.07) scale(1 1.15)" font-size="10.5">2</text><text transform="translate(468.10 444.95) scale(1 1.15)" font-size="10.5">1</text><text transform="translate(468.10 473.82) scale(1 1.15)" font-size="10.5">0</text><text transform="translate(468.10 502.70) scale(1 1.15)" font-size="10.5">−1</text><text transform="translate(490.5 438.8) rotate(90)" font-size="11.1" text-anchor="middle" style="stroke-width:0.3px">log<tspan font-size="7" dy="1.5">10</tspan><tspan dy="-1.5">(N</tspan><tspan font-size="7" dy="1.5">2</tspan><tspan dy="-1.5">O [ppmv])</tspan></text><text x="243.6" y="540.5" font-size="11.5" text-anchor="middle" style="stroke-width:0.25px">log<tspan font-size="7" dy="2">10</tspan><tspan dy="-2">(τ</tspan><tspan font-size="7.8" dy="1.8">PFR</tspan><tspan dy="-1.8">)</tspan></text><text x="390.9" y="540.5" font-size="11.5" text-anchor="middle" style="stroke-width:0.25px">log<tspan font-size="7" dy="2">10</tspan><tspan dy="-2">(τ</tspan><tspan font-size="7.8" dy="1.8">PFR</tspan><tspan dy="-1.8">)</tspan></text><text transform="translate(37.6 28.5) scale(1 1.1)" font-size="11" font-style="italic">β=<tspan>0.25</tspan></text><text transform="translate(185.1 28.5) scale(1 1.1)" font-size="11" font-style="italic">β=<tspan>0.50</tspan></text><text transform="translate(332.2 28.5) scale(1 1.1)" font-size="11" font-style="italic">β=<tspan>0.75</tspan></text><text x="173.3" y="15" font-size="14" font-style="italic" letter-spacing="0.62" style="stroke-width:0.3px">Φ<tspan font-size="8.5" dy="2">P</tspan><tspan dy="-2">=0.6, Φ</tspan><tspan font-size="8.5" dy="2">S</tspan><tspan dy="-2">=0.2, Φ</tspan><tspan font-size="8.5" dy="2">G</tspan><tspan dy="-2">=0.4, P=1 atm</tspan></text></svg></body></html>
